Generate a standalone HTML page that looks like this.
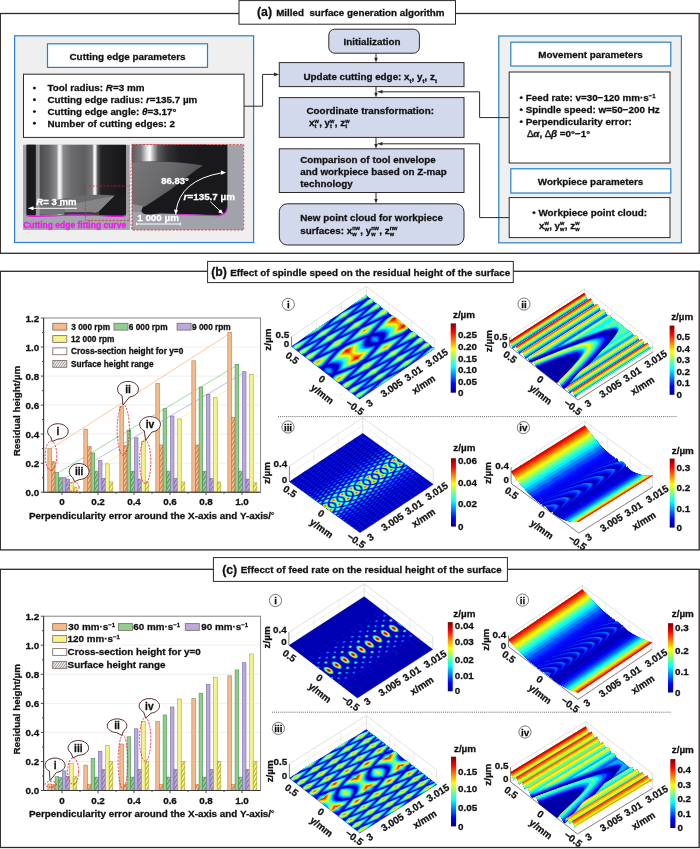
<!DOCTYPE html><html><head><meta charset="utf-8"><title>Milled surface generation</title><style>html,body{margin:0;padding:0;background:#fff}svg{display:block}text{font-family:"Liberation Sans",sans-serif}</style></head><body>
<svg width="700" height="849" viewBox="0 0 700 849">
<rect width="700" height="849" fill="#fff"/>
<rect x="0.3" y="13.5" width="698.9" height="239.8" fill="#fff" stroke="#2e2828" stroke-width="1.3"/>
<rect x="239" y="0.6" width="216.5" height="23.6" fill="#fff" stroke="#2e2828" stroke-width="1"/>
<text x="257" y="16.3" font-size="12.3" text-anchor="start" fill="#111" font-weight="bold"  stroke="#111" stroke-width="0.28">(a)</text>
<text x="276.2" y="16" font-size="9.8" text-anchor="start" fill="#111" font-weight="bold"  stroke="#111" stroke-width="0.28">Milled&#160; surface generation algorithm</text>
<rect x="14.6" y="35.8" width="239" height="206.7" fill="#efeff0" stroke="#2a7fc0" stroke-width="1.2"/>
<rect x="47.5" y="43.8" width="160" height="23.6" fill="#fff" stroke="#2a7fc0" stroke-width="1.2"/>
<text x="127.5" y="60" font-size="9.85" text-anchor="middle" fill="#111" font-weight="bold"  stroke="#111" stroke-width="0.28">Cutting edge parameters</text>
<rect x="23.5" y="74.2" width="220.5" height="63.2" fill="#fff" stroke="#2e2828" stroke-width="1"/>
<circle cx="34.4" cy="88.10000000000001" r="1.45" fill="#111"/>
<text x="47.5" y="91.4" font-size="9.85" text-anchor="start" fill="#111" font-weight="bold"  stroke="#111" stroke-width="0.28">Tool radius: <tspan font-style="italic">R</tspan>=3 mm</text>
<circle cx="34.4" cy="99.8" r="1.45" fill="#111"/>
<text x="47.5" y="103.1" font-size="9.85" text-anchor="start" fill="#111" font-weight="bold"  stroke="#111" stroke-width="0.28">Cutting edge radius: <tspan font-style="italic">r</tspan>=135.7 µm</text>
<circle cx="34.4" cy="111.60000000000001" r="1.45" fill="#111"/>
<text x="47.5" y="114.9" font-size="9.85" text-anchor="start" fill="#111" font-weight="bold"  stroke="#111" stroke-width="0.28">Cutting edge angle: <tspan font-style="italic">θ</tspan>=3.17°</text>
<circle cx="34.4" cy="123.3" r="1.45" fill="#111"/>
<text x="47.5" y="126.6" font-size="9.85" text-anchor="start" fill="#111" font-weight="bold"  stroke="#111" stroke-width="0.28">Number of cutting edges: 2</text>
<rect x="328.8" y="29.2" width="90.6" height="24" rx="6" fill="#d2d9ec" stroke="#2e2828" stroke-width="1"/>
<text x="372" y="44.6" font-size="9.85" text-anchor="middle" fill="#111" font-weight="bold"  stroke="#111" stroke-width="0.28">Initialization</text>
<rect x="279.3" y="62.6" width="184.7" height="24" rx="0" fill="#d2d9ec" stroke="#2e2828" stroke-width="1"/>
<text x="303.5" y="80.2" font-size="9.85" text-anchor="start" fill="#111" font-weight="bold"  stroke="#111" stroke-width="0.28">Update cutting edge: x<tspan dy="2.7" font-size="6">t</tspan><tspan dy="-2.7">, y</tspan><tspan dy="2.7" font-size="6">t</tspan><tspan dy="-2.7">, z</tspan><tspan dy="2.7" font-size="6">t</tspan></text>
<rect x="279.3" y="97.6" width="184.7" height="39.8" rx="0" fill="#d2d9ec" stroke="#2e2828" stroke-width="1"/>
<text x="306.5" y="113.6" font-size="9.85" text-anchor="start" fill="#111" font-weight="bold"  stroke="#111" stroke-width="0.28">Coordinate transformation:</text>
<text x="309" y="126.2" font-size="9.85" text-anchor="start" fill="#111" font-weight="bold"  stroke="#111" stroke-width="0.28">x<tspan dy="-3.4" font-size="5.6">w</tspan><tspan dx="-4.36" dy="5.4" font-size="5.6">t</tspan><tspan dx="2.79" dy="-2">, y</tspan><tspan dy="-3.4" font-size="5.6">w</tspan><tspan dx="-4.36" dy="5.4" font-size="5.6">t</tspan><tspan dx="2.79" dy="-2">, z</tspan><tspan dy="-3.4" font-size="5.6">w</tspan><tspan dx="-4.36" dy="5.4" font-size="5.6">t</tspan></text>
<rect x="279.3" y="148.8" width="184.7" height="43.7" rx="0" fill="#d2d9ec" stroke="#2e2828" stroke-width="1"/>
<text x="300.2" y="163" font-size="9.85" text-anchor="start" fill="#111" font-weight="bold"  stroke="#111" stroke-width="0.28">Comparison of tool envelope</text>
<text x="300.2" y="174.8" font-size="9.85" text-anchor="start" fill="#111" font-weight="bold"  stroke="#111" stroke-width="0.28">and workpiece based on Z-map</text>
<text x="300.2" y="186.6" font-size="9.85" text-anchor="start" fill="#111" font-weight="bold"  stroke="#111" stroke-width="0.28">technology</text>
<rect x="279.3" y="203.8" width="184.7" height="41.2" rx="8" fill="#d2d9ec" stroke="#2e2828" stroke-width="1"/>
<text x="300.2" y="221" font-size="9.85" text-anchor="start" fill="#111" font-weight="bold"  stroke="#111" stroke-width="0.28">New point cloud for workpiece</text>
<text x="300.2" y="233.6" font-size="9.85" text-anchor="start" fill="#111" font-weight="bold"  stroke="#111" stroke-width="0.28">surfaces: x<tspan dy="-3.4" font-size="5.6">nw</tspan><tspan dx="-7.78" dy="5.4" font-size="5.6">w</tspan><tspan dx="3.72" dy="-2">, y</tspan><tspan dy="-3.4" font-size="5.6">nw</tspan><tspan dx="-7.78" dy="5.4" font-size="5.6">w</tspan><tspan dx="3.72" dy="-2">, z</tspan><tspan dy="-3.4" font-size="5.6">nw</tspan><tspan dx="-7.78" dy="5.4" font-size="5.6">w</tspan></text>
<path d="M376 53.2V59.4" stroke="#2e2828" stroke-width="1" fill="none"/>
<path d="M374.2 57.8L376 62.4L377.8 57.8Z" fill="#2e2828"/>
<path d="M376 86.6V94.4" stroke="#2e2828" stroke-width="1" fill="none"/>
<path d="M374.2 92.80000000000001L376 97.4L377.8 92.80000000000001Z" fill="#2e2828"/>
<path d="M376 137.4V145.6" stroke="#2e2828" stroke-width="1" fill="none"/>
<path d="M374.2 144.0L376 148.6L377.8 144.0Z" fill="#2e2828"/>
<path d="M376 192.5V200.6" stroke="#2e2828" stroke-width="1" fill="none"/>
<path d="M374.2 199.0L376 203.6L377.8 199.0Z" fill="#2e2828"/>
<path d="M244 106.2H262.6V74.4H275" stroke="#2e2828" stroke-width="1" fill="none"/>
<path d="M274 72.6L279.2 74.4L274 76.2Z" fill="#2e2828"/>
<rect x="498.8" y="36" width="182.6" height="206.8" fill="#efeff0" stroke="#2a7fc0" stroke-width="1.2"/>
<rect x="510.8" y="42.2" width="160" height="23.8" fill="#fff" stroke="#2a7fc0" stroke-width="1.2"/>
<text x="590.5" y="57.8" font-size="9.85" text-anchor="middle" fill="#111" font-weight="bold"  stroke="#111" stroke-width="0.28">Movement parameters</text>
<rect x="509.2" y="72" width="160.8" height="91" fill="#fff" stroke="#2e2828" stroke-width="1"/>
<text x="519.5" y="101" font-size="9.85" text-anchor="start" fill="#111" font-weight="bold"  stroke="#111" stroke-width="0.28">• Feed rate: v=30−120 mm·s<tspan dy="-3.2" font-size="6">−1</tspan></text>
<text x="519.5" y="113" font-size="9.85" text-anchor="start" fill="#111" font-weight="bold"  stroke="#111" stroke-width="0.28">• Spindle speed: w=50−200 Hz</text>
<text x="519.5" y="125" font-size="9.85" text-anchor="start" fill="#111" font-weight="bold"  stroke="#111" stroke-width="0.28">• Perpendicularity error:</text>
<text x="527.3" y="137" font-size="9.85" text-anchor="start" fill="#111" font-weight="bold"  stroke="#111" stroke-width="0.28"><tspan font-weight="normal">∆</tspan><tspan font-style="italic">α</tspan>, <tspan font-weight="normal">∆</tspan><tspan font-style="italic">β</tspan> =0°−1°</text>
<rect x="510.8" y="168.8" width="160" height="24.2" fill="#fff" stroke="#2a7fc0" stroke-width="1.2"/>
<text x="590.5" y="184.6" font-size="9.85" text-anchor="middle" fill="#111" font-weight="bold"  stroke="#111" stroke-width="0.28">Workpiece parameters</text>
<rect x="509.2" y="197.6" width="160.8" height="40" fill="#fff" stroke="#2e2828" stroke-width="1"/>
<text x="532.3" y="216" font-size="9.85" text-anchor="start" fill="#111" font-weight="bold"  stroke="#111" stroke-width="0.28">• Workpiece point cloud:</text>
<text x="539" y="228.6" font-size="9.85" text-anchor="start" fill="#111" font-weight="bold"  stroke="#111" stroke-width="0.28">x<tspan dy="-3.4" font-size="5.6">w</tspan><tspan dx="-4.36" dy="5.4" font-size="5.6">w</tspan><tspan dx="0.30" dy="-2">, y</tspan><tspan dy="-3.4" font-size="5.6">w</tspan><tspan dx="-4.36" dy="5.4" font-size="5.6">w</tspan><tspan dx="0.30" dy="-2">, z</tspan><tspan dy="-3.4" font-size="5.6">w</tspan><tspan dx="-4.36" dy="5.4" font-size="5.6">w</tspan></text>
<path d="M509 117.6H479.6V91.8H381" stroke="#2e2828" stroke-width="1" fill="none"/>
<path d="M382.5 90L377 91.8L382.5 93.6Z" fill="#2e2828"/>
<path d="M509 217.6H479.6V143.8H381" stroke="#2e2828" stroke-width="1" fill="none"/>
<path d="M382.5 142L377 143.8L382.5 145.6Z" fill="#2e2828"/>
<defs>
<linearGradient id="pg1" gradientUnits="userSpaceOnUse" x1="26.6" y1="0" x2="126" y2="0">
<stop offset="0" stop-color="#1b1b1d"/><stop offset="0.085" stop-color="#1d1d1f"/>
<stop offset="0.095" stop-color="#8f8f92"/><stop offset="0.125" stop-color="#a2a2a4"/><stop offset="0.14" stop-color="#4e4e50"/>
<stop offset="0.22" stop-color="#626264"/><stop offset="0.30" stop-color="#8d8d8f"/><stop offset="0.325" stop-color="#f4f4f4"/><stop offset="0.34" stop-color="#f0f0f0"/>
<stop offset="0.37" stop-color="#8a8a8c"/><stop offset="0.45" stop-color="#6c6c6e"/><stop offset="0.58" stop-color="#5e5e60"/><stop offset="0.66" stop-color="#78787a"/>
<stop offset="0.68" stop-color="#fafafa"/><stop offset="0.695" stop-color="#e8e8e8"/><stop offset="0.715" stop-color="#5a5a5c"/><stop offset="0.75" stop-color="#232325"/><stop offset="1" stop-color="#161618"/>
</linearGradient>
<linearGradient id="pg2" gradientUnits="userSpaceOnUse" x1="132" y1="0" x2="205" y2="0">
<stop offset="0" stop-color="#5c5c5e"/><stop offset="0.12" stop-color="#7c7c7e"/><stop offset="0.2" stop-color="#dcdcdc"/><stop offset="0.245" stop-color="#ffffff"/><stop offset="0.29" stop-color="#b4b4b4"/>
<stop offset="0.36" stop-color="#5a5a5c"/><stop offset="0.48" stop-color="#343436"/><stop offset="0.65" stop-color="#1f1f21"/><stop offset="1" stop-color="#19191b"/>
</linearGradient>
<linearGradient id="pg3" gradientUnits="userSpaceOnUse" x1="135" y1="160" x2="190" y2="200">
<stop offset="0" stop-color="#77777a"/><stop offset="0.5" stop-color="#6a6a6c"/><stop offset="1" stop-color="#4a4a4c"/>
</linearGradient>
<clipPath id="pc1"><rect x="23" y="144.6" width="106.8" height="85.4"/></clipPath>
<clipPath id="pc2"><rect x="132" y="144.4" width="111.6" height="85.6"/></clipPath>
</defs>
<g clip-path="url(#pc1)">
<rect x="23" y="144.6" width="106.8" height="85.4" fill="#9d9da6"/>
<rect x="23" y="214" width="106.8" height="16" fill="#a6a6ae"/>
<path d="M26.6 144.6H126V213.5Q126 215.6 123.5 215.6L100 215.2L60 215.4L29 215.6Q26.6 215.6 26.6 213Z" fill="url(#pg1)"/>
<path d="M56 200Q85 193 115 195.5L99 211.5L64.4 212.3V205L40 206V200Z" fill="#6b6b6e"/>
<path d="M64.4 205.5L114.5 195.7L99 211.6L64.4 212.4Z" fill="#858588"/>
<path d="M40 206H64.4V214.6H40Z" fill="#747477"/>
<path d="M64.4 212.3H99L98 215.3H64.4Z" fill="#3a3a3c"/>
<path d="M99 211.5L115 195.5L126 195V215.4H99Z" fill="#1a1a1c"/>
<rect x="26.6" y="144.6" width="9" height="70" fill="#1a1a1c"/>
<path d="M26 214.5Q27 216.6 32 216.4Q55 216.5 70 214.8Q90 214.5 105 216Q120 217 124 216.2Q125.5 216 125.6 214.6" stroke="#e815e8" stroke-width="1.1" fill="none"/>
</g>
<rect x="85.4" y="186" width="44.3" height="34.5" fill="none" stroke="#c8282c" stroke-width="0.8" stroke-dasharray="2.2 1.4" opacity="0.85"/>
<path d="M129.7 186L132.2 144.6M129.7 220.5L132.2 230" stroke="#d4494c" stroke-width="0.6" stroke-dasharray="2 1.4" fill="none"/>
<text x="36.2" y="205" font-size="9.6" text-anchor="start" fill="#fff" font-weight="bold"  stroke="#fff" stroke-width="0.28"><tspan font-style="italic">R</tspan>= 3 mm</text>
<path d="M77 208.3H32" stroke="#fff" stroke-width="1" fill="none"/><path d="M27.8 208.3L33.5 206.3V210.3Z" fill="#fff"/>
<text x="23.2" y="228.2" font-size="8.5" text-anchor="start" fill="#f01af0" font-weight="bold"  stroke="#f01af0" stroke-width="0.28">Cutting edge fitting curve</text>
<g clip-path="url(#pc2)">
<rect x="132" y="144.4" width="111.6" height="85.6" fill="#a2a2ab"/>
<path d="M132 144.4H227.4V207Q227.2 215.2 218 215.6L180 214L160 213.5L150 214.5Q143 215 141 211Q140 207.5 143.5 207L132 208Z" fill="#19191b"/>
<path d="M132 144.4H207V166Q170 160 132 162.2Z" fill="url(#pg2)"/>
<path d="M132 162.2Q170 160 203 165.6L196 170L170 190L145 206.5L132 208.3Z" fill="url(#pg3)"/>
<path d="M132 204L143 206L141 212L132 212Z" fill="#8e8e94"/>
<path d="M177.5 214.4L205 215.2L218 215.6Q227 215 227.4 207" stroke="#e020e0" stroke-width="1.1" fill="none"/>
</g>
<rect x="132" y="144.4" width="111.7" height="85.6" fill="none" stroke="#d03036" stroke-width="0.8" stroke-dasharray="2.2 1.4"/>
<text x="161.3" y="183.6" font-size="9.5" text-anchor="start" fill="#fff" font-weight="bold"  stroke="#fff" stroke-width="0.28">86.83°</text>
<text x="183.6" y="199.8" font-size="9.85" text-anchor="start" fill="#fff" font-weight="bold"  stroke="#fff" stroke-width="0.28"><tspan font-style="italic">r</tspan>=135.7 µm</text>
<text x="137.2" y="221.3" font-size="9.85" text-anchor="start" fill="#fff" font-weight="bold"  stroke="#fff" stroke-width="0.28">1 000 µm</text>
<path d="M136.6 224H180.3M136.6 222.6V225.4M180.3 222.6V225.4" stroke="#fff" stroke-width="1" fill="none"/>
<path d="M176 211.5Q180 180 222 172.8" stroke="#fff" stroke-width="1" fill="none"/>
<path d="M175.7 215L174 209.6L178 209.9Z" fill="#fff"/><path d="M226.2 172.4L220.8 170.6L221.2 174.8Z" fill="#fff"/>
<path d="M210.3 201.7L220.6 211.4" stroke="#fff" stroke-width="1" fill="none"/><path d="M223.3 214L218 212.2L221 209.2Z" fill="#fff"/>
<rect x="0.3" y="271.3" width="698.9" height="278.6" fill="#fff" stroke="#2e2828" stroke-width="1.3"/>
<rect x="207.6" y="261.4" width="305.7" height="21.2" fill="#fff" stroke="#2e2828" stroke-width="1"/>
<text x="211.2" y="276" font-size="12.3" text-anchor="start" fill="#111" font-weight="bold"  stroke="#111" stroke-width="0.28">(b)</text>
<text x="230.2" y="275.6" font-size="9.85" text-anchor="start" fill="#111" font-weight="bold"  stroke="#111" stroke-width="0.28">Effect of spindle speed on the residual height of the surface</text>
<rect x="0.3" y="569.3" width="698.9" height="278.2" fill="#fff" stroke="#2e2828" stroke-width="1.3"/>
<rect x="213.4" y="557.6" width="294" height="23.8" fill="#fff" stroke="#2e2828" stroke-width="1"/>
<text x="222.2" y="573.6" font-size="12.3" text-anchor="start" fill="#111" font-weight="bold"  stroke="#111" stroke-width="0.28">(c)</text>
<text x="240.8" y="573.2" font-size="9.85" text-anchor="start" fill="#111" font-weight="bold"  stroke="#111" stroke-width="0.28">Effecct of feed rate on the residual height of the surface</text>
<defs>
<pattern id="hb0" width="2.9" height="2.9" patternUnits="userSpaceOnUse" patternTransform="rotate(-58)"><rect width="2.9" height="2.9" fill="#f6bb8c"/><rect width="2.9" height="0.85" fill="#b87a4c"/></pattern>
<pattern id="hb1" width="2.9" height="2.9" patternUnits="userSpaceOnUse" patternTransform="rotate(-58)"><rect width="2.9" height="2.9" fill="#90cf90"/><rect width="2.9" height="0.85" fill="#4f8f52"/></pattern>
<pattern id="hb2" width="2.9" height="2.9" patternUnits="userSpaceOnUse" patternTransform="rotate(-58)"><rect width="2.9" height="2.9" fill="#baaadb"/><rect width="2.9" height="0.85" fill="#7c6ca3"/></pattern>
<pattern id="hb3" width="2.9" height="2.9" patternUnits="userSpaceOnUse" patternTransform="rotate(-58)"><rect width="2.9" height="2.9" fill="#f7f38c"/><rect width="2.9" height="0.85" fill="#aaa444"/></pattern>
<pattern id="hbw" width="2" height="2" patternUnits="userSpaceOnUse" patternTransform="rotate(-55)"><rect width="2" height="2" fill="#fff"/><rect width="2" height="0.6" fill="#555"/></pattern>
</defs>
<rect x="43.6" y="318" width="217.00000000000003" height="174.2" fill="#fff"/>
<path d="M43.6 463.2H260.6" stroke="#ebebeb" stroke-width="0.8"/>
<path d="M43.6 434.1H260.6" stroke="#ebebeb" stroke-width="0.8"/>
<path d="M43.6 405.1H260.6" stroke="#ebebeb" stroke-width="0.8"/>
<path d="M43.6 376.1H260.6" stroke="#ebebeb" stroke-width="0.8"/>
<path d="M43.6 347.0H260.6" stroke="#ebebeb" stroke-width="0.8"/>
<path d="M51.1 448.6L231.1 332.5" stroke="#f6bb8c" stroke-width="0.8" fill="none"/>
<path d="M58.4 472.6L238.3 364.5" stroke="#90cf90" stroke-width="0.8" fill="none"/>
<path d="M65.6 477.7L245.6 371.7" stroke="#baaadb" stroke-width="0.8" fill="none"/>
<path d="M72.8 482.8L252.8 374.6" stroke="#f7f38c" stroke-width="0.8" fill="none"/>
<rect x="47.85" y="448.6" width="3.62" height="43.6" fill="#f6bb8c" stroke="#b87a4c" stroke-width="0.6"/>
<rect x="51.47" y="461.7" width="3.62" height="30.5" fill="url(#hb0)" stroke="#b87a4c" stroke-width="0.6"/>
<rect x="55.10" y="472.6" width="3.62" height="19.6" fill="#90cf90" stroke="#4f8f52" stroke-width="0.6"/>
<rect x="58.72" y="477.7" width="3.62" height="14.5" fill="url(#hb1)" stroke="#4f8f52" stroke-width="0.6"/>
<rect x="62.35" y="477.7" width="3.62" height="14.5" fill="#baaadb" stroke="#7c6ca3" stroke-width="0.6"/>
<rect x="65.97" y="479.1" width="3.62" height="13.1" fill="url(#hb2)" stroke="#7c6ca3" stroke-width="0.6"/>
<rect x="69.60" y="482.8" width="3.62" height="9.4" fill="#f7f38c" stroke="#aaa444" stroke-width="0.6"/>
<rect x="73.22" y="487.1" width="3.62" height="5.1" fill="url(#hb3)" stroke="#aaa444" stroke-width="0.6"/>
<rect x="83.85" y="429.1" width="3.62" height="63.1" fill="#f6bb8c" stroke="#b87a4c" stroke-width="0.6"/>
<rect x="87.47" y="446.5" width="3.62" height="45.7" fill="url(#hb0)" stroke="#b87a4c" stroke-width="0.6"/>
<rect x="91.10" y="453.0" width="3.62" height="39.2" fill="#90cf90" stroke="#4f8f52" stroke-width="0.6"/>
<rect x="94.72" y="471.2" width="3.62" height="21.0" fill="url(#hb1)" stroke="#4f8f52" stroke-width="0.6"/>
<rect x="98.35" y="460.3" width="3.62" height="31.9" fill="#baaadb" stroke="#7c6ca3" stroke-width="0.6"/>
<rect x="101.97" y="478.4" width="3.62" height="13.8" fill="url(#hb2)" stroke="#7c6ca3" stroke-width="0.6"/>
<rect x="105.60" y="463.9" width="3.62" height="28.3" fill="#f7f38c" stroke="#aaa444" stroke-width="0.6"/>
<rect x="109.22" y="482.0" width="3.62" height="10.2" fill="url(#hb3)" stroke="#aaa444" stroke-width="0.6"/>
<rect x="119.85" y="406.6" width="3.62" height="85.6" fill="#f6bb8c" stroke="#b87a4c" stroke-width="0.6"/>
<rect x="123.47" y="445.7" width="3.62" height="46.5" fill="url(#hb0)" stroke="#b87a4c" stroke-width="0.6"/>
<rect x="127.10" y="430.5" width="3.62" height="61.7" fill="#90cf90" stroke="#4f8f52" stroke-width="0.6"/>
<rect x="130.72" y="471.2" width="3.62" height="21.0" fill="url(#hb1)" stroke="#4f8f52" stroke-width="0.6"/>
<rect x="134.35" y="437.8" width="3.62" height="54.4" fill="#baaadb" stroke="#7c6ca3" stroke-width="0.6"/>
<rect x="137.97" y="479.1" width="3.62" height="13.1" fill="url(#hb2)" stroke="#7c6ca3" stroke-width="0.6"/>
<rect x="141.60" y="441.4" width="3.62" height="50.8" fill="#f7f38c" stroke="#aaa444" stroke-width="0.6"/>
<rect x="145.22" y="482.0" width="3.62" height="10.2" fill="url(#hb3)" stroke="#aaa444" stroke-width="0.6"/>
<rect x="155.85" y="383.3" width="3.62" height="108.9" fill="#f6bb8c" stroke="#b87a4c" stroke-width="0.6"/>
<rect x="159.47" y="445.0" width="3.62" height="47.2" fill="url(#hb0)" stroke="#b87a4c" stroke-width="0.6"/>
<rect x="163.10" y="408.7" width="3.62" height="83.5" fill="#90cf90" stroke="#4f8f52" stroke-width="0.6"/>
<rect x="166.72" y="471.2" width="3.62" height="21.0" fill="url(#hb1)" stroke="#4f8f52" stroke-width="0.6"/>
<rect x="170.35" y="416.0" width="3.62" height="76.2" fill="#baaadb" stroke="#7c6ca3" stroke-width="0.6"/>
<rect x="173.97" y="478.4" width="3.62" height="13.8" fill="url(#hb2)" stroke="#7c6ca3" stroke-width="0.6"/>
<rect x="177.60" y="418.9" width="3.62" height="73.3" fill="#f7f38c" stroke="#aaa444" stroke-width="0.6"/>
<rect x="181.22" y="482.0" width="3.62" height="10.2" fill="url(#hb3)" stroke="#aaa444" stroke-width="0.6"/>
<rect x="191.85" y="360.8" width="3.62" height="131.4" fill="#f6bb8c" stroke="#b87a4c" stroke-width="0.6"/>
<rect x="195.47" y="445.0" width="3.62" height="47.2" fill="url(#hb0)" stroke="#b87a4c" stroke-width="0.6"/>
<rect x="199.10" y="387.0" width="3.62" height="105.2" fill="#90cf90" stroke="#4f8f52" stroke-width="0.6"/>
<rect x="202.72" y="471.2" width="3.62" height="21.0" fill="url(#hb1)" stroke="#4f8f52" stroke-width="0.6"/>
<rect x="206.35" y="394.2" width="3.62" height="98.0" fill="#baaadb" stroke="#7c6ca3" stroke-width="0.6"/>
<rect x="209.97" y="478.4" width="3.62" height="13.8" fill="url(#hb2)" stroke="#7c6ca3" stroke-width="0.6"/>
<rect x="213.60" y="397.8" width="3.62" height="94.4" fill="#f7f38c" stroke="#aaa444" stroke-width="0.6"/>
<rect x="217.22" y="482.0" width="3.62" height="10.2" fill="url(#hb3)" stroke="#aaa444" stroke-width="0.6"/>
<rect x="227.85" y="332.5" width="3.62" height="159.7" fill="#f6bb8c" stroke="#b87a4c" stroke-width="0.6"/>
<rect x="231.47" y="417.4" width="3.62" height="74.8" fill="url(#hb0)" stroke="#b87a4c" stroke-width="0.6"/>
<rect x="235.10" y="364.5" width="3.62" height="127.7" fill="#90cf90" stroke="#4f8f52" stroke-width="0.6"/>
<rect x="238.72" y="471.2" width="3.62" height="21.0" fill="url(#hb1)" stroke="#4f8f52" stroke-width="0.6"/>
<rect x="242.35" y="371.7" width="3.62" height="120.5" fill="#baaadb" stroke="#7c6ca3" stroke-width="0.6"/>
<rect x="245.97" y="479.1" width="3.62" height="13.1" fill="url(#hb2)" stroke="#7c6ca3" stroke-width="0.6"/>
<rect x="249.60" y="374.6" width="3.62" height="117.6" fill="#f7f38c" stroke="#aaa444" stroke-width="0.6"/>
<rect x="253.22" y="482.8" width="3.62" height="9.4" fill="url(#hb3)" stroke="#aaa444" stroke-width="0.6"/>
<rect x="43.6" y="318" width="217.00000000000003" height="174.2" fill="none" stroke="#7a7a7a" stroke-width="0.9"/>
<path d="M43.6 318V492.2H260.6" fill="none" stroke="#3c3c3c" stroke-width="1.1"/>
<path d="M43.6 492.2h-2.8" stroke="#3c3c3c" stroke-width="0.9"/>
<path d="M43.6 477.7h-1.6" stroke="#3c3c3c" stroke-width="0.9"/>
<path d="M43.6 463.2h-2.8" stroke="#3c3c3c" stroke-width="0.9"/>
<path d="M43.6 448.6h-1.6" stroke="#3c3c3c" stroke-width="0.9"/>
<path d="M43.6 434.1h-2.8" stroke="#3c3c3c" stroke-width="0.9"/>
<path d="M43.6 419.6h-1.6" stroke="#3c3c3c" stroke-width="0.9"/>
<path d="M43.6 405.1h-2.8" stroke="#3c3c3c" stroke-width="0.9"/>
<path d="M43.6 390.6h-1.6" stroke="#3c3c3c" stroke-width="0.9"/>
<path d="M43.6 376.1h-2.8" stroke="#3c3c3c" stroke-width="0.9"/>
<path d="M43.6 361.5h-1.6" stroke="#3c3c3c" stroke-width="0.9"/>
<path d="M43.6 347.0h-2.8" stroke="#3c3c3c" stroke-width="0.9"/>
<path d="M43.6 332.5h-1.6" stroke="#3c3c3c" stroke-width="0.9"/>
<path d="M43.6 318.0h-2.8" stroke="#3c3c3c" stroke-width="0.9"/>
<path d="M62 492.2v2.8" stroke="#3c3c3c" stroke-width="0.9"/>
<path d="M80 492.2v1.6" stroke="#3c3c3c" stroke-width="0.9"/>
<path d="M98 492.2v2.8" stroke="#3c3c3c" stroke-width="0.9"/>
<path d="M116 492.2v1.6" stroke="#3c3c3c" stroke-width="0.9"/>
<path d="M134 492.2v2.8" stroke="#3c3c3c" stroke-width="0.9"/>
<path d="M152 492.2v1.6" stroke="#3c3c3c" stroke-width="0.9"/>
<path d="M170 492.2v2.8" stroke="#3c3c3c" stroke-width="0.9"/>
<path d="M188 492.2v1.6" stroke="#3c3c3c" stroke-width="0.9"/>
<path d="M206 492.2v2.8" stroke="#3c3c3c" stroke-width="0.9"/>
<path d="M224 492.2v1.6" stroke="#3c3c3c" stroke-width="0.9"/>
<path d="M242 492.2v2.8" stroke="#3c3c3c" stroke-width="0.9"/>
<text x="39.3" y="495.7" font-size="9.85" text-anchor="end" fill="#111" font-weight="bold"  stroke="#111" stroke-width="0.28">0.0</text>
<text x="39.3" y="466.66666666666663" font-size="9.85" text-anchor="end" fill="#111" font-weight="bold"  stroke="#111" stroke-width="0.28">0.2</text>
<text x="39.3" y="437.6333333333333" font-size="9.85" text-anchor="end" fill="#111" font-weight="bold"  stroke="#111" stroke-width="0.28">0.4</text>
<text x="39.3" y="408.59999999999997" font-size="9.85" text-anchor="end" fill="#111" font-weight="bold"  stroke="#111" stroke-width="0.28">0.6</text>
<text x="39.3" y="379.56666666666666" font-size="9.85" text-anchor="end" fill="#111" font-weight="bold"  stroke="#111" stroke-width="0.28">0.8</text>
<text x="39.3" y="350.5333333333333" font-size="9.85" text-anchor="end" fill="#111" font-weight="bold"  stroke="#111" stroke-width="0.28">1.0</text>
<text x="39.3" y="321.5" font-size="9.85" text-anchor="end" fill="#111" font-weight="bold"  stroke="#111" stroke-width="0.28">1.2</text>
<text x="62" y="505.2" font-size="9.85" text-anchor="middle" fill="#111" font-weight="bold"  stroke="#111" stroke-width="0.28">0</text>
<text x="98" y="505.2" font-size="9.85" text-anchor="middle" fill="#111" font-weight="bold"  stroke="#111" stroke-width="0.28">0.2</text>
<text x="134" y="505.2" font-size="9.85" text-anchor="middle" fill="#111" font-weight="bold"  stroke="#111" stroke-width="0.28">0.4</text>
<text x="170" y="505.2" font-size="9.85" text-anchor="middle" fill="#111" font-weight="bold"  stroke="#111" stroke-width="0.28">0.6</text>
<text x="206" y="505.2" font-size="9.85" text-anchor="middle" fill="#111" font-weight="bold"  stroke="#111" stroke-width="0.28">0.8</text>
<text x="242" y="505.2" font-size="9.85" text-anchor="middle" fill="#111" font-weight="bold"  stroke="#111" stroke-width="0.28">1.0</text>
<text x="151.5" y="518.8" font-size="9.85" text-anchor="middle" fill="#111" font-weight="bold"  stroke="#111" stroke-width="0.28">Perpendicularity error around the X-axis and Y-axis/<tspan font-size="7.5" dy="-1">°</tspan></text>
<text transform="translate(20.2,411.1) rotate(-90)" font-size="9.85" text-anchor="middle" font-weight="bold" fill="#111" stroke="#111" stroke-width="0.28">Residual height/µm</text>
<rect x="52.8" y="323.3" width="14" height="6.8" fill="#f6bb8c" stroke="#85756a" stroke-width="0.9"/>
<text x="71.3" y="329.7" font-size="8.3" text-anchor="start" fill="#111" font-weight="bold"  stroke="#111" stroke-width="0.28">3 000 rpm</text>
<rect x="114" y="323.3" width="14" height="6.8" fill="#90cf90" stroke="#85756a" stroke-width="0.9"/>
<text x="128.8" y="329.7" font-size="8.3" text-anchor="start" fill="#111" font-weight="bold"  stroke="#111" stroke-width="0.28">6 000 rpm</text>
<rect x="177.1" y="323.3" width="14" height="6.8" fill="#baaadb" stroke="#85756a" stroke-width="0.9"/>
<text x="192" y="329.7" font-size="8.3" text-anchor="start" fill="#111" font-weight="bold"  stroke="#111" stroke-width="0.28">9 000 rpm</text>
<rect x="52.8" y="335.6" width="14" height="6.8" fill="#f7f38c" stroke="#85756a" stroke-width="0.9"/>
<text x="71" y="342" font-size="8.3" text-anchor="start" fill="#111" font-weight="bold"  stroke="#111" stroke-width="0.28">12 000 rpm</text>
<rect x="52.8" y="347.90000000000003" width="14" height="6.8" fill="#fff" stroke="#85756a" stroke-width="0.9"/>
<text x="71" y="354.3" font-size="8.3" text-anchor="start" fill="#111" font-weight="bold"  stroke="#111" stroke-width="0.28">Cross-section height for y=0</text>
<rect x="52.8" y="360.5" width="14" height="6.8" fill="url(#hbw)" stroke="#85756a" stroke-width="0.9"/>
<text x="71" y="366.9" font-size="8.3" text-anchor="start" fill="#111" font-weight="bold"  stroke="#111" stroke-width="0.28">Surface height range</text>
<ellipse cx="51" cy="455.7" rx="5.8" ry="14.7" fill="none" stroke="#e8262a" stroke-width="0.9" stroke-dasharray="2 1.3"/>
<path d="M57.8 439.1A10.3 7.7 0 1 0 50.7 436.9L52.3 441.4Z" fill="#fff" stroke="#5a2f2f" stroke-width="1" stroke-linejoin="round"/>
<text x="58" y="435.0" font-size="10.2" text-anchor="middle" fill="#111" font-weight="bold"  stroke="#111" stroke-width="0.28">i</text>
<ellipse cx="74" cy="487" rx="5.1" ry="5.1" fill="none" stroke="#e8262a" stroke-width="0.9" stroke-dasharray="2 1.3"/>
<path d="M79.5 479.5A9.9 8 0 1 0 72.6 477.5L74.6 481.7Z" fill="#fff" stroke="#5a2f2f" stroke-width="1" stroke-linejoin="round"/>
<text x="79.2" y="475.1" font-size="10.2" text-anchor="middle" fill="#111" font-weight="bold"  stroke="#111" stroke-width="0.28">iii</text>
<ellipse cx="123.3" cy="430" rx="6.1" ry="25.4" fill="none" stroke="#e8262a" stroke-width="0.9" stroke-dasharray="2 1.3"/>
<path d="M129.6 396.9A10.5 7.8 0 1 0 122.0 395.6L123 405Z" fill="#fff" stroke="#5a2f2f" stroke-width="1" stroke-linejoin="round"/>
<text x="128.1" y="392.8" font-size="10.2" text-anchor="middle" fill="#111" font-weight="bold"  stroke="#111" stroke-width="0.28">ii</text>
<ellipse cx="145.2" cy="461.6" rx="5.6" ry="21.7" fill="none" stroke="#e8262a" stroke-width="0.9" stroke-dasharray="2 1.3"/>
<path d="M151.8 432.1A10.4 7.8 0 1 0 144.3 430.9L145.6 440.4Z" fill="#fff" stroke="#5a2f2f" stroke-width="1" stroke-linejoin="round"/>
<text x="150" y="428.0" font-size="10.2" text-anchor="middle" fill="#111" font-weight="bold"  stroke="#111" stroke-width="0.28">iv</text>
<defs>
<pattern id="hc0" width="2.9" height="2.9" patternUnits="userSpaceOnUse" patternTransform="rotate(-58)"><rect width="2.9" height="2.9" fill="#f6bb8c"/><rect width="2.9" height="0.85" fill="#b87a4c"/></pattern>
<pattern id="hc1" width="2.9" height="2.9" patternUnits="userSpaceOnUse" patternTransform="rotate(-58)"><rect width="2.9" height="2.9" fill="#90cf90"/><rect width="2.9" height="0.85" fill="#4f8f52"/></pattern>
<pattern id="hc2" width="2.9" height="2.9" patternUnits="userSpaceOnUse" patternTransform="rotate(-58)"><rect width="2.9" height="2.9" fill="#baaadb"/><rect width="2.9" height="0.85" fill="#7c6ca3"/></pattern>
<pattern id="hc3" width="2.9" height="2.9" patternUnits="userSpaceOnUse" patternTransform="rotate(-58)"><rect width="2.9" height="2.9" fill="#f7f38c"/><rect width="2.9" height="0.85" fill="#aaa444"/></pattern>
<pattern id="hcw" width="2" height="2" patternUnits="userSpaceOnUse" patternTransform="rotate(-55)"><rect width="2" height="2" fill="#fff"/><rect width="2" height="0.6" fill="#555"/></pattern>
</defs>
<rect x="43.6" y="616.2" width="217.00000000000003" height="174.29999999999995" fill="#fff"/>
<path d="M43.6 761.5H260.6" stroke="#ebebeb" stroke-width="0.8"/>
<path d="M43.6 732.4H260.6" stroke="#ebebeb" stroke-width="0.8"/>
<path d="M43.6 703.4H260.6" stroke="#ebebeb" stroke-width="0.8"/>
<path d="M43.6 674.3H260.6" stroke="#ebebeb" stroke-width="0.8"/>
<path d="M43.6 645.2H260.6" stroke="#ebebeb" stroke-width="0.8"/>
<rect x="47.85" y="784.0" width="3.62" height="6.5" fill="#f6bb8c" stroke="#b87a4c" stroke-width="0.6"/>
<rect x="51.47" y="784.7" width="3.62" height="5.8" fill="url(#hc0)" stroke="#b87a4c" stroke-width="0.6"/>
<rect x="55.10" y="776.7" width="3.62" height="13.8" fill="#90cf90" stroke="#4f8f52" stroke-width="0.6"/>
<rect x="58.72" y="777.7" width="3.62" height="12.8" fill="url(#hc1)" stroke="#4f8f52" stroke-width="0.6"/>
<rect x="62.35" y="770.9" width="3.62" height="19.6" fill="#baaadb" stroke="#7c6ca3" stroke-width="0.6"/>
<rect x="65.97" y="776.3" width="3.62" height="14.2" fill="url(#hc2)" stroke="#7c6ca3" stroke-width="0.6"/>
<rect x="69.60" y="763.5" width="3.62" height="27.0" fill="#f7f38c" stroke="#aaa444" stroke-width="0.6"/>
<rect x="73.22" y="776.8" width="3.62" height="13.7" fill="url(#hc3)" stroke="#aaa444" stroke-width="0.6"/>
<rect x="83.85" y="765.1" width="3.62" height="25.4" fill="#f6bb8c" stroke="#b87a4c" stroke-width="0.6"/>
<rect x="87.47" y="784.7" width="3.62" height="5.8" fill="url(#hc0)" stroke="#b87a4c" stroke-width="0.6"/>
<rect x="91.10" y="758.5" width="3.62" height="32.0" fill="#90cf90" stroke="#4f8f52" stroke-width="0.6"/>
<rect x="94.72" y="777.1" width="3.62" height="13.4" fill="url(#hc1)" stroke="#4f8f52" stroke-width="0.6"/>
<rect x="98.35" y="751.3" width="3.62" height="39.2" fill="#baaadb" stroke="#7c6ca3" stroke-width="0.6"/>
<rect x="101.97" y="769.4" width="3.62" height="21.1" fill="url(#hc2)" stroke="#7c6ca3" stroke-width="0.6"/>
<rect x="105.60" y="745.5" width="3.62" height="45.0" fill="#f7f38c" stroke="#aaa444" stroke-width="0.6"/>
<rect x="109.22" y="761.5" width="3.62" height="29.0" fill="url(#hc3)" stroke="#aaa444" stroke-width="0.6"/>
<rect x="119.85" y="744.0" width="3.62" height="46.5" fill="#f6bb8c" stroke="#b87a4c" stroke-width="0.6"/>
<rect x="123.47" y="784.7" width="3.62" height="5.8" fill="url(#hc0)" stroke="#b87a4c" stroke-width="0.6"/>
<rect x="127.10" y="736.8" width="3.62" height="53.7" fill="#90cf90" stroke="#4f8f52" stroke-width="0.6"/>
<rect x="130.72" y="777.1" width="3.62" height="13.4" fill="url(#hc1)" stroke="#4f8f52" stroke-width="0.6"/>
<rect x="134.35" y="728.8" width="3.62" height="61.7" fill="#baaadb" stroke="#7c6ca3" stroke-width="0.6"/>
<rect x="137.97" y="769.4" width="3.62" height="21.1" fill="url(#hc2)" stroke="#7c6ca3" stroke-width="0.6"/>
<rect x="141.60" y="721.5" width="3.62" height="69.0" fill="#f7f38c" stroke="#aaa444" stroke-width="0.6"/>
<rect x="145.22" y="761.5" width="3.62" height="29.0" fill="url(#hc3)" stroke="#aaa444" stroke-width="0.6"/>
<rect x="155.85" y="721.5" width="3.62" height="69.0" fill="#f6bb8c" stroke="#b87a4c" stroke-width="0.6"/>
<rect x="159.47" y="784.7" width="3.62" height="5.8" fill="url(#hc0)" stroke="#b87a4c" stroke-width="0.6"/>
<rect x="163.10" y="715.0" width="3.62" height="75.5" fill="#90cf90" stroke="#4f8f52" stroke-width="0.6"/>
<rect x="166.72" y="777.1" width="3.62" height="13.4" fill="url(#hc1)" stroke="#4f8f52" stroke-width="0.6"/>
<rect x="170.35" y="707.0" width="3.62" height="83.5" fill="#baaadb" stroke="#7c6ca3" stroke-width="0.6"/>
<rect x="173.97" y="769.4" width="3.62" height="21.1" fill="url(#hc2)" stroke="#7c6ca3" stroke-width="0.6"/>
<rect x="177.60" y="699.0" width="3.62" height="91.5" fill="#f7f38c" stroke="#aaa444" stroke-width="0.6"/>
<rect x="181.22" y="761.5" width="3.62" height="29.0" fill="url(#hc3)" stroke="#aaa444" stroke-width="0.6"/>
<rect x="191.85" y="698.3" width="3.62" height="92.2" fill="#f6bb8c" stroke="#b87a4c" stroke-width="0.6"/>
<rect x="195.47" y="784.7" width="3.62" height="5.8" fill="url(#hc0)" stroke="#b87a4c" stroke-width="0.6"/>
<rect x="199.10" y="693.2" width="3.62" height="97.3" fill="#90cf90" stroke="#4f8f52" stroke-width="0.6"/>
<rect x="202.72" y="777.1" width="3.62" height="13.4" fill="url(#hc1)" stroke="#4f8f52" stroke-width="0.6"/>
<rect x="206.35" y="684.5" width="3.62" height="106.0" fill="#baaadb" stroke="#7c6ca3" stroke-width="0.6"/>
<rect x="209.97" y="769.4" width="3.62" height="21.1" fill="url(#hc2)" stroke="#7c6ca3" stroke-width="0.6"/>
<rect x="213.60" y="677.2" width="3.62" height="113.3" fill="#f7f38c" stroke="#aaa444" stroke-width="0.6"/>
<rect x="217.22" y="761.5" width="3.62" height="29.0" fill="url(#hc3)" stroke="#aaa444" stroke-width="0.6"/>
<rect x="227.85" y="675.8" width="3.62" height="114.7" fill="#f6bb8c" stroke="#b87a4c" stroke-width="0.6"/>
<rect x="231.47" y="784.7" width="3.62" height="5.8" fill="url(#hc0)" stroke="#b87a4c" stroke-width="0.6"/>
<rect x="235.10" y="669.9" width="3.62" height="120.6" fill="#90cf90" stroke="#4f8f52" stroke-width="0.6"/>
<rect x="238.72" y="777.1" width="3.62" height="13.4" fill="url(#hc1)" stroke="#4f8f52" stroke-width="0.6"/>
<rect x="242.35" y="662.7" width="3.62" height="127.8" fill="#baaadb" stroke="#7c6ca3" stroke-width="0.6"/>
<rect x="245.97" y="769.4" width="3.62" height="21.1" fill="url(#hc2)" stroke="#7c6ca3" stroke-width="0.6"/>
<rect x="249.60" y="654.0" width="3.62" height="136.5" fill="#f7f38c" stroke="#aaa444" stroke-width="0.6"/>
<rect x="253.22" y="761.5" width="3.62" height="29.0" fill="url(#hc3)" stroke="#aaa444" stroke-width="0.6"/>
<rect x="43.6" y="616.2" width="217.00000000000003" height="174.29999999999995" fill="none" stroke="#7a7a7a" stroke-width="0.9"/>
<path d="M43.6 616.2V790.5H260.6" fill="none" stroke="#3c3c3c" stroke-width="1.1"/>
<path d="M43.6 790.5h-2.8" stroke="#3c3c3c" stroke-width="0.9"/>
<path d="M43.6 776.0h-1.6" stroke="#3c3c3c" stroke-width="0.9"/>
<path d="M43.6 761.5h-2.8" stroke="#3c3c3c" stroke-width="0.9"/>
<path d="M43.6 746.9h-1.6" stroke="#3c3c3c" stroke-width="0.9"/>
<path d="M43.6 732.4h-2.8" stroke="#3c3c3c" stroke-width="0.9"/>
<path d="M43.6 717.9h-1.6" stroke="#3c3c3c" stroke-width="0.9"/>
<path d="M43.6 703.4h-2.8" stroke="#3c3c3c" stroke-width="0.9"/>
<path d="M43.6 688.8h-1.6" stroke="#3c3c3c" stroke-width="0.9"/>
<path d="M43.6 674.3h-2.8" stroke="#3c3c3c" stroke-width="0.9"/>
<path d="M43.6 659.8h-1.6" stroke="#3c3c3c" stroke-width="0.9"/>
<path d="M43.6 645.2h-2.8" stroke="#3c3c3c" stroke-width="0.9"/>
<path d="M43.6 630.7h-1.6" stroke="#3c3c3c" stroke-width="0.9"/>
<path d="M43.6 616.2h-2.8" stroke="#3c3c3c" stroke-width="0.9"/>
<path d="M62 790.5v2.8" stroke="#3c3c3c" stroke-width="0.9"/>
<path d="M80 790.5v1.6" stroke="#3c3c3c" stroke-width="0.9"/>
<path d="M98 790.5v2.8" stroke="#3c3c3c" stroke-width="0.9"/>
<path d="M116 790.5v1.6" stroke="#3c3c3c" stroke-width="0.9"/>
<path d="M134 790.5v2.8" stroke="#3c3c3c" stroke-width="0.9"/>
<path d="M152 790.5v1.6" stroke="#3c3c3c" stroke-width="0.9"/>
<path d="M170 790.5v2.8" stroke="#3c3c3c" stroke-width="0.9"/>
<path d="M188 790.5v1.6" stroke="#3c3c3c" stroke-width="0.9"/>
<path d="M206 790.5v2.8" stroke="#3c3c3c" stroke-width="0.9"/>
<path d="M224 790.5v1.6" stroke="#3c3c3c" stroke-width="0.9"/>
<path d="M242 790.5v2.8" stroke="#3c3c3c" stroke-width="0.9"/>
<text x="39.3" y="794.0" font-size="9.85" text-anchor="end" fill="#111" font-weight="bold"  stroke="#111" stroke-width="0.28">0.0</text>
<text x="39.3" y="764.95" font-size="9.85" text-anchor="end" fill="#111" font-weight="bold"  stroke="#111" stroke-width="0.28">0.2</text>
<text x="39.3" y="735.9" font-size="9.85" text-anchor="end" fill="#111" font-weight="bold"  stroke="#111" stroke-width="0.28">0.4</text>
<text x="39.3" y="706.85" font-size="9.85" text-anchor="end" fill="#111" font-weight="bold"  stroke="#111" stroke-width="0.28">0.6</text>
<text x="39.3" y="677.8000000000001" font-size="9.85" text-anchor="end" fill="#111" font-weight="bold"  stroke="#111" stroke-width="0.28">0.8</text>
<text x="39.3" y="648.75" font-size="9.85" text-anchor="end" fill="#111" font-weight="bold"  stroke="#111" stroke-width="0.28">1.0</text>
<text x="39.3" y="619.7" font-size="9.85" text-anchor="end" fill="#111" font-weight="bold"  stroke="#111" stroke-width="0.28">1.2</text>
<text x="62" y="803.5" font-size="9.85" text-anchor="middle" fill="#111" font-weight="bold"  stroke="#111" stroke-width="0.28">0</text>
<text x="98" y="803.5" font-size="9.85" text-anchor="middle" fill="#111" font-weight="bold"  stroke="#111" stroke-width="0.28">0.2</text>
<text x="134" y="803.5" font-size="9.85" text-anchor="middle" fill="#111" font-weight="bold"  stroke="#111" stroke-width="0.28">0.4</text>
<text x="170" y="803.5" font-size="9.85" text-anchor="middle" fill="#111" font-weight="bold"  stroke="#111" stroke-width="0.28">0.6</text>
<text x="206" y="803.5" font-size="9.85" text-anchor="middle" fill="#111" font-weight="bold"  stroke="#111" stroke-width="0.28">0.8</text>
<text x="242" y="803.5" font-size="9.85" text-anchor="middle" fill="#111" font-weight="bold"  stroke="#111" stroke-width="0.28">1.0</text>
<text x="151.5" y="817.1" font-size="9.85" text-anchor="middle" fill="#111" font-weight="bold"  stroke="#111" stroke-width="0.28">Perpendicularity error around the X-axis and Y-axis/<tspan font-size="7.5" dy="-1">°</tspan></text>
<text transform="translate(20.2,709.35) rotate(-90)" font-size="9.85" text-anchor="middle" font-weight="bold" fill="#111" stroke="#111" stroke-width="0.28">Residual height/µm</text>
<rect x="52.7" y="623.6" width="14" height="6.8" fill="#f6bb8c" stroke="#85756a" stroke-width="0.9"/>
<text x="68.3" y="630" font-size="9.85" text-anchor="start" fill="#111" font-weight="bold"  stroke="#111" stroke-width="0.28">30 mm·s<tspan dy="-3" font-size="6">−1</tspan></text>
<rect x="118.4" y="623.6" width="14" height="6.8" fill="#90cf90" stroke="#85756a" stroke-width="0.9"/>
<text x="133.3" y="630" font-size="9.85" text-anchor="start" fill="#111" font-weight="bold"  stroke="#111" stroke-width="0.28">60 mm·s<tspan dy="-3" font-size="6">−1</tspan></text>
<rect x="185.3" y="623.6" width="14" height="6.8" fill="#baaadb" stroke="#85756a" stroke-width="0.9"/>
<text x="201.3" y="630" font-size="9.85" text-anchor="start" fill="#111" font-weight="bold"  stroke="#111" stroke-width="0.28">90 mm·s<tspan dy="-3" font-size="6">−1</tspan></text>
<rect x="52.7" y="635.6" width="14" height="6.8" fill="#f7f38c" stroke="#85756a" stroke-width="0.9"/>
<text x="67.6" y="642" font-size="9.85" text-anchor="start" fill="#111" font-weight="bold"  stroke="#111" stroke-width="0.28">120 mm·s<tspan dy="-3" font-size="6">−1</tspan></text>
<rect x="52.7" y="648.6" width="14" height="6.8" fill="#fff" stroke="#85756a" stroke-width="0.9"/>
<text x="67.6" y="655" font-size="9.85" text-anchor="start" fill="#111" font-weight="bold"  stroke="#111" stroke-width="0.28">Cross-section height for y=0</text>
<rect x="52.7" y="661.6" width="14" height="6.8" fill="url(#hcw)" stroke="#85756a" stroke-width="0.9"/>
<text x="67.6" y="668" font-size="9.85" text-anchor="start" fill="#111" font-weight="bold"  stroke="#111" stroke-width="0.28">Surface height range</text>
<ellipse cx="50.7" cy="784.3" rx="5.7" ry="3" fill="none" stroke="#e8262a" stroke-width="0.9" stroke-dasharray="2 1.3"/>
<path d="M56.6 772.3A10 7.2 0 1 0 49.4 771.1L50 780.7Z" fill="#fff" stroke="#5a2f2f" stroke-width="1" stroke-linejoin="round"/>
<text x="55.2" y="768.8000000000001" font-size="10.2" text-anchor="middle" fill="#111" font-weight="bold"  stroke="#111" stroke-width="0.28">i</text>
<ellipse cx="73.1" cy="771.1" rx="5.5" ry="13.2" fill="none" stroke="#e8262a" stroke-width="0.9" stroke-dasharray="2 1.3"/>
<path d="M78.4 755.3A10.3 7.4 0 1 0 71.3 753.3L72.9 757.9Z" fill="#fff" stroke="#5a2f2f" stroke-width="1" stroke-linejoin="round"/>
<text x="78.3" y="751.5" font-size="10.2" text-anchor="middle" fill="#111" font-weight="bold"  stroke="#111" stroke-width="0.28">iii</text>
<ellipse cx="122.9" cy="762.1" rx="4.8" ry="26.9" fill="none" stroke="#e8262a" stroke-width="0.9" stroke-dasharray="2 1.3"/>
<path d="M123.5 730.9A9.8 6.9 0 1 0 116.7 732.6L121.9 735.4Z" fill="#fff" stroke="#5a2f2f" stroke-width="1" stroke-linejoin="round"/>
<text x="117.1" y="729.3000000000001" font-size="10.2" text-anchor="middle" fill="#111" font-weight="bold"  stroke="#111" stroke-width="0.28">ii</text>
<ellipse cx="145.2" cy="739.3" rx="5.6" ry="21.7" fill="none" stroke="#e8262a" stroke-width="0.9" stroke-dasharray="2 1.3"/>
<path d="M151.0 713.2A10.2 7.4 0 1 0 143.6 712.0L145.6 718.1Z" fill="#fff" stroke="#5a2f2f" stroke-width="1" stroke-linejoin="round"/>
<text x="149.3" y="709.5" font-size="10.2" text-anchor="middle" fill="#111" font-weight="bold"  stroke="#111" stroke-width="0.28">iv</text>
<path d="M291.5 346.4L366.3 295.9" stroke="#cdcdcd" stroke-width="0.6" fill="none"/>
<path d="M366.3 295.9L434.4 348.6" stroke="#cdcdcd" stroke-width="0.6" fill="none"/>
<path d="M291.5 336.7L366.3 286.2" stroke="#cdcdcd" stroke-width="0.6" fill="none"/>
<path d="M366.3 286.2L434.4 338.9" stroke="#cdcdcd" stroke-width="0.6" fill="none"/>
<path d="M366.3 295.9L366.3 286.2" stroke="#cdcdcd" stroke-width="0.6" fill="none"/>
<path d="M434.4 348.6L434.4 338.9" stroke="#cdcdcd" stroke-width="0.6" fill="none"/>
<path d="M316.4 329.6L316.4 319.9" stroke="#dcdcdc" stroke-width="0.5" fill="none"/>
<path d="M389.0 313.5L389.0 303.8" stroke="#dcdcdc" stroke-width="0.5" fill="none"/>
<path d="M341.4 312.7L341.4 303.0" stroke="#dcdcdc" stroke-width="0.5" fill="none"/>
<path d="M411.7 331.0L411.7 321.3" stroke="#dcdcdc" stroke-width="0.5" fill="none"/>
<path d="M291.5 346.4L291.5 336.7" stroke="#4a4a4a" stroke-width="0.7" fill="none"/>
<path d="M291.5 346.4L359.6 399.1" stroke="#4a4a4a" stroke-width="0.7" fill="none"/>
<path d="M359.6 399.1L434.4 348.6" stroke="#4a4a4a" stroke-width="0.7" fill="none"/>
<g id="s_bi"><path fill="#0000aa" d="M359.6 399.1l26.6-18.6 20.3-13.1 27.9-19.4-2.3-1.2-3.5-3.3-3.4-2.1-3.5-3.2-3.5-2.1-3.4-3.3-3.5-2.1-5.8-5.2-10.3-8.1-5.8-3.7-3.5-3.2-3.4-2.1-3.5-3.2-3.5-2.2-3.4-3.2-3.5-2.2-2.3-2.3-27.9 19.4-20.3 13.1-26.6 18.6 2.3 1.3 3.5 3.1 3.4 2.2 3.5 3.2 3.5 2.2 3.4 3.1 3.5 2.1 6.9 6 10.4 8 4.6 3 3.5 3.3 3.4 2.2 3.5 3.2 3.5 2.1 3.4 3.1 3.5 2.3 2.3 2.3z"/>
<path fill="#0000ff" fill-rule="evenodd" d="M367.2 393.9l18.7-13.2 18.5-11.9-20.9 10.6zM413.5 362.6l20.9-14.6-2.1-1.1-2.5 1.2zM360.1 398.3l2.6-1.4 16.9-15.1 .3-.6-23 11.7-2.4 2.1 2.3 1.3 2.4 2.4zM406.4 367l2.6-1.4 17-15.1 .3-.6-23.1 11.7-17.2 15.5 .8-.2zM381.9 379.4l.9-.5 17.2-15.4-.3-.2-22.5 11.3-17.3 15.5 .3 .3zM428.3 348.1l.9-.5 1.9-1.7-2.4-2.3-2.7-1.6-2.8 1.5-16.9 15.3 .3 .3zM355.4 392.8l1.2-.7 2.5-2.2 14.4-13 .1-.5-23.1 11.5-2.4 2.2 2.4 1.4 2.6 2.4zM401.8 361.5l1.1-.6 2.5-2.3 14.5-13.1 .1-.4-22.9 11.3-17.4 15.8 .7 0zM375.7 374.5l1.3-.9 17.4-15.9-23.8 11.7-18 16.6zM422.1 343.2l.8-.4 1.9-1.7-2.1-2.1-.6-.5-2.7-1.6-2.5 1.2-17.9 16.6zM348.1 388.2l2-1 17.8-16.5-24.4 11.8-2.4 2.2 2.8 1.7 2.7 2.5zM394.5 356.9l2-1 17.7-16.5-24.4 11.8-17.4 16.5zM367.9 369.9l2-1 16.5-15.7 .7-.8-24.6 11.2-16.8 16.7zM414.3 338.6l1.9-1 1.9-1.7-3.1-2.9-3.3-2-2.6 1.1-17 16.9zM340.9 382.7l2.1-1 17-16.8-.7 0-14.8 6.1-10.7 4-2 2.5 4.4 2.8 3.2 3.1zM387.3 351.4l2.1-1 17-16.8-.7 0-16 6.6-9.3 3.2-5.4 6.8-10 10.9-.2 .6zM361.1 362.9l.6-.3 3.6-3.8 1.2-.7 1.2-1.3 6.1-7 4-5.2 0-.4-4.5 1.1-3.1 .3-2.2-.1-1.5-.7-.5-.9-.1-1.6 .7-2.2 1.8-3.2-.6 0-6 2-8.5 3.2-4.6 1.9-1.4 1-5.4 2.3-3.7 3.8-1.4 1-3.8 4.2-5.5 6.6-1.8 2.4 0 .5 3.8-1 3.1-.4 2.4 0 1.6 .6 .9 1.1 .1 1.6-.8 2.3-1.7 3.1 .6 0 6-2 8.4-3.2 4.7-1.9 1.3-1zM407.4 331.6l.7-.3 1.7-1.8-4.7-4.5-4.9-3.5-4.6-3.7-4.7-3-2.7 1.2-3.6 3.8-1.4 1-8 9-3.1 4.2-.1 .5 3.9-1 3.1-.4 2.4 0 1.6 .6 .9 1.1 0 1.5-.8 2.5-1.7 2.9 .7 0 6-2 8.4-3.2 4.6-1.9 1.4-.9zM330.8 376.7l.6-.7 0-.5-1.6 .4zM379.1 342.5l1.1-2 .7-2.1-.1-1.6-.8-1.1-1.6-.5-2.5-.1-4 .7-1.3 .5-1.2 2.4-.5 2 .1 1.2 .8 1.1 1.2 .4 2.2 .2 3-.4zM331.6 374.2l1.2-.5 1.5-3 .3-2.3-.7-1.2-1.4-.7-2.3-.1-3.8 .5-2.1 .7-1.5 3 5.5 4.2zM321.1 369.2l.2 .2 .7-1.2-1.7 .4zM322.4 366.8l.9-.4 5.1-6.5 10.1-11 .2-.6-24.4 11.1-2.6 2.5 3.2 1.9 4.4 4zM368.7 335.5l.9-.4 5.1-6.5 10.2-11.1 .1-.5-24.4 11.2-17.2 16.9 .8-.1 15.8-6.5zM339 347.3l1.9-.9 16.9-16.8-24 11.4-4.7 4.3-12.1 11.4-.7 .9zM385.3 316l1.9-.8 1.8-1.9-3.3-3.1-3.1-1.7-2.8 1.4-16.4 15.5-.7 .9zM312.3 359.5l1.3-.6 17.5-16.6-23.9 11.7-1.6 1.4-1.1 1 2.7 1.5 2.8 2.7zM358.7 328.2l1.2-.6 17.6-16.6-2.1 1-21.9 10.7-17.9 16.6zM331.2 341.4l1.9-1 17.7-16.4-24 12-17.8 16.2zM377.6 310.1l1.8-.9 1.9-1.8-2.7-2.6-2.7-1.5-2.8 1.4-17.7 16.2zM304.4 354.6l2.1-1.2 17.2-15.6-.7 0-22.5 11.4-2.5 2.2 2.6 1.5 2.4 2.3zM350.7 323.3l2.2-1.1 17.2-15.7-.7 0-22.6 11.4-16.8 15.2-.1 .5zM325.2 336l1.3-.7 17-15.4-.2-.3-22.8 11.6-17 15.3 .3 .2zM371.6 304.7l1.2-.7 1.9-1.7-2.7-2.6-2.4-1.3-2.7 1.5-17 15.3 .3 .2zM299 349.1l1.1-.6 17.4-15.6-.9 .2-22.3 11.3-2.4 2.2 2.4 1.4 2.3 2.3zM345.4 317.8l1.1-.6 17.4-15.6-.9 .1-22.3 11.5-16.9 15-.2 .6zM318.7 331.3l1.5-.9 16.1-14.3-18.5 11.9-18.7 13.2zM365.1 299.9l1.4-.7 1.9-1.7-2.1-2.2-20.9 14.6z"/>
<path fill="#0055ff" fill-rule="evenodd" d="M369.8 392.1l16.1-11.4 15.9-10.2-18 9.1zM416.2 360.7l18.2-12.7-1.8-1-2.5 1.3zM360.2 397.7l2.2-1.2 14.6-13 .3-.6-20 10.1-2.5 2.2 2 1.1 2.1 2.1zM406.6 366.4l2.1-1.1 14.7-13.1 .2-.6-20 10.2-15 13.4 .8-.1zM382.1 378.8l15.3-13.6-.3-.2-19.5 9.7-15.1 13.6 .3 .2zM428.5 347.5l2.2-1.9-2-2-2.3-1.4-2.8 1.5-14.7 13.3 .3 .2zM355.6 392.1l15.3-13.6 .1-.5-19.8 9.9-2.7 2.4 2 1.2 2.2 2.1zM402 360.8l15.2-13.6 .2-.5-19.9 9.9-15.2 13.8 .7-.1zM422.5 342.5l1.9-1.8-2.3-2.2-2.3-1.4-2.5 1.2-15.7 14.5zM373.7 375l2.5-1.3 15.6-14.3-21.1 10.5-15.5 14.2zM348.4 387.5l1.4-.7 15.5-14.4-21.4 10.3-2.4 2.2 2.4 1.5 2.3 2.2zM394.8 356.2l1.3-.7 15.6-14.5-21.5 10.4-15.3 14.5zM368.3 369.1l1.2-.6 14.5-13.7 .7-.9-21.7 10-14.9 14.7zM414.7 337.8l1.1-.6 1.9-1.7-2.7-2.5-2.8-1.8-2.6 1.2-15.1 14.9zM341.3 382l1.3-.7 15.2-15-.7 0-11.7 4.9-11 4.1-2 2.6 3.8 2.4 2.8 2.7zM387.7 350.7l1.3-.7 15.2-15-.7 0-10.6 4.4-12.2 4.7-5.9 7.2-7.7 8.3-.1 .5zM359.8 362.5l1.2-.6 2.2-2.4 1.3-.8 .5 0 .6-.6 6.3-7.1 4-5.2 0-.4-4.5 1-3.1 .3-2.1-.1-1.4-.7-.6-.9-.1-1.6 .7-2.1 1.7-3.2-.6 0-7.4 2.5-10.3 4.1-2.1 1.6-3.4 1.5-2.5 2.6-2.1 1.1-1.2 1.3-6.8 7.9-2.5 3.3-.1 .4 3.8-.9 3.1-.4 2.3 .1 1.7 .5 .8 1.1 .1 1.6-.7 2.2-1.7 3.1 .6 0 7.5-2.5 10.2-4.1 .7-.3 .1-.4 1-.5 .2-.4zM406.2 331.1l1.1-.5 1.7-1.8-.5-.6-3.4-3.2-4.9-3.5-4.6-3.7-3.9-2.4-2.7 1.1-2.5 2.6-2.3 1.3-7 8-3.3 4.3 0 .4 3.8-.9 3.1-.4 2.3 .1 1.6 .5 .9 1.1 .1 1.6-.7 2.3-1.7 3 .6 0 7.4-2.5 10.3-4.1 .6-.2 .2-.5 1-.5 .1-.3zM331.6 373.2l.4-.2 .3-.6 .5-2-.1-1.2-.5-.9-1.2-.6-1.9-.2-2.8 .3-1.2 .3-.8 2.2 0 1.3 2.5 2 1.8 0zM378 341.9l.3-.1 .3-.7 .6-2.1-.1-1.2-.8-1-1.2-.5-1.6-.1-2.8 .2-1 .2-.3 .3-.6 1.6-.2 1.4 .3 1.1 .7 .7 1.1 .5 1.6 .1zM321.9 366.2l.8-.4 5.9-7.2 7.7-8.4 .2-.5-21.8 10-2.6 2.4 2.8 1.7 3.8 3.5zM368.3 334.9l.7-.3 5.5-6.7 8.2-9 .1-.5-21.8 10-15.4 15.2 .7-.1 12-5zM339.4 346.5l1-.5 15-14.8-1.3 .4-19.9 9.6-14.7 13.8-.8 .9zM385.8 315.2l1-.5 1.7-1.8-2.8-2.7-2.7-1.5-2.8 1.4-14.4 13.6-.7 .9zM312.7 358.7l15.9-14.8-21 10.3-2.7 2.4 2.3 1.3 2.4 2.3zM359.1 327.4l15.8-14.8-2 1-19 9.3-15.8 14.6zM331.6 340.6l1.1-.6 15.5-14.3-21 10.5-15.6 14.2zM378 309.3l1.1-.5 1.8-1.8-2.3-2.2-2.3-1.3-2.8 1.4-15.5 14.2zM304.7 353.9l1.5-.8 14.9-13.6-.7 0-19.6 9.9-2.4 2.2 2.2 1.3 2 2zM351 322.6l1.5-.8 15-13.7-.7 .1-19.6 9.9-14.6 13.2-.1 .5zM325.4 335.3l.7-.4 14.8-13.4-.2-.2-19.5 9.8-15.1 13.5 .3 .2zM371.8 304l2.5-2.1-2.3-2.2-2-1.1-2.8 1.5-14.7 13.2 .3 .2zM299.2 348.5l15.7-13.9-.9 .1-19.3 9.9-2.5 2.2 2.1 1.2 2 1.9zM345.6 317.2l15.6-13.9-.8 .1-19.1 9.7-14.8 13.2-.3 .6zM318.9 330.6l1-.5 13.8-12.3-15.9 10.2-16.1 11.4zM365.2 299.3l1-.5 1.9-1.7-1.8-1.8-18.2 12.7z"/>
<path fill="#00aaff" fill-rule="evenodd" d="M372.5 390.1l13.4-9.4 13.1-8.5-14.8 7.6zM418.9 358.8l15.5-10.8-1.4-.8-2.5 1.3zM360.5 397l1.5-.8 12.2-10.9 .3-.6-16.9 8.5-2.4 2.2 1.6 .9 1.7 1.7zM406.9 365.7l1.4-.8 12.3-11 .3-.6-16.9 8.7-12.6 11.3 .8-.2zM380 379.3l2.1-1.1 12.5-11.2-.3-.2-16.6 8.4-12.4 11.1 .3 .3zM426.4 348l2-1.1 1.9-1.7-1.6-1.6-1.9-1.2-2.8 1.5-12.3 11.1 .2 .3zM353.6 392.6l2.2-1.2 12.3-11.1 .1-.5-16.9 8.5-2.5 2.2 1.7 1 1.8 1.7zM400 361.3l2.2-1.2 12.3-11.1 .1-.5-17 8.5-12.5 11.4 .7 0zM374.1 374.2l1.7-.9 13.3-12.1-18 8.9-13.1 12.1zM420.5 342.9l1.6-.9 1.9-1.7-1.9-1.8-1.9-1.1-2.5 1.2-13.4 12.3zM348.9 386.7l13.7-12.6-18.3 8.8-2.4 2.3 2 1.2 1.9 1.8zM395.3 355.4l13.7-12.6-18.1 8.6-13.3 12.6zM368.9 368.2l12.5-11.7 .8-1-18.5 8.4-13 12.9zM415.2 336.9l2.1-1.8-2.3-2.1-2.4-1.5-2.6 1.2-13 12.8zM341.8 381.1l13.7-13.3-.7 0-19.8 7.9-2 2.5 3.2 2.1 2.4 2.3zM388.2 349.8l13.7-13.4-.7 .1-10.5 4.3-9.1 3.4-5.8 6.9-6.4 6.8-.1 .5zM355.9 364.2l1-.5 .1-.5 1-.5 .1-.4 2.1-1.1 1.3-1.2 .5 0 .9-.8 .6 .1 .9-.9 5.4-6.1 4.1-5.2 .1-.5-4.6 1-3 .3-2-.2-1.4-.7-.7-1.2 .1-1.7 .7-2.1 1.5-2.7-.6 0-6.2 2.1-11 4.5-1.4 1.2-.1 .3-1.8 .9-1.6 1.5-.6 0-2.3 1.4-6.9 8-2.6 3.4 0 .4 4.3-.9 3.1-.4 2.2 .2 1.4 .7 .7 1.2-.1 1.7-.8 2.2-1.4 2.6 .6 0 4.9-1.6zM402.2 332.9l1-.5 .1-.5 1-.5 .1-.4 2.1-1.1 1.6-1.6 .6 .2-3.6-3.5-4.9-3.5-4.6-3.7-3.4-2.2-1.2 .9-1.2 .5-1.6 1.5-.6 .1-2.2 1.3-6.9 8-2.6 3.4-.1 .4 4.6-1 2.9-.3 2.1 .2 1.5 .7 .6 1.2 0 1.7-.8 2.2-1.5 2.6 .7 0 4.8-1.6zM330.5 372.3l.4-.2 .1-1-.2-.9-.5-.7-.6-.4-1.3-.4-1.9 0-.3 .2-.1 1.4 .7 1.2 1.4 .7zM376.9 341l.3-.2 .2-1-.1-.8-.6-.8-1.4-.7-2.5-.1-.2 .3-.1 1.2 .6 1.3 1.5 .6zM321.4 365.6l.7-.3 5.3-6.4 6.6-7.2 .1-.5-19 8.7-2.6 2.5 2.4 1.4 3.2 3zM367.8 334.3l.6-.3 5.3-6.3 6.7-7.3 .1-.5-19.1 8.7-13.5 13.3 .7-.1 10.4-4.2zM338.3 346.4l1.7-.8 12.8-12.8-18.5 8.8-13 12.5zM384.7 315.1l1.6-.8 1.8-1.8-2.4-2.3-2.3-1.3-2.8 1.5-12.9 12.4zM311.3 358.8l1.4-.7 13.2-12.5-18.2 9-2.4 2.2 1.9 1.1 2 1.9zM357.6 327.5l1.5-.7 13.2-12.5-18.3 9-13.2 12.3zM378.6 308.4l1.9-1.8-1.9-1.8-1.9-1.1-2.8 1.5-13.2 12zM329.9 340.9l2.4-1.3 13.2-12.2-17.9 9-13.2 12.1zM305.1 353.1l.7-.4 12.6-11.5-.7 .1-16.5 8.3-2.4 2.2 1.8 1.1 1.7 1.6zM351.5 321.7l.6-.3 12.6-11.5-.6 .1-16.3 8.1-12.5 11.2-.1 .5zM323.5 335.7l2.2-1.2 12.5-11.2-.3-.2-16.6 8.4-12.4 11.2 .3 .2zM369.8 304.4l2.3-1.1 1.8-1.7-1.9-1.9-1.6-.9-2.8 1.5-12.4 11.1 .3 .2zM297.1 349l2.3-1.3 12.7-11.3-.8 .1-16.3 8.3-2.4 2.2 1.7 1 1.6 1.6zM343.5 317.6l2.3-1.1 12.7-11.4-.9 .1-16.2 8.3-12.2 10.9-.2 .6zM319.2 329.9l11.7-10.4-13.1 8.5-13.4 9.4zM365.6 298.6l2.1-1.8-1.4-1.5-15.5 10.8z"/>
<path fill="#00ffff" fill-rule="evenodd" d="M375.4 388.1l10.5-7.4 10.2-6.6-11.6 5.9zM421.8 356.8l12.6-8.8-1.1-.6-2.4 1.3zM360.9 396.2l.7-.4 9.8-8.7 .2-.6-13.3 6.7-2.7 2.4 1.2 .7 1.3 1.3zM407.3 364.9l.7-.4 9.7-8.7 .3-.6-13.4 6.8-10.4 9.3 .9-.2zM380.5 378.5l1.2-.7 10-9-.3-.2-13.4 6.8-9.8 8.9 .2 .2zM426.9 347.2l1.2-.7 1.9-1.7-1.3-1.2-1.6-.9-2.7 1.4-9.9 8.9 .3 .2zM354.1 391.7l1.3-.7 9.8-8.8 .2-.5-13.7 6.8-2.5 2.3 1.3 .7 1.4 1.3zM400.5 360.4l1.3-.6 9.8-9 .1-.4-13.7 6.9-10 9.1 .6 0zM374.6 373.3l.8-.4 10.9-9.9-14.8 7.3-10.7 9.9zM421 342l.7-.4 1.9-1.7-1.5-1.4-1.5-.9-2.5 1.2-10.9 10.1zM347.2 386.9l1.8-.9 10.8-10.1-15.1 7.3-2.3 2.2 1.5 1 1.5 1.4zM393.6 355.6l1.7-.9 10.9-10.1-15.1 7.3-10.7 10.1zM367.3 368.4l1.4-.7 10.8-10.4-15.6 7.2-10.6 10.4zM413.6 337.1l1.4-.7 1.8-1.7-1.8-1.7-1.9-1.2-2.6 1.1-10.8 10.7zM340.5 381.1l1.3-.6 11.3-11.2-.7 0-16.8 6.8-2.1 2.5 2.7 1.7 2 1.9zM386.9 349.8l1.2-.6 11.4-11.2-.7 0-16.9 6.9-10.1 11.3-.1 .5zM356.5 363.3l1.3-.7 .1-.6 1-.4 .1-.4 1.2-1.1 .6 .2 .6-.6 .5 .2 1.2-1 5.4-6.2 3.4-4.3 .1-.5-4.5 1-3.5 .2-1.5-.2-1.4-.7-.7-1.1 0-1.7 .8-2.2 1.4-2.6-.7 0-6.2 2.2-8.8 3.4-1.1 .6-1.4 1.7-1 .6-1.8 .6-1.3 1-6.1 7-2.6 3.4-.1 .5 4.5-1 2.9-.3 2.1 .2 1.4 .7 .7 1.2-.1 1.7-.7 2.2-1.4 2.6 .7-.1 4.9-1.6zM402.9 332l1.3-.7 .1-.5 .9-.5 .1-.6 .7-.2 .6-.7 .5 .2 .9-.8 .5 0-3.4-3.2-4.9-3.5-4.6-3.7-3.4-2.2-1.5 1.6-2.8 1.3-1.2 .9-6.1 7-2.6 3.4-.1 .5 4.5-1 2.8-.3 2.2 .2 1.4 .7 .7 1.2-.1 1.7-.7 2.2-1.4 2.6 .6-.1 4.9-1.6zM321 365l.5-.3 10.1-11.5 .1-.4-16.1 7.4-2.7 2.4 2 1.2 2.7 2.4zM367.4 333.6l.4-.2 10.2-11.5 .1-.4-16.2 7.4-11.5 11.3 .6-.1zM339 345.4l11.1-10.9-1.3 .5-13.8 6.6-11 10.6zM385.4 314.1l2.2-2.1-1.9-1.8-1.8-1.1-2.9 1.5-10.7 10.3zM311.9 357.9l11.2-10.5-14.7 7.2-2.7 2.4 1.5 .9 1.5 1.5zM358.3 326.5l10.8-10.2-14.4 7-11.1 10.3zM330.5 339.9l1.4-.7 10.8-9.9-14.7 7.3-10.8 9.9zM376.9 308.6l1.3-.6 1.9-1.8-1.5-1.4-1.5-.9-2.8 1.5-10.7 9.8zM303.4 353.3l2-1 10.1-9.2-.7 0-13.2 6.7-2.4 2.2 1.4 .9 1.3 1.2zM349.7 322l2-1 10.2-9.2-.7 0-13.3 6.7-9.7 8.8-.1 .5zM324 334.9l1.3-.7 10-9-.3-.3-13.4 6.9-9.9 8.9 .3 .2zM370.3 303.6l1.4-.7 1.9-1.7-1.6-1.5-1.3-.7-2.7 1.5-9.9 8.9 .3 .2zM297.6 348.1l1.4-.7 10.2-9.2-.8 .2-13 6.6-2.4 2.2 1.3 .8 1.2 1.2zM344 316.8l1.4-.7 10.2-9.2-.8 .2-13.1 6.6-9.6 8.7-.3 .6zM317.2 330.4l1.9-1 8.9-8-10.2 6.6-10.5 7.4zM363.5 299.1l2-1 1.9-1.7-1.1-1.1-12.6 8.8z"/>
<path fill="#55ffaa" fill-rule="evenodd" d="M378.4 386l7.5-5.3 7.3-4.7-8.3 4.2zM424.8 354.7l9.6-6.7-.7-.3-2.5 1.2zM359 396.6l2.3-1.2 7.1-6.4 .3-.6-10.3 5.3-2.4 2.2 1.7 1.3zM405.4 365.3l2.2-1.1 7.2-6.5 .3-.6-10.4 5.3-7.5 6.8 .8-.2zM381 377.6l7.8-6.9-.3-.2-9.8 4.9-7.6 6.8 .3 .3zM427.4 346.3l2.2-1.9-2.1-1.5-2.4 1.2-7.6 6.8 .3 .3zM354.7 390.9l7.6-6.8 .1-.5-10 5-2.7 2.4 1.8 1.4zM401.1 359.5l7.6-6.7 .1-.5-10.1 5-7.8 7 .7 0zM372.9 373.6l2.1-1.1 8.3-7.6-11.4 5.7-8.2 7.5zM419.3 342.3l2-1.1 1.9-1.7-1.1-1-1.1-.7-2.5 1.3-8.4 7.7zM347.9 386l.6-.4 8.5-7.9-11.8 5.8-2.4 2.2 1.1 .7 1.1 1zM394.2 354.6l.7-.3 8.4-7.9-11.8 5.8-8.3 7.8zM368 367.4l8.8-8.4-12.1 5.5-8.6 8.5zM414.3 336.1l2.1-1.8-1.4-1.3-1.4-.9-2.6 1.1-8.6 8.5zM339.2 381.1l2.1-1.1 9.3-9.1-.6 0-13.8 5.6-2.1 2.5 2.1 1.3 1.5 1.5zM385.6 349.8l2.1-1 9.3-9.2-.7 0-13.6 5.5-8.4 9.4-.1 .5zM357.3 362.3l1.5-.8 .1-.6 .6-.3 .6-.6 .6 0 .9-.6 6.2-7.1 2-2.6 .1-.5-4.4 1-2.9 .2-2.1-.2-1.4-.7-.7-1.2 0-1.7 .7-2.1 1.4-2.6-.7 .1-6.3 2.2-7.7 3-.9 .6-.8 .9-1.4 .6-.9 .7-6.1 7-2 2.6-.1 .5 4.4-.9 2.8-.3 2.2 .2 1.4 .7 .7 1.2 0 1.7-.8 2.1-1.3 2.6 .7-.1 3.6-1.2zM403.6 331l1.5-.8 .1-.6 .7-.2 .6-.7 .5 .2 1.2-1-3.1-2.9-4.9-3.5-4.6-3.7-3.1-2-1.3 .8-.7 .9-1 .3-1.4 .9-6.1 7-1.9 2.6-.1 .5 4.4-1 2.8-.2 2.1 .2 1.5 .7 .6 1.2 0 1.7-.7 2.1-1.3 2.6 .6-.1 3.7-1.2zM367.1 332.9l8.4-9.4 .1-.5-13.3 6.1-9.5 9.3 .7 0zM319.2 364.9l1.6-.7 8.4-9.4 0-.4-13.2 6-2.6 2.5 1.5 .9 2.1 1.9zM338 345.1l1-.5 8.4-8.3-12.3 5.8-8.4 8.2zM384.4 313.8l.9-.4 1.8-1.8-1.4-1.4-1.4-.8-2.8 1.5-8.4 8.1zM310.6 357.8l1.3-.6 8.3-7.9-11.7 5.8-2.4 2.2 1.1 .6 1.1 1.1zM357 326.5l1.2-.6 8.4-7.9-11.8 5.8-8.3 7.8zM331.4 338.9l8.3-7.7-11 5.5-8.6 7.7zM377.7 307.6l2-1.8-1.1-1-1.1-.7-2.5 1.3-8.5 7.7zM304 352.4l1-.5 7.5-6.9-.6 0-9.9 5-2.4 2.2 1.8 1.5zM350.4 321.1l.9-.5 7.6-6.9-.7 0-9.9 5.1-7.1 6.5-.1 .4zM324.5 334l7.8-6.9-.2-.3-9.8 5-7.6 6.8 .3 .2zM370.9 302.7l2.3-1.9-2.1-1.6-2.5 1.3-7.5 6.8 .3 .2zM298.1 347.3l8.2-7.2-.9 .2-9.6 4.9-2.4 2.2 1.7 1.4zM344.5 316l8.2-7.2-.9 .2-9.4 4.7-7.3 6.6-.3 .6zM317.7 329.6l1-.6 6.4-5.7-7.3 4.7-7.5 5.3zM364 298.3l1.1-.6 1.9-1.7-.7-.7-9.6 6.7z"/>
<path fill="#aaff55" fill-rule="evenodd" d="M381.4 383.9l8.8-5.9-4.9 2.4zM427.8 352.6l6.6-4.6-.3-.1-2.5 1.2zM359.6 395.7l1.3-.7 4.5-4 .3-.6-6.9 3.5-2.4 2.2 .9 .8zM405.9 364.4l1.3-.6 4.6-4.1 .2-.6-6.9 3.5-4.9 4.5 .8-.2zM379.2 377.9l1.7-.9 4.9-4.3-.3-.2-6.6 3.4-4.8 4.2 .3 .2zM425.6 346.6l1.7-.8 1.9-1.8-1.2-.9-2.5 1.3-5 4.4 .3 .2zM353 391.1l1.6-.9 4.7-4.2 .1-.5-6.9 3.5-2.4 2.2 1 .8zM399.3 359.8l1.7-.8 4.7-4.3 .1-.5-7 3.6-4.9 4.4 .7 0zM373.6 372.6l1-.5 5.7-5.2-8 3.9-5.6 5.2zM420 341.3l.9-.5 1.9-1.7-1.3-1-2.5 1.2-5.9 5.4zM346.4 386.1l1.7-.9 5.9-5.6-8.3 4.1-2.4 2.3 1.3 1zM392.7 354.8l1.7-.9 6-5.6-8.4 4.2-5.8 5.4zM366.5 367.5l1.3-.7 6.2-6-9.1 4.3-6.1 5.9zM412.9 336.2l1.2-.6 1.9-1.8-1.9-1.4-2.6 1.1-6.3 6.2zM339.9 380.1l1-.5 7.2-7.1-.7 0-10.6 4.4-2.1 2.4 2.6 2zM386.3 348.8l.9-.5 7.2-7.1-.6 0-10.6 4.4-6.4 7.1 0 .5zM358.1 361.2l2.4-1.6 5.1-5.9 2-2.6 .1-.5-4 .8-3.1 .3-2.1-.2-1.4-.7-.7-1.2 0-1.7 .6-2.1 1.3-2.5-2.5 .7-7.4 2.7-3.2 1.3-1.9 1.2-5.5 6.3-2 2.6-.1 .5 4.4-.9 2.8-.3 2.1 .3 1.4 .7 .7 1.2 0 1.6-.7 2.1-1.3 2.5 .7 0 3.7-1.3zM404.4 329.9l2.3-1.4 1-1.1-2.6-2.4-4.9-3.5-4.6-3.7-2.6-1.7-1.5 .6-1.9 1.3-5.4 6.2-2 2.6-.1 .5 4.4-.9 2.8-.3 2.1 .3 1.4 .7 .7 1.2 0 1.6-.7 2.1-1.3 2.5 .7 0 3.7-1.3zM318.7 364.3l1.5-.7 6.4-7.2 .1-.4-10.2 4.7-2.7 2.5 2.6 2zM365.1 332.9l1.5-.6 6.4-7.2 .1-.4-10.3 4.7-7.4 7.2 .6 0zM337 344.9l1.5-.7 6.1-6.1-9 4.3-6.1 5.9zM383.4 313.6l1.4-.7 1.8-1.8-1.9-1.4-2.5 1.2-6.3 6.1zM309.4 357.8l2-1 5.9-5.6-8.3 4.1-2.5 2.2 1.3 1zM355.8 326.5l1.9-1 6-5.6-8.4 4.2-5.9 5.4zM329.8 339.1l1.2-.7 5.7-5.3-7.9 4-5.7 5.2zM376.1 307.8l1.3-.7 1.8-1.7-1.3-1-2.5 1.2-5.9 5.4zM302.4 352.6l2.2-1.1 4.9-4.6-.7 .1-6.4 3.3-2.4 2.2 1 .8zM348.7 321.3l2.2-1.1 5-4.6-.7 .1-6.5 3.3-4.5 4.1-.1 .5zM322.8 334.3l1.7-.9 4.8-4.4-.2-.2-6.7 3.4-4.7 4.3 .3 .2zM369.2 303l1.7-.9 1.8-1.7-1.2-.9-2.4 1.2-5 4.5 .3 .2zM296.3 347.6l1.9-1 5.1-4.5-.9 .1-6.2 3.3-2.4 2.1 .9 .8zM342.7 316.3l1.9-1 5-4.5-.8 .1-6.3 3.3-4.4 4-.3 .6zM315.8 329.9l2.5-1.3 3.8-3.3-8.8 5.9zM362.1 298.6l2.6-1.3 1.9-1.7-.3-.3-2.2 1.5-4.4 3.1z"/>
<path fill="#ffff00" fill-rule="evenodd" d="M384.5 381.7l2.6-1.7-1.4 .6zM430.9 350.4l2.6-1.7-1.5 .7zM406.7 363.4l2-1.7 .3-.6-3.2 1.5-2.5 2.3 .8-.2zM357.7 396.1l2.7-1.5 1.9-1.6 .3-.6-3.4 1.7-2.3 2.1zM379.9 377l2.8-2.3-.3-.2-3.1 1.6-2.1 1.9 .3 .2zM426.3 345.7l2.4-2.1-.3-.2-2.5 1.2-2.3 2 .3 .3zM353.7 390.1l2.5-2.1 .1-.5-3.1 1.6-2.6 2.3 .7-.1zM400 358.8l2.6-2.1 .1-.5-3.2 1.6-2.5 2.3 .7-.1zM372.1 372.8l2.1-1.1 3.1-2.9-4.5 2.3-3 2.8zM418.4 341.4l2.1-1 1.9-1.7-.5-.3-2.5 1.2-3.2 3zM347.1 385l3.9-3.4-4.9 2.4-2.3 2.3 .3 .2zM393.5 353.7l3.9-3.4-4.9 2.4-3.3 3.1zM365.2 367.5l2.1-1.1 3.8-3.7-5.7 2.7-3.7 3.6zM411.5 336.2l2.2-1 1.8-1.8-.9-.7-2.6 1.2-3.9 3.8zM338.7 380l1.7-.8 5.1-5-.6 0-7.5 3.1-2.1 2.4 1.5 1.2zM385.1 348.7l1.7-.8 5.1-5-.7 0-7.2 2.9-4.6 5.1-.1 .4zM359.1 360.1l5-5.9 1.3-1.7 .2-.5-4.1 .8-3 .2-2.1-.2-1.4-.7-.7-1.2 0-1.6 .6-2.1 1.3-2.5-3.2 .9-8.4 3.2-4.5 5.1-2.1 2.6-.1 .5 4.3-.8 2.8-.2 2 .2 1.4 .7 .8 1.2 0 1.6-.6 2.1-1.3 2.5 4.5-1.4zM405.3 328.8l1.8-1.9-2-1.9-4.9-3.5-4.6-3.7-2-1.4-3 1.4-4.9 5.7-1.3 1.7-.1 .5 4.3-.8 2.7-.2 2.1 .2 1.4 .7 .7 1.2 .1 1.6-.7 2.1-1.2 2.5 3.1-.9zM318.3 363.6l1.3-.6 4.5-4.9 0-.4-7.2 3.3-2.6 2.5 1.5 1.1zM364.7 332.3l1.3-.5 4.4-5 .1-.5-7.3 3.4-5.2 5.1 .6 0zM336.1 344.6l1.9-.9 3.8-3.7-5.8 2.6-3.7 3.7zM382.5 313.3l1.8-.9 1.8-1.8-.9-.7-2.6 1.2-3.9 3.9zM310.3 356.7l.6-.4 3.4-3.2-4.9 2.5-2.4 2.2 .3 .3zM356.6 325.4l.7-.4 3.4-3.2-5 2.5-3.3 3.1zM328.3 339.1l2.3-1.1 3.1-2.9-4.5 2.3-3 2.8zM374.7 307.8l2.2-1.1 1.9-1.7-.5-.4-2.5 1.3-3.2 2.9zM303.1 351.6l1-.5 2.4-2.2-.7 .1-3 1.5-1.9 1.8-.1 .5zM349.5 320.3l1-.5 2.3-2.2-.6 .1-3 1.5-2 1.8-.1 .5zM323.5 333.3l2.7-2.3-.2-.2-3.1 1.6-2.1 1.9 .3 .2zM369.9 302l2.4-2-.3-.3-2.8 1.5-2 1.8 .3 .2zM296.9 346.7l.9-.5 2.4-2.1-.9 .1-2.7 1.5-1.8 1.6-.3 .6zM343.3 315.4l.9-.5 2.4-2.1-.9 .1-2.8 1.5-1.7 1.6-.3 .6zM316.4 329l1.5-.8 1.1-.9zM362.8 297.7l1.5-.8 1.1-.9z"/>
<path fill="#ffaa00" fill-rule="evenodd" d="M345.8 385l1.4-.7 .8-.7-1.1 .5zM392.2 353.7l1.3-.7 .9-.8-1.2 .6zM366 366.5l.9-.5 1.3-1.5-2.3 1.2-1.3 1.3zM412.3 335.2l.9-.5 1.4-1.5-2.1 1-1.5 1.5zM339.4 379l3.5-3.1-.6 0-4.3 1.8-2.1 2.4 .4 .3zM385.8 347.7l3.4-3.1-.6 0-4.2 1.8-2.4 2.6 0 .5zM358.3 359.7l3.5-4.1 1.4-1.7 .1-.5-4.1 .8-2.8 .2-2.1-.3-1.4-.7-.7-1.2 0-1.6 .5-2 1.2-2.5-1.9 .5-6.9 2.5-3.5 4.1-1.3 1.7-.2 .5 4.3-.8 2.7-.1 2 .2 1.4 .7 .7 1.2 .1 1.6-.6 2.1-1.2 2.4 2-.5zM404.7 328.4l1.8-2-4.3-3.4-1.5-.2-1.4-.7-.6-.9-.2-1.1-4.3-3.3-2.9 1.2-4 4.8-.8 1.3 4.2-.8 2.7-.2 2.1 .3 1.4 .7 .7 1.2 .1 1.6-.6 2-1.2 2.5 1.9-.5zM317.9 363l1.1-.5 2.5-2.7 0-.5-4.1 1.9-2.6 2.5 .4 .4zM364.2 331.7l1.1-.5 2.5-2.7 .1-.5-4.2 2-3.1 2.9 .6 0zM337.1 343.4l1.8-1.6-2.4 1.1-1.3 1.4zM383.5 312.1l1.7-1.6-2.4 1.1-1.2 1.4zM309.1 356.6l1.3-.7 .8-.8-1 .5zM355.5 325.3l1.3-.7 .8-.8-1.1 .6z"/>
<path fill="#ff5500" fill-rule="evenodd" d="M338.3 378.9l1.2-.6 .7-.7-1.2 .2-.7 .7zM384.6 347.6l1.2-.6 .8-.7-1.3 .3-.7 .6zM357.9 359l3-3.7 .2-.5-4.2 .8-3.2 .1-.8 3-1.1 2.4 .7-.1zM404.2 327.8l1.7-2-.8-.8-1.3-.8-3.8 .2-.5 2.4-1.4 3 .8-.1zM396.2 321.6l.7-2.8-2.1-1.6-2.8 1-3.1 3.8-.2 .5 4.2-.7zM349.2 352.9l.8-.1 .4-2.3 1.3-3-.7 .1-5.3 1.9-3.2 3.8-.1 .5 4.1-.7zM317.5 362.4l.9-.5 .4-.4 0-.4-.9 .4-1 .9zM363.8 331.1l.9-.4 .5-.5 0-.4-1 .4-.9 .8z"/>
<path fill="#ff0000" fill-rule="evenodd" d="M356 359l1.4-.6 1.3-1.6 .1-.5-3.4 .6-1.4 2.6zM402.4 327.7l1.3-.5 1.5-2.1-3.6 .5-1.2 2.6zM348.1 351.6l.2-.2 1.1-2.4-.7 .1-2.4 .8-1.5 1.8-.2 .5zM394.4 320.3l.3-.1 1-2.4-.6 0-2.5 .8-1.4 1.8-.2 .5z"/></g>
<text x="289.3" y="347.1" font-size="9.85" text-anchor="end" fill="#111" font-weight="bold"  stroke="#111" stroke-width="0.28">0</text>
<text x="289.3" y="337.9" font-size="9.85" text-anchor="end" fill="#111" font-weight="bold"  stroke="#111" stroke-width="0.28">0.5</text>
<text transform="translate(267.9,339.6) rotate(-90)" y="3.5" font-size="9.85" text-anchor="middle" font-weight="bold" fill="#111" stroke="#111" stroke-width="0.28">z/µm</text>
<text transform="translate(292.3,357.9) rotate(35.7)" y="3.5" font-size="9.85" text-anchor="middle" font-weight="bold" fill="#111" stroke="#111" stroke-width="0.28">0.5</text>
<text transform="translate(321.9,378.9) rotate(35.7)" y="3.5" font-size="9.85" text-anchor="middle" font-weight="bold" fill="#111" stroke="#111" stroke-width="0.28">0</text>
<text transform="translate(322.4,393.9) rotate(37.7)" y="3.5" font-size="9.85" text-anchor="middle" font-weight="bold" fill="#111" stroke="#111" stroke-width="0.28">y/mm</text>
<text transform="translate(355.0,407.1) rotate(35.7)" y="3.5" font-size="9.85" text-anchor="middle" font-weight="bold" fill="#111" stroke="#111" stroke-width="0.28">−0.5</text>
<text transform="translate(369.3,403.1) rotate(-34.0)" y="3.5" font-size="9.85" text-anchor="middle" font-weight="bold" fill="#111" stroke="#111" stroke-width="0.28">3</text>
<text transform="translate(391.7,388.0) rotate(-34.0)" y="3.5" font-size="9.85" text-anchor="middle" font-weight="bold" fill="#111" stroke="#111" stroke-width="0.28">3.005</text>
<text transform="translate(413.4,373.4) rotate(-34.0)" y="3.5" font-size="9.85" text-anchor="middle" font-weight="bold" fill="#111" stroke="#111" stroke-width="0.28">3.01</text>
<text transform="translate(436.7,357.7) rotate(-34.0)" y="3.5" font-size="9.85" text-anchor="middle" font-weight="bold" fill="#111" stroke="#111" stroke-width="0.28">3.015</text>
<text transform="translate(423.4,384.3) rotate(-34.0)" y="3.5" font-size="9.85" text-anchor="middle" font-weight="bold" fill="#111" stroke="#111" stroke-width="0.28">x/mm</text>
<defs><linearGradient id="cbbi" x1="0" y1="0" x2="0" y2="1"><stop offset="0.0000" stop-color="#800000"/><stop offset="0.0625" stop-color="#bf0000"/><stop offset="0.1250" stop-color="#ff0000"/><stop offset="0.1875" stop-color="#ff4000"/><stop offset="0.2500" stop-color="#ff8000"/><stop offset="0.3125" stop-color="#ffbf00"/><stop offset="0.3750" stop-color="#ffff00"/><stop offset="0.4375" stop-color="#bfff40"/><stop offset="0.5000" stop-color="#80ff80"/><stop offset="0.5625" stop-color="#40ffbf"/><stop offset="0.6250" stop-color="#00ffff"/><stop offset="0.6875" stop-color="#00bfff"/><stop offset="0.7500" stop-color="#0080ff"/><stop offset="0.8125" stop-color="#0040ff"/><stop offset="0.8750" stop-color="#0000ff"/><stop offset="0.9375" stop-color="#0000bf"/><stop offset="1.0000" stop-color="#000080"/></linearGradient></defs>
<rect x="450.7" y="323.4" width="5.2" height="69.3" fill="url(#cbbi)"/>
<text x="457.9" y="395.7" font-size="9.85" text-anchor="start" fill="#111" font-weight="bold"  stroke="#111" stroke-width="0.28">0</text>
<text x="457.9" y="384.7" font-size="9.85" text-anchor="start" fill="#111" font-weight="bold"  stroke="#111" stroke-width="0.28">0.05</text>
<text x="457.9" y="373.0" font-size="9.85" text-anchor="start" fill="#111" font-weight="bold"  stroke="#111" stroke-width="0.28">0.10</text>
<text x="457.9" y="361.5" font-size="9.85" text-anchor="start" fill="#111" font-weight="bold"  stroke="#111" stroke-width="0.28">0.15</text>
<text x="457.9" y="349.8" font-size="9.85" text-anchor="start" fill="#111" font-weight="bold"  stroke="#111" stroke-width="0.28">0.20</text>
<text x="457.9" y="338.3" font-size="9.85" text-anchor="start" fill="#111" font-weight="bold"  stroke="#111" stroke-width="0.28">0.25</text>
<text x="464" y="318.09999999999997" font-size="9.85" text-anchor="middle" fill="#111" font-weight="bold"  stroke="#111" stroke-width="0.28">z/µm</text>
<circle cx="288.3" cy="304.3" r="6.1" fill="#fff" stroke="#555" stroke-width="0.8"/>
<text x="288.3" y="307.8" font-size="9.85" text-anchor="middle" fill="#111" font-weight="bold"  stroke="#111" stroke-width="0.28">i</text>
<path d="M509.6 346.5L584.4 298.5" stroke="#cdcdcd" stroke-width="0.6" fill="none"/>
<path d="M584.4 298.5L652.8 352.0" stroke="#cdcdcd" stroke-width="0.6" fill="none"/>
<path d="M509.6 337.0L584.4 289.0" stroke="#cdcdcd" stroke-width="0.6" fill="none"/>
<path d="M584.4 289.0L652.8 342.5" stroke="#cdcdcd" stroke-width="0.6" fill="none"/>
<path d="M584.4 298.5L584.4 289.0" stroke="#cdcdcd" stroke-width="0.6" fill="none"/>
<path d="M652.8 352.0L652.8 342.5" stroke="#cdcdcd" stroke-width="0.6" fill="none"/>
<path d="M534.5 330.5L534.5 321.0" stroke="#dcdcdc" stroke-width="0.5" fill="none"/>
<path d="M607.2 316.3L607.2 306.8" stroke="#dcdcdc" stroke-width="0.5" fill="none"/>
<path d="M559.5 314.5L559.5 305.0" stroke="#dcdcdc" stroke-width="0.5" fill="none"/>
<path d="M630.0 334.2L630.0 324.7" stroke="#dcdcdc" stroke-width="0.5" fill="none"/>
<path d="M509.6 346.5L509.6 337.0" stroke="#4a4a4a" stroke-width="0.7" fill="none"/>
<path d="M509.6 346.5L578.0 400.0" stroke="#4a4a4a" stroke-width="0.7" fill="none"/>
<path d="M578.0 400.0L652.8 352.0" stroke="#4a4a4a" stroke-width="0.7" fill="none"/>
<g id="s_bii"><path fill="#0000aa" d="M578 394.5l74.8-48-2.3 2.3-1.2-1.5-1.1-2.8-1.2-1.6-1.2 .9-1.1 1.4-2.3-5.3-1.2-.6-1.2 .7-1.1 .2-2.3-4.7-1.2 .1-1.1 .4-1.2-1.1-2.3-3.1-1.2-.1-8.1-6.9-9.3-6.6-2.3-3-2.3 .1-1.2-.8-2.3-4.2-1.2-.7-1.1 .3-1.2 .7-3.4-6.6-2.4 1-1.1-.3-2.3-5.1-1.2-.9-1.2 .6-1.1 1-3.5-7.3-74.8 48 3.5 7.3 1.1-1 1.2-.6 1.2 .9 2.3 5.1 1.1 .3 2.4-1 3.4 6.6 1.2-.7 1.1-.3 1.2 4.3 1.2 .4 1.1 .1 2.3-.6 2.4 5 1.1 1.5 18.6 14.5 1.1-.1 1.2-.9 1.2 .3 2.3 4.1 1.1 1.7 1.2 1 2.3-1.6 1.2 .6 2.3 5.3 1.1-1.4 1.2-.9 1.2 1.6 1.1 2.8 1.2 1.5 2.3-2.3z"/>
<path fill="#0000ff" fill-rule="evenodd" d="M578 394.5l74.8-48-1.7 1.6-.9 1.2-.3-.2-2-5.1-.5-1.2-.3 .1-1.5 1.1-.8 1-74.8 48 .8-1 1.5-1.1 .3-.1 .5 1.2 2 5.1 .3 .2 .9-1.2zM569.4 392.1l.3 .9 74.8-48-2.6-6-1.1 .5-1.5 1.2-.5-.6-2.3-4.8-.3-.1-1.7 .9-.3-.1-1.4-1.4-1.8-2.6-1.1 0-8.9-7.6-9.4-6.6-1.4-2.5-1.2-.1-1.1 .1-1.5-.8-2.8-5-1.7 .4-1.2 .7-.3-.1-3.1-6.4-2.3 .8-.8 .8-74.8 48 1.1-1 2-.6 3.1 6.4 .3 .1 .9-.6 1.4-.4 .9 3.7 .4 0 1.5-.9 .3 .1 13.6-6.2 9.6-3.9 14.7-5.7 7.9-3.4 16.5-6.2 8.9-3 6.5-1.8 4.8-.6 1.5 .3 .7 .3 .5 .5 .2 1.1-.4 1.5-.7 1.5-3 4.4-4.7 5.6-15 15.7-9.6 9.7-13.1 12.4-5.9 6.1 1.7-1.3 1.1-.5zM562.5 387.4l.2 .2 20.5-20.1 9.6-9.8 7.4-8.1 4.3-5.1 2.8-4.1 1.1-2.7-.1-1.2-.3-.6-1-.6-.9-.2-3.7 .2-5.7 1.3-7.7 2.4-23.5 8.9-35.1 14.4 1.5 0 2.3-.5 2.2 5.2 18-6.9 11.9-4 4.3-1.1 3.4-.6 2.5 0 1.2 .5 .6 .9-.2 1.7-1.1 2.3-2 2.9-6.7 8-11.6 12.2 1-.5 1.1-1.2zM519 353.2l.3 .7 74.8-48-3.1-7.1-.3-.3-1.7 .8-.9 .7-.5 .8-74.8 48 1.1-1.3 2-1 .3 .3zM512.5 347.6l.2 .9 74.8-48-3.1-7.5-74.8 48z"/>
<path fill="#0055ff" fill-rule="evenodd" d="M578 394.5l74.8-48-1.4 1.3-1.1 1.3-19.7 12.7-55.1 35.3 1.1-1.3zM574.9 396.2l.1 .5 74.8-48-2.4-5.9-1.5 .9-1 1.2-74.8 48 1.6-1.6 .9-.5zM569.4 392.1l.1 .3 74.8-48-2.4-5.4-1.1 .5-1.4 1.2-74.7 48.1 .7-.9 1.7-.9zM568.5 385.2l.3 0 70.1-45-2.4-4.9-.3-.1-1.7 .9-.3-.1-1.4-1.4-1.8-2.6-1.1 0-8.9-7.6-9.4-6.6-1.4-2.5-1.2-.1-1.1 .1-1.5-.8-2.5-4.7-.3-.3-.9 .2-1.4 .5-75.1 48.1 2-.7 .8 3.1 18.8-8.4 22.4-8.8 7.4-3.1 15.8-5.9 9.8-3.4 6.6-1.7 4.7-.6 1.5 .2 .7 .4 .5 .5 .2 1.1-.9 2.6-2.6 4-4.2 5.2-8.8 9.6-11.3 11.5-5.1 5.1-9.1 8.4-4.5 4.5-2.8 3.2zM562 386.5l20.9-20.6 8.1-8.4 5.9-6.5 4-4.9 2.3-3.5 1.1-2.8-.1-1.1-.4-.6-.9-.6-.9-.3-3.4 .2-5.2 1.1-7.4 2.3-21.2 7.8-33.7 13.8 3.1-.6 1.8 4.4 19.2-7.5 12.2-4.2 4.5-1.2 3.7-.7 2.7-.2 1.8 .5 .4 .6 .1 .7-.4 1.9-1.4 2.5-2.1 3-7.1 8.2-12.5 12.9 .9-.5 .8-1zM525.1 357.3l.2 .6 74.8-48-2.8-5.8-2.3 .8-75.1 48.2 1.1-.7 1.5-.3zM518.8 352.4l.1 .5 74.8-48-2.7-6.1-.3-.3-1.7 .8-1.1 1-74.8 48 .8-.8 2-1 .3 .3zM512.5 347.6l0 .3 74.8-48-2.9-6.9-74.8 48z"/>
<path fill="#00aaff" fill-rule="evenodd" d="M578 394.5l74.8-48-2.3 2.3-19.7 12.7-55.1 35.3zM574.6 395.4l.2 .7 74.8-48-2.2-5.3-2.3 1.8-74.8 48 1.7-1.5 .6-.3zM569.1 391.4l.2 .4 74.8-48-2.2-4.8-1.1 .5-75.1 48.2 1.4-.7zM569.6 383.6l68.9-44.1-2-4.2-.3-.1-1.7 .9-.3-.1-1.4-1.4-1.8-2.6-1.1 0-8.9-7.6-9.4-6.6-1.4-2.5-2.6 0-48.8 31.3-.6 .5 .1 .2 4.1-1.4 24.2-9.6 10.5-3.9 8.1-2.6 5.3-1.3 4-.6 2.6 .4 .6 .4 .3 .6 .1 .8-.4 1.5-1.5 2.9-3 4-4.7 5.6-6.7 7.2-2.8 2.7-3.9 4.3-9.1 9.2-6.2 5.5-5.8 5.5-3.5 3.8zM561.4 385.6l19.4-19.1 7.8-8.2 5.4-6 3.6-4.6 2.3-3.5 1-2.7-.1-1.1-.4-.6-.9-.6-.9-.3-3.3 .1-5 1.1-6.9 2.1-20.2 7.4-31.6 12.8 2.6-.6 1.4 3.7 19.8-7.8 13.8-4.8 4.5-1.3 3.7-.7 2.8-.2 1.8 .5 .4 .6 .1 .7-.4 1.9-1.4 2.6-2.2 3-8 9.2-13 13.4 1.3-1.4zM545.5 352.6l3-1.5 57.6-37-2.2-4.3-.3-.3-.6 .1-1.8 .6-74.8 48 1.8-.6 .7 2.6zM524.8 356.6l.2 .6 74.8-48-2.5-5.1-2.3 .8-74.8 48 2.3-.8zM518.5 351.7l.2 .5 74.8-48-2.5-5.4-.3-.3-1.7 .8-75.1 48.2 2-1zM512.2 346.9l.1 .3 74.8-48-2.7-6.2-74.8 48z"/>
<path fill="#00ffff" fill-rule="evenodd" d="M578 394.5l74.8-48-2.1 2-19.7 12.7-55.1 35.3zM574.6 395.4l74.8-47.9-2-4.7-2.1 1.5-74.8 48 1.5-1.2 .6-.3zM568.8 390.7l.2 .5 74.8-48-1.9-4.2-1.1 .5-75.1 48.2 1.4-.7zM571.1 381.8l67.1-43-1.7-3.5-.3-.1-1.5 .8-48.2 30.9-9.9 8.7-3.9 4.1zM560.8 384.6l.1 .2 1.1-1 16-16 7.7-8.1 5.7-6.4 3.9-4.9 2-3.4 .7-2.5-.1-.7-.5-.5-.9-.7-.8-.2-3.3 .1-4.7 .9-6.4 1.9-19.1 6.9-30.1 12.1 2.1-.5 1.1 3 20.2-8 14.1-5 5.8-1.7 3.7-.7 2.8-.2 1.8 .5 .4 .6 .1 .7-.5 1.9-1.4 2.6-2.8 3.8-8.4 9.5-13.3 13.5 1-1.1zM595.8 357.8l36.7-23.5-1.5-2.3-1.1 0-8.9-7.6-9.4-6.6-1.4-2.5-.3-.1-1.7 .1-46 29.5-.1 .4 4.2-1.5 5.5-2.1 9.8-4.4 .9-.1 .7-.5 .5 0 1.1-.6 .5 0 1-.5 16-5.5 5.9-1.7 3.9-.9 3.1-.4 2.2 .2 1.2 .9 .1 1.6-.8 2.1-2 3.3-6.4 7.8-7 7.6-2.6 2.4zM544.1 352.7l2.5-1.4 59.1-37.9-1.8-3.6-.3-.3-2.1 .5-74.8 48 1.5-.4 .5 2zM524.5 356l.2 .5 74.8-48-2.2-4.4-2.3 .8-74.9 48 2.4-.8zM518.2 351.1l.2 .4 74.8-48-2.2-4.7-.3-.3-1.7 .8-75.1 48.2 2-1zM511.9 346.1l.2 .5 74.8-48-2.5-5.6-74.8 48z"/>
<path fill="#55ffaa" fill-rule="evenodd" d="M578 394.5l74.8-48-1.9 1.7-19.7 12.7-55.1 35.3zM574.3 394.6l.1 .3 74.8-48-1.8-4.1-76.6 49.2 1.2-.9 .6-.3zM568.6 390l.2 .5 74.8-48-1.7-3.5-1.1 .5-75.1 48.2 1.4-.7zM573.1 379.3l.3 .1 .7-.4 63.8-40.9-1.4-2.8-.3-.1-1.2 .6-49.7 31.9-8.1 7zM560.3 383.6l.2 .4 13-13 9-9.4 6.3-7.1 3.8-4.9 2.1-3.3 .6-2.5-.1-.7-.5-.5-.9-.7-.8-.2-2.9 0-4.6 .8-6.2 1.8-18.4 6.6-28.3 11.3 1.6-.4 .8 2.3 21.9-8.7 14.2-5 5.8-1.7 3.7-.7 2.8-.2 1.8 .5 .4 .5 .1 .8-.5 1.9-1.4 2.5-2.9 3.9-8.4 9.5-14.5 14.7 .8-.9zM597.8 355.2l34.2-21.8-.7-1-.5-.6-.6 .2-25.7 16.5-3.9 3.5zM610.3 341.9l.2 .1 17.8-11.4-7-6-7-5-17.8 11.5 1.3-.3 2.3-1 .5 0 .7-.4 .5 0 .8-.4 .5 0 3.2-1 5.6-1.4 4.7-.5 1.5 .2 .7 .4 .5 .5 .2 1.1-.4 1.4-.8 1.8-3 4.4-3.4 4.5-.7 .5 0 .3zM578 338.2l2.2-1.1 31-19.9-1-1.9-1.5-.1-44.2 28.3 7.5-2.6zM542.6 352.8l62.8-40.2-1.5-2.8-.3-.3-1.7 .4-74.8 48 1.1-.3 .4 1.5 10.6-4.7 2.8-1.5zM524.2 355.4l.2 .3 74.8-48-1.9-3.6-2 .6-74.8 48 2-.6zM517.9 350.4l.2 .5 74.8-48-1.9-4.1-.3-.3-1.7 .8-75.1 48.2 2-1zM511.6 345.4l.2 .5 74.8-48-2.2-4.9-74.8 48z"/>
<path fill="#aaff55" fill-rule="evenodd" d="M578 394.5l74.8-48-1.6 1.5-19.8 12.6-55 35.4zM574 393.9l.1 .3 74.8-48-1.5-3.4-75.4 48.3 .6-.3zM568.3 389.4l.2 .4 74.8-48-1.4-2.8-1.1 .5-75 48.2 1.3-.7zM574.6 377.4l.7-.1 62.3-40-1.1-2-.3-.1-.9 .4-52.1 33.5-5.4 4.8zM560 383.1l5.6-5.4 10.6-10.8 10.9-12.2 3.1-4 2-3.3 .6-2.5-.1-.7-.5-.5-.9-.6-.8-.3-2.5 0-4.4 .7-6.1 1.7-17.2 6.1-27.3 10.8 1.2-.3 .6 1.6 25-9.9 8.7-3.1 7.6-2.4 6.7-1.5 2.6 0 1.2 .4 .5 .9-.3 1.8-.8 1.8-1.8 2.8-4.1 5-5.3 5.9-9.2 9.5-6.8 6.6zM600.1 352.5l31.3-20-.4-.5-.4-.1-27.8 17.8-1 .8zM576.9 338.1l33.8-21.8-.5-1-1-.1-41 26.3-.2 .3 1-.7 .4 .2 .9-.6 2.1-.6 2.4-1 1-.7zM538.7 354l1-.7 1.4-.5 63.8-41-1-2-.3-.3-1.3 .3-74.8 48 .7-.2 .3 .9zM523.9 354.8l.1 .2 74.8-48-1.5-2.9-1.7 .4-74.8 48 1.7-.4zM517.6 349.8l.2 .3 74.8-48-1.6-3.3-.3-.3-1.7 .8-74.8 48 1.7-.8zM511.3 344.8l.2 .5 74.8-48-1.9-4.3-74.8 48z"/>
<path fill="#ffff00" fill-rule="evenodd" d="M578 394.5l74.8-48-1.4 1.2-19.7 12.7-55.1 35.3zM573.7 393.3l.1 .2 74.8-48-1.2-2.7-75.1 48.1 .3-.1zM568 388.8l.1 .3 74.8-48-1-2.1-1 .5-74.8 48 1-.5zM576.1 375.6l61.1-39-.7-1.3-.8 .1-54 34.7-3.2 2.9zM559.4 382l.2 .4 11.5-11.5 7.9-8.5 5.9-6.7 3-4 2-3.3 .6-2.4-.2-.7-.5-.5-.8-.7-.9-.3-2.4 0-4.4 .7-5.5 1.5-17 5.9-25.3 10.1 .7-.2 .3 1 25-10 8.9-3.2 7.8-2.6 4.3-1.1 3.6-.7 2.6 0 1.3 .4 .3 .5 .1 .8-.5 2-1.4 2.5-2.3 3.1-4.5 5.3-5.5 6-15.4 15.4zM573.1 339.2l37.2-23.7-.1-.2-.3-.1-36.6 23.5-.3 .2zM537.1 354.2l67.4-43.2-.6-1.2-.3-.3-.8 .1-74.8 48 1.1 .1 6.3-2.7 1-.8zM523.3 353.7l.3 .6 74.8-48-1.1-2.2-1.3 .3-74.8 48 1.3-.3zM517.3 349.2l.1 .2 74.8-48-1.2-2.6-.3-.3-1.4 .6-74.8 48 1.4-.6zM511 344.1l.2 .5 74.8-48-1.6-3.6-74.8 48z"/>
<path fill="#ffaa00" fill-rule="evenodd" d="M578 394.5l74.8-48-1.1 1-19.7 12.6-55.1 35.4zM573.4 392.6l.1 .2 74.8-48-.9-2-75.1 48.1 .3-.1zM567.7 388.2l.1 .1 74.8-48-.7-1.3-.7 .3-74.8 48 .7-.3zM578.5 372.8l.7-.1 57.5-36.9-.2-.5-.4 0-54.5 34.9-2.2 1.5zM559.1 381.4l.1 .2 13.3-13.5-.3-.1-.4 .2-13 13zM572.2 367.9l.6-.2 .6-.6-.3-.1zM573.2 366.8l.5-.1 .7-.7-.6 .2zM574.3 365.7l.4-.1 .6-.6-.5 .2zM554.3 354.1l1.2-.8-21.6 8.5 .3 0 .1 .4 7.8-3.4 2.7-.9 .7-.5 .8-.1 1.1-.7 .2 .2 .6-.3 .7-.5 .8-.1 1-.7 .3 .2 .6-.2 .6-.6 .4 .2 .5-.2 1-.7zM533.2 355.4l1.3-.8 1-.4 68.6-44-.2-.4-.3-.3-.4 .1-73.2 47 .7-.4 .6 0 1.4-1zM523.1 353.1l.1 .4 74.8-48-.7-1.4-.9 .1-74.8 48 .9-.1zM517 348.6l74.9-47.9-.9-1.9-.3-.3-1 .4-74.8 48 1-.4zM510.7 343.5l.2 .4 74.8-48-1.3-2.9-74.8 48z"/>
<path fill="#ff5500" fill-rule="evenodd" d="M573.1 392l.1 .1 74.8-48-.6-1.3-75.1 48.1 .3-.1zM567.4 387.6l74.8-48-.3-.6-.4 .1-74.8 48 .4-.1zM522.8 352.6l74.8-47.9-.3-.6-.5 0-74.8 48 .5 0zM516.5 347.4l.2 .6 74.8-48-.5-1.2-.3-.3-.7 .3-74.8 48 .7-.3zM510.5 342.8l.1 .4 74.8-48-1-2.2-74.8 48z"/>
<path fill="#ff0000" fill-rule="evenodd" d="M572.8 391.4l74.9-48-.3-.6-75.1 48.1 .3-.1zM516.2 346.8l.2 .4 36.9-23.7 37.9-24.3-.2-.4-.3-.3-.3 .1-21.2 13.7-53.6 34.3 .3-.1zM510.2 342.2l.1 .2 74.8-48-.7-1.4-74.8 48z"/>
<path fill="#aa0000" fill-rule="evenodd" d="M509.9 341.6l74.8-47.9-.3-.7-74.8 48z"/></g>
<text x="507.40000000000003" y="348.4" font-size="9.85" text-anchor="end" fill="#111" font-weight="bold"  stroke="#111" stroke-width="0.28">0</text>
<text x="507.40000000000003" y="339.5" font-size="9.85" text-anchor="end" fill="#111" font-weight="bold"  stroke="#111" stroke-width="0.28">0.5</text>
<text transform="translate(488.0,341.1) rotate(-90)" y="3.5" font-size="9.85" text-anchor="middle" font-weight="bold" fill="#111" stroke="#111" stroke-width="0.28">z/µm</text>
<text transform="translate(510.2,356.9) rotate(36.0)" y="3.5" font-size="9.85" text-anchor="middle" font-weight="bold" fill="#111" stroke="#111" stroke-width="0.28">0.5</text>
<text transform="translate(540.2,379.4) rotate(36.0)" y="3.5" font-size="9.85" text-anchor="middle" font-weight="bold" fill="#111" stroke="#111" stroke-width="0.28">0</text>
<text transform="translate(540.7,394.4) rotate(38.0)" y="3.5" font-size="9.85" text-anchor="middle" font-weight="bold" fill="#111" stroke="#111" stroke-width="0.28">y/mm</text>
<text transform="translate(573.0,407.1) rotate(36.0)" y="3.5" font-size="9.85" text-anchor="middle" font-weight="bold" fill="#111" stroke="#111" stroke-width="0.28">−0.5</text>
<text transform="translate(587.9,403.4) rotate(-32.7)" y="3.5" font-size="9.85" text-anchor="middle" font-weight="bold" fill="#111" stroke="#111" stroke-width="0.28">3</text>
<text transform="translate(610.4,388.6) rotate(-32.7)" y="3.5" font-size="9.85" text-anchor="middle" font-weight="bold" fill="#111" stroke="#111" stroke-width="0.28">3.005</text>
<text transform="translate(632.2,374.3) rotate(-32.7)" y="3.5" font-size="9.85" text-anchor="middle" font-weight="bold" fill="#111" stroke="#111" stroke-width="0.28">3.01</text>
<text transform="translate(655.6,359.0) rotate(-32.7)" y="3.5" font-size="9.85" text-anchor="middle" font-weight="bold" fill="#111" stroke="#111" stroke-width="0.28">3.015</text>
<text transform="translate(642.3,385.6) rotate(-32.7)" y="3.5" font-size="9.85" text-anchor="middle" font-weight="bold" fill="#111" stroke="#111" stroke-width="0.28">x/mm</text>
<defs><linearGradient id="cbbii" x1="0" y1="0" x2="0" y2="1"><stop offset="0.0000" stop-color="#800000"/><stop offset="0.0625" stop-color="#bf0000"/><stop offset="0.1250" stop-color="#ff0000"/><stop offset="0.1875" stop-color="#ff4000"/><stop offset="0.2500" stop-color="#ff8000"/><stop offset="0.3125" stop-color="#ffbf00"/><stop offset="0.3750" stop-color="#ffff00"/><stop offset="0.4375" stop-color="#bfff40"/><stop offset="0.5000" stop-color="#80ff80"/><stop offset="0.5625" stop-color="#40ffbf"/><stop offset="0.6250" stop-color="#00ffff"/><stop offset="0.6875" stop-color="#00bfff"/><stop offset="0.7500" stop-color="#0080ff"/><stop offset="0.8125" stop-color="#0040ff"/><stop offset="0.8750" stop-color="#0000ff"/><stop offset="0.9375" stop-color="#0000bf"/><stop offset="1.0000" stop-color="#000080"/></linearGradient></defs>
<rect x="669.6" y="325.6" width="4.8" height="69.2" fill="url(#cbbii)"/>
<text x="676.4" y="397.8" font-size="9.85" text-anchor="start" fill="#111" font-weight="bold"  stroke="#111" stroke-width="0.28">0</text>
<text x="676.4" y="386.3" font-size="9.85" text-anchor="start" fill="#111" font-weight="bold"  stroke="#111" stroke-width="0.28">0.1</text>
<text x="676.4" y="374.7" font-size="9.85" text-anchor="start" fill="#111" font-weight="bold"  stroke="#111" stroke-width="0.28">0.2</text>
<text x="676.4" y="363.1" font-size="9.85" text-anchor="start" fill="#111" font-weight="bold"  stroke="#111" stroke-width="0.28">0.3</text>
<text x="676.4" y="351.7" font-size="9.85" text-anchor="start" fill="#111" font-weight="bold"  stroke="#111" stroke-width="0.28">0.4</text>
<text x="676.4" y="340.1" font-size="9.85" text-anchor="start" fill="#111" font-weight="bold"  stroke="#111" stroke-width="0.28">0.5</text>
<text x="682.2" y="319.59999999999997" font-size="9.85" text-anchor="middle" fill="#111" font-weight="bold"  stroke="#111" stroke-width="0.28">z/µm</text>
<circle cx="524" cy="304.1" r="6.1" fill="#fff" stroke="#555" stroke-width="0.8"/>
<text x="524" y="307.6" font-size="9.85" text-anchor="middle" fill="#111" font-weight="bold"  stroke="#111" stroke-width="0.28">ii</text>
<path d="M289.4 481.6L362.7 433.3" stroke="#cdcdcd" stroke-width="0.6" fill="none"/>
<path d="M362.7 433.3L433.3 484.3" stroke="#cdcdcd" stroke-width="0.6" fill="none"/>
<path d="M289.4 466.1L362.7 417.8" stroke="#cdcdcd" stroke-width="0.6" fill="none"/>
<path d="M362.7 417.8L433.3 468.8" stroke="#cdcdcd" stroke-width="0.6" fill="none"/>
<path d="M362.7 433.3L362.7 417.8" stroke="#cdcdcd" stroke-width="0.6" fill="none"/>
<path d="M433.3 484.3L433.3 468.8" stroke="#cdcdcd" stroke-width="0.6" fill="none"/>
<path d="M313.8 465.5L313.8 450.0" stroke="#dcdcdc" stroke-width="0.5" fill="none"/>
<path d="M386.2 450.3L386.2 434.8" stroke="#dcdcdc" stroke-width="0.5" fill="none"/>
<path d="M338.3 449.4L338.3 433.9" stroke="#dcdcdc" stroke-width="0.5" fill="none"/>
<path d="M409.8 467.3L409.8 451.8" stroke="#dcdcdc" stroke-width="0.5" fill="none"/>
<path d="M289.4 473.9L362.7 425.6" stroke="#e0e0e0" stroke-width="0.5" fill="none"/>
<path d="M362.7 425.6L433.3 476.6" stroke="#e0e0e0" stroke-width="0.5" fill="none"/>
<path d="M289.4 481.6L289.4 466.1" stroke="#4a4a4a" stroke-width="0.7" fill="none"/>
<path d="M289.4 481.6L360.0 532.6" stroke="#4a4a4a" stroke-width="0.7" fill="none"/>
<path d="M360.0 532.6L433.3 484.3" stroke="#4a4a4a" stroke-width="0.7" fill="none"/>
<g id="s_biii"><path fill="#0000b3" d="M360 532.6l73.3-48.3-70.6-51-73.3 48.3 70.6 51z"/>
<path fill="#001aff" fill-rule="evenodd" d="M364.4 529.7l1.8-1.2 .9-1-2.8 1-1.4 1.7zM373.1 524l1.8-1.2 .9-1-2.9 1-1.3 1.7zM381.7 518.3l1.8-1.2 .9-1-2.6 .9-1.6 1.8zM390.4 512.6l1.8-1.2 .9-1-2.8 .9-1.4 1.8zM399 506.9l1.8-1.2 .9-1-2.8 .9-1.4 1.8zM407.7 501.2l1.8-1.2 .9-1-2.9 1-1.3 1.7zM416.3 495.5l1.8-1.2 .9-1-2.9 1-1.3 1.7zM425 489.8l1.8-1.2 .9-1-2.7 .9-1.5 1.8zM432.1 484.6l1.1-.4-.5-.4zM360 531.4l1.7-2-2.8 1.1-.7 .8 .7 .5zM377.5 519.8l1.5-1.8-2.6 1-1.8 1.9zM386 514.2l1.7-1.9-2.7 1-1.7 1.9zM394.6 508.6l1.7-2-2.7 1.1-1.7 1.8zM403.2 502.9l1.7-2-2.7 1.1-1.6 1.8zM420.7 491.3l1.5-1.8-2.6 1-1.7 1.9zM429.2 485.7l1.7-1.9-2.7 1-1.7 1.9zM367.2 526.2l1.7-.7 1.5-1.8-2.9 1.2-1.5 1.7zM410.4 497.7l1.8-.7 1.4-1.8-2.8 1.2-1.6 1.7zM362.8 527.9l.7-.4 1.1-1.2-.1-.3-2.4 .9-1.3 1.5 .5 .1zM371.4 522.2l.7-.3 1.2-1.3-.2-.3-2.1 .8-1.5 1.6 .4 .1zM380.1 516.5l.6-.3 1.2-1.3-.1-.3-2.2 .8-1.5 1.6 .5 .1zM388.7 510.8l.6-.2 1.3-1.4-.2-.3-2.2 .8-1.4 1.6 .4 .1zM397.4 505.1l.5-.2 1.3-1.4-.1-.3-2.3 .9-1.4 1.5 .5 .1zM406 499.4l.8-.4 1.1-1.2-.2-.3-2.3 .9-1.3 1.5 .4 .1zM414.7 493.7l.7-.3 1.1-1.3-.1-.3-2.1 .8-1.6 1.6 .5 .1zM423.3 488l.7-.3 1.2-1.3-.2-.3-2.2 .8-1.4 1.6 .4 .1zM430.5 482.9l.5-.2-.5-.5-.5 .6zM356.9 530.1l1-.3 1.6-1.8-2.8 .9-.7 .8zM365.6 524.4l1.1-.5 1.4-1.6-2.8 1-1.2 1.7zM374.2 518.7l1.1-.5 1.5-1.6-.9 .2-2 .8-1.2 1.7zM382.8 513l1.1-.4 1.5-1.7-2.6 .9-1.2 1.2-.2 .6zM391.5 507.3l1-.4 1.5-1.7-2.6 .9-1.1 1.2-.3 .6zM400.1 501.6l1-.3 1.6-1.8-2.7 .9-1.1 1.2-.2 .6zM408.8 495.9l1.2-.5 1.3-1.6-2.7 1-1.3 1.7zM417.4 490.2l1.2-.5 1.4-1.6-.8 .2-2 .8-1.2 1.7zM426.1 484.5l1.1-.4 1.4-1.7-2.6 .9-1.2 1.2-.2 .6zM359.7 526.7l1.4-.6 1.8-2-3 1.2-1.6 1.9zM368.4 521l1.5-.7 1.7-1.9-3.1 1.3-1.6 1.8zM377 515.3l1.5-.7 1.7-1.9-2.8 1.1-1.8 2zM385.7 509.6l1.4-.6 1.8-2-2.9 1.1-1.8 2zM394.3 503.9l1.4-.6 1.8-2-2.9 1.2-1.7 1.9zM403 498.2l1.3-.6 1.9-2-3 1.2-1.7 1.9zM411.6 492.5l1.6-.7 1.6-1.9-3 1.3-1.7 1.8zM420.2 486.8l1.6-.7 1.7-1.9-2.9 1.1-1.8 2zM427.4 481.6l1.5-.5-.6-.4zM355.3 528.3l.7-.4 1.1-1.6-2.6 1-.7 .8 .7 .5zM364 522.6l.7-.4 1.1-1.6-2.7 1.1-1.4 1.6zM372.6 516.9l.7-.4 1.1-1.6-2.7 1.1-1.4 1.6zM381.3 511.2l.7-.4 1.1-1.6-2.8 1.2-1.3 1.5zM389.9 505.5l.7-.4 1.1-1.6-2.5 1-1.6 1.7zM398.6 499.8l.7-.4 1.1-1.6-2.6 1-1.5 1.7zM407.2 494.1l.7-.4 1.1-1.6-2.6 1.1-1.5 1.6zM415.9 488.4l.7-.4 1.1-1.6-2.7 1.2-1.4 1.5zM424.5 482.7l.7-.4 1.1-1.6-2.7 1.2-1.4 1.5zM358.2 524.8l.9-.5 1.2-1.3-.3-.2-2.3 .9-1.2 1.4 .2 .3zM366.8 519.1l.9-.4 1.3-1.4-.4-.2-2.3 1-1.2 1.3 .3 .3zM375.5 513.4l.8-.4 1.3-1.4-.3-.2-2.4 1-1.1 1.3 .2 .3zM384.1 507.7l.8-.3 1.4-1.5-.4-.2-2.2 .8-1.3 1.5 .3 .3zM392.8 502l.7-.3 1.4-1.5-.3-.2-2.3 .9-1.2 1.4 .2 .3zM401.4 496.3l1-.5 1.2-1.3-.4-.2-2.3 .9-1.2 1.4 .3 .3zM410.1 490.6l.9-.4 1.2-1.4-.3-.2-2.4 1-1.1 1.3 .2 .3zM418.7 484.9l.9-.4 1.3-1.4-.4-.2-2.1 .8-1.4 1.5 .3 .3zM425.9 479.8l.8-.3-.6-.4-.4 .4zM352.4 527l1.1-.4 1.6-1.8-2.8 .9-.7 .8zM361 521.3l1.3-.6 1.5-1.6-2.9 1-1.3 1.7zM369.7 515.6l1.2-.5 1.5-1.7-2.9 1-1.3 1.7zM378.3 509.9l1.2-.5 1.6-1.7-2.8 .8-1.4 1.9zM387 504.2l1.1-.4 1.6-1.8-2.8 .9-1.4 1.8zM395.6 498.5l1.1-.4 1.7-1.8-2.9 .9-1.3 1.8zM404.3 492.8l1.3-.6 1.4-1.6-2.9 1-1.3 1.7zM412.9 487.1l1.3-.5 1.5-1.7-3 1-1.2 1.8zM421.6 481.4l1.2-.5 1.5-1.7-2.7 .9-1.5 1.9zM382.7 505.8l1.8-2-3 1.1-1.8 2zM391.3 500.1l1.8-2-2.7 1-.3 .1-1.7 2zM355.2 523.5l1.4-.6 1.9-2-3.1 1.2-1.6 1.9zM363.9 517.8l1.6-.7 1.7-1.9-3.2 1.2-1.6 1.9zM372.5 512.1l1.6-.7 1.7-1.9-2.9 1.1-1.8 2zM398.5 495l1.4-.5 1.9-2.1-3.1 1.2-1.7 1.9zM407.1 489.3l1.7-.7 1.6-1.9-3.1 1.2-1.6 1.9zM415.8 483.6l1.6-.7 1.7-1.9-2.9 1.1-1.9 2zM424.4 477.9l-.6-.5-.8 1zM350.9 525.1l.6-.4 1.4-1.7-2.9 1.1-.7 .8 .8 .5zM359.6 519.4l.5-.3 1.5-1.8-3 1.1-1.6 1.9zM368.2 513.7l.5-.2 1.5-1.9-3 1.2-1.5 1.8zM376.9 508l.4-.2 1.6-1.9-3.1 1.2-1.5 1.8zM385.5 502.3l.4-.1 1.6-2-2.9 1-1.6 2zM394.2 496.6l.5-.3 1.5-1.8-3 1.1-1.6 1.9zM402.8 490.9l.5-.3 1.5-1.8-3 1.1-1.5 1.9zM411.5 485.2l.5-.2 1.5-1.9-3 1.2-1.6 1.8zM420.1 479.5l.5-.2 1.5-1.9-3 1.2-1.5 1.8zM353.8 521.5l.9-.4 1.1-1.2 .1-.6-2.8 1.1-1.5 1.8zM362.5 515.9l.8-.4 1.1-1.3 .2-.6-2.9 1.2-1.4 1.7zM371.1 510.2l.8-.4 1.2-1.3 .1-.6-2.8 1.2-1.5 1.7zM379.8 504.5l.7-.3 1.2-1.4 .2-.6-2.7 1-1.6 1.9zM388.4 498.8l.9-.5 1.1-1.2 .1-.6-2.7 1.1-1.6 1.8zM397.1 493.1l.8-.5 1.1-1.2 .2-.6-2.8 1.1-1.5 1.8zM405.7 487.4l.8-.4 1.2-1.3 .1-.6-2.8 1.2-1.5 1.7zM414.4 481.7l.7-.4 1.2-1.3 .2-.6-2.9 1.2-1.4 1.7zM421.6 476.5l.6-.2-.7-.5-.7 .8zM348.1 523.7l1.2-.6 1.2-1.4-.1-.3-2.7 1-.7 .8 .8 .6zM356.8 518l1.1-.5 1.2-1.5-.1-.3-2.7 1.1-1.4 1.6 .4 .1zM365.4 512.3l1.1-.5 1.3-1.5-.1-.3-2.8 1.1-1.4 1.6 .5 .1zM374.1 506.6l1-.4 1.3-1.6-.1-.3-2.8 1.2-1.3 1.5 .4 .1zM382.7 500.9l1-.4 1.4-1.6-.1-.3-2.7 1-1.5 1.7 .5 .1zM391.4 495.2l1.1-.6 1.2-1.4-.1-.3-2.7 1-1.4 1.7 .4 .1zM400 489.5l1.1-.5 1.3-1.5-.1-.3-2.8 1.1-1.4 1.6 .5 .1zM408.7 483.8l1-.5 1.3-1.5-.1-.3-2.8 1.1-1.3 1.6 .4 .1zM417.3 478.1l1-.4 1.4-1.6-.1-.3-2.9 1.2-1.3 1.5 .5 .1zM351.1 520.1l1.3-.6 1.4-1.6-.3-.2-2.7 1-1.4 1.7 .3 .2zM359.7 514.4l1.3-.6 1.4-1.6-.3-.2-2.7 1.1-1.4 1.6 .3 .2zM368.4 508.7l1.2-.5 1.5-1.7-.3-.2-2.5 .9-1.6 1.8 .3 .2zM377 503l1.2-.5 1.5-1.7-.3-.2-2.6 .9-1.5 1.8 .3 .2zM385.7 497.3l1.1-.4 1.6-1.8-.3-.2-2.7 1-1.4 1.7 .3 .2zM394.3 491.6l1.4-.6 1.3-1.6-.3-.2-2.7 1-1.4 1.7 .3 .2zM403 485.9l1.3-.6 1.4-1.6-.3-.2-2.8 1.1-1.3 1.6 .3 .2zM411.6 480.2l1.3-.5 1.4-1.7-.3-.2-2.5 .9-1.6 1.8 .3 .2zM418.9 475l1-.4-.7-.5-.6 .7zM345.5 522.1l1.2-.4 1.7-1.9-.3-.2-2.8 1.1-.7 .8zM354.1 516.5l1.5-.7 1.5-1.7-.4-.2-2.8 1.1-1.5 1.7 .3 .3zM362.7 510.8l1.5-.6 1.5-1.8-.4-.2-2.8 1.2-1.4 1.6 .2 .3zM371.4 505.1l1.4-.6 1.6-1.8-.4-.2-2.7 1-1.6 1.8 .3 .3zM380 499.4l1.4-.5 1.6-1.9-.4-.2-2.7 1-1.5 1.8 .2 .3zM388.7 493.7l1.3-.5 1.7-1.9-.4-.2-2.8 1.1-1.5 1.7 .3 .3zM397.3 488l1.5-.7 1.5-1.7-.4-.2-2.8 1.1-1.4 1.7 .2 .3zM406 482.3l1.4-.6 1.6-1.8-.4-.2-2.9 1.2-1.4 1.7 .3 .2zM414.6 476.6l1.4-.6 1.6-1.8-.4-.2-2.6 1-1.6 1.9 .2 .2zM375.9 500.9l1.7-1.9-.3-.2-2.9 1-1.6 1.9 .2 .3zM384.5 495.2l1.7-1.9-.3-.2-2.9 1-1.6 1.9 .3 .3zM348.5 518.5l1.3-.5 1.8-1.9-.3-.2-2.9 1.1-1.6 1.8 .3 .3zM357.1 512.8l1.6-.6 1.6-1.8-.3-.2-3 1.1-1.5 1.8 .2 .3zM365.8 507.1l1.5-.6 1.6-1.8-.3-.2-2.8 .9-1.7 2 .3 .3zM391.7 490l1.4-.5 1.8-1.9-.3-.2-3 1.1-1.5 1.8 .2 .3zM400.4 484.3l1.6-.6 1.5-1.8-.3-.2-3 1.1-1.5 1.8 .3 .3zM409 478.6l1.6-.6 1.6-1.8-.3-.2-2.8 .9-1.7 2 .2 .3zM416.3 473.5l1.3-.5-.8-.7-.8 .9zM344.3 520.1l1.8-2.1-.1-.3-3.2 1.2-.7 .8 1.1 .8zM361.8 508.5l1.6-1.9-.1-.3-3 1.1-1.9 2.2 .5 .1zM370.3 502.9l1.8-2-.1-.3-3.1 1.1-1.9 2.2 .5 .1zM378.9 497.3l1.8-2.1-.1-.3-3.2 1.1-1.7 2.2 .5 .1zM387.6 491.6l1.8-2.1-.1-.3-3.3 1.2-1.7 2.1 .5 .1zM405 480.1l1.7-2-.1-.3-3.1 1.1-1.9 2.2 .5 .1zM413.6 474.4l1.7-2-.1-.3-3.1 1.1-1.8 2.2 .5 .1zM351.6 514.9l1.7-.7 1.5-1.9-.1-.3-3.3 1.2-1.7 2.1 .5 .1zM394.8 486.4l1.7-.7 1.5-1.9-.1-.3-3.3 1.2-1.6 2.1 .5 .1zM347.5 516.3l1.7-1.9 .3-.6-3.7 1.3-1.9 2.4zM364.9 504.9l1.9-2.5-3.5 1.2-2.1 2.5zM373.5 499.2l1.7-1.9 .2-.6-3.6 1.2-1.9 2.5zM382.1 493.5l1.7-1.9 .3-.6-3.7 1.3-1.9 2.4zM390.7 487.9l1.8-2 .2-.6-3.7 1.3-1.8 2.4zM408.2 476.4l1.8-2.5-3.5 1.2-2 2.5zM354.8 511.1l1.6-.6 1.7-2.4-3.7 1.4-1.8 2.3zM398 482.6l1.6-.6 1.8-2.4-3.7 1.4-1.9 2.3zM414 471.7l1.3-.4-1.1-.8-1.1 1.4zM340.8 518.7l1.2-.4 2.3-2.7-4.1 1.4-.7 .8zM349.4 513l1.5-.6 2-2.5-4.1 1.4-2.1 2.7zM358 507.3l1.5-.5 2.1-2.6-4.2 1.5-2 2.6zM366.7 501.6l1.4-.5 2.1-2.6-4 1.3-2.2 2.8zM375.3 495.9l1.4-.4 2.2-2.7-4.1 1.3-2.1 2.8zM384 490.2l1.2-.4 2.3-2.7-4.1 1.4-2.1 2.7zM392.6 484.6l1.5-.7 2.1-2.5-4.2 1.4-2 2.7zM401.3 478.9l1.4-.6 2.1-2.6-4.2 1.5-2 2.6zM409.9 473.2l1.4-.6 2.2-2.6-4 1.3-2.2 2.8zM344.1 514.9l1.2-.6 1.8-2.2-.3-.2-3.7 1.3-1.8 2.3 .2 .3zM352.8 509.2l1.1-.5 1.9-2.3-.3-.2-3.8 1.3-1.8 2.3 .3 .3zM361.4 503.5l1.1-.4 1.9-2.4-.3-.2-3.8 1.4-1.7 2.2 .2 .3zM370.1 497.8l1-.4 2-2.4-.3-.2-3.7 1.2-1.9 2.4 .3 .3zM378.7 492.1l1-.4 2-2.4-.3-.2-3.7 1.2-1.8 2.4 .2 .3zM387.4 486.4l1.2-.6 1.8-2.2-.3-.2-3.8 1.3-1.8 2.3 .3 .3zM396 480.7l1.2-.5 1.8-2.3-.3-.2-3.8 1.3-1.7 2.3 .2 .3zM404.7 475l1.1-.4 1.9-2.4-.3-.2-3.6 1.1-2 2.5 .3 .3zM412 469.7l.8-.2-1.3-.9-1 1.3 .2 .3zM339 516.6l.7-.4 2.1-2.7-4.5 1.4-.6 .8 1.6 1.2zM347.6 510.9l.7-.3 2.2-2.8-4.6 1.5-2 2.9zM356.3 505.2l.6-.3 2.2-2.8-4.6 1.5-1.9 2.9zM364.9 499.5l.6-.2 2.3-2.8-4.4 1.2-2.2 3.1zM373.6 493.8l.5-.2 2.3-2.8-4.5 1.3-2 3zM382.2 488.1l.8-.4 2.1-2.6-4.6 1.3-2 3zM390.9 482.4l.7-.3 2.1-2.7-4.5 1.4-2 2.9zM399.5 476.7l.7-.3 2.2-2.7-4.6 1.4-2 2.9zM408.2 471l.6-.2 2.1-2.7-4.3 1.1-2.1 3.1zM341.5 513l1.2-.6 2.2-2.9-4.9 1.4-2.1 3.2zM350.1 507.3l1.2-.5 2.2-3-4.9 1.5-2 3.1zM358.8 501.6l1.1-.5 2.3-3-4.7 1.3-.3 .2-2 3.1zM367.4 495.9l1.1-.4 2.3-3.1-4.8 1.3-2.1 3.3zM376.1 490.2l1-.4 2.4-3.1-4.9 1.4-2.1 3.2zM384.7 484.5l1.2-.6 2.2-2.9-4.9 1.4-2 3.2zM393.4 478.8l1.1-.5 2.3-3-4.9 1.5-2.1 3.1zM402 473.1l1.1-.4 2.3-3.1-4.7 1.3-.2 .3-2 3zM409.5 467.8l.6-.3-1.6-1.1-1.4 2.1zM371.3 491.6l2.2-3-.4-.2-4.6 1.2-1.8 3.1 .2 .3zM335.6 514.8l1.3-.6 2-2.8-.4-.2-4.7 1.2-.4 .9zM344.2 509.1l1.3-.5 2.1-2.9-.4-.2-4.7 1.3-1.8 3 .2 .3zM352.9 503.4l1.2-.5 2.1-2.9-.4-.2-4.4 1.1-.3 .2-1.7 3 .2 .3zM361.5 497.7l1.3-.4 2.1-3-.4-.2-4.6 1.1-1.9 3.2 .2 .3zM378.8 486.3l1.4-.6 2-2.8-.4-.2-4.7 1.2-1.8 3.1 .2 .3zM387.5 480.6l1.3-.5 2-2.9-.4-.2-4.7 1.3-1.7 3 .2 .3zM396.1 474.9l1.3-.5 2.1-2.9-.4-.2-4.5 1.1-.3 .2-1.7 3 .2 .3zM404.8 469.2l1.2-.4 2-2.8-.4-.3-4.4 1-1.9 3.2 .1 .3zM338.8 510.7l.9-.4 1.9-3.1-.2-.3-5.7 1-1.4 3.7 .4 .1zM347.4 505l.9-.4 1.9-3.1-.1-.3-5.4 .8-.3 .2-1.5 3.7 .5 .1zM356.1 499.3l.8-.3 2-3.2-.2-.3-5.5 .8-.2 .3-1.4 3.6 .4 .1zM364.7 493.6l.8-.3 2-3.2-.1-.3-5.6 .8-1.6 3.9 .6 .1zM373.4 487.9l.9-.5 1.8-2.9-.1-.4-5.6 .9-1.5 3.8 .4 .1zM382 482.2l.9-.4 1.9-3.1-.1-.3-5.7 1-1.5 3.7 .5 .1zM390.7 476.5l.8-.4 1.9-3.1-.1-.3-5.4 .8-.3 .2-1.4 3.7 .4 .1zM399.3 470.8l.8-.3 2-3.2-.1-.3-5.5 .8-.2 .3-1.5 3.6 .5 .1zM406.9 465.3l-2.3-1.8-1.1 2.5 .5 .1zM333.1 512l1.5-2.4 .5-1.8-3.5-.1-2-.8-.8-.7-.4-.9-.1-2.4-2.5 .3-3.5 .9-.5 .9 10 7.2zM341.7 506.3l1.5-2.4 .5-1.8-3.5-.1-2-.8-1.1-1.3-.2-2.7-2.5 .3-3.5 .9-1.2 2.4-.6 1.5 3.9 .3 1.9 .8 .9 1.4 .1 2.5 2.2-.2zM350.5 500.5l1.3-2.2 .6-1.9-3.5-.1-2-.8-1.1-1.3-.3-2.7-2.6 .4-3.1 .7-.3 .2-1.1 2.1-.6 1.7 3.9 .3 1.8 .8 1 1.4 0 2.5 2.7-.3zM359.1 494.8l1.5-2.5 .4-1.6-3-.1-2.5-.8-1.1-1.3-.2-2.7-2.7 .4-3.2 .7-.2 .3-1.1 2.1-.6 1.6 3.4 .2 1.4 .4 1 .5 .9 1.4 .1 2.5 2.5-.3zM367.7 489.2l.2-.1 1.3-2.4 .5-1.7-3.5-.1-2-.8-.8-.7-.4-.9-.2-2.4-5.9 1.1-1.3 2.4-.5 1.6 3.4 .2 1.3 .4 1 .5 1 1.4 0 2.5 2.5-.3zM376.3 483.5l1.5-2.4 .5-1.8-3.5-.1-2-.8-.7-.7-.5-.9-.1-2.4-2.5 .3-3.5 .9-1.3 2.4-.5 1.5 3.9 .3 1.9 .8 .7 .8 .3 1 0 2.1 2.3-.3zM385 477.8l1.4-2.4 .6-1.8-3.5-.1-2-.8-1.1-1.3-.3-2.7-2.5 .3-3.5 .9-1.2 2.4-.5 1.5 3.9 .3 1.8 .8 1 1.4 0 2.5 2.3-.2zM393.7 472l1.4-2.2 .5-1.9-3.5-.1-2-.8-1.1-1.3-.2-2.7-2.6 .4-3.2 .7-.2 .2-1.2 2.1-.6 1.7 3.4 .2 1.4 .4 1 .5 .9 1.4 .1 2.5 2.6-.3zM402.3 466.3l1.8-3.1-1.3-1-2.5-.2-1.5-.7-1.1-1.3-.2-1.6-.8-.6-.5-.3-1.1 .1-3.5 .8-.2 .3-1.2 2.1-.5 1.6 3.4 .2 1.3 .4 1 .5 1 1.4 0 2.5 2.6-.3zM335.1 507.4l.3-.6-.1-1.4-.3-.8-.7-.8-1-.6-1.3-.3-3 .1 0 2.1 .4 .7 .7 .8 2 .7zM352.5 495.9l.1-2.1-1-1.4-2.1-.8-3.1-.2-.2 .9 .1 1.2 .4 .9 .7 .8 2.3 .7zM361.1 490.3l.2-.8-.1-1.4-.9-1.4-1-.6-1.3-.3-3-.1-.1 2.1 .4 .9 .8 .8 2 .7zM369.7 484.6l.3-.6-.1-1.5-.3-.7-.7-.8-1-.6-1.3-.3-3 0 0 2.1 .4 .8 .7 .8 2 .7zM378.3 478.9l.3-.6 0-1.4-.3-.8-.7-.8-1-.6-1.4-.3-3 .1 .1 2.1 .3 .7 .8 .8 2 .7zM395.7 467.4l.2-.9-.1-1.2-.9-1.4-2.1-.8-3.1-.2-.3 .9 .1 1.2 .4 .9 .8 .8 2 .7zM343.1 501.7l.8-.2 .1-1.2-.3-1.4-.7-.8-1-.6-1.4-.3-2.3-.1-.7 .2 0 1.9 .9 1.5 1.8 .8zM386.3 473.2l.9-.2 .1-1.2-.4-1.4-.7-.8-1-.6-1.3-.3-2.4-.1-.6 .3 0 1.8 .8 1.5 1.9 .8zM401.8 461.8l.4 0-.2-.1-3.9-2.9 .3 1.2 .6 .8 1 .5zM328.2 502.5l.4-.3 1.5-3.8-5.4 1.5-2.2 3.5zM337.1 496.6l1.7-3.9-5.2 1.3-2.4 3.7zM345.6 491l1.8-4-5.3 1.3-2.3 3.7zM354.2 485.4l.2 0 1.6-4.1-5.3 1.4-2.2 3.6zM362.8 479.7l.4-.3 1.5-3.8-5.4 1.4-2.2 3.6zM371.5 474l.3-.3 1.5-3.8-5.4 1.5-2.1 3.5zM380.3 468.2l1.7-4-5.2 1.3-2.4 3.7zM388.9 462.5l1.7-4-5.2 1.3-2.3 3.7zM395.2 457.2l.5-.1-2.5-1.8-1.5 2.5zM321.6 503.6l2.1-3.4-4.5 1.2-.4 .1-.6 .9 2.1 1.5zM347.7 486.4l1.9-3.3-.7 .1-4 1.2-2.1 2.7-.1 .6zM356.2 480.8l2.1-3.4-.7 .1-4.2 1.2-1.9 2.8-.1 .5zM390.9 457.9l1.8-3-.5-.2-4.1 1.2-2 2.7-.1 .6zM329.3 498.1l1.2-.4 1.8-3.2-4.9 1.4-1.9 2.7-.1 .5zM338 492.4l1.1-.3 1.9-3.3-5 1.5-1.8 2.6-.1 .5zM363.9 475.3l1-.2 .2-.3 1.8-3.1-4.9 1.4-1.9 2.7-.1 .5zM372.6 469.6l1.1-.4 1.9-3.2-4.9 1.4-1.9 2.7-.1 .5zM381.2 463.9l1.1-.3 1.9-3.3-1.8 .4-3.1 1.1-1.9 2.6-.1 .5zM323.3 499.6l1-.4 1.8-2.6-.1-.3-4.3 1.4-2.1 2.7 .5 .1zM332 493.9l.9-.4 1.8-2.6-.1-.3-4.3 1.4-2.1 2.7 .5 .1zM340.6 488.2l1-.3 1.8-2.7-.1-.3-4.4 1.5-2 2.6 .5 .1zM349.3 482.5l.9-.2 1.8-2.8-.1-.3-4.2 1.3-.2 .3-2 2.6 .5 0zM357.9 476.8l1.1-.5 1.7-2.5-.1-.3-4.3 1.3-2.1 2.9 .5 0zM366.6 471.1l1-.4 1.7-2.6-.1-.3-4.3 1.4-2.1 2.8 .5 0zM375.2 465.4l1-.3 1.8-2.7-.1-.3-4.4 1.4-2 2.8 .5 0zM383.9 459.7l.9-.3 1.8-2.7-.1-.3-4.4 1.5-2 2.7 .5 0zM391.4 454.3l.3-.1-1.6-1.1-1.3 1.8 .5 0zM317.8 501.2l.6-.3 1.8-2.5-.3-.2-3.8 1.3-.7 .8 1.5 1.2zM326.5 495.5l.5-.3 1.8-2.5-.2-.2-4 1.4-1.9 2.5 .3 .2zM335.1 489.8l.5-.2 1.9-2.6-.3-.2-3.7 1.2-2.2 2.7 .4 .2zM343.8 484.1l.4-.2 1.9-2.6-.2-.2-3.8 1.3-2.1 2.6 .3 .2zM352.4 478.4l.5-.1 1.9-2.7-.3-.2-3.8 1.3-2.1 2.6 .4 .2zM361.1 472.7l.6-.3 1.7-2.5-.2-.2-3.9 1.3-2 2.6 .3 .2zM369.7 467l.6-.3 1.8-2.5-.3-.2-3.9 1.4-2 2.5 .4 .2zM378.4 461.3l.5-.2 1.8-2.6-.2-.2-3.8 1.2-2.1 2.7 .3 .2zM387 455.6l.5-.2 1.9-2.6-.3-.2-3.8 1.3-2.1 2.6 .4 .2zM320.7 497.3l.6-.3 1.9-2.6-4.2 1.4-2 2.7zM329.3 491.6l.6-.3 2-2.6-4.3 1.4-1.9 2.7zM338 485.9l.5-.2 2-2.7-4.3 1.5-1.9 2.6zM346.6 480.2l.5-.2 2.1-2.7-4.1 1.3-.3 .2-1.8 2.6zM355.2 474.5l.7-.4 1.9-2.5-4.1 1.3-2.1 2.8zM363.9 468.8l.6-.3 2-2.6-4.2 1.4-2 2.7zM372.5 463.1l.6-.3 2-2.6-4.2 1.4-2 2.7zM381.2 457.4l.5-.2 2.1-2.7-4.3 1.5-1.9 2.6zM388.6 452.1l-1.2-.9-1.2 1.7zM314.6 499.3l1-.5 1.6-2.1-.1-.3-3.6 1.3-.7 .8 1.3 .9zM323.2 493.6l1-.5 1.6-2.1-.1-.3-3.6 1.4-1.9 2.2 .5 .1zM331.9 487.9l.9-.4 1.7-2.2-.1-.3-3.7 1.4-1.8 2.2 .5 .1zM340.5 482.2l.9-.3 1.7-2.3-.1-.3-3.7 1.5-1.8 2.1 .5 .1zM349.2 476.5l.8-.3 1.8-2.2-.1-.4-3.6 1.3-1.9 2.3 .5 .1zM357.8 470.8l1-.5 1.6-2-.1-.4-3.6 1.3-1.9 2.3 .5 .1zM366.5 465.1l.9-.5 1.7-2-.1-.4-3.7 1.4-1.8 2.2 .5 .1zM375.1 459.4l.9-.4 1.7-2.1-.1-.4-3.7 1.4-1.8 2.2 .5 .1zM383.8 453.7l.8-.3 1.8-2.2-.1-.4-3.8 1.5-1.7 2.1 .5 .1zM318.2 495.3l2.2-2.7-3.8 1.4-2.1 2.4zM326.9 489.5l2.1-2.6-3.5 1.3-2.3 2.5zM335.6 483.8l2.1-2.6-3.7 1.3-2.2 2.5zM344.2 478.1l2.1-2.6-3.7 1.3-2.1 2.5zM352.8 472.5l2.2-2.7-3.8 1.4-2.1 2.4zM361.4 466.8l2.2-2.7-3.8 1.4-2 2.4zM370.2 461l2.1-2.6-3.6 1.3-2.3 2.5zM378.8 455.3l2.1-2.6-3.6 1.3-2.2 2.5zM384.8 450.5l1.2-.4-1-.7-1.3 1.4zM311.8 497.5l.9-.4 2.1-2.5-3.7 1.4-.7 .8 1.1 .7zM320.4 491.8l1.1-.6 1.9-2.3-3.7 1.4-1.9 2.4zM329.1 486.1l1.1-.5 1.9-2.4-3.8 1.5-1.9 2.3zM337.7 480.4l1.1-.4 1.9-2.5-3.6 1.3-2 2.5zM346.4 474.7l1-.4 2-2.4-3.7 1.2-2 2.5zM355 469l1.2-.6 1.8-2.2-3.7 1.3-1.9 2.4zM363.6 463.3l1.2-.5 1.9-2.3-3.8 1.3-1.9 2.4zM372.3 457.6l1.1-.5 1.9-2.3-3.8 1.4-1.8 2.3zM380.9 451.9l1.1-.4 2-2.4-3.6 1.2-2.1 2.5zM315.1 493.6l.9-.4 1.7-2.1-3.5 1.2-1.7 2.2zM323.8 487.9l.8-.4 1.8-2.1-3.6 1.3-1.7 2.1zM332.4 482.2l.8-.3 1.8-2.2-3.6 1.3-1.6 2.1zM341.1 476.5l.7-.3 1.9-2.2-3.4 1.1-1.9 2.3zM349.7 470.8l.7-.2 1.9-2.3-3.4 1.2-1.8 2.2zM358.4 465.1l.8-.4 1.8-2.1-3.5 1.2-1.8 2.2zM367 459.4l.8-.4 1.8-2.1-3.5 1.3-1.7 2.1zM375.7 453.7l.7-.3 1.9-2.2-3.6 1.3-1.7 2.1zM383 448.5l.5-.2-.9-.6-.9 1.2zM309.8 495.5l.7-.4 1.6-1.9-3.3 1.1-.7 .8 .9 .7zM318.5 489.8l.6-.4 1.6-1.9-3.3 1.1-1.6 2.1zM327.1 484.1l.6-.3 1.7-2-3.4 1.2-1.6 2zM335.8 478.4l.5-.2 1.7-2.1-3.4 1.3-1.5 1.9zM344.4 472.7l.5-.2 1.8-2.1-3.3 1-1.7 2.2zM353.1 467l.6-.4 1.6-1.9-3.3 1.1-1.6 2.1zM361.7 461.3l.6-.3 1.7-2-3.4 1.2-1.6 2zM370.4 455.6l.5-.3 1.7-2-3.4 1.2-1.5 2zM379 449.9l.5-.2 1.8-2.1-3.5 1.3-1.5 1.9zM313 491.7l.6-.3 1.6-1.9-3.3 1.1-1.6 2.1zM321.7 486l.5-.2 1.6-2-3.3 1.2-1.6 2zM330.3 480.3l.5-.2 1.7-2-3.4 1.3-1.5 1.9zM339 474.6l.4-.1 1.7-2.1-3.1 1.1-1.8 2.1zM347.6 468.9l.6-.3 1.6-1.9-3.2 1.1-1.7 2.1zM356.3 463.2l.5-.3 1.6-1.9-3.2 1.2-1.7 2zM364.9 457.5l.5-.2 1.7-2-3.3 1.2-1.6 2zM373.6 451.8l.4-.2 1.7-2-3.3 1.3-1.6 1.9zM380.9 446.6l.2-.1-.8-.5-.8 1.1zM307.5 493.7l2.2-2.2-3.2 1.2-.7 .7 .8 .6zM316.2 488l2.1-2.2-3.2 1.2-1.7 2zM324.8 482.3l.5-.2 1.7-2-3.3 1.3-1.6 1.9zM333.5 476.6l.4-.2 1.7-2-3.3 1.3-1.6 1.9zM342.1 470.9l.4-.1 1.8-2.1-3.2 1.1-1.7 2.1zM350.8 465.2l2.1-2.2-3.2 1.2-1.7 2zM359.4 459.5l2.2-2.2-3.3 1.2-1.6 2zM368.1 453.8l.4-.2 1.7-2-3.3 1.3-1.6 1.9zM376.7 448.1l.4-.2 1.8-2-3.4 1.3-1.5 1.9zM310.6 490l.6-.3 1.6-1.9-3.1 1.2-1.8 2zM319.3 484.3l.5-.2 1.7-2-3.2 1.3-1.7 1.9zM327.9 478.6l.5-.2 1.7-2-3.2 1.3-1.7 1.9zM336.6 472.9l.4-.1 1.8-2.1-3.1 1.1-1.8 2.1zM345.2 467.2l.6-.3 1.6-1.9-3.1 1.2-1.8 2zM353.9 461.5l.5-.3 1.7-1.9-3.2 1.2-1.7 2zM362.5 455.8l.5-.2 1.7-2-3.2 1.3-1.7 1.9zM371.2 450.1l.4-.2 1.8-2-3.3 1.3-1.6 1.9zM378.4 444.9l.3-.1-.7-.4-.9 1zM305 492.1l.7-.4 1.4-1.8-2.9 1.1-.6 .8 .7 .6zM313.7 486.4l.6-.4 1.4-1.8-2.9 1.2-1.5 1.7zM322.3 480.7l.6-.3 1.5-1.9-3 1.2-1.5 1.7zM331 475l.6-.3 1.4-1.9-2.9 1.3-1.5 1.6zM339.6 469.3l.5-.2 1.6-2-2.8 1.1-1.7 1.8zM348.3 463.6l.7-.4 1.3-1.8-2.8 1.1-1.6 1.8zM356.9 457.9l.7-.4 1.4-1.8-2.9 1.2-1.6 1.7zM365.6 452.2l.6-.3 1.4-1.9-2.9 1.2-1.5 1.7zM374.2 446.5l.6-.2 1.5-2-3 1.3-1.5 1.7zM308 488.5l.9-.5 1.1-1.2 0-.4-2.6 1-1.4 1.6 .6 0zM316.7 482.8l.8-.4 1.2-1.3-.1-.4-2.6 1.1-1.3 1.5 .5 0zM325.3 477.1l.8-.4 1.2-1.3 0-.4-2.7 1.1-1.3 1.5 .6 0zM334 471.4l.7-.3 1.3-1.4-.1-.4-2.7 1.2-1.2 1.4 .5 0zM342.6 465.7l.9-.5 1.1-1.2 0-.4-2.5 1-1.5 1.6 .6 0zM351.3 460l.8-.5 1.2-1.2-.1-.4-2.5 1-1.4 1.6 .5 0zM359.9 454.3l.8-.4 1.2-1.3 0-.4-2.6 1.1-1.4 1.5 .6 0zM368.6 448.6l.8-.3 1.2-1.4-.1-.4-2.6 1.1-1.3 1.5 .5 0zM375.8 443.4l.6-.2-.6-.5-.6 .7zM302.3 490.6l.9-.3 1.5-1.7-.5 0-2.2 .8-.7 .8 .7 .5zM311 484.9l1.1-.5 1.3-1.5-.5 0-2.3 .9-1.2 1.3 .1 .3zM319.6 479.2l1.1-.4 1.3-1.6-.5 0-2.3 .9-1.1 1.3 .1 .3zM328.3 473.5l1-.4 1.4-1.6-.5 0-2.1 .7-1.4 1.5 .1 .4zM336.9 467.8l1-.3 1.4-1.7-.5 0-2.1 .8-1.3 1.4 .1 .4zM345.6 462.1l.8-.3 1.6-1.7-.5 0-2.2 .8-1.3 1.4 .1 .4zM354.2 456.4l1.1-.5 1.3-1.5-.5 0-2.2 .9-1.2 1.3 .1 .4zM362.9 450.7l1-.4 1.4-1.6-.6 0-2.2 .9-1.2 1.3 .1 .4zM371.5 445l1-.4 1.4-1.6-.5 0-2.1 .7-1.3 1.5 .1 .4zM305.2 487.1l1.4-.7 1.5-1.6-2.9 1-1.4 1.8zM313.9 481.4l1.4-.6 1.4-1.7-2.9 1.1-1.4 1.7zM322.5 475.7l1.4-.6 1.5-1.7-2.7 .9-1.6 1.9zM331.2 470l1.3-.5 1.5-1.8-2.7 .9-1.6 1.9zM339.8 464.3l1.2-.5 1.7-1.8-2.8 1-1.5 1.8zM348.5 458.6l1.4-.7 1.4-1.6-2.8 1-1.5 1.8zM357.1 452.9l1.4-.6 1.5-1.7-2.9 1.1-1.4 1.7zM365.8 447.2l1.3-.6 1.5-1.7-2.7 .9-1.6 1.9zM373 442l1.2-.4-.6-.5zM300.9 488.7l1.8-2-2.9 1.1-.7 .8 .7 .5zM318.4 477.2l1.6-1.9-2.7 1-1.8 2zM326.9 471.5l1.7-1.9-2.7 1-1.8 2zM335.5 465.9l1.8-2-2.9 1.1-1.6 1.9zM344.1 460.2l1.8-2-2.9 1.1-1.6 1.9zM361.6 448.7l1.6-1.9-1.4 .5-1.5 .7-1.6 1.8zM370.2 443.1l1.7-2-2.8 1-1.7 2zM308.1 483.5l1.7-.7 1.5-1.8-2.9 1.2-1.6 1.8zM351.3 455l1.8-.7 1.5-1.8-2.9 1.2-1.6 1.8zM303.8 485.2l.8-.6 .8-.9 .1-.5-2.5 1-1.4 1.6zM312.4 479.5l.8-.6 .9-.9 .1-.5-2.6 1.1-1.3 1.5zM321.1 473.8l.8-.6 .8-.9 .1-.5-2.3 .9-.7 .7-.9 1zM329.7 468.1l.8-.6 .9-.9 .1-.5-2.4 .9-.7 .7-.8 1zM338.4 462.4l.8-.6 .8-.9 .1-.5-2.4 1-1.5 1.6zM347 456.7l.8-.6 .9-.9 .1-.5-2.5 1-1.4 1.6zM355.7 451l.8-.6 .8-.9 .1-.5-2.2 .9-.8 .7-.9 1zM364.3 445.3l.8-.6 .9-.9 .1-.5-2.4 .9-.7 .7-.8 1zM371.5 440.1l.4-.1-.5-.5-.6 .7zM297.9 487.4l.9-.3 1.5-1.7-.6 0-2.1 .8-.7 .8 .7 .5zM306.6 481.7l1-.5 1.3-1.5-.6 0-2.1 .9-1.1 1.2 0 .4zM315.2 476l1-.5 1.4-1.5-.6 0-2.2 .9-1 1.2 0 .4zM323.9 470.3l.9-.4 1.4-1.6-.6 0-1.9 .8-1.3 1.3 0 .4zM332.5 464.6l.9-.4 1.5-1.6-.6 0-2 .8-1.2 1.3 0 .4zM341.2 458.9l.8-.3 1.5-1.7-.6 0-2 .8-1.2 1.3 0 .4zM349.8 453.2l1.1-.5 1.3-1.5-.6 0-2.1 .9-1.1 1.2 0 .4zM358.5 447.5l1-.5 1.3-1.5-.6 0-2.1 1-1.1 1.1 0 .4zM367.1 441.8l1-.4 1.4-1.6-.6 0-2 .8-1.2 1.3 0 .4zM300.7 483.9l1.5-.7 1.5-1.7-2.9 1.1-1.5 1.9zM309.4 478.2l1.4-.6 1.6-1.8-3 1.2-1.5 1.8zM318 472.5l1.4-.6 1.6-1.8-2.7 1-1.7 2zM326.7 466.8l1.3-.5 1.7-1.9-2.8 1-1.7 2zM335.3 461.1l1.3-.5 1.7-1.9-2.8 1.1-1.6 1.9zM344 455.4l1.5-.7 1.5-1.7-2.9 1.1-1.6 1.9zM352.6 449.7l1.5-.6 1.5-1.8-2.9 1.2-1.5 1.8zM361.3 444l1.4-.6 1.6-1.8-2.8 1-1.7 2zM368.5 438.9l1.3-.5-.6-.4zM296.3 485.6l1.4-1.3 .4-.7-2.7 1.1-.6 .7 .6 .5zM305 479.9l1.4-1.3 .3-.7-2.7 1.1-1.4 1.6zM313.6 474.2l1.4-1.3 .4-.7-2.5 1-1.7 1.7zM322.3 468.5l1.4-1.3 .3-.7-2.5 1-1.6 1.7zM330.9 462.8l1.4-1.3 .4-.7-2.6 1-1.6 1.7zM339.6 457.1l1.4-1.3 .3-.7-2.6 1.1-1.5 1.6zM348.2 451.4l1.4-1.3 .4-.7-2.7 1.1-1.5 1.6zM356.9 445.7l1.4-1.3 .3-.7-2.4 1-1.7 1.7zM365.5 440l1.4-1.3 .4-.7-2.6 1-1.6 1.7zM299.1 482.1l.9-.5 1.2-1.3-.4-.1-2.2 .9-1.1 1.3 .2 .3zM307.8 476.4l.8-.4 1.3-1.4-.4-.1-2.2 .9-1.2 1.3 .2 .3zM316.4 470.7l.8-.4 1.3-1.4-.4-.1-2.2 1-1.1 1.2 .2 .3zM325.1 465l.8-.3 1.3-1.5-.4-.1-2.1 .8-1.3 1.4 .2 .3zM333.7 459.3l.7-.3 1.4-1.5-.4-.1-2.1 .8-1.2 1.4 .2 .3zM342.4 453.6l.9-.5 1.2-1.3-.4-.1-2.2 .9-1.2 1.3 .2 .3zM351 447.9l.9-.4 1.2-1.4-.4-.1-2.2 .9-1.1 1.3 .2 .3zM359.7 442.2l.8-.3 1.3-1.5-.4-.1-2.3 1-1.1 1.2 .2 .3zM366.8 437.1l.8-.3-.6-.4-.3 .4zM293.2 484.4l1.2-.5 1.7-1.8-2.8 1-.7 .8zM301.9 478.7l1.4-.7 1.5-1.6-2.9 1.1-1.5 1.7zM310.5 473l1.4-.6 1.5-1.7-2.9 1.1-1.4 1.7zM319.2 467.3l1.3-.6 1.6-1.7-2.8 .9-1.6 1.9zM327.8 461.6l1.3-.5 1.6-1.8-2.8 1-1.5 1.8zM336.5 455.9l1.1-.5 1.8-1.8-2.9 1-1.5 1.8zM345.1 450.2l1.4-.7 1.5-1.6-2.9 1.1-1.4 1.7zM353.8 444.5l1.3-.6 1.6-1.7-3 1.1-1.4 1.7zM362.4 438.8l1.3-.6 1.6-1.7-2.7 .9-1.6 1.9zM297.5 480.3l1.7-1.9-2.7 1.1-1.5 1.7zM306.1 474.6l1.7-1.9-2.4 .9-1.8 1.9zM314.8 468.9l1.7-1.9-2.5 1-1.7 1.8zM323.4 463.2l1.7-1.9-2.6 1-1.6 1.8zM332.1 457.6l1.7-2-2.7 1-1.5 1.8zM340.7 451.9l1.7-2-2.7 1.1-1.5 1.7zM349.4 446.2l1.7-2-2.5 .9-1.7 1.9zM358 440.4l1.7-1.9-2.5 1-1.7 1.8zM365.2 435.3l.2-.1-.6-.4-.6 .8zM291.6 482.6l.6-.3 1.5-1.5-.5-.1-2.1 .8-.7 .8 .7 .5zM300.2 476.9l.9-.4 1.2-1.4-.4-.1-2.2 .9-1.1 1.3 .1 .3zM308.9 471.2l.8-.4 1.3-1.4-.5-.1-2.2 .9-1.1 1.3 .2 .3zM317.5 465.5l.8-.3 1.3-1.5-.4-.1-2 .8-1.3 1.4 .1 .3zM326.1 459.8l.8-.3 1.4-1.5-.5-.1-2.1 .8-1.2 1.4 .2 .3zM334.8 454.1l.7-.2 1.4-1.6-.4-.1-2.1 .8-1.2 1.4 .1 .3zM343.4 448.4l.9-.4 1.3-1.4-.5-.1-2.1 .9-1.2 1.3 .2 .3zM352.1 442.7l.8-.4 1.3-1.4-.4-.1-2.2 1-1.1 1.2 .1 .3zM360.7 437l.8-.3 1.4-1.5-.5-.1-2 .8-1.3 1.4 .2 .3zM294.3 479.2l1.4-.7 1.5-1.7-1.2 .5-2.5 1.6-.7 .8zM302.9 473.5l1.4-.6 1.6-1.8-1.3 .5-2.5 1.6-.7 .8zM311.6 467.8l1.3-.6 1.6-1.8-1.2 .5-2.5 1.6-.7 .9zM320.2 462.1l1.3-.5 1.7-1.9-1.3 .5-2.5 1.6-.7 .9zM328.9 456.4l1.2-.5 1.7-1.9-1.2 .5-2.5 1.6-.7 .9zM337.5 450.7l1.5-.7 1.5-1.7-1.3 .5-2.5 1.6-.7 .9zM346.2 445l1.4-.6 1.5-1.8-1.2 .5-2.5 1.6-.7 .9zM354.8 439.3l1.4-.6 1.6-1.8-1.3 .5-2.5 1.6-.7 .9zM362 434.2l1.2-.5-.5-.4z"/>
<path fill="#0080ff" fill-rule="evenodd" d="M345.9 521.4l.6-.4-.3-.1-.4 .1-.1 .2zM354.6 515.7l.6-.4-.4-.1-.4 .2zM363.2 510l.6-.4-.5-.1-.3 .3zM371.9 504.3l.6-.4-.6 0-.3 .2zM380.5 498.6l.6-.4-.3-.1-.4 .1-.1 .2zM389.2 492.9l.6-.4-.4-.1-.4 .1-.1 .2zM397.8 487.2l.6-.4-.3-.1-.4 .2zM406.5 481.5l.6-.4-.6-.1-.3 .3zM415.1 475.8l.6-.4-.6 0-.2 .2zM348.9 517.9l1-.7-.3-.2-.7 .3-.3 .4zM357.5 512.2l1-.7-.3-.2-.4 .2-.6 .5zM366.2 506.5l.9-.7-.2-.2-.6 .2-.4 .5zM374.8 500.8l1-.7-.3-.2-.6 .2-.4 .5zM383.5 495.1l.9-.7-.2-.2-.7 .3-.3 .4zM392.1 489.4l1-.7-.3-.2-.7 .3-.3 .4zM400.8 483.7l.9-.7-.2-.2-.5 .2-.5 .5zM409.4 478l1-.7-.3-.2-.5 .2-.5 .5zM343.2 519.9l1-.4 .3-.4-.1-.3-1.1 .4-.6 .7zM351.9 514.2l.9-.4 .3-.4 0-.3-1.2 .5-.5 .6zM360.5 508.5l.9-.3 .4-.5-.1-.3-1.2 .5-.5 .6zM369.2 502.8l.8-.3 .4-.5 0-.3-1.1 .3-.6 .8zM377.8 497.1l.8-.2 .5-.6-.1-.3-1.1 .3-.6 .8zM386.5 491.4l.9-.4 .3-.4 0-.3-1.2 .4-.5 .7zM395.1 485.7l.9-.4 .4-.4-.1-.3-1.2 .5-.5 .6zM403.8 480.1l.9-.4 .3-.5-.1-.3-1.2 .5-.4 .6zM412.4 474.4l.9-.4 .4-.5-.1-.3-1 .3-.7 .8zM346.3 516.3l1-.5 .7-1-1.8 .6-.8 1.1zM354.9 510.6l1-.5 .7-1-1.8 .7-.7 1zM363.6 504.9l.9-.4 .8-1.1-1.8 .7-.8 1zM372.2 499.2l1-.4 .7-1.1-1.6 .5-.9 1.2zM380.9 493.5l.8-.3 .9-1.2-1.7 .6-.9 1.1zM389.5 487.8l1.1-.5 .6-1-1.7 .6-.8 1.1zM398.2 482.1l1-.5 .7-1-1.8 .7-.8 1zM406.8 476.4l1-.4 .7-1.1-1.8 .7-.7 1zM340.8 518.3l.8-.3 1.3-1.5-2.3 .8-.6 .8 .4 .3zM349.5 512.6l1-.5 1.1-1.3-2.4 .8-1.1 1.5zM358.1 506.9l1-.4 1.1-1.4-2.4 .9-1 1.4zM366.8 501.2l.9-.4 1.2-1.4-2.3 .7-1.2 1.6zM375.4 495.5l.9-.3 1.2-1.5-2.3 .7-1.1 1.6zM384.1 489.8l.7-.3 1.4-1.5-2.4 .8-1.1 1.5zM392.7 484.1l1-.5 1.1-1.3-2.4 .8-1 1.5zM401.4 478.4l.9-.4 1.2-1.4-2.5 .9-1 1.4zM410 472.7l.9-.4 1.2-1.4-2.2 .7-1.2 1.6zM344.1 514.5l.8-.4 1-1.2-.3-.2-2.1 .7-1 1.3 .3 .2zM352.8 508.8l.7-.4 1-1.2-.2-.2-2.2 .8-1 1.2 .3 .2zM361.4 503.1l.7-.3 1.1-1.3-.3-.2-2 .6-1.1 1.4 .3 .2zM370.1 497.4l.7-.3 1-1.3-.2-.2-2.1 .6-1.1 1.4 .3 .2zM378.7 491.7l.6-.2 1.2-1.4-.3-.2-2.1 .7-1 1.3 .3 .2zM387.4 486l.8-.4 .9-1.2-.2-.2-2.2 .7-1 1.3 .3 .2zM396 480.3l.8-.4 1-1.2-.3-.2-2.2 .8-.9 1.2 .3 .2zM404.7 474.6l.7-.3 1-1.3-.2-.2-2 .6-1.2 1.4 .3 .2zM338.9 516.3l1.8-2.1-3 .9-.6 .9 .8 .6zM347.5 510.6l1.9-2.1-3.1 1-1.3 1.9zM356.2 504.9l1.8-2.1-3.1 1.1-1.3 1.8zM364.9 499.2l.3-.2 1.5-1.9-3 .9-.2 .2-1.2 1.8zM373.5 493.5l1.8-2-3 .8-1.4 2zM382.1 487.8l1.9-2-3.1 .9-1.3 1.9zM390.8 482.1l1.8-2-3.1 .9-1.3 1.9zM399.4 476.4l1.9-2-3.2 1-1.2 1.8zM408.1 470.7l.3-.2 1.5-1.8-2.9 .8-1.5 2zM341.3 512.7l1-.5 1.6-2.1-3.6 1-1.5 2.3zM349.9 507l1-.5 1.7-2.1-3.7 1.1-1.4 2.2zM358.6 501.3l1-.4 1.6-2.2-3.4 .9-.3 .3-1.4 2.1zM367.2 495.6l1-.4 1.7-2.2-3.5 .9-1.6 2.4zM375.9 489.9l.8-.3 1.8-2.3-3.5 1-1.6 2.3zM384.5 484.2l1.1-.5 1.6-2.1-3.6 1.1-1.5 2.3zM393.2 478.5l1-.5 1.6-2.1-3.6 1.1-1.5 2.3zM401.8 472.8l1-.4 1.7-2.2-3.5 .9-1.6 2.5zM409.2 467.5l.6-.2-1-.7-.8 1.3zM335.3 514.5l1.1-.3 1.7-2.3-.3-.2-3.7 .9-.4 .9zM344 508.8l1.2-.5 1.6-2.1-.4-.2-3.6 1-1.3 2.3 .2 .2zM352.6 503.1l1.2-.4 1.6-2.2-.3-.2-3.7 1-1.3 2.3 .2 .2zM361.3 497.5l1.2-.4 1.6-2.3-.4-.2-3.5 .8-1.4 2.5 .2 .2zM369.9 491.8l1.2-.4 1.6-2.3-.3-.2-3.6 .9-1.4 2.4 .2 .2zM378.6 486.1l1-.4 1.8-2.3-.4-.2-3.6 .9-1.3 2.4 .2 .2zM387.2 480.4l1.3-.6 1.5-2.1-.3-.2-3.7 1-1.3 2.3 .2 .2zM395.9 474.7l1.2-.5 1.6-2.2-.4-.2-3.4 .8-.3 .2-1.2 2.3 .2 .2zM404.5 469l1.2-.4 1.6-2.3-.3-.2-3.6 .8-1.4 2.5 .2 .2zM338.4 510.5l1-.5 1.5-2.4-.1-.4-4.8 .9-1.2 3.1 .5 .1zM347.1 504.8l.9-.4 1.6-2.5-.1-.4-4.5 .7-.3 .2-1.2 3.1 .5 .1zM355.7 499.1l.9-.3 1.6-2.6-.1-.4-4.6 .7-.2 .3-1.2 3 .5 .1zM364.4 493.4l.8-.3 1.7-2.6-.1-.4-4.7 .7-1.3 3.3 .5 .1zM373 487.7l1-.5 1.5-2.4-.1-.4-4.7 .8-1.3 3.2 .5 .1zM381.7 482l.9-.5 1.6-2.4-.1-.4-4.8 .9-1.2 3.1 .5 .1zM390.3 476.3l.9-.4 1.6-2.5-.1-.4-4.5 .7-.3 .2-1.2 3.1 .5 .1zM399 470.6l.9-.3 1.6-2.6-.1-.4-4.6 .7-1.4 3.3 .5 .1zM406.6 465.2l.2-.1-2-1.4-.8 1.9 .5 .1zM332 511.8l.8-.1 .3-.3 1.1-1.8 .5-1.6-3.5-.2-1.9-.7-.8-.7-.4-.9-.3-2.4-2.2 .4-2.9 .8-.5 .9 9.3 6.7zM340.7 506.1l1-.3 .7-1.6 .5-.3 .4-1.6-3.4-.2-2-.7-1.1-1.3-.3-2.7-2.4 .4-2.8 .9-.8 1.5-.4 .2-.6 1.6 3.8 .4 1.9 .8 1 1.4 .1 2.4 2.2-.3zM349.3 500.4l1-.3 .8-1.5 .4-.4 .5-1.6-3.5-.2-1.9-.7-1.1-1.3-.4-2.7-2.3 .4-.4 .3-2.2 .4-1 1.7-.4 .3-.6 1.5 3.8 .4 1.2 .4 .9 .6 .8 1.5 0 2.1 2.2-.3zM358 494.7l.9-.2 .8-1.6 .5-.4 .4-1.6-3.3-.1-2.1-.8-1.1-1.3-.3-2.6-2.1 .2-3 .8-.9 1.7-.4 .3-.6 1.5 3.8 .4 1.2 .4 .9 .6 .9 1.5 0 2.1 2.2-.3zM366.6 489l.9-.2 .8-1.5 .5-.5 .5-1.6-3.5-.1-1.9-.8-1.1-1.3-.4-2.6-2.1 .3-3 .8-.8 1.6-.5 .4-.5 1.4 3.8 .4 1.8 .8 1 1.4 .1 2.4 2.2-.3zM375.3 483.3l1-.4 1.2-1.8 .4-1.6-3.4-.1-2-.8-.7-.7-.5-.9-.2-2.3-2.3 .3-2.9 .8-.8 1.6-.4 .2-.6 1.7 3.8 .3 1.9 .8 1 1.4 .1 2.4 2.2-.3zM383.9 477.6l1-.3 .8-1.6 .4-.3 .5-1.6-3.5-.1-1.9-.8-1.1-1.3-.4-2.6-2.3 .3-2.9 .9-.7 1.5-.4 .2-.6 1.7 3.8 .3 1.8 .8 1 1.4 .1 2.4 2.2-.3zM392.6 471.9l.9-.3 .8-1.5 .5-.4 .4-1.6-3.4-.1-2-.8-1.1-1.3-.3-2.6-2.4 .3-.4 .3-2.2 .4-1 1.7-.4 .3-.6 1.6 3.8 .3 1.2 .4 .9 .7 .9 1.5 0 2 2.2-.3zM401.2 466.2l.9-.2 .8-1.6 .5-.4 .4-1-.7-.5-2.7-.2-1.9-.8-1.1-1.3-.3-2.1-.7-.5-4.4 1-.9 1.7-.5 .3-.5 1.6 3.8 .3 1.2 .4 .9 .7 .8 1.5 0 2 2.2-.3zM334.8 507.1l.2-.5 0-1.2-1-1.4-1.9-.8-1.9-.2-.9 .2 .1 1.8 1 1.4 1.9 .6zM352.2 495.7l.1-1.7-1-1.4-1.9-.8-2.7-.2-.2 .9 .2 1.1 1 1.4 2.1 .6zM360.8 490l.2-.5-.1-1.2-.9-1.4-1.9-.8-2.8-.2 0 2 1.1 1.4 2 .7zM369.4 484.4l.2-.4 0-1.4-1-1.4-1.9-.8-2.8-.1 .1 1.9 1 1.4 2 .6zM378 478.7l.3-.6-.1-1.2-.9-1.4-1.9-.8-1.9-.2-1 .2 .1 1.8 1.1 1.4 1.8 .6zM395.5 467.2l0-1.7-.9-1.4-1.9-.8-2.7-.2-.2 .9 .1 1.1 1.1 1.4 2 .7zM342.8 501.5l.8-.2 .1-.8-.3-1.4-.7-.8-1-.6-1.4-.3-2.1-.1-.3 .2 .1 1.8 .8 1.1 1.4 .7zM386 473l.9-.2 0-.8-.3-1.4-.7-.8-1-.6-1.4-.3-2.1-.1-.2 .2 .1 1.8 .7 1.1 1.4 .8zM401.7 461.5l-3.2-2.4 .4 .9 .7 .8zM327.9 502.3l.4-.3 1.2-3.2-4.6 1.2-1.8 3zM336.9 496.4l1.3-3.3-4.3 1.1-2.1 3.1zM345.3 490.8l1.5-3.4-4.4 1.1-2 3.1zM353.9 485.2l.2-.1 1.4-3.4-4.5 1.1-1.9 3.1zM362.5 479.5l.4-.4 1.2-3.1-4.5 1.2-1.9 3zM371.2 473.8l.3-.3 1.3-3.2-4.6 1.2-1.8 3zM380.1 467.9l1.3-3.3-4.3 1.1-2.1 3.1zM388.6 462.3l1.5-3.4-4.4 1.1-2 3.1zM394.8 457l.6-.1-1.9-1.4-1.2 1.9zM347.4 486.2l1.5-2.6-.8 .1-2.9 .9-1.6 2-.1 .5zM355.9 480.6l1.6-2.7-.7 .1-3.1 .9-1.6 2.5zM390.6 457.7l1.5-2.6-.7 .1-3 .9-1.5 2-.2 .5zM320.4 503.6l.9-.2 1.6-2.7-3.8 1-.6 .9 1.5 1.1zM329.1 497.9l1.1-.4 1.4-2.5-3.9 1.1-1.5 2.4zM337.7 492.2l1.1-.4 1.4-2.5-3.9 1.2-1.5 2.3zM363.7 475.1l.9-.2 .2-.3 1.4-2.4-3.9 1-1.5 2.5zM372.3 469.4l1.1-.4 1.4-2.5-3.8 1.1-1.6 2.4zM381 463.7l1-.4 1.5-2.5-3.9 1.2-1.5 2.3zM323.1 499.3l.9-.4 1.2-1.7-.2-.3-2.7 .8-.7 .7-1.1 1.4 .5 .1zM331.8 493.6l.8-.3 1.2-1.8-.1-.3-2.8 .9-.7 .7-1 1.3 .4 .1zM340.4 487.9l.8-.3 1.3-1.8-.2-.3-2.8 .9-.7 .8-1 1.2 .5 .1zM349.1 482.2l.7-.2 1.3-1.9-.1-.3-3 .9-.4 .5-1.1 1.5 .4 .1zM357.7 476.5l.9-.4 1.2-1.7-.2-.3-3 1-.4 .5-1.1 1.4 .5 .1zM366.4 470.8l.8-.4 1.2-1.7-.1-.3-2.7 .8-.8 .8-1 1.3 .4 .1zM375 465.1l.9-.3 1.1-1.8-.1-.3-2.8 .9-.7 .7-1 1.3 .5 .1zM383.7 459.4l.8-.2 1.2-1.9-.1-.3-2.9 .9-.7 .8-.9 1.2 .4 .1zM391.3 454l-.9-.7-.7 .9 .5 .1zM317.7 500.9l1.4-1.8-.3-.2-2.4 .9-.7 .8 .9 .6zM326.3 495.2l1.5-1.8-.3-.2-2.5 .9-1.2 1.5 .3 .2zM335.1 489.4l1.3-1.7-.3-.2-2.2 .8-1.5 1.6 .3 .2zM343.7 483.7l1.3-1.7-.2-.2-2.4 .8-1.3 1.6 .3 .2zM352.3 478.1l1.4-1.8-.3-.2-2.4 .8-1.3 1.6 .3 .2zM360.9 472.4l1.4-1.8-.2-.2-2.5 .9-1.2 1.5 .3 .2zM369.6 466.7l1.4-1.8-.3-.2-2.5 .9-1.2 1.5 .3 .2zM378.3 460.9l1.3-1.7-.2-.2-2.3 .8-1.4 1.6 .3 .2zM386.9 455.2l1.4-1.7-.3-.2-2.3 .8-1.4 1.6 .3 .2zM338.1 485.4l1.2-1.6-1 .2-1.4 .5-1.4 1.7zM346.6 479.8l1.3-1.7-.9 .2-1.5 .5-1.3 1.7zM355.2 474.1l1.4-1.7-1 .2-1.6 .6-1.2 1.6zM381.3 456.9l1.2-1.6-.9 .2-1.5 .5-1.3 1.7zM319.4 497.3l1.2-.4 1.4-1.7-2.6 .8-1.2 1.6zM328.1 491.6l1.4-.6 1.1-1.5-2.6 .9-1.1 1.5zM362.7 468.8l1.1-.4 1.4-1.7-2.6 .8-1.1 1.6zM371.3 463.1l1.4-.6 1.2-1.5-2.6 .9-1.2 1.5zM314.6 498.8l1.2-1.2-.1-.3-1.8 .7-.7 .8 .5 .3zM323.3 493.1l1.2-1.2-.2-.3-1.8 .7-.9 1.1 .5 .1zM331.9 487.4l.5-.2 .7-1-.1-.3-1.6 .6-1.2 1.2 .5 .1zM340.6 481.7l.4-.2 .8-1-.2-.3-1.7 .6-1 1.2 .5 .1zM349.2 476l.4-.1 .8-1.1-.1-.3-1.8 .6-1 1.2 .5 .1zM357.9 470.3l1.2-1.2-.2-.3-1.8 .7-.9 1.1 .5 .1zM366.5 464.6l1.2-1.2-.1-.3-1.9 .7-.9 1.1 .5 .1zM375.2 458.9l.4-.2 .8-1-.2-.3-1.6 .6-1.1 1.2 .5 .1zM383.8 453.2l.4-.2 .8-1-.1-.3-1.7 .6-1.1 1.2 .5 .1zM317.1 495.1l1-.4 .8-1.1-1.9 .7-1 1.1zM325.8 489.4l.9-.4 .8-1.1-1.9 .8-.9 1zM334.4 483.7l.9-.3 .9-1.2-2 .8-.9 1zM343.1 478l.8-.3 .9-1.2-1.8 .6-1 1.2zM351.7 472.3l.8-.2 1-1.3-1.9 .6-1 1.2zM360.4 466.6l.9-.4 .8-1.1-1.9 .7-.9 1.1zM369 460.9l.9-.4 .9-1.1-1.9 .8-1 1zM377.7 455.2l.9-.3 .8-1.2-1.9 .8-.9 1zM312.1 496.8l1-1.1-1.6 .6-.6 .8zM320.7 491.1l1.1-1.1-1.7 .6-.7 1zM329.4 485.4l1-1.1-1.7 .7-.6 .9zM338 479.7l1.1-1.1-1.7 .7-.7 .9zM346.7 474l1-1.1-1.5 .5-.8 1.1zM355.3 468.3l1.1-1.1-1.6 .6-.8 1zM364 462.6l1-1.1-1.6 .6-.7 1zM372.6 456.9l1.1-1.1-1.7 .7-.7 .9zM381.3 451.2l1-1.1-1.7 .7-.6 .9zM314.3 493.3l.9-.3 .7-.8-1.2 .4zM322.9 487.6l1.2-.5 .5-.6-1 .3zM331.5 481.9l1.2-.4 .5-.7-1 .3zM340.2 476.2l1.1-.4 .6-.7-1.2 .3zM348.8 470.5l1.1-.3 .6-.8-1.2 .4zM357.5 464.8l1-.3 .7-.8-1.3 .4zM366.1 459.1l1.2-.5 .5-.6-.9 .3zM374.8 453.4l1.1-.4 .6-.7-1.1 .3zM309 495.2l.7-.3 .5-.5-.9 .3zM317.6 489.5l.6-.2 .6-.6-.9 .3zM326.3 483.8l.8-.4 .4-.4-.7 .2zM334.9 478.1l.8-.3 .4-.5-.7 .2zM343.6 472.4l.7-.3 .5-.5-.9 .2zM352.2 466.7l.7-.3 .5-.5-.9 .3zM360.9 461l.6-.2 .6-.6-.9 .3zM369.5 455.3l.9-.4 .3-.4-.7 .2zM378.2 449.6l.8-.3 .4-.5-.8 .2z"/>
<path fill="#00e6ff" fill-rule="evenodd" d="M370.1 496.9l.4-.3-.2-.2-.6 .4zM378.7 491.2l.5-.3-.3-.2-.5 .4zM373.4 493.1l.8-.9-1.5 .4-.6 1zM337.5 516.3l1.3-.4 .8-.9-1.6 .4zM346.2 510.7l1.1-.5 .9-.9-1.5 .5zM354.8 505l1.4-.6 .7-.8-1.4 .3zM363.5 499.3l1.3-.6 .7-.8-1.4 .3zM380.8 487.9l1.2-.5 .8-.9-1.5 .4zM389.4 482.2l1.2-.4 .9-1-1.6 .5zM398.1 476.5l1.4-.6 .6-.8-1.3 .3zM406.7 470.8l1.4-.5 .7-.9-1.4 .3zM341.1 512.4l.9-.5 .9-1.2-2.2 .7-.9 1.4zM349.7 506.7l.9-.4 1-1.3-2.3 .7-.8 1.4zM358.4 501l.8-.4 1-1.3-2 .6-1.1 1.5zM367 495.3l.8-.3 1.1-1.4-2.2 .6-.9 1.5zM375.7 489.6l.7-.3 1.1-1.4-2.2 .6-.9 1.5zM384.3 483.9l1-.5 .9-1.2-2.3 .7-.8 1.4zM393 478.2l.9-.4 .9-1.3-2.3 .8-.8 1.3zM401.6 472.5l.9-.4 1-1.3-2.1 .6-1 1.5zM335 514.3l1.1-.3 1.2-1.6-.3-.2-2.5 .6-.5 1zM343.7 508.6l1.2-.5 1-1.4-.3-.2-2.5 .7-.8 1.5 .2 .3zM352.3 502.9l1.2-.4 1.1-1.5-.3-.2-2.3 .5-1.1 1.7 .3 .3zM361 497.2l1.1-.4 1.1-1.5-.3-.2-2.4 .6-.9 1.6 .2 .3zM369.6 491.5l1.1-.3 1.2-1.6-.4-.2-2.4 .6-.9 1.6 .3 .3zM378.3 485.8l1-.3 1.2-1.6-.3-.2-2.5 .6-.8 1.6 .2 .3zM386.9 480.1l1.3-.5 1-1.4-.4-.2-2.5 .7-.8 1.5 .3 .3zM395.6 474.4l1.2-.4 1-1.5-.3-.2-2.3 .5-1 1.7 .2 .3zM404.2 468.7l1.2-.4 1.1-1.5-.4-.2-2.3 .6-1 1.6 .3 .3zM338.1 510.3l1-.5 1.2-1.8-.1-.4-3.8 .7-.9 2.5 .5 0zM346.7 504.6l1-.4 1.3-1.9-.1-.4-3.6 .5-.3 .2-.9 2.5 .5 0zM355.4 498.9l.9-.4 1.3-1.9-.1-.4-3.7 .5-1 2.7 .5 0zM364 493.2l.9-.3 1.4-2-.1-.4-3.8 .5-1 2.7 .5 0zM372.7 487.5l1-.5 1.2-1.8-.1-.4-3.8 .6-.9 2.6 .5 0zM381.3 481.8l1.1-.5 1.1-1.8 0-.4-3.9 .7-.9 2.5 .5 0zM390 476.1l1-.4 1.2-1.9-.1-.4-3.6 .5-.3 .2-.8 2.5 .5 0zM398.6 470.4l1-.4 1.2-1.9 0-.4-3.7 .5-1.1 2.7 .5 0zM406.2 465l.3-.1-1.3-1-.5 1.3zM331.9 511.5l.6-.1 .7-1.2 .6-.4 .5-1.5-3.4-.2-1.9-.8-1.2-1.3-.4-2.6-1.6 .2-2.8 1-.5 .9 8.6 6.2zM340.5 505.8l.8-.3 .5-1 .7-.7 .4-1.2-3.4-.2-1.9-.8-1.1-1.3-.4-2.6-1.7 .3-.6 .4-1.8 .3-.4 .2-.6 1.3-.6 .4-.5 1.1 3.8 .5 1.2 .4 .9 .6 .8 1.5 .1 2 1.9-.2zM349.2 500.1l.7-.3 .5-.9 .8-.7 .4-1.3-3.4-.2-1.9-.8-1.2-1.3-.4-2.6-1.7 .3-.6 .4-1.9 .4-1.5 1.8-.4 1.1 3.7 .5 1.2 .4 .9 .6 .9 1.5 0 2 2.3-.3 .6-.4zM357.8 494.4l.7-.2 .6-1 .7-.6 .4-1.4-3.4-.2-1.9-.8-1.1-1.3-.4-2.6-1.6 .2-.9 .5-1.8 .4-.7 1.2-.8 .7-.4 1 3.8 .5 1.2 .4 .9 .6 .8 1.5 .1 2 2.2-.3 .6-.4zM366.5 488.7l.6-.1 .7-1.3 .6-.4 .5-1.4-3.4-.2-1.9-.8-1.2-1.3-.4-2.6-1.6 .2-.9 .5-1.8 .4-.7 1.2-.7 .7-.4 1 3.7 .5 1.2 .4 .9 .6 .9 1.5 0 2 2.1-.3 .6-.4zM375.1 483l.6-.1 .7-1.2 .6-.4 .5-1.5-3.4-.2-1.9-.8-1.1-1.3-.4-2.6-1.6 .2-2.8 1-.7 1.2-.6 .4-.5 1.2 3.8 .5 1.2 .4 .9 .6 .8 1.5 .1 2 2-.2zM383.8 477.3l.7-.3 .5-.9 .8-.8 .4-1.2-3.4-.2-1.9-.8-1.2-1.3-.4-2.6-1.7 .3-.6 .4-1.8 .3-.3 .2-.6 1.3-.7 .4-.4 1.1 3.7 .5 1.2 .4 .9 .6 .9 1.5 0 2 1.9-.2zM392.4 471.6l.8-.3 .5-.9 .7-.7 .4-1.3-3.4-.2-1.9-.8-1.1-1.3-.4-2.6-1.8 .3-.6 .4-1.8 .4-.8 1.1-.7 .7-.5 1.1 3.8 .5 1.2 .4 .9 .6 .8 1.5 .1 2 2.2-.3 .6-.4zM401.1 465.9l.7-.2 .5-1 .7-.6 .5-1.4-3.4-.2-2-.8-1.1-1.3-.4-2.6-1.6 .2-.8 .5-1.9 .4-.7 1.2-.7 .7-.4 1.1 3.7 .4 1.2 .4 .9 .6 .9 1.5 0 2 2.2-.3 .6-.4zM360.5 489.8l0-1.6-.8-1.1-1.5-.7-2.6-.3 .2 1.9 .9 1 1.6 .6zM369.1 484.1l.2-.5-.2-1.1-.8-1.1-1.9-.8-2.2-.1 .2 1.8 .9 1 1.6 .6zM333.9 506.9l.6 0 .2-.9-.3-1.1-.7-.7-1.9-.8-2.2 0 .1 1.4 .8 1.1 1.4 .7zM342.6 501.2l.7-.2 0-.7-.3-1.1-.6-.7-2-.8-1.9-.2-.3 .3 .2 1.3 .7 1.1 1.4 .7zM351.2 495.5l.8-.1 0-.8-.3-1-.7-.8-1.4-.7-2.5-.3-.2 .4 .1 1.2 .8 1.1 1.4 .7zM377.2 478.4l.5 0 .2-.9-.3-1-.6-.8-2-.8-2.2 0 .2 1.4 .7 1.1 1.4 .7zM385.8 472.7l.8-.2 0-.7-.3-1-.7-.8-1.9-.8-1.9-.2-.3 .3 .1 1.3 .8 1.1 1.4 .7zM394.5 467l.7-.1 0-.8-.3-1-.6-.8-1.5-.7-2.5-.3-.2 .4 .2 1.2 .7 1.1 1.4 .7zM401.1 461l-2.1-1.5 .9 1zM327.7 502l1.2-2.8-3.7 1-1.4 2.4zM345.1 490.5l1.1-2.7-3.5 .9-1.6 2.5zM353.7 484.9l1.1-2.8-3.5 .9-1.6 2.5zM362.3 479.2l1.2-2.8-3.6 1-1.5 2.4zM388.4 462l1-2.7-3.5 .9-1.6 2.5zM335.6 496.4l1-.3 .9-2.6-3.4 .9-.6 .7-1.1 1.8zM370.2 473.6l.7-.1 .3-.2 .9-2.6-3.3 .8-.7 .8-1.1 1.8zM378.8 467.9l1-.3 1-2.6-3.4 .9-.7 .8-1 1.7zM394.6 456.7l.5-.1-1.4-.9-.8 1.3zM320.2 503.3l.8-.2 1.1-1.9-2.7 .7-.6 .9 .8 .6zM328.9 497.6l.9-.4 1-1.7-2.8 .8-1 1.7zM337.5 491.9l1-.3 .9-1.8-2.8 .9-1 1.6zM346.2 486.2l.9-.3 1-1.8-2.6 .7-.3 .2-.9 1.6zM354.8 480.5l.9-.2 1-1.9-2.7 .7-1.1 1.8zM363.5 474.8l.7-.2 1.2-1.9-2.7 .8-1.1 1.7zM372.1 469.1l1-.4 .9-1.7-2.7 .8-1.1 1.7zM380.8 463.4l.9-.3 1-1.8-2.8 .9-1 1.6zM389.4 457.7l.9-.3 1-1.8-2.6 .7-.2 .2-1 1.6zM323 499l.6-.4 .6-.8-.2-.3-1.7 .6-.7 1 .4 .1zM331.7 493.3l.5-.3 .6-.9-.2-.3-1.4 .5-1 1.1 .4 .2zM340.3 487.6l.6-.2 .6-1-.2-.3-1.5 .5-.9 1.1 .4 .2zM349 481.9l.5-.2 .6-1-.2-.3-1.5 .5-.9 1.1 .4 .2zM357.6 476.2l.7-.4 .5-.8-.2-.3-1.6 .6-.8 1 .4 .2zM366.3 470.5l.6-.3 .5-.9-.2-.3-1.6 .6-.8 1 .4 .2zM374.9 464.8l.6-.3 .6-.9-.2-.3-1.4 .5-1 1.1 .4 .2zM383.6 459.1l.5-.2 .6-1-.2-.3-1.5 .5-.9 1.1 .4 .2zM316.6 500.8l.8-.3 .6-.7-.3-.2-1 .4-.4 .5zM325.2 495.1l.8-.3 .6-.7-.3-.2-1 .5-.4 .4zM333.9 489.4l1-.4 .4-.5-.3-.3-.8 .3-.6 .7zM342.5 483.7l1-.4 .4-.5-.3-.3-.8 .3-.6 .7zM351.2 478l.9-.3 .5-.6-.3-.3-.9 .4-.5 .6zM359.8 472.3l.9-.3 .5-.6-.3-.3-.9 .4-.5 .6zM368.5 466.6l.7-.3 .7-.6-.3-.3-1 .5-.4 .5zM377.1 460.9l1-.4 .4-.5-.3-.3-.7 .3-.7 .7zM385.8 455.2l.9-.4 .5-.5-.3-.3-.9 .3-.5 .7zM319.5 496.8l.7-.2 .5-.6-.9 .3zM328.2 491.1l.9-.4 .2-.4-.6 .2zM336.8 485.4l.9-.3 .3-.5-.7 .2zM345.5 479.7l.8-.3 .3-.5-.7 .2zM354.1 474l.8-.3 .4-.5-.9 .3zM362.8 468.3l.6-.2 .5-.6-.8 .3zM371.4 462.6l.9-.4 .3-.4-.6 .2zM380.1 456.9l.8-.3 .3-.5-.7 .2z"/>
<path fill="#4dffb3" fill-rule="evenodd" d="M366.8 495l.7-.3 .3-.4-.7 .2zM375.5 489.3l.6-.2 .4-.5-.8 .2zM334.7 514.1l1.1-.4 .6-.7-.3-.2-1.2 .3-.4 .7zM343.4 508.4l.9-.3 .8-.8-.3-.2-1.3 .3-.4 .7zM352 502.7l1.2-.5 .5-.6-.3-.2-1 .2-.6 .8zM360.7 497l1.1-.4 .6-.7-.3-.2-1.2 .2-.5 .8zM369.3 491.3l1.1-.4 .6-.7-.3-.2-1.2 .2-.4 .9zM378 485.6l1-.4 .7-.7-.3-.2-1.3 .3-.4 .8zM386.6 479.9l1-.3 .7-.8-.3-.2-1.3 .4-.3 .7zM395.3 474.2l1.2-.5 .5-.6-.3-.2-1.1 .2-.6 .9zM403.9 468.5l1.2-.4 .5-.7-.3-.2-1.1 .2-.5 .9zM337.7 510.1l1.1-.5 .8-1.2 0-.4-2.9 .5-.6 1.8zM346.4 504.4l1-.4 .9-1.3-.1-.4-2.6 .4-.3 .2-.6 1.7zM355 498.7l1.1-.4 .8-1.3 0-.4-2.7 .4-.8 1.9zM363.7 493l1-.3 .9-1.4-.1-.4-2.8 .4-.7 1.9zM372.3 487.3l.9-.3 1-1.4 0-.4-2.9 .4-.6 1.9zM381 481.6l1.1-.5 .8-1.2-.1-.4-2.8 .5-.7 1.8zM389.6 475.9l1.1-.4 .8-1.3 0-.4-2.6 .4-.3 .2-.6 1.7zM398.3 470.2l1-.4 .9-1.3-.1-.4-2.7 .4-.8 1.9zM405.8 464.8l.4-.1-.7-.6-.2 .6zM331.7 511.2l.4-.1 .6-1 .8-.5 .3-1-3.3-.3-1.9-.8-1.1-1.3-.5-2.5-1.6 .2-.7 .6-1.3 .3-.6 .9 2.8 2 1.6 .7 .9 1 2.6 2zM340.4 505.5l.5-.3 .6-.9 .4-.1 .6-1.3-3.3-.3-1.9-.8-1.2-1.3-.5-2.5-1.4 .2-1 .6-.9 .2-1.5 1.4-.4 1 3.6 .5 2.1 1.1 .9 1.4 .1 2 1.5-.2 .9-.5zM349 499.8l.6-.2 .4-.9 .8-.5 .3-1-3.3-.3-1.9-.8-1.1-1.3-.5-2.5-1.6 .2-.9 .6-.9 .2-.6 .8-.8 .5-.5 1.1 3.7 .5 2.1 1.1 .8 1.4 .2 2 1.5-.2 .8-.5zM357.7 494.1l.5-.2 .4-.9 .5-.1 .4-.4 .3-1-3.3-.3-1.9-.8-1.2-1.3-.5-2.5-1.6 .2-.9 .6-1 .2-.5 .9-.8 .4-.4 1.1 3.6 .5 2.1 1.1 .9 1.4 .1 2 1.5-.2 .9-.5zM366.3 488.4l.5-.1 .5-1 .8-.5 .3-1-3.3-.3-1.9-.8-1.1-1.3-.5-2.5-1.6 .2-.6 .6-1.4 .2-.5 1-.7 .3-.5 1.1 3.7 .5 2.1 1.1 .8 1.4 .2 2 1.5-.2 .5-.4zM375 482.7l.3-.1 .6-1 .9-.5 .3-1-3.3-.3-1.9-.8-1.2-1.3-.5-2.5-1.6 .2-.7 .6-1.3 .3-.3 .7-.9 .5-.4 1.1 3.6 .5 2.1 1.1 .9 1.4 .1 2 1.5-.2 .6-.2 .3-.3zM383.6 477l.6-.3 .5-.9 .4-.1 .6-1.3-3.3-.3-1.9-.8-1.1-1.3-.5-2.5-1.5 .2-.9 .6-.9 .2-1.6 1.4-.4 1 3.7 .5 2.1 1.1 .8 1.4 .2 2 1.5-.2 .8-.5zM392.3 471.3l.5-.2 .4-.9 .9-.5 .3-1-3.3-.3-1.9-.8-1.2-1.3-.5-2.5-1.5 .2-1 .6-.9 .2-.6 .8-.8 .5-.4 1.1 3.6 .5 2.1 1.1 .9 1.4 .1 2 1.6-.2 .8-.5zM400.9 465.6l.5-.2 .5-.9 .4-.1 .4-.4 .3-1-3.3-.3-1.9-.8-1.1-1.3-.5-2.5-1.6 .2-.9 .6-1 .2-.5 .9-.8 .4-.5 1.1 3.7 .5 2.1 1.1 .8 1.4 .2 2 1.5-.2 .8-.5zM333.7 506.6l.4 0 .2-.7-.3-.7-.6-.8-1.5-.7-1.9-.1 .2 1.2 .6 .9 1 .5zM342.4 500.9l.6-.2-.1-.6-.4-.9-.5-.5-1.9-.8-1.2-.1-.3 .2 .2 1.1 .6 .9 1 .5zM351 495.2l.6-.1 0-.7-.4-.9-.5-.5-1.5-.7-1.8-.2 0 1 .7 1.2 1 .5zM359.7 489.5l.6 0-.1-.8-.3-.7-.6-.7-1.4-.7-2-.2 .2 1.3 .6 .9 1.4 .7zM368.3 483.8l.5 0 .1-.8-.3-.6-.6-.8-1.5-.7-1.9-.2 .2 1.3 .6 .9 1.2 .6zM377 478.1l.3 0 .2-.7-.2-.7-.7-.8-1.4-.7-2-.1 .2 1.2 .6 .9 1.1 .5zM385.6 472.4l.6-.2-.1-.6-.3-.9-.5-.5-2-.8-1.2-.1-.2 .2 .2 1.1 .6 .9 1 .5zM394.2 466.7l.7-.1-.1-.7-.3-.8-.6-.6-1.4-.7-1.8-.2-.1 1 .7 1.2 1 .5zM326.7 501.8l.6-.1 .3-.2 .6-1.9-2.4 .6-.7 .8-.7 1.1zM335.4 496.1l.8-.3 .7-1.9-2.5 .6-.7 .8-.6 1.1zM344 490.4l.8-.2 .7-2-2.5 .7-.5 .5-.8 1.3zM352.7 484.7l.8-.1 .7-2.1-2.7 .7-.4 .6-.7 1.2zM361.3 479l.7-.1 .8-2.1-2.7 .7-.4 .6-.7 1.2zM370 473.3l.8-.3 .7-1.9-2.4 .6-.7 .8-.8 1.1zM378.6 467.6l.9-.2 .6-2-2.4 .7-.7 .7-.7 1.1zM387.3 461.9l.8-.2 .7-2-2.6 .7-.4 .5-.9 1.3zM394.4 456.4l.3 0-.7-.6-.4 .7zM320.1 502.9l.5-.1 .7-1.1-1.6 .4-.5 .9zM328.8 497.2l.7-.3 .4-.9-1.6 .5-.5 .9zM337.4 491.5l.7-.2 .5-1-1.7 .6-.4 .8zM346 485.8l.7-.2 .5-1-1.4 .4-.7 1zM354.7 480.1l.6-.1 .6-1.1-1.6 .4-.5 1zM363.3 474.4l.6-.1 .6-1.1-1.5 .4-.6 1zM372 468.7l.7-.3 .5-.9-1.6 .5-.5 .9zM380.6 463l.7-.2 .5-1-1.6 .6-.5 .8zM389.3 457.3l.6-.2 .6-1-1.5 .4-.6 1z"/>
<path fill="#b3ff4c" fill-rule="evenodd" d="M337.3 509.9l1.3-.5 .3-.6 0-.4-1.8 .4-.3 1.1zM346 504.2l1.2-.5 .4-.6 0-.4-1.9 .4-.3 1.1zM354.6 498.5l1.2-.4 .4-.7 0-.4-1.6 .2-.5 1.3zM363.3 492.8l1.1-.3 .5-.8 0-.4-1.8 .2-.4 1.3zM371.9 487.1l1.1-.3 .5-.8 0-.4-1.8 .3-.3 1.2zM380.6 481.4l1.2-.5 .4-.6 0-.4-1.9 .4-.3 1.1zM389.2 475.7l1.2-.4 .4-.7 0-.4-1.8 .4-.4 1.1zM397.9 470l1.1-.4 .5-.7 0-.4-1.7 .2-.5 1.3zM331.6 510.9l.5-.7 1-.5 .3-.9-3.2-.3-1.9-.8-1.2-1.3-.6-2.4-1.1 .1-.5 .5-1.2 .4-.3 .6-.5 .1 2 1.5 1.6 .4 1 .6 .8 .7 .4 1 1.9 1.4 .2-.3zM340.2 505.2l.7-.9 .8-.2 .3-1-3.2-.3-1.9-.8-1.1-1.3-.6-2.4-1.1 .2-.6 .5-.8 .2-1.6 1.4-.3 .5 3.6 .5 1.8 .9 1 1.3 .4 2.3 1.4-.2 .4-.6zM348.8 499.5l.4-.2 .3-.6 .9-.3 .3-1-3.2-.3-1.9-.8-1.2-1.3-.6-2.4-1.2 .2-.5 .5-.9 .2-.6 .8-.8 .3-.3 .8 3.5 .5 2.1 1.1 .9 1.5 .2 1.9 1.4-.2zM357.5 493.7l.3-.1 .3-.6 .9-.2 .3-1.1-3.2-.3-1.9-.8-1.1-1.3-.6-2.4-.9 .1-1 .7-.8 .2-.6 .8-.8 .3-.3 .7 3.6 .5 2.1 1.1 .9 1.5 .2 1.9 1.2-.2 .9-.6zM366.1 488.1l.3-.1 .3-.6 1-.6 .3-.8-3.2-.3-1.9-.8-1.2-1.3-.6-2.4-1 .1-.8 .7-.9 .2-.3 .6-1 .6-.3 .6 3.5 .5 2.1 1.1 .9 1.5 .2 1.9 1.2-.2 .8-.6zM374.8 482.4l.6-.7 1-.5 .2-.9-3.2-.3-1.9-.8-1.1-1.3-.6-2.4-1.1 .1-.5 .5-1.2 .4-.3 .6-1 .6-.3 .6 3.6 .5 2.1 1.1 .9 1.5 .2 1.9 1.5-.2 .4-.6zM383.4 476.7l.7-.9 .9-.2 .3-1-3.2-.3-1.9-.8-1.2-1.3-.6-2.4-1.1 .2-.5 .5-.9 .2-1.6 1.4-.2 .5 3.5 .5 1.8 .9 1.1 1.3 .3 2.3 1.4-.2 .4-.6zM392.1 471l.3-.2 .4-.6 .8-.3 .3-1-3.2-.3-1.9-.8-1.1-1.3-.6-2.4-1.2 .2-.5 .5-.9 .2-.7 .8-.7 .3-.4 .8 3.6 .5 2.1 1.1 .9 1.5 .2 1.9 1.3-.2zM400.8 465.2l.3-.1 .3-.6 .8-.2 .4-1.1-3.2-.3-1.9-.8-1.2-1.3-.6-2.4-.9 .1-.9 .7-.9 .2-.6 .8-.7 .3-.3 .7 3.5 .5 2.1 1.1 .9 1.5 .2 1.9 1.2-.2 .9-.6zM333.5 506.3l.4-.3-.1-.3-.8-1.1-1.4-.7-1.2 0 .3 1 .7 .7zM342.2 500.6l.3-.2 0-.4-.8-1.1-1.5-.7-.9-.1-.3 .2 .3 .9 .8 .7zM350.9 494.8l.3 0-.1-.5-.8-1.1-1-.6-1.5-.2 0 .8 .6 .8 1 .6zM359.5 489.2l.4 0-.1-.6-.8-1.1-1.1-.6-1.6-.3 .2 .9 .6 .8 1 .6zM368.1 483.5l.3 0 0-.6-.8-1.1-1-.6-1.6-.2 .1 .8 .6 .8 1 .6zM376.8 477.8l.3-.3-.1-.3-.7-1.1-1.5-.7-1.2 0 .3 1 .8 .7zM385.4 472.1l.4-.2-.1-.4-.8-1.1-1.4-.7-.9-.1-.3 .2 .3 .9 .7 .7zM394.1 466.4l.3-.1-.1-.5-.7-1.1-1.1-.6-1.4-.2 0 .8 .6 .8 1 .6zM326.6 501.5l.6-.3 .4-1.2-1.5 .4-.6 .6-.4 .7zM335.2 495.8l.6-.3 .4-1.2-1.5 .4-.6 .6-.4 .7zM343.9 490.1l.6-.2 .4-1.3-1.7 .4-.4 .6-.4 .7zM352.5 484.4l.6-.1 .4-1.4-1.7 .5-.4 .5-.4 .7zM361.2 478.7l.5-.1 .5-1.4-1.8 .5-.3 .5-.4 .7zM369.8 473l.6-.3 .4-1.2-1.4 .4-.7 .6-.4 .7zM378.5 467.3l.6-.2 .4-1.3-1.6 .4-.5 .6-.4 .7zM387.1 461.6l.6-.2 .4-1.3-1.6 .4-.5 .6-.4 .7z"/>
<path fill="#ffe500" fill-rule="evenodd" d="M338 509.4l.3-.5-.8 .1-.1 .4zM355.5 497.9l.1-.4-.6 0-.3 .5zM364 492.3l.2-.5-.7 0-.1 .5zM372.6 486.6l.3-.5-.8 .1-.1 .4zM381.3 480.9l.2-.5-.7 .2-.1 .3zM398.7 469.4l.1-.4-.6 0-.2 .5zM346.1 503.7l.8-.2 0-.3-.4 0zM389.3 475.2l.8-.2 .1-.3-.5 0zM330.5 511.1l.4-.5 1.5-.6 .5-.9-2.2-.2-2.4-.6 .7 1 .3 1zM338.8 505.7l2-1.5 .4-.1 .4-.7-4.4-.5 .6 1.3 .2 1.5zM347.4 500l.7-.3 .1-.3 1.2-.9 .4 0 .4-.8-2.3-.2-1.9-.6 .6 2 .1 1.1zM356.1 494.3l.5-.2 1-1.1 .8-.2 .5-.8-2.7-.3-1.9-.6 .7 1.4 .3 1.8zM364.7 488.6l.5-.2 .4-.6 .5-.1 .1-.3 .8-.2 .5-.9-3.1-.4-1.9-.8-1.2-1.2-.6-2.4-.8 .1-1.3 1.1-1.1 .5-.2 .5 3.4 .6 1.8 .8 1.1 1.4 .4 2.1zM373.4 482.9l.4-.2 .3-.6 1.5-.6 .6-.9-2.2-.2-2.4-.6 .7 1.3 .3 1.8zM382 477.2l2-1.5 .5-.1 .3-.7-2.2-.2-1.7-.4-.5 .1 .7 1.3 .2 1.5zM390.6 471.5l.7-.3 .1-.3 1.2-.9 .5 0 .4-.8-2.3-.2-2-.6 .6 1.7 .1 1.4zM399.3 465.8l.6-.2 .9-1.1 .9-.2 .4-.8-2.6-.3-2-.6 .8 1.4 .3 1.8zM359.4 488.8l-.8-1.1-1.8-.7 .2 .5 .7 .8zM332.9 505.8l.3 .1 .1-.3-.6-.8-1.1-.6-.7 0 .6 1zM341.6 500.1l.4-.1-.7-.9-1.5-.7-.2 .3 .8 1zM350.2 494.4l.5 0-.7-1-1.7-.7 0 .4 .5 .7zM367.5 483.1l.4 0 0-.3-.6-.8-1.1-.5-.8-.2 .7 1.1zM376.2 477.4l.2 0 .2-.3-.7-.8-1-.5-.8 0 .6 .9zM384.8 471.7l.4-.2-.6-.9-1.5-.7-.3 .3 .9 1zM393.5 465.9l.4 0-.7-1-1.6-.7-.1 .4 .5 .7zM353.3 490.4l-.8-1.2-.5-2-1.1 .2-.3 .6-1.8 .8-.2 .6 2.5 .4zM396.6 461.9l-.8-1.2-.5-2-1.1 .2-.3 .6-1.8 .8-.2 .6 2.5 .4zM326.9 507.4l.3 .1-.7-1.5-.4-1.8-.9 .2-1.3 1.2-.9 .2 1.3 .9zM344.4 495.8l-.6-1.2-.4-1.7-1 .2-.3 .6-.5 .1-.4 .5-1 .2-.2 .6zM370.2 478.9l.2 .1-.7-1.5-.4-1.7-.8 .1-1.3 1.2-.9 .2-.4 .7 2.5 .4zM387.7 467.3l-.7-1.2-.4-1.7-1 .2-.3 .6-.5 .1-.4 .5-.9 .2-.3 .6zM335.2 501.5l.3 .1 .1-.3-.5-1-.4-1.8-.9 .2-.3 .7-.8 .2-.1 .3-1 .2-.3 .7zM378.4 473l.3 .1 .2-.3-.5-1-.4-1.7-1 .1-.3 .7-.7 .2-.2 .4-.9 .1-.3 .7zM326.5 501.1l.4-.7-.9 .3-.3 .5zM343.9 489.6l.3-.6-.7 .2-.5 .6zM352.5 484l.2 0 .1-.7-.7 .2-.4 .6zM361.1 478.3l.4-.7-.8 .3-.4 .5zM369.7 472.6l.4-.7-.8 .3-.3 .5zM387.1 461.1l.3-.6-.6 .2-.5 .6zM334.4 495.5l1-.3 .1-.5-.6 .2zM377.6 467l1-.3 .2-.5-.6 .2z"/>
<path fill="#ff8000" fill-rule="evenodd" d="M332.3 509.9l.2-.5-3.1-.3 .4 1.6 .6 .4 .3-.7zM347.9 499.6l.3-.6 .8-.3 .7-.4 .1-.3-2.8-.4-.2 .3 .4 1.8zM375.5 481.4l.2-.5-3.1-.3 .5 2 .5 0 .3-.7 .7-.3zM391.1 471.1l.3-.6 .9-.3 .6-.4 .1-.3-2.8-.4-.2 .3 .4 1.8zM338.5 505.4l1-.4 .1-.4 .8-.2 .7-.7-2.6-.3-.4 .1zM355.8 494l.7-.1 .3-.6 .6-.5 .9-.1 .1-.4-3-.4zM364.5 488.3l.6-.1 .2-.6 .7-.4 .9-.2 .1-.4-3.1-.5zM381.8 476.9l1-.4 .1-.4 .8-.2 .6-.7-2.6-.3-.4 .1zM399.1 465.5l.7-.1 .2-.6 .6-.5 .9-.1 .1-.4-2.9-.4zM326.1 506.7l-.5-2.2-.8 .4-.1 .7-1.5 .3 .6 .4zM352.1 489.5l-.6-2.1-.6 .4-.2 .6-1.1 .2-.5 .5zM360.6 483.9l.3 0-.7-2.2-.8 .4-.1 .7-1.1 .1-.5 .5zM369.3 478.2l-.5-2.2-.8 .4-.1 .7-1.1 .1-.4 .5zM395.3 461l-.5-2.1-.7 .4-.1 .7-1.1 .1-.6 .5zM334.2 500.9l.4 0 .2-.2-.6-1.9-2.4 1.7zM342.9 495.2l.6-.1-.6-2-.6 .3-.2 .7-1.3 .3-.4 .4zM377.5 472.4l.3 0 .2-.2-.5-1.9-2.5 1.7zM386.1 466.7l.6-.1-.6-2-.6 .3-.1 .7-1.4 .3-.3 .4z"/>
<path fill="#ff1900" fill-rule="evenodd" d="M331.6 509.9l.4-.2-1.9-.1 .2 .8zM339 505.1l.4-.2 .4-.6 .4 0 .4-.3-1.5-.2-.3 .2zM347.6 499.4l.4-.2 .1-.4 .8-.1 .4-.4-1.7-.2-.1 .3zM356.3 493.7l1.1-1.2-1.3-.1zM374.9 481.4l.3-.2-1.9-.1 .2 .8zM382.2 476.6l.5-.2 .3-.6 .4 0 .5-.3-1.5-.2-.4 .2zM390.9 470.9l.4-.2 0-.4 .9-.1 .3-.4-1.6-.2-.2 .3zM399.5 465.2l1.1-1.2-1.2-.1zM364.9 487.6l.7-.2 .4-.6-1.3-.1zM360.1 483.4l-.4-1.4-.3 .9-1.2 .1zM325 506.1l.4 .1 0-.4-.3-1-.3 .2 0 .7-.6 0-.2 .3zM333.7 500.4l.4-.2-.1-.8-1.4 .9zM342.3 494.7l.5-.1-.2-.9-.3 .1 0 .4-.7 0-.3 .4zM351 489l.5 0-.2-1-.4 .1-.1 .4-1.2 .2zM368.3 477.6l.3 .1 .1-.4-.4-1-.2 .3-.1 .6-.5 0-.3 .3zM376.9 471.9l.5-.2-.2-.8-1.3 .9zM385.6 466.2l.4-.1-.1-.9-.3 .1-.1 .4-.6 0-.4 .4zM394.3 460.5l.4 0-.2-1-.4 .1 0 .4-1.3 .2z"/></g>
<text x="287.2" y="482.8" font-size="9.85" text-anchor="end" fill="#111" font-weight="bold"  stroke="#111" stroke-width="0.28">0</text>
<text x="287.2" y="467.4" font-size="9.85" text-anchor="end" fill="#111" font-weight="bold"  stroke="#111" stroke-width="0.28">0.4</text>
<text transform="translate(266.7,473.0) rotate(-90)" y="3.5" font-size="9.85" text-anchor="middle" font-weight="bold" fill="#111" stroke="#111" stroke-width="0.28">z/µm</text>
<text transform="translate(290.0,491.3) rotate(33.8)" y="3.5" font-size="9.85" text-anchor="middle" font-weight="bold" fill="#111" stroke="#111" stroke-width="0.28">0.5</text>
<text transform="translate(321.1,513.3) rotate(33.8)" y="3.5" font-size="9.85" text-anchor="middle" font-weight="bold" fill="#111" stroke="#111" stroke-width="0.28">0</text>
<text transform="translate(321.6,528.2) rotate(35.8)" y="3.5" font-size="9.85" text-anchor="middle" font-weight="bold" fill="#111" stroke="#111" stroke-width="0.28">y/mm</text>
<text transform="translate(356.3,540.6) rotate(33.8)" y="3.5" font-size="9.85" text-anchor="middle" font-weight="bold" fill="#111" stroke="#111" stroke-width="0.28">−0.5</text>
<text transform="translate(370.3,537.1) rotate(-33.4)" y="3.5" font-size="9.85" text-anchor="middle" font-weight="bold" fill="#111" stroke="#111" stroke-width="0.28">3</text>
<text transform="translate(392.4,521.8) rotate(-33.4)" y="3.5" font-size="9.85" text-anchor="middle" font-weight="bold" fill="#111" stroke="#111" stroke-width="0.28">3.005</text>
<text transform="translate(413.8,507.0) rotate(-33.4)" y="3.5" font-size="9.85" text-anchor="middle" font-weight="bold" fill="#111" stroke="#111" stroke-width="0.28">3.01</text>
<text transform="translate(436.7,491.1) rotate(-33.4)" y="3.5" font-size="9.85" text-anchor="middle" font-weight="bold" fill="#111" stroke="#111" stroke-width="0.28">3.015</text>
<text transform="translate(423.4,517.7) rotate(-33.4)" y="3.5" font-size="9.85" text-anchor="middle" font-weight="bold" fill="#111" stroke="#111" stroke-width="0.28">x/mm</text>
<defs><linearGradient id="cbbiii" x1="0" y1="0" x2="0" y2="1"><stop offset="0.0000" stop-color="#800000"/><stop offset="0.0625" stop-color="#bf0000"/><stop offset="0.1250" stop-color="#ff0000"/><stop offset="0.1875" stop-color="#ff4000"/><stop offset="0.2500" stop-color="#ff8000"/><stop offset="0.3125" stop-color="#ffbf00"/><stop offset="0.3750" stop-color="#ffff00"/><stop offset="0.4375" stop-color="#bfff40"/><stop offset="0.5000" stop-color="#80ff80"/><stop offset="0.5625" stop-color="#40ffbf"/><stop offset="0.6250" stop-color="#00ffff"/><stop offset="0.6875" stop-color="#00bfff"/><stop offset="0.7500" stop-color="#0080ff"/><stop offset="0.8125" stop-color="#0040ff"/><stop offset="0.8750" stop-color="#0000ff"/><stop offset="0.9375" stop-color="#0000bf"/><stop offset="1.0000" stop-color="#000080"/></linearGradient></defs>
<rect x="451" y="458.2" width="4.9" height="68.4" fill="url(#cbbiii)"/>
<text x="457.9" y="529.7" font-size="9.85" text-anchor="start" fill="#111" font-weight="bold"  stroke="#111" stroke-width="0.28">0</text>
<text x="457.9" y="507.2" font-size="9.85" text-anchor="start" fill="#111" font-weight="bold"  stroke="#111" stroke-width="0.28">0.02</text>
<text x="457.9" y="486.1" font-size="9.85" text-anchor="start" fill="#111" font-weight="bold"  stroke="#111" stroke-width="0.28">0.04</text>
<text x="457.9" y="464.4" font-size="9.85" text-anchor="start" fill="#111" font-weight="bold"  stroke="#111" stroke-width="0.28">0.06</text>
<text x="464.4" y="451.4" font-size="9.85" text-anchor="middle" fill="#111" font-weight="bold"  stroke="#111" stroke-width="0.28">z/µm</text>
<circle cx="288" cy="427" r="6.1" fill="#fff" stroke="#555" stroke-width="0.8"/>
<text x="288" y="430.5" font-size="9.85" text-anchor="middle" fill="#111" font-weight="bold"  stroke="#111" stroke-width="0.28">iii</text>
<path d="M511.1 483.3L584.8 437.3" stroke="#cdcdcd" stroke-width="0.6" fill="none"/>
<path d="M584.8 437.3L652.6 487.1" stroke="#cdcdcd" stroke-width="0.6" fill="none"/>
<path d="M511.1 467.3L584.8 421.3" stroke="#cdcdcd" stroke-width="0.6" fill="none"/>
<path d="M584.8 421.3L652.6 471.1" stroke="#cdcdcd" stroke-width="0.6" fill="none"/>
<path d="M584.8 437.3L584.8 421.3" stroke="#cdcdcd" stroke-width="0.6" fill="none"/>
<path d="M652.6 487.1L652.6 471.1" stroke="#cdcdcd" stroke-width="0.6" fill="none"/>
<path d="M535.7 468.0L535.7 452.0" stroke="#dcdcdc" stroke-width="0.5" fill="none"/>
<path d="M607.4 453.9L607.4 437.9" stroke="#dcdcdc" stroke-width="0.5" fill="none"/>
<path d="M560.2 452.6L560.2 436.6" stroke="#dcdcdc" stroke-width="0.5" fill="none"/>
<path d="M630.0 470.5L630.0 454.5" stroke="#dcdcdc" stroke-width="0.5" fill="none"/>
<path d="M511.1 475.3L584.8 429.3" stroke="#e0e0e0" stroke-width="0.5" fill="none"/>
<path d="M584.8 429.3L652.6 479.1" stroke="#e0e0e0" stroke-width="0.5" fill="none"/>
<path d="M511.1 483.3L511.1 467.3" stroke="#4a4a4a" stroke-width="0.7" fill="none"/>
<path d="M511.1 483.3L578.9 533.1" stroke="#4a4a4a" stroke-width="0.7" fill="none"/>
<path d="M578.9 533.1L652.6 487.1" stroke="#4a4a4a" stroke-width="0.7" fill="none"/>
<g id="s_biv"><path fill="#00009c" d="M578.9 521.5l73.7-46-3.4 .3-4.6-.3-3.5-.6-4.6-1.6-3.4-1.6-2.3-1.4-2.3-2-1.2-1.8-1.1 .4-1.2-3-2.3-1.9-1.1-.3-2.3 .4-1.2-1.3-1.1-2.3-1.2 .5-1.1-.9-1.2-1.4-1.1-.2-2.3-2.3-1.2-.3-2.3-2.8-2.3-1.8-2.3-2.2-9.2-10.6-8-10.8-73.7 46 5.7 7.8 5.8 7.1 10.3 11.1 2.3 1.3 1.2 1.7 2.3 1.4 1.1 1.1 1.2 .7 1.1 .4 1.2 2.5 1.1-.7 1.2-.2 2.3 3.6 2.3 2.5 1.1 .3 1.2-.9 1.1 3 1.2 .3 1.1 1.1 1.2 .4 1.1 .9 2.3 1.2 4.6 1.9 3.5 .9 3.4 .6 3.5 .1 3.4-.3z"/>
<path fill="#0000d4" fill-rule="evenodd" d="M578.9 521.5l73.7-46-2.8 .3-2.9 0-5.6-.9-3.5-1.1-3.4-1.4-2.8-1.5-1.1-1-2.6 1.9-.4-.2 2.5-1.7-.4-.8-13.2 9.8-.4-.1 3.2-2.1 .3-.5 9.3-6.8 .2-.3-.2-.9-.3 0-4.1 3.4-11.9 8.9-7.5 5.5-.4-.1 3.2-2.1 .3-.4 6.2-4.5 13.4-10.3 .2-.3-.5-1.9-.7 1-3.1 2.8-10.6 8.5-19.4 14.4-.4-.1 3.2-2.1 .2-.4 2.9-1.9 .5-.6 2.9-2 10.9-8.3 6.5-5.3 5.9-5.4-1.4-3.5-.9-.4-1.4-1.3-1.7-.1-6.2 1.4-6.1 1.8-16.7 5.9 .6-.6 1.2-.2 .6-.5 9.8-3.7 7.7-2.7 6.6-1.9-1.4-2.9-1.4 .9-12.3 4.5 .6-.6 1.2-.3 .6-.4 9.4-3.6-1-2.1-.3-.1-.8 .6-.3-.2-.9-1.9-1.1 .2-.8-1.7-.9 .3-.8-1.6-.6 .1-.3-.2-.6-1-.8-.4-.6-.9-.5-.2-.9-1.1-1.7-1.5-8.8-10-8.5-11.4-73.7 46 6.5 8.9 7.1 8.5 4.3 4.6 2 1.7 .5 .9 .9 .4 .5 1 .9 .2 .8 1.3 .6-.2 .9 1.5 1.1 .1 .8 1.8 1.2-.6 .9 2.1 13-4.7 9.9-2.7 3.5-.7 3.6-.3 2.7 .2 1.8 .9 0 .7-.3 .7-2.5 3-7.1 6.3-9.3 7.3 .4 .8 9.9-7.3 10.5-8.6 6.2-5.9 1.3-1.9-.1-.8-1.8-.8-2.6-.2-3.1 .3-4.1 .7-9.9 2.7-15.9 5.7 .2-.3 4-1.7 9.5-3.6 6.6-2.2 6-1.7 4.6-1 3.8-.4 2.9 .1 1.9 .7 .4 .5 0 .5-.8 1.3-2 2.3-3 2.8-10.5 8.7-13.7 10.4 .4 0 .2 .4 2.4-1.4-2.2 1.6 5 2.6 5.7 2 5.6 .9 2.9 0zM563.2 512.5l3.2-2-2.5 1.8zM574.6 505.4l3.3-2-2.6 1.8zM586.1 498.3l3.2-2.1-2.6 1.8zM597.5 491.2l3.2-2.1-2.6 1.8zM608.9 484l3.2-2-2.5 1.8zM620.6 476.8l-.3 .1 1.4-1 1.9-1.1zM559 514.6l-.1-.2 3.3-2.1 .2-.4 2.9-1.9 .4-.6 8.6-6.3 11.8-9.4 6.9-6.3 1.8-2.3 .3-1-.1-.3-1-.5-2.3-.5-3.3 .1-4.1 .7-9.2 2.4-8.5 2.8-9 3.4 .6-.6 15.4-5.8 11.3-3.4 4.5-.9 3.6-.3 2.7 .3 1.7 .8 .1 .5-.2 .8-1.8 2.2-3.3 3.2-4.7 4.1-14.4 11.3-13.7 10.1zM567 509.9l-.2 0 1.6-1.1 2.1-1.2zM570.4 507.4l15.3-11.4 11.8-9.4 6.9-6.3 1.9-2.4 .3-.9-.2-.3-.9-.6-2.4-.4-3.3 .1-4.1 .7-9.2 2.4-8.5 2.8-9 3.4 .6-.6 15.4-5.9 11.3-3.3 4.5-.9 3.6-.3 2.7 .2 1.7 .9 .1 .5-.2 .7-1.8 2.3-3.2 3.2-4.8 4.1-14.3 11.2-13.8 10.2zM578.4 502.8l1.4-1.2 2.1-1.2zM581.8 500.2l3.2-2.1 .2-.5 2.9-1.9 .4-.5 8.6-6.3 11.8-9.4 6.9-6.4 1.9-2.3 .3-.9-.1-.4-1-.5-2.4-.4-3.3 .1-4.1 .6-9.2 2.5-8.5 2.8-9 3.3 .6-.5 1.1-.3 .7-.5 3.3-1.3 10.3-3.8 11.3-3.3 4.5-.9 3.6-.3 2.7 .2 1.8 .8 .1 .6-.3 .7-1.7 2.2-3.3 3.3-4.8 4.1-14.3 11.2-13.8 10.2zM589.8 495.7l1.4-1.2 2.2-1.2zM601.2 488.5l1.4-1.1 2.2-1.2zM612.6 481.4l1.7-1.3 1.9-1zM624 474.3l1.7-1.3 1.9-1.1-2.9 2.1zM554.5 513.8l.3 .9 1.9-1.4 9.7-8.1 4.5-4.4 1.3-2 0-.7-1.4-.7-2.4-.3-2.9 .1-3.6 .5-9.2 2.4-12.2 4.1 1.2-.7 1.2 2.5 7.4-2.1 5.6-1.1 4-.2 1.9 .4 1.1 .5 .4 .5-.1 .4-1.1 1.8-4.1 4.2-4.2 3.6 .4-.7zM553.4 513.6l0 .1 3.1-2.8 3-3 1.3-2 .1-.4-.4-.5-2.6-.8-3.6 .1-4.6 .8-6 1.4 1.7-.8 2.7 4.1 1.9 .2 1.4 .6 .4 .5-.3 1.2 1-1 .3 .3z"/>
<path fill="#000eff" fill-rule="evenodd" d="M578.9 521.5l73.7-46-4.3 .3-4.5-.4-4.5-1.1-4.7-1.8-4.7 2.8-69.1 43.1 4.8 1.9 4.5 1.1 4.5 .4zM560.9 510.2l2.2-1.4-.4-.1zM572.3 503.1l2.2-1.4-.4-.2zM583.7 495.9l2.2-1.3-.4-.2zM595.2 488.8l1.3-.7 .8-.7-.4-.1zM606.6 481.7l1.3-.7 .8-.8-.4 0zM618 474.5l1.3-.6 .9-.7-.1-.2-.4 .1zM562.9 508.5l.4-.3 1.2-.5 2.8-2.1 10.2-8.4 4.2-4.2 .7-1.3 0-.7-1.9-.8-3-.2-4 .5-4.8 1-12.6 4-17.5 6.6 .6-.3 .5 1.1 12.9-4.7 10.9-3.1 5.9-1 2.6-.1 2 .3 1.5 .6 .4 .5-.2 .9-.9 1.4-4.3 4.4zM574.3 501.4l1.9-1 7.2-5.6 5.5-4.7 3.5-3.5 1.2-1.4 .2-.6 0-.7-1.4-.7-2.4-.3-3.6 .2-4.1 .8-11.1 3.2-14.5 5.2-20.2 8.3 .4-.2 .3 .2 .4 .8 17.6-7.2 14.1-4.8 8.4-2 3.1-.4 2.6-.1 2.5 .4 1.3 .7 .1 .7-.5 1-1.5 1.9-2.7 2.6zM585.8 494.3l1.8-1 9.1-7.2 5.2-4.6 2.6-2.8 .8-1.2 0-.6-.4-.4-2.2-.7-3.5 0-4.2 .7-5.2 1.2-13 4.3-17.1 6.6-24.7 10.4 .8-.6 14.6-6.9 21.7-9.2 16-5.9 6.4-1.9 5.1-1.2 4.1-.6 3.7 0 2.4 .8 .4 .5-.1 .4-1 1.9-2.6 2.7-9.3 8.1 1.8-.9 9.1-7.2 5.2-4.6 2.6-2.8 .8-1.2 0-.6-.3-.4-2.3-.7-3.4 0-4.1 .6-4.9 1.2-12.4 3.9-17.2 6.6-25.7 10.9 .8-.7 21-9.7 18.2-7.5 14.6-5.2 6.2-1.8 4.7-1 3.9-.5 3 .1 2.4 .8 .4 .5 0 .4-1.1 1.8-2.4 2.6-9.5 8.3 1.8-.9 6.9-5.5 5.4-4.4 3.2-3.1-1.1-2.6-.6-.2-2-1.6-1.1 0-2.2 .3-6.3 1.5-9.4 2.9-12.1 4.5-14 5.7-19.3 8.1 1.1-.8 1.1-.3 1-.6 9.8-4.6 20.4-8.9 14.6-5.6 12-3.8-.9-1.8-.9 .5-9.2 3.3-11.2 4.4-26.4 11.1 .8-.6 1.4-.5 1.4-.8 18.2-8.4 13.1-5.5 10.4-4.1-.5-1-.3-.1-33 13.9 1-.8 1.2-.3 .9-.7 9.8-4.6 18.6-8.1-.5-.9-.2 0-19.4 8.3 1.1-.8 1.1-.4 .9-.6 15.1-7-.5-1-6.3 2.6 1.1-.7 1.1-.4 3-1.6-.4-.7-.2-.5-.6 .1-.3-.2-.6-1-.8-.4-.6-.9-.5-.2-.9-1.1-.6-.3-.5-.8-.6-.4-4.3-4.6-6.8-8.3-6.2-8.5-73.7 46 6.5 8.9 7.1 8.5 4.3 4.6 2 1.7 .5 .9 .9 .4 .5 1 .9 .2 .8 1.3 .6-.2 .6 1.1 19-8.3 15.2-6 12.3-4 5-1.2 4.2-.7 2.7-.2 2.7 .3 1.7 .9 .1 .8-1.1 1.7-2.5 2.8zM620 472.9l1.9-1 5.8-4.5-.3-1-1.7 1.7zM554.2 513.3l.3 .4 1.1-.8 10.8-8.8 3.9-4 .7-1.2-.1-.8-1.3-.6-2-.3-3.1 .1-3.3 .5-8.7 2.2-11.5 3.9 .7-.4 .7 1.4 8.7-2.5 6.9-1.2 3.7 0 2.4 .8 .4 .5 0 .5-1.6 2.3-3.6 3.6zM553.1 512.6l0 .2 2.6-2.3 3.1-3.3 .8-1.2 0-.4-.4-.5-2.1-.7-3.5 0-4.2 .6-5.2 1.2 1.2-.5 1.6 2.6 3.2 .1 2.5 .8 .4 .5-.1 .4-1.1 1.8 .6-.6 .3 .3z"/>
<path fill="#0047ff" fill-rule="evenodd" d="M578.9 521.5l73.7-46-3.7 .3-4-.2-3.9-.8-4.1-1.3-71.2 44.4-2.5 1.6 4.1 1.3 3.1 .7 2.8 .3 2.9 0zM560.1 508.1l1.4-.9-.2-.3zM571.5 500.9l1.4-.8-.2-.3zM582.9 493.8l1.4-.8-.2-.3zM594.4 486.7l1.3-.9-.2-.3zM605.8 479.6l1.4-.9-.3-.3zM617.2 472.4l1.4-.8-.3-.3zM561.3 506.9l1.2-.5 2.8-2.5 2.9-2.8 1.2-1.6 .3-.5 0-.8-1.8-.8-4.1-.1-5.5 1-7.5 2-9.3 3.2 .2 0 .2 .4 7.7-2.3 6.6-1.5 3.8-.4 3.4 .1 1.9 .8 .4 .5 0 .4-1.3 2.1zM572.7 499.8l1.2-.5 3.7-3.3 2.1-2.1 1.5-2.1 0-.7-.7-.4-2.8-.6-5.3 .5-7.3 1.8-12.2 4-5.9 2.2-.1 .4 1.3-.7 7.5-2.3 7.3-2.1 5.4-1.1 4.9-.3 2.8 .6 .9 .6 .1 .7-1.3 2.1zM584.1 492.7l.6-.4 .6-.2 3.7-3.2 2.1-2.1 1.5-2.1 0-.8-.6-.3-2.8-.6-5.4 .5-7.3 1.7-12.2 4.1-5.9 2.2-.1 .3 1.3-.6 .2 .1 7.3-2.4 7.3-2.1 5.5-1.1 4.8-.3 2.8 .6 .9 .5 .1 .7-1.3 2.2zM595.6 485.5l.5-.4 .6-.1 3.7-3.3 2.1-2 1.5-2.1 0-.8-.6-.4-2.8-.5-5.4 .5-7.3 1.7-12.2 4.1-5.9 2.1-.1 .4 1.3-.6 .2 .1 7.7-2.6 6.9-1.9 5.5-1.1 4.8-.3 2.8 .5 1 .6 .1 .7-1.3 2.2zM607 478.4l.5-.4 .6-.1 3.8-3.3 2-2.1 1.5-2.1 0-.7-.6-.4-2.8-.6-5.4 .5-7.3 1.8-12.2 4-5.9 2.2 0 .4 1.2-.7 .2 .2 7.7-2.6 6.9-2 5.5-1 4.8-.4 2.8 .6 1 .6 .1 .7-1.3 2.2zM618.4 471.3l1.7-1 5.5-5.1-.8-1.7-.9-.4-1.4-1.3-.8-.1-5.1 .7-7.4 1.9-15.1 5.2-1.5 .6 0 .3 1.2-.6 .2 .1 7.7-2.5 7-2 5.4-1.1 4.8-.3 2.9 .6 .9 .5 .1 .7-1.3 2.2zM552.8 511.6l.1 .3 .5-.4 4.1-4.1 .8-1.3 .1-.5-.4-.5-2-.6-3-.1-3.9 .5-4.4 1 .7-.2 .8 1.3 4.8-.2 1.8 .4 1.1 .5 .4 .5 0 .4-.5 1.1-1.5 1.8 .2-.2zM616.9 459.1l.3-.1-.3-.7-12.9 4.7 0 .3 1.2-.6 .2 .1zM542.8 491.9l1.6-1-1.4 .7zM554.2 484.8l1.6-1-1.4 .6zM565.6 477.7l1.6-1.1-1.4 .7zM577 470.5l1.6-1-1.4 .7zM588.4 463.4l1.7-1-1.5 .7zM599.9 456.3l1.6-1-1.5 .6zM540 493.2l2.2-1.3-10.4 4.5 .7 .5zM551.4 486.1l2.2-1.4-12.3 5.4 1.2-.9 21.7-10.9 .8-.7-12.2 5.4 1.1-.9 21.7-10.9 .9-.7-12.3 5.3 1.1-.8 21.7-10.9 .9-.7-12.3 5.3 1.1-.9 21.7-10.9 .9-.7-12.3 5.4 1.1-.9 18.6-9.4-.4-.3-7.8 3.4 1.4-1 5.7-2.9-.4-.6-.5-.2-3.7-3.8-6-6.8-4.8-6-5.4-7.4-73.7 46 5.1 7 4.8 6.1 5.7 6.5 3.7 3.8 .6 .3 .4 .7z"/>
<path fill="#0080ff" fill-rule="evenodd" d="M578.9 521.5l73.7-46-3.4 .3-3.4-.1-3.4-.5-3.6-1-66.6 41.5-7.1 4.5 3.6 1 3.4 .5 3.4 .1zM554.6 508.9l.9-.6 1.6-2.1 0-.8-.7-.4-1.7-.5-2.3 0-6.2 .9-.1 .3 5.6-.4 2.7 .6 1.1 .9-.1 .8zM566.1 501.7l.8-.5 1.6-2.2 0-.7-.8-.5-1.7-.4-2.2-.1-6.2 1 0 .2 5.5-.3 2.8 .6 1 .8-.1 .9zM577.5 494.6l.8-.5 1.6-2.2 0-.8-.8-.4-1.7-.4-2.2-.1-6.2 1 0 .2 .7-.2 4.8-.2 2.8 .6 1.1 .9-.2 .9zM588.9 487.5l.8-.6 1.7-2.1 0-.8-.9-.5-1.7-.4-2.1 0-6.3 .9 0 .3 .7-.2 4.8-.2 2.8 .6 1.1 .9-.2 .8zM600.3 480.3l.9-.5 1.6-2.2 0-.7-1-.6-1.6-.3-2.3 0-6 .9-.1 .3 5.6-.4 2.7 .6 1.1 .8-.1 .9zM611.8 473.2l.8-.5 0-.3 .7-.6 .9-1.3 0-.8-1-.5-1.6-.3-2.3-.1-6 1 0 .2 5.5-.3 2.8 .5 1 .9-.1 .9zM623.2 466.1l.6-.4 1.4-1.5-.4-.7-.9-.4-1.4-1.3-2.8 0-5 .8 0 .3 5.5-.4 2.8 .6 1.1 .9-.2 .8zM539.3 488l1.7-1.1-3 1.1 1.6-1.2 11.9-6.4 .9-.6-2.9 1.1 1.6-1.2 11.8-6.4 1-.7-3 1.1 1.6-1.1 11.8-6.4 1-.7-3 1.1 1.6-1.1 11.8-6.4 1-.7-3 1.1 1.6-1.1 11.8-6.5 1-.6-2.9 1 .3-.2 7.4-4.3-3.1-3.1-5.6-6.6-4.6-5.8-4.8-6.6-73.7 46 9.1 12.1 4.5 5.3 4.2 4.5z"/>
<path fill="#00b8ff" fill-rule="evenodd" d="M578.9 521.5l73.7-46-2.8 .3-3.2 0-3.1-.4-3.1-.7-68.4 42.7-5.3 3.3 3.1 .7 3.1 .4 3.2 0zM533.9 487.2l2.3-1.5 .1-.4 1.1-.8 9.1-5.1 2.4-2 9-5.1 2.4-2 9-5.1 1.2-.9 .1-.4 1.1-.7 9-5.2 1.2-.8 .1-.4 1.1-.8 9-5.1 1.3-.8 .1-.5 1-.7 6.1-3.5-7.3-8.3-8.5-11.4-73.7 46 8.2 11 7.4 8.6z"/>
<path fill="#00f1ff" fill-rule="evenodd" d="M578.9 521.5l73.7-46-5.4 .3-5.3-.8-65.4 40.9-8.3 5.1 5.3 .8zM533.9 483.8l2.6-1.9 9.2-5.5 2.2-1.6 9.2-5.5 2.3-1.6 9.1-5.5 2.3-1.7 9.1-5.4 2.3-1.7 9.1-5.4 2.3-1.7 5-3-6.7-8-7.1-9.6-73.7 46 6.5 8.9 7.2 8.6z"/>
<path fill="#2affd5" fill-rule="evenodd" d="M578.9 521.5l73.7-46-4.5 .3-4.9-.5-9 5.6-64.7 40.4 4.9 .5zM523 487.1l.2 .2 .3-.2 73.3-45.8-5.8-7.1-6.2-8.5-73.7 46 6 8.1z"/>
<path fill="#63ff9c" fill-rule="evenodd" d="M578.9 521.5l73.7-46-4 .3-4.2-.3-71.2 44.5-2.5 1.5 4.2 .3zM523.1 484.5l72.2-45.1-5.1-6.3-5.4-7.4-73.7 46 5.1 7 5.4 6.7z"/>
<path fill="#9cff63" fill-rule="evenodd" d="M578.9 521.5l73.7-46-3.4 .3-3.7-.1-.3 .2-73.4 45.8 3.7 .1zM519.9 483.4l.2 .3 5.9-3.7 67.8-42.3-9-12-73.7 46z"/>
<path fill="#d4ff2b" fill-rule="evenodd" d="M578.9 521.5l73.7-46-2.8 .3-3.2 0-64.4 40.2-9.3 5.8 3.2 0zM518.5 481.6l.2 .4 73.7-46-7.6-10.3-73.7 46z"/>
<path fill="#fff100" fill-rule="evenodd" d="M578.9 521.5l73.7-46-5 .3-2.1 1.4-71.6 44.6zM517.3 480.2l.1 .1 73.7-46-6.3-8.6-73.7 46z"/>
<path fill="#ffb800" fill-rule="evenodd" d="M578.9 521.5l73.7-46-4 .3-65.4 40.8-8.3 5.2zM516.2 478.7l73.7-46-5.1-7-73.7 46z"/>
<path fill="#ff8000" fill-rule="evenodd" d="M578.9 521.5l73.7-46-3.1 .3-70.3 43.9-3.4 2.1zM514.8 476.8l.3 .4 73.7-46-4-5.5-73.7 46z"/>
<path fill="#ff4700" fill-rule="evenodd" d="M578.9 521.5l73.7-46-2.2 .2-51.5 32.2-22.2 13.8zM513.9 475.7l73.7-46-2.8-4-3.7 2.3-70 43.7z"/>
<path fill="#ff0e00" fill-rule="evenodd" d="M578.9 521.5l73.7-46-1.4 .2-58.3 36.3-15.4 9.7zM512.8 474.1l73.8-45.9-1.8-2.5-73.7 46z"/>
<path fill="#d50000" fill-rule="evenodd" d="M578.9 521.5l73.7-46-.6 .1-58.3 36.3-15.4 9.7zM511.7 472.5l.1 .2 73.7-46-.7-1-73.7 46z"/></g>
<text x="508.90000000000003" y="482.8" font-size="9.85" text-anchor="end" fill="#111" font-weight="bold"  stroke="#111" stroke-width="0.28">0</text>
<text x="508.90000000000003" y="469.1" font-size="9.85" text-anchor="end" fill="#111" font-weight="bold"  stroke="#111" stroke-width="0.28">0.4</text>
<text transform="translate(487.9,473.0) rotate(-90)" y="3.5" font-size="9.85" text-anchor="middle" font-weight="bold" fill="#111" stroke="#111" stroke-width="0.28">z/µm</text>
<text transform="translate(511.7,493.0) rotate(34.3)" y="3.5" font-size="9.85" text-anchor="middle" font-weight="bold" fill="#111" stroke="#111" stroke-width="0.28">0.5</text>
<text transform="translate(541.4,514.4) rotate(34.3)" y="3.5" font-size="9.85" text-anchor="middle" font-weight="bold" fill="#111" stroke="#111" stroke-width="0.28">0</text>
<text transform="translate(541.9,529.3) rotate(36.3)" y="3.5" font-size="9.85" text-anchor="middle" font-weight="bold" fill="#111" stroke="#111" stroke-width="0.28">y/mm</text>
<text transform="translate(577.5,542.5) rotate(34.3)" y="3.5" font-size="9.85" text-anchor="middle" font-weight="bold" fill="#111" stroke="#111" stroke-width="0.28">−0.5</text>
<text transform="translate(588.4,537.1) rotate(-32.0)" y="3.5" font-size="9.85" text-anchor="middle" font-weight="bold" fill="#111" stroke="#111" stroke-width="0.28">3</text>
<text transform="translate(611.3,522.7) rotate(-32.0)" y="3.5" font-size="9.85" text-anchor="middle" font-weight="bold" fill="#111" stroke="#111" stroke-width="0.28">3.005</text>
<text transform="translate(633.4,508.9) rotate(-32.0)" y="3.5" font-size="9.85" text-anchor="middle" font-weight="bold" fill="#111" stroke="#111" stroke-width="0.28">3.01</text>
<text transform="translate(657.1,494.0) rotate(-32.0)" y="3.5" font-size="9.85" text-anchor="middle" font-weight="bold" fill="#111" stroke="#111" stroke-width="0.28">3.015</text>
<text transform="translate(643.8,520.6) rotate(-32.0)" y="3.5" font-size="9.85" text-anchor="middle" font-weight="bold" fill="#111" stroke="#111" stroke-width="0.28">x/mm</text>
<defs><linearGradient id="cbbiv" x1="0" y1="0" x2="0" y2="1"><stop offset="0.0000" stop-color="#800000"/><stop offset="0.0625" stop-color="#bf0000"/><stop offset="0.1250" stop-color="#ff0000"/><stop offset="0.1875" stop-color="#ff4000"/><stop offset="0.2500" stop-color="#ff8000"/><stop offset="0.3125" stop-color="#ffbf00"/><stop offset="0.3750" stop-color="#ffff00"/><stop offset="0.4375" stop-color="#bfff40"/><stop offset="0.5000" stop-color="#80ff80"/><stop offset="0.5625" stop-color="#40ffbf"/><stop offset="0.6250" stop-color="#00ffff"/><stop offset="0.6875" stop-color="#00bfff"/><stop offset="0.7500" stop-color="#0080ff"/><stop offset="0.8125" stop-color="#0040ff"/><stop offset="0.8750" stop-color="#0000ff"/><stop offset="0.9375" stop-color="#0000bf"/><stop offset="1.0000" stop-color="#000080"/></linearGradient></defs>
<rect x="669.7" y="458.6" width="4.9" height="69.0" fill="url(#cbbiv)"/>
<text x="676.6" y="530.7" font-size="9.85" text-anchor="start" fill="#111" font-weight="bold"  stroke="#111" stroke-width="0.28">0</text>
<text x="676.6" y="511.9" font-size="9.85" text-anchor="start" fill="#111" font-weight="bold"  stroke="#111" stroke-width="0.28">0.1</text>
<text x="676.6" y="491.2" font-size="9.85" text-anchor="start" fill="#111" font-weight="bold"  stroke="#111" stroke-width="0.28">0.2</text>
<text x="676.6" y="471.2" font-size="9.85" text-anchor="start" fill="#111" font-weight="bold"  stroke="#111" stroke-width="0.28">0.3</text>
<text x="682.8" y="453.59999999999997" font-size="9.85" text-anchor="middle" fill="#111" font-weight="bold"  stroke="#111" stroke-width="0.28">z/µm</text>
<circle cx="523.4" cy="427.6" r="6.1" fill="#fff" stroke="#555" stroke-width="0.8"/>
<text x="523.4" y="431.1" font-size="9.85" text-anchor="middle" fill="#111" font-weight="bold"  stroke="#111" stroke-width="0.28">iv</text>
<path d="M288.9 645.2L364.2 596.6" stroke="#cdcdcd" stroke-width="0.6" fill="none"/>
<path d="M364.2 596.6L432.7 649.3" stroke="#cdcdcd" stroke-width="0.6" fill="none"/>
<path d="M288.9 632.3L364.2 583.7" stroke="#cdcdcd" stroke-width="0.6" fill="none"/>
<path d="M364.2 583.7L432.7 636.4" stroke="#cdcdcd" stroke-width="0.6" fill="none"/>
<path d="M364.2 596.6L364.2 583.7" stroke="#cdcdcd" stroke-width="0.6" fill="none"/>
<path d="M432.7 649.3L432.7 636.4" stroke="#cdcdcd" stroke-width="0.6" fill="none"/>
<path d="M314.0 629.0L314.0 616.1" stroke="#dcdcdc" stroke-width="0.5" fill="none"/>
<path d="M387.0 614.2L387.0 601.3" stroke="#dcdcdc" stroke-width="0.5" fill="none"/>
<path d="M339.1 612.8L339.1 599.9" stroke="#dcdcdc" stroke-width="0.5" fill="none"/>
<path d="M409.9 631.7L409.9 618.8" stroke="#dcdcdc" stroke-width="0.5" fill="none"/>
<path d="M288.9 638.8L364.2 590.1" stroke="#e0e0e0" stroke-width="0.5" fill="none"/>
<path d="M364.2 590.1L432.7 642.8" stroke="#e0e0e0" stroke-width="0.5" fill="none"/>
<path d="M288.9 645.2L288.9 632.3" stroke="#4a4a4a" stroke-width="0.7" fill="none"/>
<path d="M288.9 645.2L357.4 697.9" stroke="#4a4a4a" stroke-width="0.7" fill="none"/>
<path d="M357.4 697.9L432.7 649.3" stroke="#4a4a4a" stroke-width="0.7" fill="none"/>
<g id="s_ci"><path fill="#0000b3" d="M357.4 697.9l75.3-48.6-68.5-52.7-75.3 48.6 68.5 52.7z"/>
<path fill="#001aff" fill-rule="evenodd" d="M349.7 687.5l1.1-.8-.4-.1-.7 .4zM357.8 682.2l1.1-.7-.4-.2-.6 .4-.3 .3zM366 677l1.1-.8-.4-.1-1 .6zM374.1 671.7l1.2-.8-.4-.1-1 .6zM382.3 666.4l1.1-.7-.6 0-.7 .4zM390.4 661.2l1.1-.7-.6-.1-.6 .5zM398.5 656l1.1-.8-.4-.1-.7 .4-.2 .3zM406.6 650.7l1.1-.7-.4-.2-.6 .4-.3 .3zM414.8 645.4l1.1-.7-.4-.2-.9 .6zM346.7 685.3l1.1-.6 .3-.3-.2-.3-.5-.1-1.3 .8 .2 .4zM354.9 680.1l1.1-.7 .2-.2-.1-.3-.9-.1-.9 .7 .1 .4zM363 674.8l1.2-.6 0-.6-.8-.1-.9 .7 0 .5zM371.1 669.6l1.3-.7 0-.5-.8-.1-.9 .6-.2 .2 .2 .3zM379.2 664.3l1.4-.7-.1-.5-.7-.1-.9 .6-.3 .3zM387.4 659.1l1.3-.8-.1-.4-.5-.2-1 .6-.3 .3zM395.5 653.8l1.2-.6 .2-.3-.2-.3-.8 0-.9 .6 .1 .5zM403.7 648.6l1.2-.7 0-.5-.8-.1-1 .6 .1 .6zM411.8 643.3l1.3-.7-.1-.5-.7-.1-1 .6 0 .6zM343.4 683l.4 0 1-.6 .3-.5-.2-.3-.6-.1-1 .6-.4 .4zM351.5 677.8l.6-.1 .9-.6 .2-.5-.7-.3-1 .5-.4 .4zM359.7 672.5l.6 0 .9-.6 .2-.5-.7-.4-1.4 .7-.1 .4zM367.8 667.2l.7 0 .9-.6 .1-.5-.5-.3-.5 0-1.2 .9zM375.9 662l.8-.1 .9-.6 0-.4-.7-.4-.6 .3-.8 .6 .1 .4zM384.1 656.8l.8-.2 .8-.7 .1-.2-.7-.4-.6 .2-.9 .6 .1 .5zM392.2 651.5l.5 0 1-.6 .2-.5-.8-.4-1 .6-.4 .4zM400.3 646.3l.6-.1 1-.6 .1-.4-.6-.4-1.1 .5-.4 .4zM408.5 641l.6-.1 1-.6 .1-.4-.6-.3-.5 0-1.1 .9zM338.8 683.5l.1 .2 .3-.3 .2-.7-.2-.6-1-.3-1.4 .3zM345.8 679l1-.4 .5-.5 .3-.6-.3-.7-1.4-.3-1.2 .5-.6 .4-.3 .8 .4 .6 .9 .3zM353.9 673.8l.8-.3 .8-.7 .2-.6-.3-.6-.8-.3-1 .1-1 .5-.5 .5-.1 .6 .3 .6zM362 668.5l.9-.3 .8-.7 .1-.5-.3-.7-.7-.3-.9 .1-.8 .3-.8 .7-.2 .7 .4 .5zM370.2 663.3l.9-.4 .7-.7 .1-.8-.5-.5-1.7 .1-.7 .3-.7 .8-.1 .4 .4 .6 .9 .2zM378.3 658l1-.4 .7-.6 .1-.5-.3-.7-.8-.3-.7 .1-.8 .2-.9 .7-.2 .8 .3 .5 .8 .3zM386.4 652.8l1.6-.9 .2-.7-.3-.6-1.4-.3-.8 .3-.9 .6-.3 .8 .4 .6 .8 .3zM394.6 647.5l1-.4 .6-.5 .2-.6-.3-.6-.8-.4-1 .1-1.1 .6-.4 .5-.2 .6 .4 .5zM402.7 642.3l.8-.3 .8-.7 .2-.6-.3-.6-.8-.3-.9 .1-1.1 .5-.5 .5-.1 .6 .3 .6zM410.8 637l.9-.3 .8-.7 .1-.9-.6-.4-1.7 0-.7 .4-.6 .7-.1 .5 .4 .5 .8 .3zM338.6 679.2l1-.4 .5-.5 .2-.6-.4-.6-.9-.2-.7 .1-1.2 .8-.2 .5 .2 .6 .8 .3zM346.8 673.9l1-.4 .4-.5 .2-.5-.4-.6-1.5-.2-1.3 .8-.2 .5 .3 .7 .7 .3zM354.9 668.7l1-.5 .5-.5 .1-.5-.3-.6-1.4-.2-1.4 .8-.3 .6 .3 .6 .8 .3zM363 663.4l.8-.2 .7-.7 .2-.5-.4-.6-.9-.3-.8 .2-1.2 .9-.1 .3 .2 .7 .8 .3zM371.2 658.2l1.4-.8 .2-.7-.4-.5-.8-.3-.8 .1-1.3 .9-.1 .4 .3 .6 .8 .3zM379.3 652.9l.9-.3 .5-.5 .2-.6-.3-.6-.9-.2-.7 0-1.3 .9-.2 .4 .3 .7 .8 .3zM387.4 647.7l1-.4 .5-.5 .1-.6-.3-.5-1.5-.2-1.3 .8-.2 .5 .2 .6 .8 .3zM395.5 642.4l1.1-.4 .5-.5 .1-.5-.4-.6-1.4-.2-1.4 .8-.2 .6 .3 .6 .8 .3zM403.7 637.2l.8-.3 .7-.7 .1-.5-.3-.5-1.4-.3-.8 .3-.6 .5-.3 .6 .3 .6 .8 .3zM332.8 678.9l.2 .2 .5-.9-.1-.5-.4-.5-1.2-.3-1.3 .3zM339.6 674.5l1.3-.5 .6-.7 .1-.9-.5-.5-.8-.3-1.2 .1-.8 .4-.7 .7-.1 .6 .3 .7 .7 .3zM347.8 669.2l.9-.3 .8-.7 .3-.7-.6-.8-.8-.3-1.1 .1-.8 .3-.8 .7-.1 .7 .3 .6 .7 .4zM355.9 664l1-.4 .8-.7 .2-.8-.5-.7-.9-.3-1 .1-1.1 .5-.5 .5-.2 .8 .3 .6 .7 .3zM364 658.7l1.1-.3 .8-.8 .1-.8-.5-.6-.8-.3-1 0-1.1 .5-.5 .5-.2 .8 .3 .6 .7 .4zM372.2 653.5l1.1-.4 .7-.8 .1-.9-.5-.5-.8-.3-1.3 .2-.7 .3-.7 .8-.1 .6 .3 .6 .7 .3zM380.3 648.2l1.2-.4 .7-.8 0-.8-.4-.5-.9-.3-1.2 .1-.7 .3-.8 .8-.1 .6 .3 .6 .7 .4zM388.4 643l1-.3 .8-.7 .2-.7-.5-.9-.8-.3-1.2 .1-.7 .3-.8 .8-.1 .7 .3 .6 .7 .3zM396.6 637.7l1-.3 .8-.7 .1-.8-.5-.7-.8-.3-1.1 .1-.8 .3-.7 .7-.2 .7 .3 .6 .7 .4zM404.7 632.5l1.1-.4 .7-.7 .2-.8-.6-.7-.8-.2-1 0-1.1 .5-.5 .5-.2 .8 .3 .6 .7 .3zM333 674.3l.9-.7 .2-.8-.1-.8-1-1.7-1.8-1.7-2.3-1.4-2.5-.8-1.8 0-.7 .3-.5 .5-.2 1.2 .5 1.4 1.1 1.3 1.3 1.2 1.6 1 2.3 .9 1.6 .3zM341.2 669l.9-.7 0-1.5-1-1.8-1.8-1.7-2.3-1.3-2.3-.8-1.8 0-.8 .3-.6 .4-.2 1.2 .4 1.2 1 1.3 1.5 1.4 2 1.2 1.9 .8 1.8 .2zM349.3 663.8l.9-.9 0-1.3-1-1.8-1.8-1.7-2.3-1.4-2.2-.7-1.8-.1-.8 .3-.6 .4-.3 1.2 .4 1.2 1 1.3 1.6 1.5 1.9 1.2 2 .7 1.8 .3zM357.5 658.5l.9-.9 0-1.3-1-1.8-1.8-1.7-2.3-1.3-2.1-.7-1.9-.1-.8 .2-.6 .4-.3 1.1 .3 1.3 1 1.4 1.6 1.4 1.9 1.2 1.8 .7 1.7 .3zM365.6 653.3l.6-.4 .3-.6 0-1.4-1-1.6-1.8-1.7-1.9-1.2-2.4-.9-1.9-.1-.8 .2-.6 .4-.4 1.1 .4 1.4 1 1.4 1.5 1.4 2 1.2 1.9 .7 1.5 .3zM373.7 648l.6-.4 .4-.6-.1-1.4-1.2-1.8-1.6-1.5-2.3-1.3-2.5-.8-1.7 0-.8 .3-.5 .5-.1 1.2 .5 1.3 1 1.4 1.4 1.1 1.9 1.2 2 .8 1.5 .2zM381.9 642.8l.8-.8 .1-1.4-1-1.8-1.8-1.7-2.3-1.4-2.4-.7-1.8-.1-.8 .3-.5 .5-.2 1.2 .4 1.2 .9 1.3 1.6 1.4 1.9 1.2 2 .7 1.7 .3zM390 637.5l.9-.8 0-1.4-1-1.8-1.8-1.7-2.3-1.3-2.3-.8-1.8 0-.8 .2-.5 .5-.3 1.1 .4 1.2 1 1.4 1.5 1.4 2 1.2 1.9 .8 1.8 .2zM398.1 632.3l.9-.9 0-1.3-1-1.8-1.8-1.7-2.3-1.4-2.1-.7-1.9-.1-.8 .3-.6 .4-.3 1.1 .4 1.3 1 1.4 1.6 1.4 1.9 1.2 1.7 .6 1.7 .4zM403.7 627.1l-7.3-5.7 .9 1.7 1.7 1.7 2.2 1.4zM327.1 663.5l.6-.5 .2-.8-.3-.6-.7-.4-1.1-.1-.8 .2-1.2 1.1 0 .8 .9 .7 1.3 0zM351.4 647.8l.8-.7 .1-.7-.3-.6-.7-.4-1.7 .1-1 .6-.4 .6 0 .7 .9 .7 1.1 .1zM359.6 642.5l.7-.7 .2-.6-.4-.6-.6-.4-1.7 0-1 .6-.4 .6 0 .8 .8 .7 1.2 .1zM367.8 637.3l.5-.5 .3-.9-.3-.6-.7-.4-1.2 0-.8 .2-1.1 1 0 .8 .8 .7 1.3 .1zM376 632l.5-.5 .2-.8-.3-.6-.7-.4-1-.1-.9 .2-1.2 1.1 0 .8 .9 .7 1.4 0zM319 668.3l.3 .2 .4-.6 .1-.5-.3-.6-1.2-.5-1.5 .3zM333.9 658.7l1.1-.3 .8-.7 .3-.8-.6-.8-.9-.3-1 .1-1.1 .5-.5 .6-.1 .6 .3 .6 .6 .4zM342 653.5l1.2-.4 .8-.7 .2-.8-.6-.8-.9-.2-.9 .1-.8 .3-.8 .7-.2 .6 .3 .7 .6 .4zM382.7 627.2l1.2-.3 .8-.8 .1-.7-.6-.8-.8-.3-1 .1-1.1 .5-.4 .5-.2 .7 .3 .6 .6 .4zM390.8 622l1.3-.4 .7-.8 .2-.8-.6-.6-.9-.3-.9 .1-.8 .2-.8 .7-.2 .7 .3 .7 .6 .4zM319.1 663.8l1.1-.8 .2-.4-.3-.7-.8-.3-.6 .1-1 .3-.5 .5-.2 .6 .4 .6 .9 .2zM327.2 658.6l1.2-.9 .1-.4-.2-.6-.8-.3-.7 0-1.4 .8-.3 .7 .4 .6 .9 .2zM335.3 653.3l1.2-.9 .2-.3-.3-.7-1.5-.3-1.4 .8-.2 .7 .3 .6 .9 .3zM343.5 648.1l.8-.4 .4-.6 .1-.4-.3-.5-.8-.3-.6 0-1.1 .5-.5 .5-.1 .5 .4 .6 .8 .2zM351.6 642.8l1.1-.7 .2-.5-.2-.7-.8-.3-.7 .1-1 .4-.5 .5-.2 .5 .4 .6 .9 .3zM359.7 637.6l1.2-.8 .1-.5-.2-.6-.8-.3-.7 0-.9 .4-.6 .5-.1 .6 .3 .6 .9 .2zM367.9 632.3l1.1-.8 .2-.4-.3-.7-.8-.3-.6 .1-.9 .3-.6 .5-.2 .6 .4 .6 .8 .3zM376 627.1l1.2-.9 .1-.4-.2-.6-1.5-.3-1.4 .8-.3 .7 .4 .6 .9 .2zM384.1 621.8l.8-.4 .5-.5 0-.7-.5-.5-1.6 .1-1.1 .9-.1 .4 .3 .6 .9 .3zM312.7 663.5l.2 .1 .4-.5 .1-.5-.3-.6-.9-.2-1.4 .2zM319.6 659l.8-.2 .9-.7 .3-.7-.4-.6-.8-.3-1 .1-.7 .3-.8 .8-.1 .5 .3 .6zM327.7 653.8l.9-.3 .9-.7 .2-.7-.4-.6-.8-.2-.9 0-1 .6-.5 .5-.2 .5 .4 .6zM335.9 648.5l.9-.3 .8-.7 .2-.6-.3-.6-.9-.3-.8 .1-.7 .3-.9 .7-.1 .6 .3 .6zM344 643.3l1-.4 .8-.7 .1-.6-.3-.6-1.6-.2-.7 .3-.9 .7-.2 .6 .3 .6zM352.1 638l1.1-.4 .6-.4 .3-.8-.4-.6-1.5-.2-1.1 .4-.5 .5-.3 .7 .4 .6zM360.2 632.8l.9-.3 .9-.6 .2-.8-.3-.6-.9-.2-.7 0-1.5 .9-.3 .7 .3 .6zM368.4 627.5l.9-.3 .8-.7 .2-.6-.3-.6-.8-.3-.9 .1-1.1 .5-.5 .6-.1 .5 .3 .6zM376.5 622.3l1-.3 .8-.8 .2-.6-.4-.6-.8-.2-.8 0-1.1 .5-.5 .6-.2 .5 .3 .6zM384.6 617l1.1-.3 .8-.8 .1-.5-.3-.6-.9-.3-.7 .1-.8 .3-.8 .7-.2 .6 .3 .6zM312.9 659.3l1.4-.8-.1-.5-.7-.2-1.3 .8 .2 .6zM321 654.1l1.2-.7 .2-.3-.1-.3-.6-.2-1.4 .7 0 .4zM329.1 648.8l1.3-.7 .1-.5-1-.2-1 .6-.1 .5zM337.3 643.6l1.3-.7 0-.6-1-.2-.9 .6-.1 .5zM345.4 638.3l1.4-.7-.1-.6-.8-.1-1 .5-.2 .6zM353.5 633.1l1.4-.9 0-.4-.8-.2-1 .6-.3 .5zM361.7 627.8l1.2-.6 .2-.3-.1-.3-.7-.3-1.3 .8 0 .5zM369.8 622.6l1.2-.7 .2-.3-.1-.3-.3-.2-.7 .1-.9 .6-.1 .4zM377.9 617.3l1.3-.7 .1-.5-1-.2-1 .6-.1 .5zM309.7 656.9l1.2-.6 .2-.3-.1-.3-.5-.2-1.3 .8 .1 .4zM317.9 651.6l1.2-.6 .2-.3-.2-.3-.8 0-1 .6 .1 .5zM326 646.4l1.3-.7-.1-.5-.7-.1-1 .6 .1 .5zM334.1 641.1l1.3-.7 0-.5-.7-.1-1 .6-.1 .4zM342.3 635.9l1.3-.8-.1-.4-.6-.1-1 .5-.2 .3zM350.4 630.6l1.4-.8-.2-.4-.5-.1-1.3 .8 .2 .4zM358.5 625.4l1.2-.6 .2-.3-.1-.3-.9 0-.9 .6 .1 .5zM366.7 620.1l1.2-.6 .2-.3-.2-.3-.8 0-.9 .6 0 .5zM374.8 614.9l1.3-.7-.1-.5-.7-.1-.9 .6 0 .6zM306.9 654.2l.7-.4 0-.4-1.2 .8zM315 649l.8-.5-.1-.3-1.2 .6zM323 643.8l1-.6-.2-.3-1.1 .6zM331.2 638.5l1-.6-.2-.3-1.1 .6zM339.4 633.3l.8-.5-.1-.4-1.1 .6 0 .1zM347.6 628l.7-.5 0-.3-1.1 .5-.1 .2zM355.7 622.7l.8-.4-.2-.4-1.1 .7zM363.7 617.6l.9-.6-.1-.3-1.2 .6zM371.9 612.3l.9-.6-.2-.3-1.1 .6z"/>
<path fill="#0080ff" fill-rule="evenodd" d="M338.5 683.3l.2-.5-.1-.3-1.3-.1zM345.9 678.5l.8-.5 .2-.5-.2-.3-1-.2-1.1 .7 .2 .7zM354.1 673.2l.7-.4 .2-.5-.2-.3-1-.2-1 .7-.1 .4 .2 .3zM362.2 668l.7-.5 .2-.5-.1-.3-1.1-.1-1 .6-.1 .5 .3 .2zM370.3 662.8l.7-.4 .3-.6-.6-.5-1 .1-.7 .6 0 .4 .2 .3zM378.5 657.5l.8-.7 0-.5-.4-.3-1 .1-.7 .6 .1 .7zM386.6 652.3l.8-.5 .1-.5-.1-.3-1-.2-1.1 .7 .1 .7zM394.7 647l.8-.5 .2-.5-.2-.3-1-.2-1.1 .7 0 .5 .2 .2zM402.9 641.8l.7-.5 .2-.5-.2-.3-1.1-.2-.9 .6-.1 .5 .2 .3zM411 636.5l.6-.3 .3-.7-.5-.5-1.1 .2-.6 .5-.1 .5 .3 .2zM338.5 678.9l1-.6 .2-.7-.2-.2-1.1-.1-.9 .6-.1 .5 .1 .3zM346.6 673.6l1.1-.6 .2-.6-.3-.3-1-.1-1 .6-.1 .5 .2 .3zM354.7 668.4l1.2-.7 .1-.5-.2-.3-1.2-.1-.9 .6 .1 .8zM362.9 663.1l.6-.2 .6-.5 0-.5-.2-.3-1-.1-1 .6-.1 .5 .1 .3zM371 657.9l.7-.3 .5-.5 .1-.4-.3-.3-.9-.2-1 .6-.2 .6 .2 .3zM379.1 652.6l1.1-.5 .2-.7-.2-.3-1.1-.1-1 .6-.1 .5 .2 .3zM387.3 647.4l1.1-.6 .1-.6-.2-.3-1.1-.1-.9 .6-.1 .5 .1 .3zM395.4 642.1l1.1-.6 .1-.6-.2-.3-1.1-.1-.9 .6 .1 .8zM403.5 636.9l1.2-.7 .1-.5-.2-.3-1.1-.1-1 .6-.1 .5 .2 .3zM340.3 674l.6-.4 .4-.6 0-.4-.5-.5-1.5-.2-1.3 .8-.1 .9 .5 .5 .9 .2zM348.5 668.8l.6-.5 .3-.5-.2-.7-.3-.3-.8-.2-1 .2-.7 .3-.4 .6 0 .6 .5 .5 1 .2zM356.6 663.5l.7-.5 .2-.5 0-.4-.4-.5-.8-.2-.9 .1-.8 .3-.4 .6-.1 .7 .5 .5 1 .2zM364.7 658.3l.8-.6 .2-.4-.1-.4-.4-.6-.9-.2-.8 .1-1.2 .9 0 .7 .5 .5 .9 .2zM372.9 653l.9-.9 0-.5-.5-.5-.9-.2-.7 0-1.2 .9-.1 .8 .5 .5 .9 .2zM381 647.8l.6-.4 .3-.6 0-.5-.4-.5-1.6-.1-1.3 .8-.1 .8 .5 .5 1 .2zM389.1 642.5l.7-.4 .3-.6-.2-.6-.4-.4-.8-.1-1 .1-.6 .4-.4 .6 0 .6 .5 .5 .9 .2zM397.3 637.3l.6-.5 .3-.5 0-.4-.5-.6-.8-.2-.8 .1-.9 .4-.4 .6 0 .6 .5 .5 1 .2zM405.4 632l.7-.5 .2-.5 0-.4-.4-.5-.9-.2-.8 .1-.8 .3-.4 .6-.1 .7 .5 .5 1 .2zM332.5 678.7l.2 .2 .4-.6 0-.4-.4-.6-.9-.2-1.1 .2zM332.1 674.1l1.2-.6 .3-1-.5-1.5-1.6-1.8-1.8-1.3-2.3-.9-1.8-.3-1 .2-.6 .4-.4 .9 .3 1 .7 1.2 1.2 1.3 1.5 1 1.7 .9 1.4 .4zM340.2 668.8l1.3-.6 .3-1.1-.8-1.7-1.4-1.5-2.1-1.4-2.3-.9-1.9-.1-1.1 .5-.4 .9 .2 1.1 .7 1.2 1.2 1.2 1.5 1.1 1.8 .8 1.5 .5zM348.3 663.6l1.3-.7 .3-1.1-.7-1.6-1.7-1.8-2.2-1.3-2.1-.8-1.7-.1-.8 .3-.6 .4-.2 1.2 .4 1 .7 1.1 1.3 1.2 3 1.7 1.7 .5zM356.5 658.3l.8-.2 .5-.5 .2-1.2-.7-1.5-1.7-1.7-2.2-1.4-2.1-.7-2-.1-1 .6-.3 1.2 .4 1 .8 1.1 1.2 1.2 3.1 1.8 1.7 .4zM364.6 653.1l1.2-.5 .3-.6 0-.7-.7-1.6-1.4-1.5-2.1-1.5-2.4-.9-2 0-1 .5-.3 .9 .2 1 .7 1.2 1.2 1.3 1.5 1 1.8 .9 1.8 .5zM372.7 647.8l1.2-.5 .4-1.1-.5-1.5-1.6-1.8-2.2-1.4-2.4-.9-1.9-.1-1.1 .5-.3 .9 .2 1.1 .7 1.2 1.2 1.2 1.5 1.1 1.8 .9 1.3 .4zM380.9 642.6l1.2-.6 .3-1.1-.7-1.7-1.4-1.5-2.2-1.5-2.3-.8-1.9-.2-1.1 .5-.4 1 .2 1.1 .8 1.1 1.2 1.3 1.5 1 1.7 .9 1.5 .4zM389 637.3l1.3-.6 .2-1.1-.7-1.6-1.6-1.8-2.3-1.4-2-.7-1.8-.1-.8 .2-.5 .5-.2 1.1 .3 1 .8 1.1 1.3 1.2 3 1.8 1.6 .4zM397.1 632.1l.8-.2 .6-.5 .2-1.2-.7-1.5-1.7-1.7-2.3-1.4-2-.7-1.7-.2-.8 .3-.6 .4-.2 1.2 .4 1 .7 1.1 1.3 1.2 3 1.7 1.8 .5zM403.1 626.6l-6.2-4.8 .8 1.4 1.5 1.4 1.9 1.3zM319 668.3l.4-.7-.2-.6-1.2-.4-1 .2zM326.3 663.6l.9-.5 .4-.7-.1-.4-.5-.5-1.4-.1-1.3 .8-.2 .8 .5 .5 .9 .2zM334.4 658.4l1.2-.9 .1-.4-.2-.6-.7-.4-1 0-1.3 .7-.2 .9 .4 .5 .9 .3zM342.6 653.1l.7-.4 .5-.5-.2-1-.7-.3-.9-.1-1.4 .7-.2 1 .5 .5 .9 .2zM350.7 647.9l1.1-.7 .2-.6-.3-.6-.7-.4-.7 0-1.5 .6-.3 .7 .2 .6 .7 .4zM358.8 642.6l1.1-.7 .2-.5-.2-.7-.7-.3-.7-.1-1.5 .7-.4 .6 .2 .7 .7 .4zM367 637.4l.9-.6 .3-.6 0-.4-.5-.5-1.5-.2-1.2 .8-.2 .8 .5 .5 .9 .3zM375.1 632.1l1.2-.8 .1-.4-.3-.7-.7-.3-.9 0-1.4 .7-.2 .9 .5 .5 .9 .2zM383.2 626.9l.8-.4 .4-.6-.1-.9-.7-.4-.9 0-1.4 .7-.2 .9 .4 .6 .9 .2zM391.4 621.6l1-.7 .2-.5-.2-.7-.7-.3-.8-.1-1.4 .7-.3 .7 .2 .6 .6 .4zM318.9 663.5l1-.8-.1-.5-.4-.2-1 0-.9 .8 .3 .6zM327 658.3l.6-.3 .4-.6-.1-.5-.4-.2-.9 .1-.9 .7 .2 .7zM335.1 653l.7-.3 .4-.6-.6-.6-1.2 .1-.6 .7 .2 .6zM343.3 647.8l.9-.6 .1-.5-.5-.5-1.2 .2-.7 .6 .3 .7zM351.4 642.5l1-.7 0-.4-.5-.4-1.1 .1-.7 .7 .2 .6zM359.6 637.3l.9-.8-.1-.5-.4-.3-1 .1-.8 .7 .2 .7zM367.7 632l.5-.2 .5-.6-.2-.5-.3-.2-1 0-.9 .8 .3 .6zM375.8 626.8l.6-.3 .4-.6-.2-.5-.3-.2-1.3 .2-.5 .6 .2 .7zM383.9 621.5l1-.6 .1-.4-.6-.5-1.2 .1-.6 .7 .2 .6zM312.4 663.2l.2-.2-.1-.6-1.3-.1zM319.7 658.5l1-.6-.1-.8-1.1-.1-.8 .6-.2 .5 .2 .3zM327.8 653.3l1-.6 .1-.5-.2-.3-1-.1-.9 .5-.1 .5 .1 .3zM336 648l1-.6 .1-.5-.2-.3-1.1-.1-.9 .6-.1 .5 .2 .3zM344.1 642.8l1.1-.7 0-.4-.2-.3-1.1-.1-.8 .5-.2 .5 .2 .3zM352.3 637.5l1-.6-.2-.8-1.1 0-.8 .5-.1 .5 .1 .3zM360.4 632.3l1-.7-.1-.7-1.1-.1-.9 .5-.1 .5 .2 .3zM368.5 627l1-.6 .1-.5-.2-.2-1.1-.2-.8 .6-.2 .5 .2 .3zM376.6 621.8l1-.6 .1-.5-.2-.3-1.1-.1-.8 .5-.1 .5 .1 .3zM384.8 616.5l1-.6 .1-.5-.2-.2-1.1-.1-.9 .5-.1 .5 .2 .3z"/>
<path fill="#00e6ff" fill-rule="evenodd" d="M338.5 678.4l.7-.4-.2-.3-.9 .2-.1 .4zM346.6 673.2l.5-.2 .2-.2-.2-.4-.6 0-.3 .3 0 .4zM354.7 667.9l.6-.2 0-.5-1 .2 0 .4zM362.9 662.7l.6-.3-.1-.5-.6 0-.3 .3-.1 .4zM371 657.5l.6-.4-.1-.4-.9 .2 0 .4zM379.1 652.2l.7-.4-.1-.4-.9 .2-.1 .5zM387.3 647l.7-.5-.2-.3-.6 0-.4 .3 0 .3zM395.4 641.7l.5-.2 0-.6-.6 0-.3 .3 0 .4zM403.5 636.4l.6-.2 0-.5-1 .2 0 .4zM332.5 678.7l.3-.6-.4-.6-1.5 0zM339.8 673.9l.9-.6 .1-.8-.6-.4-.6 0-1.1 .5-.3 .7 .2 .4 .7 .3zM348 668.7l.9-.6 0-.9-1.1-.4-1.1 .5-.4 .6 .2 .5 .7 .3zM356.1 663.4l.9-.6 .2-.5-.4-.5-1.3-.1-.9 .6-.1 .6 .1 .3 .8 .3zM364.2 658.2l1-.7 .1-.4-.4-.6-1.1-.1-1 .6-.2 .6 .2 .3 .7 .3zM372.4 652.9l.9-.6 0-.8-.7-.4-.6 0-1.1 .6-.2 .7 .2 .3 .7 .3zM380.5 647.7l.9-.6 0-.9-.6-.3-.6 0-1.1 .5-.3 .6 .2 .4 .8 .3zM388.6 642.4l.9-.5 .1-.9-1.2-.4-1.1 .5-.3 .6 .2 .5 .7 .3zM396.8 637.2l.9-.6 0-.9-1-.3-1.2 .4-.4 .6 .2 .5 .7 .3zM404.9 631.9l1-.6 .1-.5-.4-.5-1.2-.1-1 .5-.1 .7 .1 .3 .8 .3zM332.1 673.6l.8-.4 .2-1.1-.7-1.5-1.4-1.5-1.9-1.2-2-.7-1.6-.1-1.1 .5-.3 .6 .2 1.1 .7 1.2 1.3 1.2 3 1.7 1.4 .3zM340.2 668.4l.8-.5 .2-1.2-.6-1.4-1.5-1.5-1.9-1.2-2-.7-1.5-.1-1.1 .5-.4 .7 .2 1.1 .8 1.1 1.2 1.3 3.1 1.6 1.4 .4zM348.4 663.1l.8-.5 .2-1.2-.9-1.6-1.5-1.4-2-1.2-1.8-.6-1.7 0-1 .7-.1 .7 .3 1.2 .8 1.1 1.3 1.1 2.8 1.5 1.6 .3zM356.5 657.9l.9-.6 .1-1.3-.9-1.4-1.5-1.5-1.6-1-2-.7-1.8 0-1 .5-.2 .8 .3 1.1 .6 1 1.3 1.2 3 1.6 1.7 .4zM364.6 652.7l.9-.7 .1-1.2-.6-1.2-1.5-1.5-1.9-1.2-1.8-.7-1.9-.1-1 .5-.3 .7 .3 1.1 .7 1.1 1.2 1.2 3.1 1.7 1.4 .3zM372.8 647.4l.9-.7 0-1.2-.6-1.2-1.4-1.5-1.9-1.2-1.7-.6-2-.2-1 .5-.3 .7 .2 1.1 .7 1.2 1.2 1.2 3.1 1.6 1.4 .4zM380.9 642.1l.8-.4 .2-1.2-.7-1.4-1.4-1.5-1.9-1.2-2-.7-1.5-.1-1.2 .4-.3 .8 .2 1 .7 1.2 1.3 1.2 3 1.7 1.4 .3zM389 636.9l.9-.5 .1-1.4-.8-1.4-1.6-1.5-1.9-1.1-1.9-.6-1.7 0-.9 .6-.2 .8 .4 1.2 .8 1 1.3 1.2 2.8 1.5 1.5 .3zM397.1 631.7l.9-.6 .1-1.3-.8-1.5-1.5-1.4-1.6-1-2.1-.7-1.8-.1-.9 .6-.2 .8 .3 1.2 .8 1.1 1.3 1.1 2.9 1.5 1.5 .4zM402.5 626.2l-5-4 .7 1.1 1.3 1.2zM318.7 668.1l.3-.2-.1-.8-.7-.3-1 .1zM325.9 663.4l.8-.3 .4-.4 .1-.5-.5-.5-1.3 0-.8 .6-.1 .4 .4 .6zM334.1 658.2l.8-.4 .4-.4 0-.4-.4-.6-1.3 0-.9 .6 0 .8 .7 .4zM342.2 652.9l.6-.2 .6-.5 .1-.5-.5-.5-1.2-.1-.9 .7 0 .8 .7 .3zM350.3 647.7l.7-.3 .5-.5 .1-.4-.5-.6-1-.1-1.1 .7 0 .8 .7 .4zM358.5 642.4l.7-.2 .5-.5 0-.5-.4-.5-1.4 0-.8 .7 0 .5 .3 .4zM366.6 637.2l.8-.3 .4-.6 0-.4-.4-.5-1.3 0-.9 .7-.1 .4 .5 .5zM374.7 631.9l.9-.3 .3-.4 .1-.5-.5-.5-1.2 0-.9 .6 0 .8 .7 .3zM382.9 626.7l.8-.4 .4-.4 0-.4-.4-.6-1.2 0-1 .6 0 .8 .7 .4zM391 621.4l.6-.2 .6-.5 .1-.5-.5-.5-1.1-.1-1 .7 0 .8 .7 .3zM319 663.1l.2-.6-.4-.2-.7 .4 .2 .4zM327.1 657.8l.3-.4-.4-.3-.8 .4 .2 .3zM335.3 652.5l.2-.5-.2-.1-.5 0-.4 .4 .1 .3zM343.3 647.4l.3-.3 0-.4-.6-.1-.5 .5 .2 .3zM351.4 642.1l.4-.3-.1-.3-.4-.2-.7 .5 .2 .3zM359.6 636.8l.3-.6-.5-.1-.6 .4 .1 .4zM367.8 631.6l.2-.6-.4-.2-.7 .5 .2 .3zM375.9 626.3l.3-.5-.3-.2-.5 .1-.4 .4 .2 .3zM383.9 621.1l.4-.2 0-.4-.4-.1-.6 .2 0 .5z"/>
<path fill="#4dffb3" fill-rule="evenodd" d="M332.2 678.4l.1-.3-.3-.4-.8 0zM339.6 673.7l.8-.5 0-.5-.2-.2-.8-.1-.7 .4 0 .6zM347.7 668.4l.9-.5 0-.5-.3-.2-1.1 .1-.5 .5 .4 .6zM355.8 663.2l.9-.6-.3-.6-1 0-.5 .5 .1 .4zM364 657.9l.8-.5 0-.4-.2-.3-1 0-.5 .5 0 .5zM372.1 652.7l.9-.6 0-.4-.3-.2-.9-.1-.6 .5 0 .5zM380.2 647.4l.9-.4 0-.5-.3-.3-.8 0-.6 .4 0 .6zM388.4 642.2l.8-.6 0-.4-.2-.2-1.1 0-.5 .6 .4 .5zM396.5 636.9l.9-.5-.3-.7-1 .1-.6 .5 .1 .4zM404.6 631.7l.9-.6-.3-.6-.9 0-.6 .4 .1 .5zM331.2 673.4l1-.3 .5-1-.4-1.1-1.3-1.6-1.5-1-1.9-.8-1.7-.2-1.1 .5-.2 .7 .2 .8 1.4 1.9 2.6 1.6zM339.4 668.1l1-.3 .4-1-.4-1.2-1.2-1.4-1.9-1.2-1.8-.7-1.3-.2-1.2 .5-.3 .7 .2 .9 1.5 1.9 2.6 1.5zM347.5 662.9l1-.4 .4-1-.5-1.3-1.1-1.2-1.9-1.3-1.6-.6-1.4-.2-1.2 .4-.3 .6 .1 1 1.5 1.9 2.6 1.6zM355.6 657.6l1.1-.4 .3-1.1-.6-1.4-1.3-1.2-1.9-1.2-1.6-.6-1.5 0-1 .6-.1 .7 .3 1 1.6 1.8 2.3 1.4zM363.8 652.4l1.1-.5 .3-1.1-.7-1.3-1.2-1.3-1.7-1-1.9-.7-1.4-.1-1 .6-.2 .7 .2 .7 1.5 1.9 2.6 1.6zM371.9 647.1l.9-.3 .5-.9-.3-1.1-1.3-1.6-1.6-1.1-1.8-.8-1.7-.1-1.1 .5-.3 .7 .2 .8 1.5 1.9 2.6 1.6zM380 641.9l1-.3 .5-1-.5-1.2-1.2-1.4-1.8-1.3-1.9-.7-1.3-.1-1.1 .5-.3 .6 .2 .9 1.4 1.9 2.6 1.6zM388.2 636.6l1-.3 .4-1.1-.5-1.2-1.1-1.3-1.9-1.2-1.7-.7-1.4-.2-1.2 .5-.3 .6 .2 1 1.5 1.9 2.6 1.6zM396.3 631.4l1.1-.4 .3-1.1-.5-1.2-1.1-1.2-1.5-1.1-1.9-.8-1.4-.2-1.3 .4-.3 .6 .1 1 1.5 1.9 2.6 1.6zM402 625.7l-3.8-3 1.5 1.6zM318.4 667.8l.2-.1 0-.3-1.1-.3zM325.7 663.1l1-.5 0-.5-.8-.3-.9 .4 0 .6zM333.8 657.9l.8-.3 .3-.4-.1-.3-.8-.3-.8 .3-.1 .7zM342 652.6l.8-.3 .2-.7-.9-.3-.7 .4-.2 .6zM350.1 647.4l.9-.4 .1-.6-.7-.3-.8 .3-.2 .7zM358.3 642.1l.9-.4 0-.6-.8-.3-.9 .5 0 .5zM366.4 636.9l1-.5 0-.5-.9-.3-.8 .4-.1 .6zM374.5 631.6l.8-.2 .3-.4-.1-.4-.9-.3-.7 .4-.1 .6zM382.6 626.4l.9-.3 .1-.7-.8-.3-.8 .3-.1 .7zM390.8 621.1l.9-.3 .1-.7-.8-.3-.8 .3-.2 .7z"/>
<path fill="#b3ff4c" fill-rule="evenodd" d="M331.3 672.9l.7-.4 .1-.9-.6-1.3-1-.9-1.2-.9-1.6-.6-1.3-.2-1.1 .5-.2 .6 .1 .7 1.6 1.9 2.3 1.3 1.2 .3zM339.4 667.7l.8-.5 .1-.8-.5-1-1.2-1.3-1.2-.8-1.5-.6-1.3-.2-1.1 .4-.3 .7 .2 .7 1.5 1.8 2.4 1.3 1.3 .3zM347.6 662.4l.7-.5 .1-.9-.6-1.2-1-.9-1.3-.9-1.5-.6-1.6-.1-.8 .3-.2 .7 .1 .7 1.5 1.9 2.4 1.3 1.4 .3zM355.7 657.2l.8-.6 0-.9-.6-1.1-1.3-1.2-1.7-1-1.2-.3-1.3 0-.8 .5-.1 .8 .3 .7 1.6 1.7 2.1 1.1zM363.8 651.9l.8-.7 0-.9-.6-.9-1.2-1.3-1.6-.9-1.4-.4-1.4 .1-.6 .4-.2 .8 .2 .6 1.5 1.7 2.4 1.3zM371.9 646.7l.7-.4 .2-1-.6-1.2-1-1-1.3-.8-1.5-.6-1.4-.2-1.1 .5-.1 .6 .1 .7 1.5 1.8 2.4 1.3 1.1 .3zM380.1 641.4l.7-.4 .1-.8-.4-1.1-1.2-1.2-1.3-.9-1.5-.6-1.2-.2-1.2 .5-.2 .7 .1 .6 1.6 1.9 2.3 1.3 1.3 .3zM388.2 636.2l.8-.6 .1-.8-.7-1.2-1-1-1.2-.8-1.5-.6-1.7-.2-.7 .4-.3 .7 .2 .7 1.5 1.8 2.3 1.3 1.4 .3zM396.4 630.9l.7-.6 .1-.8-.6-1.1-1-1-1.6-1-1.5-.6-1.3 0-.7 .3-.4 .6 .2 .8 1.5 1.9 2.4 1.3 1.4 .3z"/>
<path fill="#ffe500" fill-rule="evenodd" d="M330.5 672.6l.8-.2 .3-.9-.4-1-.9-1-1.3-.8-1.4-.5-1.2 0-.7 .4-.1 .6 .3 .7 1.1 1.3 1.8 1zM338.6 667.3l.9-.2 .3-.7-.5-1.1-.9-1-1.3-.9-1.2-.4-1.3-.1-.7 .4 0 1 1 1.4 1.9 1.2zM346.8 662.1l.9-.3 .2-.7-.2-.8-.9-1.1-1.2-.8-1.4-.6-1.4-.2-.7 .4-.2 .3 .1 .8 1 1.4 1.9 1.2zM354.9 656.8l.9-.3 .2-.7-.2-.7-.9-1.1-2.4-1.4-1.4-.2-.8 .3-.3 .6 .1 .5 1 1.4 1.9 1.2zM363.1 651.6l.9-.4 .2-.7-.3-.7-.8-1.1-2.3-1.3-1.5-.3-.8 .3-.4 .6 .1 .5 1.1 1.5 1.9 1.2zM371.2 646.3l1-.4 .1-.7-.4-.9-1-1-1.2-.8-1.5-.6-1.2 0-.6 .4-.1 .7 .2 .7 1.2 1.3 1.7 1zM379.3 641.1l.8-.3 .3-.6-.4-1.2-1-1-1.2-.8-1.3-.5-1.3 0-.6 .3-.2 .8 .3 .6 1.1 1.3 1.9 1.1zM387.4 635.8l.9-.2 .3-.7-.3-.8-.9-1.1-1.1-.9-1.5-.6-1.3-.1-.8 .3-.1 .4 .1 .8 1 1.3 1.9 1.2zM395.6 630.6l.9-.3 .2-.8-.3-.7-.8-1-1.2-.9-1.3-.6-1.4-.2-.8 .3-.2 .4 .1 .8 1 1.4 1.9 1.2z"/>
<path fill="#ff8000" fill-rule="evenodd" d="M330.8 672l.3-.6-.2-.7-1.2-1.3-2.3-.9-.5 0-.7 .4 .2 1.1 1.2 1.2 1.8 .9zM339 666.7l.2-.6-.2-.6-1.2-1.3-2.1-.9-.6 0-.7 .3-.1 .5 .2 .6 1.2 1.3 1.8 .8zM363.2 651l.4-.6-.1-.5-1.5-1.6-2.2-.8-.5 0-.6 .5 .3 1.1 1.1 1.1 1.8 .9zM371.4 645.8l.4-.7-.2-.6-1.2-1.3-1-.6-1.3-.3-.6 0-.6 .4 .1 1 1.2 1.3 1.9 .8zM379.6 640.5l.3-.6-.2-.7-1.2-1.2-2.2-1-.6 0-.7 .4 .2 1.1 1.2 1.2 1.8 .9zM346.2 661.7l.7-.1 .4-.5-.1-.9-.7-.8-1.2-.8-1.1-.5-.9-.1-.7 .3-.1 .8 .8 1.2 1.3 .9zM354.3 656.4l.8-.1 .4-.5-.2-.8-.7-.8-1.1-.9-1.2-.5-.7-.1-.8 .3-.2 .8 .8 1.2 1.6 1.1zM386.8 635.4l.7 0 .5-.5-.2-.9-.6-.8-1.2-.9-1.2-.5-.8 0-.8 .3-.1 .8 .8 1.1 1.2 .9zM395 630.2l.7-.1 .5-.6-.3-.8-.6-.8-1.2-.8-1.2-.5-.7-.1-.8 .3-.2 .8 .9 1.2 1.5 1z"/>
<path fill="#ff1900" fill-rule="evenodd" d="M329.9 671.7l.6-.4 0-.5-1.1-1.2-1.5-.6-.9 0-.2 .3 .1 .7 .9 1 1.1 .6zM338.1 666.5l.4-.2 .1-.6-.8-1.1-1.7-.9-.9 0-.3 .3 .1 .8 .7 .8 1.3 .7zM346.2 661.2l.5-.2 .1-.4-.2-.5-.6-.8-1.8-.8-.8 0-.3 .2 .1 .8 .6 .8 1.1 .7zM354.4 655.9l.4-.2 .1-.4-.8-1.2-1.8-.9-1 .2 0 .9 .7 .8 1.3 .7zM362.5 650.7l.5-.3 0-.4-.8-1.2-1.7-.8-1.1 .1 0 .8 .7 .9 1.3 .8zM370.6 645.5l.6-.4 0-.4-.8-1.1-1.7-.9-1.1 .1-.2 .7 .8 1.1 1.4 .7zM378.7 640.2l.4-.1 .2-.6-.8-1.2-1.8-.8-.9 0-.2 .3 .1 .7 .7 .8 1.3 .8zM386.9 635l.4-.2 .2-.4-.2-.5-.7-.8-1.7-.9-.9 0-.3 .3 .1 .8 .7 .8 1.3 .7zM395 629.7l.5-.2 .1-.4-.8-1.3-1.8-.8-1.1 .2 0 .8 .7 .8 1.2 .7z"/>
<path fill="#b30000" fill-rule="evenodd" d="M329.4 671.2l.4 0 .1-.4-.5-.8-1-.6-.9 0-.2 .3 .6 .9zM337.5 666l.4-.1 .1-.4-.5-.7-1.2-.7-.6 0-.2 .3 .5 1zM345.7 660.7l.4-.3-.4-.9-1.1-.6-.7 0-.3 .2 .1 .5 .4 .5zM353.8 655.5l.5-.3-.5-.9-1-.6-1 .1 0 .4 .5 .7zM361.9 650.2l.5-.3-.5-.9-1-.5-.9 0-.1 .4 .5 .7zM370.1 645l.3-.1 .2-.3-.5-.8-1-.6-.9 0-.2 .3 .5 .9zM378.2 639.8l.4-.2 .1-.3-.5-.8-1-.5-.8-.1-.3 .3 .3 .7 .9 .6zM386.3 634.5l.5-.3-.5-.9-1.1-.6-.6-.1-.3 .3 .5 1zM394.5 629.2l.4-.3-.4-.9-1-.5-.7-.1-.3 .2 0 .4 .4 .6z"/></g>
<text x="286.7" y="644.9" font-size="9.85" text-anchor="end" fill="#111" font-weight="bold"  stroke="#111" stroke-width="0.28">0</text>
<text x="286.7" y="632.9" font-size="9.85" text-anchor="end" fill="#111" font-weight="bold"  stroke="#111" stroke-width="0.28">0.4</text>
<text transform="translate(266.1,637.4) rotate(-90)" y="3.5" font-size="9.85" text-anchor="middle" font-weight="bold" fill="#111" stroke="#111" stroke-width="0.28">z/µm</text>
<text transform="translate(289.4,655.7) rotate(35.6)" y="3.5" font-size="9.85" text-anchor="middle" font-weight="bold" fill="#111" stroke="#111" stroke-width="0.28">0.5</text>
<text transform="translate(319.5,677.8) rotate(35.6)" y="3.5" font-size="9.85" text-anchor="middle" font-weight="bold" fill="#111" stroke="#111" stroke-width="0.28">0</text>
<text transform="translate(320.0,692.6) rotate(37.6)" y="3.5" font-size="9.85" text-anchor="middle" font-weight="bold" fill="#111" stroke="#111" stroke-width="0.28">y/mm</text>
<text transform="translate(350.6,703.0) rotate(35.6)" y="3.5" font-size="9.85" text-anchor="middle" font-weight="bold" fill="#111" stroke="#111" stroke-width="0.28">−0.5</text>
<text transform="translate(367.1,701.3) rotate(-32.8)" y="3.5" font-size="9.85" text-anchor="middle" font-weight="bold" fill="#111" stroke="#111" stroke-width="0.28">3</text>
<text transform="translate(389.7,687.2) rotate(-32.8)" y="3.5" font-size="9.85" text-anchor="middle" font-weight="bold" fill="#111" stroke="#111" stroke-width="0.28">3.005</text>
<text transform="translate(411.6,673.6) rotate(-32.8)" y="3.5" font-size="9.85" text-anchor="middle" font-weight="bold" fill="#111" stroke="#111" stroke-width="0.28">3.01</text>
<text transform="translate(435.0,659.0) rotate(-32.8)" y="3.5" font-size="9.85" text-anchor="middle" font-weight="bold" fill="#111" stroke="#111" stroke-width="0.28">3.015</text>
<text transform="translate(421.7,685.6) rotate(-32.8)" y="3.5" font-size="9.85" text-anchor="middle" font-weight="bold" fill="#111" stroke="#111" stroke-width="0.28">x/mm</text>
<defs><linearGradient id="cbci" x1="0" y1="0" x2="0" y2="1"><stop offset="0.0000" stop-color="#800000"/><stop offset="0.0625" stop-color="#bf0000"/><stop offset="0.1250" stop-color="#ff0000"/><stop offset="0.1875" stop-color="#ff4000"/><stop offset="0.2500" stop-color="#ff8000"/><stop offset="0.3125" stop-color="#ffbf00"/><stop offset="0.3750" stop-color="#ffff00"/><stop offset="0.4375" stop-color="#bfff40"/><stop offset="0.5000" stop-color="#80ff80"/><stop offset="0.5625" stop-color="#40ffbf"/><stop offset="0.6250" stop-color="#00ffff"/><stop offset="0.6875" stop-color="#00bfff"/><stop offset="0.7500" stop-color="#0080ff"/><stop offset="0.8125" stop-color="#0040ff"/><stop offset="0.8750" stop-color="#0000ff"/><stop offset="0.9375" stop-color="#0000bf"/><stop offset="1.0000" stop-color="#000080"/></linearGradient></defs>
<rect x="447.8" y="622.1" width="4.9" height="69.2" fill="url(#cbci)"/>
<text x="454.7" y="694.3" font-size="9.85" text-anchor="start" fill="#111" font-weight="bold"  stroke="#111" stroke-width="0.28">0</text>
<text x="454.7" y="678.5" font-size="9.85" text-anchor="start" fill="#111" font-weight="bold"  stroke="#111" stroke-width="0.28">0.01</text>
<text x="454.7" y="662.5" font-size="9.85" text-anchor="start" fill="#111" font-weight="bold"  stroke="#111" stroke-width="0.28">0.02</text>
<text x="454.7" y="645.4" font-size="9.85" text-anchor="start" fill="#111" font-weight="bold"  stroke="#111" stroke-width="0.28">0.03</text>
<text x="454.7" y="629.4" font-size="9.85" text-anchor="start" fill="#111" font-weight="bold"  stroke="#111" stroke-width="0.28">0.04</text>
<text x="464.4" y="616.6999999999999" font-size="9.85" text-anchor="middle" fill="#111" font-weight="bold"  stroke="#111" stroke-width="0.28">z/µm</text>
<circle cx="275.5" cy="600.5" r="6.1" fill="#fff" stroke="#555" stroke-width="0.8"/>
<text x="275.5" y="604.0" font-size="9.85" text-anchor="middle" fill="#111" font-weight="bold"  stroke="#111" stroke-width="0.28">i</text>
<path d="M508.5 646.6L582.4 596.5" stroke="#cdcdcd" stroke-width="0.6" fill="none"/>
<path d="M582.4 596.5L652.0 649.3" stroke="#cdcdcd" stroke-width="0.6" fill="none"/>
<path d="M508.5 635.7L582.4 585.6" stroke="#cdcdcd" stroke-width="0.6" fill="none"/>
<path d="M582.4 585.6L652.0 638.4" stroke="#cdcdcd" stroke-width="0.6" fill="none"/>
<path d="M582.4 596.5L582.4 585.6" stroke="#cdcdcd" stroke-width="0.6" fill="none"/>
<path d="M652.0 649.3L652.0 638.4" stroke="#cdcdcd" stroke-width="0.6" fill="none"/>
<path d="M533.1 629.9L533.1 619.0" stroke="#dcdcdc" stroke-width="0.5" fill="none"/>
<path d="M605.6 614.1L605.6 603.2" stroke="#dcdcdc" stroke-width="0.5" fill="none"/>
<path d="M557.8 613.2L557.8 602.3" stroke="#dcdcdc" stroke-width="0.5" fill="none"/>
<path d="M628.8 631.7L628.8 620.8" stroke="#dcdcdc" stroke-width="0.5" fill="none"/>
<path d="M508.5 646.6L508.5 635.7" stroke="#4a4a4a" stroke-width="0.7" fill="none"/>
<path d="M508.5 646.6L578.1 699.4" stroke="#4a4a4a" stroke-width="0.7" fill="none"/>
<path d="M578.1 699.4L652.0 649.3" stroke="#4a4a4a" stroke-width="0.7" fill="none"/>
<g id="s_cii"><path fill="#00009c" d="M578.1 692.5l73.9-50.1-3.5-1-4.8-1.8-8.2-4.1-3.6-2.1-4.7-3.2-2.3-2.5-1.2-.3-1.2-2-1.2-.5-3.5-3.1-2.4-.4-1.1-1.8-2.4-1.3-1.2-1.4-2.3-1.5-1.2-1.3-2.4-1.5-8.2-7.7-7.1-7.3-7.1-8-73.9 50.1 7.1 8 7.1 7.3 8.2 7.7 2.4 1.5 1.2 1.3 2.3 1.5 1.2 1.4 2.4 1.3 1.1 1.8 2.4 .4 3.5 3.1 1.2 .5 1.2 2 1.2 .3 2.3 2.5 4.7 3.2 3.6 2.1 8.2 4.1 4.8 1.8 3.5 1z"/>
<path fill="#0000d4" fill-rule="evenodd" d="M578.1 692.5l73.9-50.1-5.5-1.7-5.9-2.5-6.1-3.2-5.5-3.6-6.1 4.8-.8 .4 .3-.4 2.4-1.7 .1-.3-.4 0-1.2 .9-7.8 6.1-.8 .3 2.7-2 .1-.3-.4 0-9.1 7-.7 .4 .3-.4 2.4-1.6 .1-.4-.4 .1-9.1 7-.7 .3 .2-.3 2.4-1.7 .4-.7 2.4-1.7 .3-.3-.5 .1-11.3 8.9-.9 .6-.4 .1 .2-.3 2.4-1.7 .4-.7 2.4-1.6 .3-.4-.5 .1-11 8.7-1.3 .8-.3 .1 .2-.3 2.4-1.6 .3-.8 2.5-1.6 .3-.4-.6 .1-10.9 8.7-1.3 .8-.3 .1 .2-.2 2.4-1.7 .3-.7 2.4-1.7 .4-.4-.6 .2-10.9 8.6-1 .7-.6 .2 .2-.2 2.6-1.9 .1-.2-.3-.1-8.4 6.6-1 .6-.6 .2 .2-.1 2.6-2 .1-.2-.3-.1-8.4 6.6-1 .6-.5 .1 2.7-1.9 .1-.3-.3 0-3 2.2 5.5 3.6 6.1 3.2 5.9 2.5zM558.1 679.1l1.8-1 1.3-1.2-.3 .1zM565.5 674.1l1.5-.8 1.6-1.4-.6 .2zM572.9 669.1l1.5-.9 1.6-1.3-.6 .2zM609.8 644l1.7-.9 1.5-1.2-.5 0zM617.2 639l1.8-1 1.4-1.1-.5 0zM624.6 634l1.8-1 1.4-1.1-.4 0zM554.5 681l.2 .2 1.4-1.1 .8-.9 2-1.4 .8-.8 4.8-3.8 14.7-12.9 6.5-6.6 2.3-2.9 1-1.9 .1-.7-.3-.4-1.7-.9-2.5-.5-3 0-7 1-11.3 3.1 .2-.3 9.9-3.2 4.5-1 4-.6 3.3-.2 2.6 .3 2.4 1 .5 .8-.4 1.4-1.1 1.8-5.2 5.9-8.9 8.3-13.8 11.8-.3 .2 .5-.2 2.1-1.4 .7-.9 1.2-.7 6.4-5.4 14.7-12.8 6.6-6.6 2.2-2.9 1-1.9 0-.7-.2-.4-1.7-.9-2.5-.5-3 0-6.5 .9-5.4 1.3-6.4 1.8 .2-.3 10-3.1 4.4-1 3.9-.6 3.4-.2 2.6 .3 2.4 1 .5 .8-.4 1.4-1 1.7-4.8 5.4-6.7 6.4-14 12.1 .2 .1 2.4-1.7 .7-.8 7.3-5.9 12.2-10.7 6.6-6.7 2.2-2.8 1-1.9-.2-1.1-1.4-.8-2.2-.5-3.1-.1-7 .9-5.4 1.3-6.4 1.8 .2-.3 10.4-3.2 4.8-1.1 3.9-.5 3.1-.1 2.6 .4 2.1 1.1 .3 .9-.5 1.4-1.6 2.3-5.6 6-10.1 9.2-11.8 10.1 1.6-.9 1.2-.9 .1-.4 1.5-1 3.7-3 17.4-15.2 6.6-6.6 2.2-2.8 1-1.9-.2-1.1-1.4-.8-2.2-.5-3.1-.1-6.7 .8-5.6 1.3-6.5 1.9 .2-.3 10.5-3.2 4.7-1.1 3.8-.5 3.2-.1 2.6 .4 2.1 1.1 .3 .9-.5 1.3-1.6 2.3-5.6 6.1-10 9.2-11.8 10.1 2.4-1.6 .4-.7 2.4-1.6 .8-.9 4.8-3.8 14.7-12.8 7-7.2 1.7-2.2 1-1.9-.2-1.2-1.4-.7-2.3-.5-2.9-.1-6.8 .8-5.6 1.3-6.5 1.9 .3-.4 10.5-3.2 4.6-1 3.8-.5 3.2-.1 2.5 .4 2.2 1 .3 .9-.5 1.4-1.6 2.3-5.6 6-10 9.3-12 10.1 2.6-1.6 .5-.7 2.3-1.7 14.7-12.4 7.1-6.5 5.9-6.3-.8-1.8-1.8-.8-2.9-2.9-1.7-.3-6.6 1.1-9.7 2.7 .4-.4 5.7-1.9 8.8-2.2-1.2-2-.3-.1-6 1.6 .4-.4 4.1-1.4-.9-1.4-.3-.3-.8 .1-1.2-1.7-.9 .1-.8-1.4-.9-.1-.9-1.2-.6-.1-.9-1.1-.5-.2-.6-.8-5.3-4.7-7.8-8-7.3-8.2-73.9 50.1 7.3 8.2 7.8 8 5.3 4.7 .6 .8 .5 .2 .9 1.1 .6 .1 .9 1.2 .9 .1 .8 1.4 .9-.1 1.2 1.7 .8-.1 1.2 1.7 8.3-2.3 6.5-1 4.8 .1 1.8 .5 1.3 .7 .2 1.1-.9 2-3.2 3.9-5.3 5.3 .5 0 .2 .5 7.6-7.1 4.2-4.4 2.5-3.5 .2-1-.2-.7-1.4-.7-2-.5-2.5-.2-2.8 .2-6.6 1.1-10.3 2.8 .1-.2 2.8-1.1 6.3-1.9 4.5-1.1 4.1-.7 2.9-.2 2.9 .1 1.8 .4 1.8 .9 .3 .7-.2 .9-2.1 3.2-5.3 5.7-8.2 7.6 .3-.1 .2 .5 9.5-8.3 7.2-7.1 3.5-4.4 .8-1.5 0-.8-1.2-.9-1.7-.5-2.6-.3-2.8 .1-6.8 1.1-10.7 2.9 .1-.2 2.8-1.1 6.3-1.9 8.6-1.8 2.8-.2 3 .1 1.8 .4 1.8 .9 .3 .7-.5 1.5-3.4 4.4-7.1 7.1-11 9.8-.3 .3 .3 .2 12.4-10.5 8.5-7.8 5.2-5.7 1.2-1.9 .4-1.4-.6-.8-1.9-.8-2.3-.4-2.9 0-6.9 1.1-11.2 3 .2-.3 9-2.9 8.6-1.8 2.8-.2 3 .1 1.8 .4 1.8 .9 .2 1.1-.9 1.8-1.7 2.4-2.9 3.1-9.1 8.7zM568.4 671.7l1.7-1 1.4-1.1-.4 0zM598 651.6l2.7-1.7 .4-.6 2.4-1.7 14.6-12.4 7.2-6.6-.4-.8-.3-.3-.4 .3-4.4 4.6-6 5.7-13 11.3zM605.4 646.6l2.7-1.7 .4-.7 2.4-1.6 .4-.6 9.8-8.1 5.2-4.5-.2-.5-.5 0-10.4 9.4zM612.8 641.6l2.7-1.7 .4-.7 2.4-1.6 .5-.7 4.8-3.8 3.6-3-.2-.5zM620.2 636.6l2.7-1.8 .4-.6 2.4-1.7 .5-.6 1.7-1.3-.1-.1-.2-.1zM551.3 678.6l3.8-3.7 2.8-3.2 1.6-2.8-.2-1.1-1-.6-1.7-.5-4.6-.2-5.8 .7-7.6 1.9 1.4-.1 1.2 2 4.4-.6 3.2-.1 2.5 .4 2.2 1 .3 .9-.5 1.4-3 3.9 .4-.3zM549.6 676.9l.2 .6 2.1-3 .3-1-.6-.9-1.6-.7-2.3-.4-5.6 .2 2.2 .3 2.9 2.9 1.8 .8z"/>
<path fill="#000eff" fill-rule="evenodd" d="M578.1 692.5l73.9-50.1-4.7-1.4-4.6-1.8-4.7-2.3-4.9-2.8-73.3 49.7-.6 .4 7.5 4.1 5.9 2.5zM554.2 676.7l1.4-.9-.4-.1zM561.6 671.7l1.4-1-.4 0zM568.9 666.7l1.5-1-.4 0zM576.3 661.7l1.5-1-.3-.1zM583.7 656.7l1.5-1-.3-.1zM591.1 651.7l1.5-1-.3-.2zM598.5 646.7l1.5-1-.3-.2zM605.9 641.7l1.4-1-.1-.2zM613.3 636.7l.9-.5 .5-.5-.1-.2zM620.7 631.6l.9-.4 .4-.7zM555.4 675.5l1.3-.7 2.8-2.7 3.3-3.4 2.1-2.6 .9-1.4 .3-1.1-.3-.6-.9-.6-1.7-.6-2.2-.2-2.9 .1-3.3 .4-7.8 1.8-10.4 3.2 .4-.1 .8 1 9-2.5 7.1-1.2 3.7 .1 3.1 .8 1.2 .8 .1 .8-.4 1.1-2.2 3.2zM562.8 670.5l1.3-.7 4.6-4.5 3-3.4 1.5-2.2 .3-1.1-.3-.6-1.3-.8-1.8-.5-2.3-.1-3.3 .2-7.7 1.4-10 2.9-12.3 4.4 .5-.1 .6 .9 11.7-4 9.2-2.3 5.5-.7 4 .2 1.8 .5 1.3 .7 .3 .7-.1 .7-.7 1.5-1.3 1.9zM570.2 665.5l1.3-.8 4.4-4.2 3.2-3.6 1.5-2.3 .3-1-.1-.4-.5-.5-1.9-.8-2.6-.3-3.2 .1-3.6 .5-8.9 2.1-11.5 3.7-16.1 6 .8 .1 .5 .8 13.9-5.3 11.7-3.6 6.5-1.4 5.4-.3 2.1 .2 2.1 .6 1.2 .9 .1 .8-.5 1.3-1.4 2.1zM577.6 660.4l1.1-.5 4.6-4.5 3.2-3.5 1.5-2.3 .3-1-.1-.4-.5-.5-1.9-.8-2.6-.3-2.7 0-3.6 .5-8.9 2-12 3.9-16.9 6.3 .6-.5 13.1-5.6 12.2-4.5 10.6-3.1 4.1-.8 3.8-.5 2.5-.1 2.7 .4 2 .7 .6 .4 .3 .7-.5 1.5-1.2 1.9-4.9 5.6 1.1-.5 4.6-4.5 3.2-3.5 1.5-2.3 .3-1-.1-.4-.5-.5-1.9-.8-2.6-.3-2.7 0-3.6 .5-8.9 2-11.9 3.9-17 6.3 .6-.5 13.1-5.6 12.2-4.5 10.6-3.1 4.1-.8 3.8-.5 2.5-.1 2.7 .4 1.9 .7 .7 .4 .3 .6-.5 1.6-1.2 1.9-4.9 5.6 1.1-.5 4.6-4.5 3.1-3.5 1.6-2.3 .3-1-.1-.4-.5-.5-1.9-.8-2.6-.3-3.2 0-3.5 .5-8.9 2.1-9.9 3.2-18.6 6.9 .3-.3 13.1-5.7 12.6-4.7 10.6-3 4-.8 3.8-.5 2.5-.1 2.6 .3 2 .8 .7 .4 .3 .6-.5 1.6-1.2 1.8-5 5.7 1.2-.6 4.6-4.5 3.1-3.4 1.5-2.3 .3-1 0-.4-.5-.5-1.9-.8-2.6-.4-3.1 .1-3.5 .5-9 2.1-9.9 3.1-18.6 7 .3-.4 13.1-5.6 12.6-4.7 10.2-2.9 4.4-1 3.8-.4 2.5-.1 2.6 .3 2 .8 .6 .4 .3 .6-.4 1.6-1.1 1.8-5.1 5.7 1.2-.6 4.7-4.5 3-3.4 1.5-2.3 .3-1 0-.4-.5-.5-1.9-.8-2.6-.4-3.1 .1-3.5 .5-8.9 2.1-12.3 4-16.3 6.1 .4-.4 13-5.7 12.6-4.6 10.2-3 4.4-.9 3.7-.4 2.6-.1 2.6 .3 2 .8 .6 .4 .3 .6-.4 1.5-1.1 1.9-5.1 5.7 1.2-.6 1.9-1.8 5.8-6.2-.5-1.2-1.8-.8-2.9-2.9-1.6-.2-2.5 .3-6.5 1.4-8.3 2.4-10.1 3.5-13.1 5 .7-.7 6.7-2.9 13.1-5.2 9.7-3.3 8.3-2.1-.7-1.2-.3-.1-2.7 .7-11.5 3.8-15.9 6 .8-.7 11.6-5 8.5-3.2 7.3-2.5-.8-1-.4 .1-19.7 7.3 .5-.5 5.2-2.3 13-5.3-.6-.9-.5 .1-10.2 3.8 .5-.5 9-3.9-.5-.8-.8-.1-.8 .3 .6-.5-.5-.7-.9-.4-.9-1.1-.5-.2-.6-.8-2.1-1.7-6.1-5.9-6.4-6.7-5.8-6.6-73.9 50.1 11.4 12.4 6.9 6.8 2.1 1.7 .6 .8 .5 .2 .9 1.1 .6 .1 .8 1 13.1-5.6 12.6-4.6 10.2-3 4.1-.8 3.8-.5 2.6 0 2.6 .3 2 .7 .6 .4 .3 .7-.4 1.3-1.1 1.9zM621.9 630.4l1.3-.7 1.8-1.7-.1-.2-.4-.2zM551 677.9l.1 .2 2.5-2.5 3.8-4.3 1.2-2.2 .1-.8-.2-.3-1-.6-1.7-.5-4-.3-5.6 .7-7.1 1.7 .9 0 .7 1.2 4.4-.7 4-.2 3.1 .4 2.1 1.1 .3 .6-.4 1.5-1.3 2.1-2.3 2.7zM549.3 676.3l.2 .6 1.5-2.2 .3-1.1 0-.3-.5-.5-1.5-.7-1.9-.4-4.7 .1 1.6 .2 2.9 2.9 1.8 .8z"/>
<path fill="#0047ff" fill-rule="evenodd" d="M578.1 692.5l73.9-50.1-4.1-1.2-4.1-1.5-8.3-4.1-30.3 20.5-43.6 29.6 8.3 4.1 4.1 1.5zM553.1 675l.5-.3 .5-.4 0-.3 1-.8 2.4-3.4 .3-1.4-1.2-.9-2.7-.6-3.7 0-4.8 .7-5.8 1.3 .4 .1 .2 .4 5.1-.9 4.1-.2 2.2 .1 2.2 .6 1.3 .8 .3 1.1-.6 1.7zM560.5 670l.6-.3 .4-.4 0-.4 .5-.2 1.6-1.9 1.3-2 .4-1-.3-.7-1-.6-2.7-.6-4.4 0-5.9 1-9.1 2.5-4.4 1.4-.1 .4 5.4-1.6 7.2-1.7 4.8-.6 3.7 .1 2.7 .6 1.5 1.1 .1 .7-.3 1.1zM567.9 664.9l.6-.2 .4-.8 .6-.3 1.6-1.9 1.2-1.9 .4-1-.3-.7-1-.6-2.7-.7-4.4 .1-5.9 1-9.1 2.5-4.4 1.4-.1 .4 5.4-1.6 7.2-1.7 4.8-.6 3.7 .1 2.7 .6 1.5 1.1 .1 .7-.3 1.1zM575.3 659.9l.6-.3 .4-.7 .6-.3 1.6-1.9 1.2-1.9 .4-1-.3-.7-1-.6-2.6-.7-4.5 .1-5.9 1-9.1 2.5-4.4 1.4-.1 .4 5.4-1.7 7.2-1.6 4.8-.6 3.6 .1 2.8 .6 1.5 1 .1 .8-.3 1.1zM582.6 654.9l.7-.3 .4-.7 .6-.3 1.6-1.9 1.2-1.9 .3-1.1-.2-.6-.9-.6-2.7-.7-4.5 .1-5.8 1-9.2 2.5-4.3 1.4-.2 .3 6.8-1.9 5.4-1.2 5.2-.7 3.6 0 2.8 .7 1.5 1 .1 .8-.3 1.1zM590 649.9l.7-.3 .4-.8 .6-.3 1.6-1.9 1.2-1.8 .3-1.1-.2-.6-.7-.5-2.8-.8-4.1 0-5.8 .9-7.5 2-6.8 2.3 .1 .1 6.4-1.8 6.5-1.5 4.5-.5 3.6 0 2.8 .7 1.5 1 .1 .8-.4 1.1zM597.4 644.9l.7-.4 2.6-2.9 1.2-1.8 .3-1.1-.2-.6-.7-.5-2.7-.8-4.2 0-5.4 .8-7 1.8-7.7 2.5 .1 .2 6.4-1.9 7.3-1.5 4.4-.5 3.4 .2 2.6 .7 1 .6 .3 .7-.6 1.8zM604.8 639.9l.8-.4 2.5-3 1.2-1.7 .3-1.1-.2-.7-.7-.4-2.7-.8-4.1 0-5.5 .8-6.8 1.7-7.9 2.5 .1 .3 .8-.4 6.5-1.7 6.4-1.3 4.3-.5 3.5 .2 2.6 .7 1 .6 .3 .7-.6 1.8zM612.2 634.9l.8-.4 .1-.5 .6-.3 1.8-2.2 1.2-1.7 .3-1.1-.2-.7-.7-.4-2.6-.8-4.1 0-5.6 .8-6.8 1.7-7.9 2.5 .1 .3 .9-.4 6.4-1.7 6.4-1.3 4.3-.5 3.5 .2 2.6 .7 1 .6 .3 .6-.5 1.9zM619.6 629.9l.8-.5 .1-.5 .6-.3 2.1-2.4-.6-.8-.6-.1-.5 1.8zM549 675.7l.3 .6 1.1-2 0-.9-.5-.5-1.2-.6-1.6-.4-3.7-.1 .9 .2 1.9 2 1.6 .8 .3 .6zM619.9 623.8l-1.7-1.9-.9-.2-2.8 .3-4.5 .9-5.3 1.3-7.8 2.5-.3 .1-.1 .3 1-.5 6.9-1.7 6.6-1.4 4.9-.3 2.2 .2zM613.3 619.5l.8-.2-.2-.4-1.1 .1-8.5 2.7-.3 .1-.1 .3 1-.5zM532.1 662.8l1.2-.8-1 .5zM539.5 657.8l1.2-.8-1 .4zM546.9 652.8l1.2-.8-1 .4zM554.3 647.8l1.2-.8-1 .4zM561.7 642.8l1.2-.8-1.2 .5zM569.1 637.8l1.2-.8-1.2 .5zM576.5 632.8l1.2-.9-1.2 .6zM583.9 627.7l1.2-.8-1.2 .6zM591.2 622.7l1.2-.8-1.1 .5zM598.6 617.7l1.2-.8-1 .5zM537.7 658.6l1.4-1-9.3 3.9 .6 .5zM545.1 653.6l1.4-1-12.4 5.1 .8-.7 18.4-8.8 .6-.6-12.4 5.1 .9-.8 18.3-8.7 .6-.5-12.4 5 .9-.8 18.3-8.7 .6-.5-12.4 5 .6-.6 18.6-9 .6-.5-12.5 5.1 .7-.6 18.7-9 .5-.5-12.5 5.1 .7-.7 18.7-8.9 .5-.5-12.5 5.1 .7-.7 18.7-9 .5-.4-12.5 5.1 .8-.7 18.3-8.8 .6-.5-12.3 4.9 .8-.7 10.3-5-.6-.5-3.1 1.2 .8-.7 1.8-.9-.4-.5-2.1-1.7-6.9-6.8-11.4-12.4-73.9 50.1 10.5 11.6 10.3 9.8z"/>
<path fill="#0080ff" fill-rule="evenodd" d="M578.1 692.5l73.9-50.1-7.3-2.4-7.2-3.4-32.8 22.3-41.1 27.8 7.2 3.4zM548.8 675.4l.5-.4 .2-.6 .2-.5-.3-.6-2.2-1-3.1-.3 .6 .4 2.1 .5 1.5 .7 .6 .9zM556.2 670.4l.3-.1 .3-.7 .2-1.1-1.2-.8-3-.7-2.9 0-.2 .2 3.2 .4 2.1 .6 1.2 .9zM563.6 665.3l.5-.3 .3-1.5-1.2-.8-2.7-.7-3.5 .1 3.3 .4 2.1 .7 1.2 .9zM571 660.3l.3-.1 .5-1.3-.2-.7-.6-.4-2.6-.7-4.1-.1 .1 .2 3.3 .3 2.1 .7 1.2 .9zM578.4 655.3l.3-.1 .5-1.3-.2-.7-.6-.4-2.6-.7-3.6-.1 .2 .2 3.2 .4 1.9 .8 .9 .7zM585.8 650.3l.4-.2 .4-1.2-.2-.7-.7-.4-2.5-.8-3.5 0 .1 .2 2.7 .3 2.4 .9 .8 .7zM593.1 645.3l.5-.2 .4-1.2-.2-.7-.7-.4-2.5-.8-4 0 0 .2 2.8 .2 2.5 .8 1.2 .9zM600.5 640.3l.5-.3 .4-1.1-.2-.7-.7-.4-2.5-.8-4 0 0 .2 2.8 .2 2.5 .8 1.2 .8zM607.9 635.3l.5-.3 .4-1.1-.3-.7-.6-.4-2.6-.8-3.9 0 0 .2 3.3 .3 2 .7 1.2 .8zM615.3 630.3l.5-.3 .4-1.1-.3-.7-.6-.4-2.6-.8-3.8-.1-.1 .3 3.2 .3 2.1 .7 1.2 .8zM618.4 622.3l-.4-.4-1.7 0-.1 .2zM531 656.5l2-1.4-2.6 1 1-.9 8.2-4.4 .8-.7-2.6 1 1-.9 8.2-4.4 .8-.7-2.7 1 1.1-.9 8.3-4.5 .7-.6-2.7 .9 .8-.7 8.3-4.4 1-.8-2.7 .9 .9-.7 8.2-4.4 1-.8-2.7 .9 .9-.7 8.2-4.5 .9-.7-2.6 .9 .9-.8 8.2-4.4 .9-.8-2.6 1 .9-.8 8.3-4.4 .8-.8-2.6 1 .9-.8 8.3-4.4 .8-.8-2.5 .8 3.6-2.1-8.6-8.5-9.6-10.6-73.9 50.1 9.6 10.6 8.6 8.5z"/>
<path fill="#00b8ff" fill-rule="evenodd" d="M578.1 692.5l73.9-50.1-6.4-2-6.4-2.9-4 2.8-69.9 47.3 6.4 2.9zM525.5 656l2.5-1.6 .2-.2-.5-.1 .5-.4 6.3-3.6 1.1-.9-.5-.1 .5-.4 6-3.5 1.4-1-.6-.1 .7-.4 5.9-3.5 1.4-1.1-.6 0 .7-.5 6-3.4 1.3-1.1-.6 0 .7-.5 6-3.4 1.3-1.1-.6 0 .4-.3 6.3-3.7 1.3-1-.6 0 .4-.3 6.3-3.7 1.3-1-.6 0 .4-.4 6.4-3.6 1.2-1-.6 0 .5-.4 6.3-3.7 1.1-.9-.5 0 .5-.5 3.6-2.1-7.7-7.8-8.2-9.1-73.9 50.1 7.3 8.2 7.8 8 .8 .7z"/>
<path fill="#00f1ff" fill-rule="evenodd" d="M578.1 692.5l73.9-50.1-5.5-1.7-5.8-2.4-60 40.6-13.9 9.5 5.8 2.4zM523.3 654.2l73-49.6-6.6-6.8-7.3-8.2-73.9 50.1 6.4 7.2 6.7 7 .8 .8z"/>
<path fill="#2affd5" fill-rule="evenodd" d="M578.1 692.5l73.9-50.1-5-1.5-4.9-2-.9 .7-73 49.4 4.9 2zM523.3 651.2l71.2-48.4-6.3-6.6-5.8-6.6-73.9 50.1 5.8 6.6 6.3 6.6z"/>
<path fill="#63ff9c" fill-rule="evenodd" d="M578.1 692.5l73.9-50.1-4.4-1.3-4.2-1.6-68.3 46.3-5.6 3.8 4.2 1.6zM519 651.3l73.9-50.1-10.5-11.6-73.9 50.1z"/>
<path fill="#9cff63" fill-rule="evenodd" d="M578.1 692.5l73.9-50.1-7.4-2.4-49.2 33.3-24.7 16.8zM517.5 649.7l74-50-9.1-10.1-73.9 50.1z"/>
<path fill="#d4ff2b" fill-rule="evenodd" d="M578.1 692.5l73.9-50.1-6.3-2-2.5 1.7-71.4 48.4zM516.1 648.2l.1 .1 73.9-50.1-7.7-8.6-73.9 50.1z"/>
<path fill="#fff100" fill-rule="evenodd" d="M578.1 692.5l73.9-50.1-5.2-1.6-2.2 1.5-71.7 48.6zM516.4 646l72.4-49.2-6.4-7.2-73.9 50.1 6.4 7.2z"/>
<path fill="#ffb800" fill-rule="evenodd" d="M578.1 692.5l73.9-50.1-4.2-1.2-5.9 3.9-68 46.2zM513.5 645.3l.2 .3 73.9-50.1-5.2-5.9-73.9 50.1z"/>
<path fill="#ff8000" fill-rule="evenodd" d="M578.1 692.5l73.9-50.1-3.3-.9-2.7 1.9-71.2 48.2zM512.3 644.1l.2 .2 73.9-50.1-4-4.6-73.9 50.1z"/>
<path fill="#ff4700" fill-rule="evenodd" d="M578.1 692.5l73.9-50.1-2.3-.6-2.8 1.9-71.1 48.2zM511.1 642.7l.3 .3 73.9-50.1-2.9-3.3-73.9 50.1z"/>
<path fill="#ff0e00" fill-rule="evenodd" d="M578.1 692.5l73.9-50.1-1.5-.4-2.7 1.9-71.2 48.2zM510.2 641.7l74-50-1.8-2.1-73.9 50.1z"/>
<path fill="#d50000" fill-rule="evenodd" d="M578.1 692.5l73.9-50.1-.6-.1-2.8 1.8-71.1 48.3zM509.1 640.4l.1 .2 73.9-50.1-.7-.9-73.9 50.1z"/></g>
<text x="506.3" y="649.2" font-size="9.85" text-anchor="end" fill="#111" font-weight="bold"  stroke="#111" stroke-width="0.28">0</text>
<text x="506.3" y="638.1" font-size="9.85" text-anchor="end" fill="#111" font-weight="bold"  stroke="#111" stroke-width="0.28">0.4</text>
<text transform="translate(485.6,639.7) rotate(-90)" y="3.5" font-size="9.85" text-anchor="middle" font-weight="bold" fill="#111" stroke="#111" stroke-width="0.28">z/µm</text>
<text transform="translate(508.9,656.9) rotate(35.2)" y="3.5" font-size="9.85" text-anchor="middle" font-weight="bold" fill="#111" stroke="#111" stroke-width="0.28">0.5</text>
<text transform="translate(539.7,679.2) rotate(35.2)" y="3.5" font-size="9.85" text-anchor="middle" font-weight="bold" fill="#111" stroke="#111" stroke-width="0.28">0</text>
<text transform="translate(540.2,694.1) rotate(37.2)" y="3.5" font-size="9.85" text-anchor="middle" font-weight="bold" fill="#111" stroke="#111" stroke-width="0.28">y/mm</text>
<text transform="translate(570.3,704.6) rotate(35.2)" y="3.5" font-size="9.85" text-anchor="middle" font-weight="bold" fill="#111" stroke="#111" stroke-width="0.28">−0.5</text>
<text transform="translate(586.9,702.9) rotate(-34.1)" y="3.5" font-size="9.85" text-anchor="middle" font-weight="bold" fill="#111" stroke="#111" stroke-width="0.28">3</text>
<text transform="translate(609.9,687.9) rotate(-34.1)" y="3.5" font-size="9.85" text-anchor="middle" font-weight="bold" fill="#111" stroke="#111" stroke-width="0.28">3.005</text>
<text transform="translate(632.2,673.4) rotate(-34.1)" y="3.5" font-size="9.85" text-anchor="middle" font-weight="bold" fill="#111" stroke="#111" stroke-width="0.28">3.01</text>
<text transform="translate(656.0,657.9) rotate(-34.1)" y="3.5" font-size="9.85" text-anchor="middle" font-weight="bold" fill="#111" stroke="#111" stroke-width="0.28">3.015</text>
<text transform="translate(642.7,684.5) rotate(-34.1)" y="3.5" font-size="9.85" text-anchor="middle" font-weight="bold" fill="#111" stroke="#111" stroke-width="0.28">x/mm</text>
<defs><linearGradient id="cbcii" x1="0" y1="0" x2="0" y2="1"><stop offset="0.0000" stop-color="#800000"/><stop offset="0.0625" stop-color="#bf0000"/><stop offset="0.1250" stop-color="#ff0000"/><stop offset="0.1875" stop-color="#ff4000"/><stop offset="0.2500" stop-color="#ff8000"/><stop offset="0.3125" stop-color="#ffbf00"/><stop offset="0.3750" stop-color="#ffff00"/><stop offset="0.4375" stop-color="#bfff40"/><stop offset="0.5000" stop-color="#80ff80"/><stop offset="0.5625" stop-color="#40ffbf"/><stop offset="0.6250" stop-color="#00ffff"/><stop offset="0.6875" stop-color="#00bfff"/><stop offset="0.7500" stop-color="#0080ff"/><stop offset="0.8125" stop-color="#0040ff"/><stop offset="0.8750" stop-color="#0000ff"/><stop offset="0.9375" stop-color="#0000bf"/><stop offset="1.0000" stop-color="#000080"/></linearGradient></defs>
<rect x="668" y="623.2" width="5.1" height="69.3" fill="url(#cbcii)"/>
<text x="675.1" y="695.5" font-size="9.85" text-anchor="start" fill="#111" font-weight="bold"  stroke="#111" stroke-width="0.28">0</text>
<text x="675.1" y="675.0" font-size="9.85" text-anchor="start" fill="#111" font-weight="bold"  stroke="#111" stroke-width="0.28">0.1</text>
<text x="675.1" y="653.9" font-size="9.85" text-anchor="start" fill="#111" font-weight="bold"  stroke="#111" stroke-width="0.28">0.2</text>
<text x="675.1" y="631.1" font-size="9.85" text-anchor="start" fill="#111" font-weight="bold"  stroke="#111" stroke-width="0.28">0.3</text>
<text x="682.8" y="617.4" font-size="9.85" text-anchor="middle" fill="#111" font-weight="bold"  stroke="#111" stroke-width="0.28">z/µm</text>
<circle cx="522.5" cy="600.1" r="6.1" fill="#fff" stroke="#555" stroke-width="0.8"/>
<text x="522.5" y="603.6" font-size="9.85" text-anchor="middle" fill="#111" font-weight="bold"  stroke="#111" stroke-width="0.28">ii</text>
<path d="M289.4 778.1L366.3 729.7" stroke="#cdcdcd" stroke-width="0.6" fill="none"/>
<path d="M366.3 729.7L436.7 784.5" stroke="#cdcdcd" stroke-width="0.6" fill="none"/>
<path d="M289.4 763.9L366.3 715.5" stroke="#cdcdcd" stroke-width="0.6" fill="none"/>
<path d="M366.3 715.5L436.7 770.3" stroke="#cdcdcd" stroke-width="0.6" fill="none"/>
<path d="M366.3 729.7L366.3 715.5" stroke="#cdcdcd" stroke-width="0.6" fill="none"/>
<path d="M436.7 784.5L436.7 770.3" stroke="#cdcdcd" stroke-width="0.6" fill="none"/>
<path d="M315.0 762.0L315.0 747.8" stroke="#dcdcdc" stroke-width="0.5" fill="none"/>
<path d="M389.8 748.0L389.8 733.8" stroke="#dcdcdc" stroke-width="0.5" fill="none"/>
<path d="M340.7 745.8L340.7 731.6" stroke="#dcdcdc" stroke-width="0.5" fill="none"/>
<path d="M413.2 766.2L413.2 752.0" stroke="#dcdcdc" stroke-width="0.5" fill="none"/>
<path d="M289.4 771.0L366.3 722.6" stroke="#e0e0e0" stroke-width="0.5" fill="none"/>
<path d="M366.3 722.6L436.7 777.4" stroke="#e0e0e0" stroke-width="0.5" fill="none"/>
<path d="M289.4 778.1L289.4 763.9" stroke="#4a4a4a" stroke-width="0.7" fill="none"/>
<path d="M289.4 778.1L359.8 832.9" stroke="#4a4a4a" stroke-width="0.7" fill="none"/>
<path d="M359.8 832.9L436.7 784.5" stroke="#4a4a4a" stroke-width="0.7" fill="none"/>
<g id="s_ciii"><path fill="#0000aa" d="M359.8 832.6l3.9-2.7 10.4-6 6.6-4.4 5.2-3 10.4-7.1 10.4-6.1 5.2-3.5 6.6-3.8 10.4-7.1 7.8-4.5-1.2-1.2-1.2-.6-4.8-4-1.2-.6-1.1-1.3-2.4-1.6-1.2-1.2-1.2-.6-2.4-2.1-1.2-.6-1.2-1.3-2.4-1.5-1.2-1.3-2.4-1.6-3.5-3.2-3.6-2.3-3.6-2.8-4.8-4.2-2.4-1.5-2.3-2.1-2.4-1.5-1.2-1.2-2.4-1.6-1.2-1.2-8.4-6.3-1.1-1.2-1.2-.6-3.6-2.8-1.2-1.2-1.2-.6-1.2-1.2-10.4 6.8-14.4 8.4-13 8.9-5.2 3.2-13 7.6-14.4 9.7-6.5 4 2.4 1.4 3.6 3.3 2.4 1.3 3.5 3.3 2.4 1.4 2.4 2.4 4.8 3.2 2.4 2.3 2.4 1.9 3.5 2.1 6 5.1 6 4.2 3.5 3.4 6 4.2 3.6 3.3 2.4 1.3 2.4 2.4 3.5 2.3 2.4 2.4 3.6 2.2 1.2 1.2z"/>
<path fill="#0000ff" fill-rule="evenodd" d="M359.8 832.6l4.2-2.8 8.7-5.1 4.1-3.8 .3-.7-16.8 7.1-3.5 3.2 1.8 .9zM375.4 823l4.7-3.2 4.8-2.8-5.7 2.4zM387.6 815.3l8.9-6 8.5-4.9 4.1-3.9 .3-.6-16.9 7.1-11.6 10.9 .9-.2zM407.7 802.7l4.9-3.3 4.6-2.7-5.5 2.3zM419.9 795l8.8-5.9 8-4.7-1.2-1.2-1.1-.6-9.5 4-11.8 11 1-.2zM377.9 819.4l1.1-.6 4.5-4.2 6.8-6.4-.2-.2-16.7 6.9-11.4 10.7 .4 .2zM410.2 799l1-.4 11.4-10.7-.3-.2-16.4 6.7-11.6 10.9 .4 .2zM432.8 782.7l1.1-.4-1.3-1.4-1.1-.5-4.9 4.6 .5 .1zM356.3 830l1.7-1.4-.2-.3-2.5 1zM358.6 827.4l1.4-.8 11.3-10.5-.3-.3-16.7 6.9-3.4 3.2 2.1 1.2 1.8 1.8zM390.9 807.1l1.3-.7 11.4-10.7-.4-.2-16.7 6.9-11.2 10.7 .2 .3zM423.1 786.7l1.3-.5 6.6-6.2-1.4-1.4-1.1-.5-9.5 3.9-11.4 10.8 .2 .2zM371.8 814.9l1.4-.7 11-10.4 .3-.6-17.1 7-11.5 11 1-.2zM404.1 794.6l1.3-.6 11.1-10.6 .3-.5-17.2 7-11.4 11 .8-.2zM426.9 778.1l1.1-.4-1.3-1.4-1.2-.6-5 4.8 .8-.1zM350.4 825.5l1.5-1.4 .3-.6-2.9 1.2zM353 822.6l1.3-.8 11.4-11-17.6 7-3.4 3.3 2.1 1.1 2 2.1zM385.3 802.3l1-.5 11.7-11.3-17.4 6.9-11.9 11.6zM417.6 781.9l.9-.3 6.5-6.3-1.3-1.3-1.3-.7-9.7 3.8-11.7 11.5zM365.1 810.4l2-.9 11.7-11.4-18 6.9-11.6 11.7zM397.4 790.1l1.9-.8 11.8-11.6-18.1 7.1-11.5 11.6zM420.7 773.3l1.2-.4-1.4-1.4-1.4-.8-5.3 5.3zM344.2 820.7l2.3-2.3-3.5 1.3zM347.3 817.4l11.5-11.3-.3-.3-17.6 6.4-3.1 3.5 2.3 1.2 2.4 2.4zM379.6 797.1l11.5-11.4-.3-.2-17.4 6.3-11 11.6 .3 .2zM412 776.8l6.6-6.5-1.3-1.3-1.7-1-10 3.5-10.9 11.6 .3 .2zM359.4 804.9l1.1-.5 11-11.7-.7 0-10 3.3-8.1 2.3-.4 .1-4.1 5.4-5.8 6.8-.1 .5zM391.7 784.5l1-.4 11.1-11.7-.7 0-10.2 3.3-8.1 2.3-5.1 6.5-5 5.8-.1 .4zM414.5 767.7l.5-.2-1.6-1.6-1.9-1.1-4.5 5.1-.1 .5zM337.1 815.1l2.1-2.1-.7 0-2.9 1zM339.1 811.9l1.2-.6 5.1-6 1.2-.9 4-5.2 0-.4-5.2 1.1-4.5 .4-3-.2-2-.8-1-1.4 0-2.1 1.1-2.8 2.1-3.8-.2-.2-8.4 2.3-1 .7-9.6 3.1-3 3.5 2.1 1.4 .3-.1 .9 .6 6.1 5.3 6.2 4.3 3.2 3.2zM371.4 791.5l1.1-.4 5.1-6 1.2-.9 4.1-5.3 0-.4-5.4 1.1-4.3 .4-3-.2-2-.8-1-1.5 0-2 1.2-3.1 2-3.5-.2-.2-8.4 2.3-1 .6-9.3 3.1-5.7 6.4-1 .6-4.2 5.6 .3 .2 5.2-1.1 4.5-.5 2.9 .3 2 .8 .9 1.5 0 2.1-1.1 2.9-2.1 3.7 .6 0 8-2.2 1.3-.8zM403.7 771.2l1-.4 5.2-6 .8-.7-2.3-2.1-3.5-2.3-2.4-.2-2-.8-1-1.5 0-1.7-3.4-3.2-2.4-1.4-10.1 3.5-5.5 6.3-1 .7-4.2 5.5 .3 .2 5.5-1.1 4.2-.4 2.9 .2 2 .9 .9 1.5 0 2-1.2 3.1-2 3.5 .6 .1 7.8-2.2 1.4-.8zM350.6 798l1.1-.5 1.8-3 .9-2.2 .2-2.5-.3-.8-.7-.8-1.9-.9-3-.2-4.8 .6-4.2 .9-1.9 3.3-1 2.7 0 2.1 .7 1.2 1.8 .9 2.9 .3 3.7-.3zM382.9 777.6l1.1-.3 1.8-3.1 .9-2.2 .2-1.5 0-1.2-1-1.4-1.9-.9-3-.2-4.8 .5-4 .9-.3 .2-1.8 3.2-1 2.7 0 2.1 1 1.4 1.5 .7 2.9 .3 3.7-.3zM338.8 788l10.6-12.9-18.4 6.7-11.4 12 11.1-3.5zM371.2 767.6l10.5-12.9-18.2 6.7-11.6 12.1zM392.3 750.6l.6-.2-.1-.2-1.8-1.7-1.6-.9-5.2 5.6zM314.7 797.7l.3 .2 2.1-2.5-3.7 1.3zM317.9 794.5l10.9-11.4 .3-.6-17.6 6.8-3.4 3.3 2.2 1.1 2.6 2.6zM350.2 774.2l10.9-11.5 .3-.5-17.4 6.7-11.7 11.6 .9-.2zM382.5 753.8l6.3-6.6-1.6-1.7-1.4-.7-9.7 3.8-11.5 11.5 .9-.1zM329.9 781.6l.8-.4 11.3-11.4-1.1 .3-16.5 6.6-11 10.7-.4 .7zM362.2 761.2l.7-.3 11.4-11.4-1.1 .2-16.4 6.5-11.1 10.8-.5 .7zM384.4 744.7l.9-.3-1.3-1.4-1.5-.7-4.5 4.4-.5 .7zM307.4 791.9l.2 .3 2.1-2.1-3.3 1.2zM309.5 789.4l1.7-.8 11.5-11.2-17.5 7-3.4 3.2 2 1.1 2.1 2.2zM341.8 769.1l1.6-.7 11.6-11.4-17.6 7.2-11.7 11.3zM374.1 748.8l1.5-.6 6.4-6.3-1.3-1.4-1.3-.7-9.6 3.9-11.8 11.5zM322.1 777l2-1 11.1-10.6-.1-.4-16.8 7-11.4 10.8 .4 .1zM354.4 756.6l1.9-.8 11.2-10.8-.1-.3-16.9 7-11.3 10.8 .4 .1zM377.5 740l1.4-.6-1.4-1.4-1.1-.5-4.9 4.6 .4 .2zM301.2 787.2l1.7-1.5-.1-.3-2.6 1zM303.6 784.4l1.3-.6 10.9-10.4 .4-.7-17 7.1-3.4 3.2 1.8 .9 2.1 2.1zM335.9 764.1l1.2-.6 11-10.4 .4-.7-16.8 6.9-11.9 11.2 1-.2zM368.2 743.8l1.1-.5 6.6-6.2-1.4-1.4-1.1-.6-9.5 4-11.8 11.1 1-.3zM317 771.8l1.3-.7 10.7-10.2 .4-.6-17 7.1-11.6 10.9 1-.2zM349.3 751.5l1.4-.9 10.6-9.9 .3-.7-16.7 6.9-11.8 11.1 .9-.2zM372.1 735.1l.8-.3-1.3-1.4-1.1-.5-5.1 4.8 1.1-.3zM295.3 782.6l1.4-1.3 .4-.7-2.8 1.2zM297.9 779.7l1.4-.8 10.8-10.1-.1-.4-15.6 6.5-1.5 .9-2.6 2.4-.3 .3 1.8 .9 2 2zM330.1 759.4l1.1-.5 11.3-10.6-.2-.2-16.2 6.8-.9 .6-10.9 10.2 .3 .2zM362.4 739.1l1-.4 6.6-6.2-1.3-1.3-1.1-.6-8.6 3.6-1.5 1-10.9 10.2 .5 .1zM310.7 767.5l1.5-.7 10.3-9.6-12.8 7.5-12.6 8.5zM343 747.2l1.4-.7 10.4-9.6-12.6 7.3-12.8 8.7zM365.6 730.9l1.5-.6-.8-.9-4.6 3.1z"/>
<path fill="#0055ff" fill-rule="evenodd" d="M359.8 832.6l4.2-2.8 7.2-4.2 4-3.8 .4-.7-15.1 6.3-3.4 3.2 1.5 .8zM377 821.9l6.4-4-3.9 1.6zM389.2 814.2l7.3-4.9 7-4 4-3.9 .4-.6-15.2 6.4-10.3 9.6 .9-.1zM409.3 801.6l6.4-4-3.7 1.5zM421.5 793.9l7.2-4.8 7.1-4.2 .7-.7-1-1-.8-.4-9.5 3.9-10.5 9.8 .9-.2zM377.5 819.1l1.2-.6 10-9.4-.1-.2-14.9 6.1-10.1 9.5 .4 .2zM409.8 798.8l1.1-.5 .7-.7 9.4-8.8-.2-.3-14.9 6.3-10 9.4 .4 .2zM432.4 782.5l1.2-.5-1-1.1-.8-.4-3.6 3.4 .4 .2zM356 829.7l.4-.2-.2-.3-.6 .2zM358.2 827.1l1.5-.8 10-9.3-.3-.3-14.8 6.1-3.4 3.2 1.5 .8 1.8 1.8zM390.5 806.8l1.4-.7 10.1-9.5-.3-.2-14.9 6.2-10 9.5 .3 .2zM422.8 786.5l1.3-.6 6.6-6.2-1.1-1.1-.8-.4-9.5 3.9-10.2 9.6 .3 .3zM371.4 814.6l1.5-.7 9.8-9.2 .2-.6-15.2 6.2-10.3 9.8 .9-.1zM403.7 794.3l1.4-.6 9.9-9.4 .2-.5-15.3 6.3-10.2 9.7 .9-.1zM426.6 777.8l1.1-.4-1-1.1-.9-.4-3.8 3.6 .8-.1zM350.1 825.2l.5-.8-1 .4zM352.7 822.3l1.1-.6 10.4-10-15.8 6.2-3.4 3.3 1.8 1 1.7 1.8zM385 802l1-.5 10.5-10.1-15.6 6.1-10.6 10.4zM417.3 781.6l.9-.4 6.4-6.3-.9-.9-1-.6-9.7 3.8-10.4 10.4zM364.8 810.1l2-.9 10.5-10.3-16.2 6.3-10.4 10.5zM397.1 789.8l1.9-.8 10.6-10.4-16.3 6.4-10.3 10.3zM420.5 773l1.1-.5-1.1-1-1.1-.6-4.1 4.1zM343.9 820.4l1.1-1.1-1.7 .6zM347.1 817.1l10.3-10.2-.3-.2-15.8 5.7-3.2 3.4 2 1.1 2.1 2.1zM411.7 776.4l6.6-6.4-1-1-1.4-.9-10 3.6-9.8 10.4 .3 .2zM377.7 797.4l2-.8 10-10-.3-.3-15.9 5.9-9.7 10.2 .3 .2zM359.2 804.5l1-.5 10-10.5-.7 0-16.4 5-.4 .2-3.9 5.1-5.1 5.9 0 .4zM391.5 784.2l.9-.4 10.1-10.7-.7 0-16.6 5.1-9.2 11.2 0 .4zM414.3 767.3l.4-.1-1.3-1.3-1.6-.9-3.5 4 0 .5zM336.8 814.8l1.1-1-1.9 .4zM338.8 811.1l.8-.4 4.4-5.2 1.8-.9 3.6-4.7 0-.5-5.4 1.1-4.2 .5-3-.3-2-.8-.9-1.4-.1-2.1 1.1-3 2.1-3.5-.3-.3-7.1 2-2.1 1.4-7.9 2.5-3.1 3.6 2.7 1.4 6.1 5.3 6.2 4.3 2.5 2.6zM371.1 790.8l.7-.3 4.4-5.2 1.1-.7 .4 .1 .4-.4 3.6-4.8 0-.4-5.6 1.1-4 .4-3-.2-2-.8-.9-1.5-.1-2 1.1-2.9 2.1-3.6-.3-.3-7.2 2-2 1.3-7.7 2.5-4.6 5.3-2.1 1.3-3.6 4.7 .3 .2 5.4-1 4.2-.4 2.9 .2 2 .8 .9 1.5 0 2.1-1 2.8-2.1 3.7 .6 .1 7.6-2.2 .2-.4 .9-.6zM403.4 770.5l.6-.3 4.4-5.1 1.5-.6 .6-.6-2.1-1.9-2.7-1.8-3.8 0-1.4-.4-1.1-.5-.7-.8-.3-1.1 0-1.2 .3-1.4-2.9-2.7-1.8-1-1.9 1.2-7.9 2.5-4.4 5.2-2.2 1.4-3.5 4.7 .3 .2 5.2-1 4.4-.5 2.9 .3 2 .8 .9 1.5 0 2.1-1 2.9-2.1 3.6 .6 .1 7.1-2.1 1.4-1.1zM350.8 797.4l.4-.3 .8-1.3 1.4-3.4 .1-2.1-1-1.5-1.5-.7-2.7-.4-3.8 .3-4.3 .9-1.5 2.8-.8 2.6 .1 2 .9 1.1 1.5 .7 2.9 .3 2.9-.3zM383.1 777l.4-.1 .8-1.5 1.4-3.3 .1-2.1-1-1.5-1.9-.9-3-.2-4.8 .6-2.5 .4-.2 .3-1.4 2.7-.8 2.6 .1 1.9 .9 1.1 1.5 .7 2.9 .3 2.9-.2zM337.7 787.8l1-.5 9.4-11.5-16.8 6.2-10.4 10.9zM370 767.4l.9-.3 9.5-11.6-16.6 6-10.6 11.1zM392.2 750.1l.4-.1-1.3-1.2-1.6-1-4.2 4.5zM314.4 797.4l.2 .2 1.2-1.5-2.1 .8zM382.4 753.4l6.1-6.6-1.3-1.3-1.1-.5-9.7 3.7-10.4 10.5 .9-.2zM316.3 794.6l1.7-.7 9.4-10 .3-.6-15.6 6-1.8 1.6-1.9 1.8 1.9 1 2.2 2.2zM348.6 774.3l1.6-.7 9.5-10.1 .3-.5-15.7 6-1.8 1.6-8.8 8.9 .9-.1zM329.7 781.2l.7-.4 10.1-10.1-1.1 .2-14.8 5.9-9.7 9.6-.5 .7zM362 760.9l.6-.3 10.2-10.3-1.1 .3-14.6 5.8-9.9 9.6-.5 .7zM384.2 744.4l.8-.3-1-1.1-1.2-.6-3.3 3.3-.5 .7zM307.1 791.6l.2 .3 .9-.9-1.5 .4zM309.2 789.1l1.7-.8 10.3-10.1-15.7 6.3-3.4 3.3 1.7 .9 1.8 1.8zM341.5 768.8l1.6-.7 10.4-10.2-15.8 6.4-10.5 10.1zM373.8 748.5l1.5-.6 6.4-6.4-1-1-1-.5-9.6 3.8-10.6 10.3zM321.8 776.6l2-.9 9.9-9.5-.2-.3-14.9 6.2-10.2 9.6 .5 .2zM354.1 756.3l1.9-.8 10-9.6-.2-.3-15 6.3-10.1 9.5 .5 .1zM377.2 739.7l1.4-.6-1.1-1.1-.8-.4-3.7 3.5 .5 .1zM300.9 786.9l.5-.3-.2-.4-.7 .4zM303.3 784.1l1.3-.6 9.7-9.2 .4-.7-15.2 6.3-3.4 3.2 1.5 .8 1.8 1.8zM335.6 763.8l1.2-.6 9.8-9.2 .4-.7-15.3 6.4-10.3 9.7 1-.2zM367.9 743.5l1.1-.5 6.6-6.2-1.1-1.1-.8-.4-9.5 3.9-10.5 9.9 1-.2zM316.7 771.6l1.1-.6 9.7-9.2 .3-.6-15.1 6.3-10.4 9.8 1-.2zM349 751.2l.9-.4 9.9-9.3 .3-.6-14.9 6.2-10.6 9.8 1-.1zM371.7 734.8l.9-.3-1-1.1-.8-.4-3.9 3.6 1-.2zM295 782.3l.5-.8-.9 .4zM297.5 779.5l.9-.4 .8-.7 9.5-8.9-.3-.2-14.3 6-1 .7-2.8 2.6 1.5 .8 1.7 1.7zM329.8 759.2l1.7-1.1 9.5-8.9-.3-.3-14.4 6.1-.9 .7-9.6 8.9 .4 .2zM362.1 738.8l1-.4 6.6-6.2-1-1-.8-.4-9.5 3.9-10.3 9.6 .4 .2zM310.4 767.2l1.5-.7 9-8.4-11.2 6.6-11.1 7.4zM342.7 746.9l1.4-.7 9.1-8.4-11 6.4-11.3 7.6zM365.2 730.7l1.6-.7-.5-.6-3.1 2.1z"/>
<path fill="#00aaff" fill-rule="evenodd" d="M359.8 832.6l4.2-2.8 5.5-3.3 4.1-3.8 .3-.6-13.1 5.5-3.4 3.2 1.2 .6zM378.6 820.8l3.1-2-1.9 .9zM390.9 813.1l5.6-3.8 5.3-3.1 4.1-3.8 .3-.6-13.2 5.5-8.9 8.4 .9-.2zM410.9 800.5l3.1-2-1.7 .7zM423.2 792.8l5.5-3.7 5.4-3.2 2.1-2-1.2-1-9.5 4-9.1 8.5 .9-.2zM377.2 818.8l1.3-.6 8.6-8.1-.2-.3-12.9 5.4-8.8 8.2 .4 .2zM409.5 798.5l1.1-.6 8.8-8.1-.2-.3-13 5.4-8.7 8.2 .4 .2zM432.1 782.1l1.2-.5-1.2-.9-2.3 2.1 .4 .1zM357.9 826.8l1.5-.8 8.6-8.1-.2-.2-12.9 5.3-3.4 3.2 1.2 .6 1.5 1.5zM390.2 806.5l1.4-.7 8.7-8.2-.2-.2-13 5.3-8.6 8.2 .3 .3zM422.5 786.1l1.3-.5 6.6-6.2-1.3-1-9.5 3.9-8.8 8.3 .3 .3zM371.2 814.3l1.4-.7 8.4-8 .3-.6-13.3 5.5-8.9 8.5 .8-.1zM403.5 794l1.3-.6 8.5-8.1 .3-.6-13.4 5.5-8.8 8.5 .8-.1zM426.4 777.5l1-.5-1.3-1-2.4 2.4 .8-.2zM352.5 821.9l1-.5 9-8.7-13.8 5.4-3.4 3.3 1.5 .8 1.4 1.4zM384.8 801.6l.9-.4 9.1-8.9-13.6 5.4-9.3 9.1zM417 781.3l.9-.4 6.5-6.2-1.4-1.1-9.6 3.8-9.2 9.1zM364.6 809.7l1.9-.8 9.2-9-14.3 5.5-9.1 9.2zM396.9 789.4l1.8-.8 9.3-9.1-14.4 5.7-9 9zM420.3 772.6l.9-.4-1.4-1.1-2.9 2.8zM345.2 817.4l2-.9 8.6-8.7-.2-.3-14 5.1-3.2 3.4 1.7 .9 1.7 1.8zM377.5 797l1.9-.8 8.7-8.7-.2-.3-14.1 5.2-8.5 9 .4 .2zM409.8 776.7l1.8-.7 6.3-6.4-1.7-1.3-9.9 3.6-8.7 9.2 .4 .2zM359.1 804.1l.7-.4 8.9-9.4-.6 0-14.6 4.5-.3 .2-8.1 9.7 0 .5zM391.4 783.7l.6-.2 9-9.6-.6 0-14.7 4.6-8.3 9.9 0 .4zM414.2 766.9l-.8-1-1.2-.7-2.5 2.8 0 .5zM403.3 769.6l4-4.8 .6 .2 .8-.2 1.3-1.3-1.6-1.5-2-1.3-5.1 .2-1.9-.4-1.1-.6-.7-.8-.4-1.4 .2-1.8 .6-1.8-2.2-2-1.5-.8-1.4 .6-1.4 1.3-6.6 2.1-3.7 4.3-2.5 1.2-3.4 4.5 .3 .2 5.7-1.1 3.9-.4 2.9 .3 1.9 .8 1 1.5 0 2-1 2.9-2.1 3.6 .6 .1 6-1.7 1-.4 .1-.5 .7-.3 .4-.6zM337.3 810.7l1.4-.4 3.7-4.4 .8-.2 .6-.5 .5 .1 .8-.7 3.1-4 0-.4-5.5 1-4.1 .4-2.9-.2-2-.8-1-1.5 0-2 .9-2.7 2.1-3.8-.2-.3-6.7 1.9-1.9 1.7-6.6 2.1-3 3.5 1.9 1 5.5 4.8 6.8 4.8 1.8 1.9zM369.6 790.4l1.5-.6 3.6-4.3 .7 0 .6-.6 .5 .2 .9-.8 3-4 .1-.5-5.7 1.1-3.9 .4-2.9-.2-2-.9-1-1.4 0-2.1 .9-2.7 2.1-3.8-.2-.2-6.9 1.9-1.5 1.6-6.6 2-3.8 4.4-2.6 1.1-3.4 4.6 .3 .2 5.7-1.1 3.9-.3 2.9 .2 1.9 .8 1 1.5 0 2.1-.9 2.7-2.2 3.8 .6 0 6.1-1.7 1-.4 .1-.6 .7-.2 .3-.6zM350.1 796.9l.6-.3 .4-.8 1.2-3.2-.1-2-.8-1.2-1.5-.7-2.7-.3-3.7 .3-2.8 .5-1.3 2.8-.4 1.9 .2 1.6 .9 1.1 1.5 .6 2.2 .3 2.8-.1zM382.4 776.6l.5-.2 .5-.9 1.2-3.2-.1-2-.8-1.2-1.8-.8-2.5-.2-3.8 .3-2.4 .4-.3 .2-1.2 2.7-.4 1.9 .2 1.5 .9 1.1 1.5 .7 2.2 .3 2.8-.1zM337.8 787.2l.5-.3 8.4-10.3-15.1 5.6-9.3 9.8zM370.1 766.9l.4-.2 8.5-10.4-14.9 5.4-9.5 9.9zM392.2 749.6l-1.2-1.1-1-.6-3.1 3.4zM316.2 794.2l1.5-.7 8.2-8.8 .3-.6-14.1 5.5-3.3 3.3 1.5 .8 1.9 1.9zM348.5 773.8l1.4-.5 8.3-8.9 .3-.6-13.9 5.4-5 4.8-4.4 4.5 .9-.2zM380.8 753.5l1.3-.5 6.1-6.5-1.7-1.4-9.8 3.8-9.2 9.2 .9-.1zM329.5 780.8l9.4-9.2-1 .2-12.9 5.2-8.5 8.3-.5 .7zM361.8 760.5l9.4-9.2-1 .2-12.7 5-8.7 8.5-.5 .7zM384 744l.7-.3-1.5-1.1-2.6 2.7zM309 788.7l1.6-.7 9-8.8-13.8 5.5-3.4 3.3 1.4 .7 1.5 1.5zM341.3 768.4l1.5-.7 9.1-8.9-13.9 5.7-9.2 8.8zM373.6 748.1l1.4-.6 6.4-6.3-1.4-1.1-9.6 3.9-9.3 9zM321.6 776.3l1.9-.9 8.5-8.2-.1-.3-13 5.3-8.8 8.4 .4 .1zM353.9 755.9l1.8-.7 8.6-8.3-.1-.4-13.1 5.5-8.7 8.3 .4 .1zM377 739.3l1.3-.5-1.3-1-2.4 2.2 .5 .1zM303 783.8l1.3-.7 8.3-7.8 .4-.7-13.2 5.5-3.4 3.2 1.2 .6 1.5 1.5zM335.3 763.5l1.2-.6 8.4-8 .4-.6-13.3 5.5-9 8.5 1-.2zM367.6 743.1l1.1-.4 6.6-6.3-1.3-1-9.5 4-9.2 8.6 1-.2zM316.4 771.2l1-.5 8.4-7.9 .4-.6-13.2 5.5-9 8.4 .9-.1zM348.7 750.9l.9-.4 8.5-8 .4-.7-13 5.4-9.2 8.6 .9-.2zM371.4 734.5l.9-.4-1.2-.9-2.5 2.3zM297.2 779.2l1.2-.7 8.6-8-.2-.3-12.4 5.2-1 .8-2.8 2.6 1.2 .6 1.4 1.4zM329.5 758.8l1.1-.5 8.7-8.1-.1-.2-13 5.3-8.7 8.2 .4 .2zM361.8 738.5l1-.4 6.6-6.2-1.2-1-9.5 4-8.9 8.3 .4 .1zM310.1 766.9l1.5-.7 7.7-7.2-9.6 5.7-9.4 6.3zM342.4 746.6l1.4-.7 7.8-7.2-9.4 5.5-9.6 6.5zM364.9 730.4l1.7-.8-.3-.2z"/>
<path fill="#00ffff" fill-rule="evenodd" d="M360.3 832.3l7.5-4.8 4.1-3.8 .3-.6-11.1 4.6-3.4 3.2 .9 .5 1.1 1.1zM392.6 811.9l7.5-4.7 4.1-3.8 .3-.6-11.2 4.7-7.5 7.1 .9-.2zM424.9 791.6l7.5-4.7 3.5-3.3-.6-.5-9.5 3.9-7.7 7.2 .9-.1zM377 818.4l.8-.3 .8-.7 6.8-6.3-.2-.3-10.9 4.5-7.3 7 .3 .1zM409.3 798.1l1-.5 .6-.5 6.8-6.3-.2-.3-11 4.6-7.2 6.8 .3 .2zM431.9 781.8l1.1-.5-.6-.5-.8 .8zM357.7 826.4l1.4-.7 7.2-6.8-.3-.2-10.8 4.4-3.4 3.3 .9 .4 1.2 1.2zM390 806.1l1.3-.6 7.3-6.9-.3-.2-10.9 4.5-7.2 6.9 .3 .2zM422.3 785.8l1.2-.6 6.6-6.2-.7-.5-9.5 3.9-7.4 7.1 .3 .2zM371 813.9l1.3-.6 7-6.7 .2-.6-11.2 4.6-7.5 7.2 .8-.1zM403.3 793.6l1.2-.5 7.1-6.8 .2-.6-11.3 4.7-7.4 7.1 .8-.1zM426.2 777.1l.9-.4-.7-.5-1 1zM352.3 821.5l.9-.4 7.7-7.4-11.9 4.6-3.3 3.3 1.1 .6 1.1 1.1zM384.6 801.2l.8-.4 7.8-7.5-11.6 4.6-8 7.7zM416.9 780.9l.7-.3 6.5-6.3-.4-.3-.4-.2-9.6 3.8-7.8 7.7zM364.5 809.3l1.7-.8 7.8-7.7-12.2 4.8-7.9 7.8zM396.8 788.9l1.6-.6 7.9-7.8-12.3 4.8-7.8 7.8zM420.2 772.2l.7-.3-.8-.7-1.6 1.6zM345.1 816.9l1.7-.8 7.4-7.4-.2-.2-12 4.3-3.2 3.4 1.3 .7 1.4 1.4zM377.4 796.6l1.6-.7 7.5-7.5-.2-.3-12.1 4.5-7.3 7.7 .4 .2zM409.7 776.3l1.5-.6 6.4-6.4-1-.8-9.9 3.6-7.5 7.9 .4 .2zM359 803.6l8.2-8.5-.6 0-12.6 4-.4 .1-7 8.5 0 .4zM391.3 783.3l8.2-8.5-.6 0-12.8 4-7.2 8.6 0 .4zM412.7 766.9l1.3-.4-1.4-1.1-1.4 1.6 0 .5zM337.3 809.8l.9-.4 2.2-2.8 1-.6 .5 0 .6-.6 .6 .2 1-.7 2.7-3.6 .1-.4-5.5 1-4 .4-2.9-.2-2-.9-1-1.4 0-2.1 .8-2.6 2.2-3.8-.3-.3-6 1.7-1.8 1.7-.2 .4-5.2 1.7-3 3.5 .3-.1 .9 .6 3.7 3.4 2.3 .3 1.4 .7 .9 1.1 .2 1.6 3.8 2.5 1.2 1.4 .6-.5zM369.6 789.5l.8-.3 2.5-3.1 .6-.3 .6 0 .6-.6 .6 .2 .6-.6 .4-.1 2.8-3.7 .1-.4-5.7 1-3.8 .4-2.9-.3-2-.8-1-1.4 0-2.1 .8-2.6 2.2-3.8-.3-.3-6 1.7-2 2.1-5 1.5-3 3.5-3.2 1.2-3 4 .3 .2 5.7-1.1 3.8-.3 2.9 .3 1.9 .8 1 1.4 0 2.1-.8 2.7-2.2 3.8 .7 0 5.5-1.6 .2-.3 .7-.2 .1-.7 .7-.1 .1-.5 .6-.4zM401.9 769.2l.7-.3 2.5-3 .9-.8 .1 .2 .5 0 .6-.6 .6 .2 .3-.4 .4 0 1.1-1.4-2.5-2-3.7 .5-2.7 0-2.1-.3-1.5-.7-.9-1.1-.2-1.5 .3-1.9 1.1-2.5-1.6-1.5-1.1-.6-2 .6-1.9 2.1-5.2 1.6-2.8 3.4-3.2 1.2-3 4 .3 .2 5.6-1.1 3.9-.3 2.9 .2 1.9 .9 1 1.4 0 2.1-.9 2.8-2.1 3.6 .7 .1 5.3-1.6 1-.5 .1-.6 .6-.2 .1-.4 1-.6zM349.5 796.3l.6-.4 1-3.1-.1-1.5-.8-1.2-1.5-.7-2.2-.3-2.8 .1-2.4 .4-.9 2.1-.2 1.8 .3 1.4 .8 .8 1.1 .6 2 .3zM381.8 776l.6-.4 1-3.1-.1-1.6-.8-1.1-1.5-.7-2.2-.4-3.5 .2-1.5 .2-.3 .3-.8 1.9-.2 1.9 .3 1.4 .7 .8 1.1 .5 2.1 .4zM336.7 787l1.2-.5 7.4-9.1-13.4 4.9-8.2 8.7zM369 766.7l1.1-.4 7.5-9.2-13.2 4.8-8.4 8.8zM390.9 749.6l.9-.4-1.4-1.1-2.1 2.2zM316.2 793.7l1.1-.6 7.1-7.5 .2-.6-12.2 4.8-3.3 3.3 1.2 .6 1.5 1.5zM348.5 773.4l1-.5 7.2-7.6 .2-.6-12 4.6-8.1 8.1 .8-.1zM380.8 753l.9-.3 6.1-6.6-1-.8-9.7 3.8-8 8 .8-.1zM327.8 781l1.9-.9 7.6-7.6-1.1 .3-10.9 4.4-7.2 7-.5 .7zM360.1 760.6l1.8-.7 7.7-7.7-1.1 .2-11 4.5-7.1 6.9-.5 .7zM384 743.5l.3-.1-.8-.7-1.3 1.5zM308.9 788.3l1.3-.7 7.7-7.4-11.8 4.7-3.4 3.2 1.1 .6 1.1 1.2zM341.2 768l1.2-.6 7.8-7.6-11.9 4.8-7.8 7.6zM373.5 747.6l1.1-.4 6.5-6.3-.8-.6-9.5 3.9-8 7.7zM321.4 775.9l1.8-.8 7.1-6.9-.1-.3-11 4.5-7.4 7.1 .4 .1zM353.7 755.5l1.7-.7 7.2-6.9-.1-.4-11.1 4.7-7.3 6.9 .4 .2zM376.8 738.9l1.2-.4-.7-.6-.9 .9zM302.9 783.4l1.1-.6 6.9-6.5 .4-.7-11.2 4.6-3.4 3.2 .9 .5 1.2 1.2zM335.2 763.1l1-.5 7-6.7 .4-.6-11.3 4.7-7.6 7.1 1-.2zM367.5 742.7l.9-.4 6.6-6.2-.7-.5-9.5 3.9-7.8 7.3 1-.2zM316.2 770.8l.9-.4 7-6.6 .4-.6-11.2 4.6-7.6 7.2 .9-.2zM348.5 750.5l.8-.4 7.1-6.6 .4-.7-11 4.6-7.8 7.2 .9-.1zM371.2 734.1l.8-.3-.6-.5-1.1 1zM297 778.8l1.1-.6 7.2-6.7-.2-.3-10.8 4.5-3.4 3.2 .9 .5 1.1 1.1zM329.3 758.5l1-.5 7.3-6.8-.2-.3-10.5 4.4-7.7 7 .4 .2zM361.6 738.1l.9-.4 6.6-6.1-.6-.5-9.5 3.9-7.5 7 .4 .2zM309.8 766.6l1.5-.8 6.3-5.8-7.9 4.7-7.7 5.1zM342.1 746.2l1.4-.6 6.4-5.9-7.7 4.5-7.9 5.3z"/>
<path fill="#55ffaa" fill-rule="evenodd" d="M362 831.1l4-2.5 4.1-3.8 .3-.7-8.9 3.8-3.5 3.2 1.4 1.1zM394.3 810.7l4-2.5 4.1-3.8 .3-.6-9 3.8-6.1 5.8 .9-.2zM426.6 790.4l4-2.5 4.1-3.8 .3-.6-8.9 3.7-6.3 5.8 1-.1zM376.8 818l1-.5 5.8-5.4-.1-.2-8.9 3.6-5.9 5.6 .4 .1zM409.1 797.7l.9-.4 5.9-5.5-.2-.3-8.6 3.5-6.1 5.7 .4 .2zM357.6 826l1.2-.6 5.8-5.5-.3-.2-8.7 3.6-3.4 3.2 1.4 1.1zM389.9 805.7l1.1-.6 5.9-5.5-.3-.2-8.8 3.7-5.9 5.5 .3 .2zM422.2 785.3l1-.4 6-5.6-.3-.2-8.7 3.5-6 5.7 .3 .2zM370.9 813.5l1.1-.5 5.5-5.4 .3-.5-9.2 3.7-6.1 5.9 .9-.1zM403.2 793.2l.9-.5 5.7-5.4 .3-.6-9.3 3.9-6 5.7 .9-.1zM352.2 821.1l6.9-6.4-9.7 3.8-3.4 3.3 1.6 1.2zM384.5 800.8l6.9-6.5-9.5 3.7-6.6 6.5zM416.8 780.4l6.9-6.4-9.7 3.8-6.4 6.3zM364.5 808.8l1.3-.6 6.5-6.4-10.2 4-6.4 6.5zM396.8 788.5l1.2-.6 6.6-6.4-10.3 4-6.3 6.5zM345.1 816.4l1.4-.6 6-6.2-.2-.2-9.9 3.6-3.2 3.4 2 1.6zM377.4 796.1l1.3-.6 6.2-6.2-.3-.2-10 3.7-6 6.4 .3 .2zM409.7 775.8l1.2-.5 6.3-6.3-.3-.3-9.9 3.6-6.2 6.6 .4 .2zM357.4 803.7l1.7-.7 6.6-7-.6 0-11 3.5-6 7.2 0 .4zM389.7 783.4l1.6-.7 6.7-7-.6-.1-11.1 3.7-5.9 7 0 .5zM412.7 766.4l.9-.3-.6-.4zM343 805.3l2.5-3.2 0-.4-5.6 1-4.4 .3-3.1-.5-1.7-1.1-.5-1.3 .1-2.1 1-2.8 1.9-3.2-.3-.2-5.3 1.6-1.9 2.1-.6 .4-3.4 1.1-1.7 2.2-.7 .4-1.2 .2 1.1 .7 2.7 2.5 3.5 .1 1.4 .4 1.1 .6 .7 .8 .4 1-.3 2.4 2.8 1.8 1.1 1.3 .3-.2 .1-.4 .7-.4 0-.5 3.4-1 2.1-2.4 1.5-.2 .6-.6 .5 .3 .6-.7zM363.7 792.3l.3-.5 .7-.2 .1-.7 .3 .1 .1-.8 .6-.1 .1-.4 3.7-1.2 1.7-2.3 .6 .1 .7-.7 .5 .3 .4-.5 .5 .3 .6-.6 .7-.1 2.5-3.2 0-.5-5.6 1.1-3.8 .3-2.9-.3-1.9-.8-1-1.5-.1-2 .9-2.6 2.1-3.8-.3-.2-4.8 1.3-.6 .3-1.5 1.6-.1 .4-1 .6-2.9 .8-1.9 2.2-1 .6-1.4 .3-2 1-2.4 3.2 .3 .2 4.8-.9 3.9-.4 3.1 .1 1.8 .5 1.4 1.2 .3 1 .1 1.3-.9 3-2.1 3.8 .6 0zM396 772l.2-.5 .7-.2 0-.7 .7-.1 .5-1.1 3.7-1.2 1.8-2.2 1.7-.4 .6-.6 .6 .2 .6-.6 .5 0 1.6-1.9-1.5-1.2-4 .7-3.7 .2-2.7-.4-1.4-.7-.9-1.1-.2-2 .6-2.5 1.4-2.7-1.6-1.2-3.3 1-.8 1.2-.7 .5 0 .3-.6 .5-3.4 1-1.8 2.2-.7 .4-.3-.1-.1 .3-2.8 .9-2.8 3.5 .3 .2 4.8-.9 3.9-.5 3.1 .2 1.8 .5 1.4 1.2 .3 1 .1 1.2-.9 3.1-2.1 3.8 .6 0zM381.6 775.2l.5-1.9 0-1.3-.4-1-.8-.8-1.1-.5-2.1-.3-3.3 .2-.2 .3-.4 1.5-.1 1.3 .4 1 .7 .8 1.1 .6 1.5 .3 2.5 0zM348.4 795.7l.7-.1 .3-.2 .5-1.9-.2-1.5-.8-1.2-1-.6-2-.4-2.6 0-1.4 .3-.5 2.5 .2 1.2 .6 .8 1 .7 1.3 .3zM336.8 786.4l.6-.3 6.4-7.8-11.5 4.2-7.1 7.5zM369.1 766.1l.5-.2 6.5-8-11.3 4.2-7.3 7.6zM390.9 749l.5-.1-.7-.6-.9 1zM316.2 793.2l.7-.4 5.9-6.3 .2-.5-10.3 4-3.3 3.3 .9 .4 1.2 1.2zM348.5 772.8l.6-.3 6-6.3 .2-.6-10 3.9-6.9 6.8 .8-.1zM380.8 752.5l.5-.2 6.1-6.4-.3-.4-9.7 3.8-6.7 6.7 .8-.1zM327.8 780.5l1.5-.7 6.3-6.3-10 3.8-5.8 5.7-.5 .7zM360.1 760.1l1.4-.6 6.4-6.3-1.1 .2-9 3.7-5.7 5.6-.5 .7zM308.9 787.8l1-.5 6.3-6.1-9.8 3.8-3.4 3.3 1.6 1.2zM341.2 767.5l.9-.4 6.4-6.3-9.9 4-6.3 6.2zM373.5 747.2l.8-.4 6.4-6.3-9.9 4.1-6.2 6.1zM321.3 775.4l1.5-.7 5.8-5.5-.2-.3-8.9 3.7-6 5.7 .5 .1zM353.6 755.1l1.4-.6 5.9-5.6-.2-.4-9 3.8-5.9 5.6 .5 .2zM302.8 783l.9-.5 5.4-5.2 .5-.7-9.2 3.8-3.4 3.2 1.4 1.1zM335 762.6l.9-.4 5.5-5.2 .5-.7-9.3 3.9-6.1 5.7 1-.2zM367.3 742.3l.8-.3 5.6-5.4 .4-.6-9.3 3.9-6 5.7 1-.2zM316.1 770.4l.7-.4 5.6-5.2 .3-.6-9.1 3.8-6.1 5.8 .9-.2zM348.4 750.1l.6-.3 5.7-5.3 .3-.6-8.9 3.6-6.3 5.9 .9-.1zM296.8 778.4l1-.5 5.7-5.4-.2-.3-8.7 3.7-3.4 3.2 1.4 1.1zM329.1 758.1l.9-.5 5.8-5.4-.2-.3-8.4 3.5-6.2 5.7 .3 .2zM361.4 737.8l.8-.4 5.9-5.5-.2-.3-8.6 3.6-6 5.6 .3 .2zM309.6 766.2l1.4-.7 4.8-4.4-6.1 3.6-5.9 3.9zM341.9 745.9l1.3-.6 4.9-4.6-5.9 3.5-6.1 4.1z"/>
<path fill="#aaff55" fill-rule="evenodd" d="M363.8 829.9l4.5-4.1 .3-.6-6.8 2.9-3.5 3.2 .8 .5zM396.1 809.5l4.5-4 .3-.7-6.6 2.8-4.9 4.5 .9-.1zM428.5 789.2l4.4-4 .3-.7-6.8 2.8-4.7 4.5 .9-.2zM376.7 817.6l.8-.4 4.3-4-.2-.3-6.6 2.8-4.5 4.1 .4 .2zM409 797.3l.7-.3 4.4-4.2-.2-.2-6.4 2.6-4.7 4.3 .4 .2zM357.5 825.6l1-.6 4.3-4-.3-.2-6.6 2.7-3.4 3.2 .8 .6zM389.8 805.2l.9-.4 4.4-4.1-.3-.3-6.7 2.8-4.4 4.2 .3 .2zM422.1 784.9l.8-.3 4.5-4.3-.3-.2-6.5 2.7-4.6 4.2 .3 .3zM370.8 813l1.1-.6 3.8-3.7 .3-.6-7 2.9-4.7 4.4 .9-.1zM403.1 792.7l1.1-.7 3.8-3.7 .3-.5-7.1 3-4.6 4.3 .9-.1zM352.2 820.6l5.1-4.9-7.6 3-3.3 3.3 .8 .6zM416.8 779.9l5.1-4.8-7.5 2.9-5 4.9zM382.6 801l2.1-.9 4.9-4.7-7.7 3-4.8 4.9zM364.4 808.3l1.1-.5 5.1-5-8.1 3.2-5.1 5.1zM396.7 788l1-.4 5.2-5.1-8.2 3.2-5 5.1zM345.1 815.9l.8-.2 2.8-2.8 2.2-2.3-.2-.2-7.9 2.9-3.2 3.4 1.2 .9zM377.4 795.6l.9-.4 2.7-2.7 2.2-2.2-.2-.3-8 3-4.8 5.1 .4 .1zM409.7 775.3l.8-.3 2.8-2.8 2.2-2.2-.2-.3-8.1 3.1-4.7 4.9 .4 .2zM357.4 803.2l1.4-.6 5.4-5.7-.6 0-9.1 2.9-4.8 5.8-.1 .4zM389.7 782.9l1.3-.5 5.5-5.8-.6-.1-9.1 3-4.8 5.8-.1 .4zM341.7 805.6l.6-.3 .6-.8 1.2-1.6 0-.4-5.5 1-4.4 .2-3.2-.5-1.5-1.1-.6-1.3 .2-2.1 .9-2.7 1.8-3.2-.3-.3-4 1.2-2.1 2.1-.4 .9 0-.4-.4 .6-2 .6-1.2 1.4-.9 .3-.3-.2-.1 .4-2 .4 3 2.5 5-.1 2 .4 1 .6 .7 .8 .5 1.4-.2 1.7-.5 1.8 2.9 2.2 .4 0 0-.7 .4 .1 .3-.2 .4-1.1 .9-.7 1.4-.3 .7-1.2 1.5-.2 .6-.7 .6 .4 .3-.6 .6 .4 .6-.7zM363.9 791.7l.7-.2 .1-.7 .3 .1 .1-.7 .7-.1 0-.8 .4 .1 .3-.2 0-.4 .5-.6 1.7-.5 .6-.9 1.4-.2 .6-.8 .2 .4 .4 0 .6-.7 .6 .3 .3-.5 .5 .3 2.5-3 0-.5-5.4 1-3.9 .3-2.9-.2-1.9-.9-1-1.4 0-2.1 .8-2.6 2-3.7-.3-.3-3.7 1.1-1 .5-.8 1.2 0-.2-.7 .7-.4 .9-2.1 .7-1.5 1.6-1.8 .5-.3-.1-.2 .3-.7 0-1.6 .7-2.1 2.8 .3 .2 4.8-.9 3.9-.4 3.1 .1 1.8 .5 1.3 1.2 .4 1.1 .1 1.2-.9 3-2 3.8 .6 0zM396.2 771.3l.6-.3 .1-.4 .6-.2 .1-.7 .3 .1 .1-.8 .3 .2 .4-.2 .4-1.1 1.9-.4 .6-.9 1-.5 1.5-.1 .6-.8 .6 .4 .6-.7 .5 0 .5-.3 1.8-2.4-.4-.3-5.1 .9-4.4 .3-2.7-.4-1.5-.7-.9-1.1-.2-2 .9-3 1.8-3.4-.6-.5-3.4 1-.6 .4-1.1 1.1-.4 .9-.1-.3-.6 .7-.1 .4-2.1 .6-1.1 1.4-.3-.2-.9 .7-1.4 .2-.4 .3-.3-.1-1.6 .8-2 2.6 .3 .3 4.8-.9 3.9-.4 3.1 .1 1.8 .5 1.3 1.2 .4 1 .1 1.2-.9 3.1-2 3.7 .6 .1zM348.2 794.9l.3-.3 .1-1.6-.4-.9-.5-.6-2-.8-1.7-.2-1.2 .1 0 1.9 .4 1 .5 .5 1.6 .7zM380.6 774.5l.3-1-.1-1.2-.6-.9-.5-.4-2.2-.8-2.2 0-.2 .2 0 1.8 .4 1 .5 .5 2.1 .7zM335.8 786.2l1.2-.6 5.3-6.5-9.7 3.6-5.2 5.5-.7 .7zM368.1 765.8l1.1-.4 5.4-6.6-9.5 3.5-5.2 5.4-.9 .9zM316.3 792.6l4.8-5.1 .3-.6-8.3 3.2-3.3 3.4 1.3 1zM380.9 751.9l4.8-5.1 .3-.5-8.2 3.1-5.5 5.5 .8-.1zM347 772.8l1.7-.6 4.7-5.1 .3-.5-8.4 3.3-5.3 5.3 .8-.1zM327.8 780l1.2-.6 4.9-4.9-7.9 3-4.5 4.4-.4 .7zM360.1 759.6l1.1-.4 5-5-1.1 .2-6.9 2.9-4.4 4.2-.5 .7zM308.9 787.3l.6-.4 4.9-4.7-7.6 3-3.4 3.3 .8 .7zM341.2 767l.5-.3 5-4.8-1.5 .5-6.2 2.6-5 4.8zM373.5 746.7l.4-.2 5.1-5-1.5 .6-6.1 2.4-5.1 5zM321.3 774.9l1.2-.5 4.3-4.2-.2-.3-6.8 2.9-4.5 4.3 .5 .1zM353.6 754.6l1.1-.5 4.4-4.2-.2-.3-6.9 2.9-4.4 4.2 .5 .2zM302.7 782.5l.7-.4 3.9-3.8 .5-.6-7 2.9-3.5 3.2 .8 .6zM335 762.2l.5-.3 4.1-3.9 .4-.7-6.7 2.8-5 4.6 1-.2zM367.3 741.9l.4-.2 4.2-4 .4-.7-6.9 2.9-4.8 4.5 1-.2zM316 770l4.5-4.1 .4-.7-7 3-4.6 4.4 .9-.2zM348.3 749.7l4.5-4.2 .4-.6-6.8 2.8-4.8 4.5 .9-.1zM296.7 778l.8-.5 4.2-3.9-.2-.3-6.5 2.7-3.5 3.3 .8 .5zM329 757.7l.7-.4 4.3-4-.2-.3-6.3 2.6-4.7 4.3 .3 .2zM361.3 737.3l.6-.2 4.4-4.2-.2-.2-6.5 2.6-4.5 4.3 .3 .2zM309.5 765.8l1.2-.6 3.3-3.1-4.3 2.6-4.1 2.7zM341.8 745.5l1.1-.5 3.4-3.2-4.1 2.4-4.3 2.9z"/>
<path fill="#ffff00" fill-rule="evenodd" d="M361.8 830.2l1.9-.8 2.8-2.5 .3-.6-4.7 1.9-3.2 3zM394.1 809.9l2.1-.9 2.6-2.4 .3-.7-4.8 2.1-3.1 2.9zM426.4 789.6l2-.9 2.7-2.5 .3-.6-4.6 1.9-3.3 3.1zM376.6 817.2l3.4-3-.3-.2-4.4 1.8-2.9 2.8 .3 .2zM408.9 796.8l3.3-2.9-.2-.3-4.2 1.8-3.1 2.9 .3 .1zM357.4 825.1l.8-.4 2.7-2.6-.3-.3-4.4 1.9-2.9 2.8 .3 .2zM389.7 804.8l.6-.3 2.9-2.8-.3-.2-4.5 1.9-2.8 2.7 .3 .3zM422 784.5l.5-.3 3-2.8-.3-.2-4.3 1.8-3 2.8 .3 .2zM370.7 812.6l3.2-2.9 .3-.5-4.9 2-3.1 3 .8-.1zM403 792.2l3.2-2.8 .3-.5-4.7 1.8-3.3 3.2 .8-.1zM350.3 820.9l1.6-.7 3.6-3.4-5.4 2.1-3.3 3.3zM382.6 800.6l1.7-.8 3.5-3.4-5.5 2.2-3.4 3.4zM414.9 780.2l1.6-.7 3.6-3.4-5.3 2.1-3.6 3.5zM364.4 807.8l.7-.3 3.7-3.6-5.9 2.3-3.7 3.7zM396.7 787.5l.6-.3 3.8-3.7-6 2.5-3.6 3.6zM345.1 815.4l.7-.3 3.4-3.5-.2-.2-5.8 2.1-3.2 3.4 .4 .3zM377.4 795.1l.6-.3 3.5-3.5-.2-.3-5.6 2-3.8 3.9 .4 .2zM409.7 774.8l.5-.2 3.6-3.6-.2-.3-5.8 2.1-3.6 3.8 .4 .2zM357.5 802.7l.9-.5 4.2-4.4-.6 0-7 2.2-3.8 4.5 0 .4zM389.8 782.3l.8-.3 4.3-4.5-.6-.1-7.1 2.4-3.7 4.4 0 .4zM332.4 811l.4-.2 .1-.5 .3-.2 .3 .1 .1-.7 .3 .1 .1-.8 .3 .2 .3-.3 .4-1 .7-.4 .6 0 .6-.8 .6 .4 .3-.6 .2 .4 .4 .1 .7-.8 .5 .4 .3-.5 .5 0 .1 .3 1.6-1.7 .6-.8 0-.4-6.3 1-4.8 .2-.3 2.2-1 2.6zM364.1 791l.8-.5 .1-.4 .4-.2 .3 .1 .1-.8 .3 .2 .3-.3 .1-.4 .3-.2 .1-.8 .3 .2 0-.9 .3 .2 .4-.2 .3-.6 .6 .4 1.8-.3 .6-.7 .6 .3 .6-.7 .6 .1 .6-.4 1.4-1.7 0-.5-5.5 1-5.3 .2-.3 .2-.2 1.6-.4 1.5-2.2 4.3zM396.4 770.7l.7-.4 .4 .1 0-.8 .4 .1 0-.7 .4 .1 .3-.2 .1-.8 .3 .1 0-.8 .4 .2 .3-.2 0-.4 .6-.4 1.6-.2 .6-.8 .2 .4 .4 .1 .3-.6 .6 .4 .6-.7 .6 0 .9-.6 1.2-1.6 0-.4-6.3 1.1-4.8 0-.2 1.9-.4 1.5-2.2 4.3zM346.6 793.8l.4 .1 .2-.4-.8-1.3-1.5-.7-.9 0 .7 1.4zM378.9 773.4l.7 0-.6-1.2-1-.7-1.5-.5-.1 .7 .6 .8zM327.4 801.3l.6-2.9 2.5-4.8-.3-.3-3.5 1-2.3 2.8-.1 .4-.6 .9-.7-.1-.3 .2-.3-.2-.1 .4-1.7 .5-.6-.1-.3 .4-.3-.1-.4 .3-.5 0-.3 .2 2.2 1.8 3.8-.5zM392.1 760.6l.5-2.9 2.5-4.8-.3-.2-3.4 .9-2 2.2 0 .4-.3 .2-.1 .4 0-.4-.7 1.3-.3-.2-.1 .4-1.7 .3-.5-.1-.4 .4-.4-.2-.2 .4-.6-.1-1.8 .7-1.7 2.3 .3 .2 7.1-1.2zM359.1 780.9l.8-.2 .4-2.6 2.5-4.9-.3-.2-3.3 .9-.8 .9 0-.2-1.2 1.8 0-.3-.7 1.2-.3 .2 0 .4-2.2 .6-.3-.2-.2 .4-1.6 .5-.7 0-.2 .3-1.1 .3-1.6 2.1 .3 .2 6.3-1.1zM336 785.5l.5-.3 4.3-5.2-7.8 2.9-4.8 5zM368.3 765.2l.4-.2 4.4-5.3-7.6 2.8-5 5.1zM314.8 792.6l1.3-.6 3.4-3.6 .2-.5-6.3 2.4-3.3 3.3 .6 .5zM347.1 772.3l1.2-.5 3.5-3.7 .2-.5-6.4 2.5-3.9 4 .8-.1zM379.4 752l1.2-.5 3.5-3.7 .2-.6-6.5 2.7-3.8 3.8 .8-.1zM327.9 779.4l.7-.4 3.5-3.5-5.8 2.2-3 3-.5 .7zM360.2 759.1l.6-.3 3.6-3.6-5.9 2.3-2.9 2.8-.5 .7zM308.9 786.8l3.7-3.6-1.5 .6-4 1.6-3.3 3.3 .1 .1zM373.5 746.1l3.7-3.5-1.5 .5-3.9 1.6-3.7 3.6zM339.4 767.2l2-.9 3.5-3.4-5.6 2.3-3.5 3.4zM321.3 774.5l.8-.5 2.9-2.7-.2-.3-4.6 1.9-3.1 2.9 .5 .2zM353.6 754.1l.7-.3 3-2.8-.2-.3-4.4 1.8-3.3 3 .5 .1zM302.6 782.1l2.9-2.7 .4-.7-4.8 2-3.3 3.1zM367.2 741.4l2.9-2.7 .4-.6-4.7 1.9-3.4 3.2zM333 762.5l2.2-1 2.6-2.4 .4-.7-4.9 2.1-3.2 3zM314 770.4l2.2-1 2.5-2.5 .3-.6-4.7 2-3.2 3zM346.3 750l2.1-.9 2.6-2.5 .3-.6-4.8 2.1-3.1 2.9zM296.6 777.6l3.3-2.9-.2-.3-4.4 1.8-3 2.8 .4 .2zM328.9 757.2l3.3-2.9-.2-.3-4.2 1.8-3.2 2.9 .4 .1zM361.2 736.9l3.3-2.9-.2-.3-4.3 1.8-3.1 2.8 .4 .2zM309.4 765.4l1-.5 1.8-1.7-4.8 3zM341.7 745l.9-.4 1.9-1.7-4.8 3z"/>
<path fill="#ffaa00" fill-rule="evenodd" d="M361.7 829.8l1.6-.7 1.3-1.1 .3-.7-2.5 1.1-1.6 1.6zM394 809.5l1.8-.9 1.1-1 .3-.6-2.6 1.2-1.5 1.4zM426.3 789.1l1.7-.7 1.2-1.1 .3-.6-2.4 1-1.7 1.6zM409 796.3l1.4-1.3-.2-.3-2.1 .9-1.6 1.4 .4 .2zM374.6 817.5l1.9-.8 1.6-1.4-.2-.2-2.3 .9-1.4 1.3zM357.4 824.6l1.7-1.4-.3-.3-2.2 .9-1.4 1.4 .3 .2zM389.7 804.3l1.7-1.5-.3-.2-2 .8-1.6 1.5 .2 .2zM422 784l1.7-1.5-.3-.2-2.1 .8-1.5 1.4 .2 .3zM368.9 812.8l2-.9 1.2-1.1 .2-.5-2.6 1.1-1.7 1.6zM401.2 792.5l1.9-.8 1.3-1.2 .2-.6-2.4 1-1.9 1.7zM350.3 820.4l1.2-.5 2.2-2.1-3.2 1.3-2 2zM382.6 800l1.4-.6 2-1.9-3.3 1.3-1.9 2zM414.9 779.7l1.3-.5 2.1-2-3.2 1.2-2 2.1zM396.9 786.9l2.4-2.3-3.5 1.3-2.5 2.5zM362.7 808l1.8-.7 2.5-2.4-3.7 1.5-2.3 2.3zM409.8 774.2l2.2-2.2-.2-.3-3.6 1.3-2.2 2.4 .3 .2zM343.4 815.6l1.7-.7 2.4-2.3-.3-.2-3.6 1.3-2.2 2.4 .3 .1zM375.7 795.3l1.9-.8 2.1-2.2-.2-.3-3.7 1.5-2.1 2.2 .3 .2zM357.5 802.1l3.5-3.4-.6 0-4.6 1.4-2.9 3.3-.1 .4zM389.8 781.8l3.5-3.4-.6 0-4.7 1.5-2.9 3.2 0 .4zM332.1 810.7l1-.6 .4 .1 0-.8 .4 .2 0-.9 .4 .2 .3-.2 0-.8 .3 .2 .1-.9 .3 .2 .3-.6 .3 .4 .3 .1 .7-.9 .6 .5 .3-.6 .6 .4 .6-.7 1.3-.3 .9-1.2 .1-.4-4.6 .8-3.9 .4-.7 2.1-1.2 2.4zM364.3 790.4l1.3-.8 .1-.5 .3-.2 .4 .2 0-.8 .4 .1 0-.8 .3 .2 0-.8 .4 .2 .3-.2 .3-.6 .6 .4 .3-.6 .3 .4 .4 0 .3-.6 .3 .4 .3 .1 .6-.8 .4 0 .1 .4 .4-.5 .6-.4 .8-1 .1-.5-4.6 .9-3.6 .3-.4 .2-.8 2.5-1.7 3.1zM396.6 770.1l.7-.2 .5-.5 .1-.5 .3-.2 .3 .1 .1-.8 .3 .2 .1-.8 .3 .2 .3-.2 0-.9 .4 .2 .3-.6 .2 .4 .4 0 .3-.6 .3 .5 .3 0 .7-.8 .3 0 .2 .4 .4-.5 .5 .3 .3-.5 .8-.3 .8-1.1 .1-.5-4.6 .9-3.9 .3-.9 2.7-1.7 3.1zM326.2 800.3l1.5-3.4 1.4-2.6-.3-.2-2.5 .7-2.2 2.8-.4 .8-.6 0-.3 .2-.5-.2-.4 .4-.3-.2-.3 .4-.7-.1-.6 .2-.2 .4-.9 0 0 .3-.3-.1-.2 .3 1.4 1.1zM390.9 759.6l1.3-3.2 1.5-2.7-.3-.2-2.4 .6-.8 1.1 0-.3-.4 .8-.3 .4-.1-.3-1 1.9-.5-.2-.4 .4-.3-.2-.3 .4-.7-.2-.9 .6-.7-.1-.2 .4-.3-.1-.8 .3-1.3 1.6 .3 .3 4.6-.9zM357.8 780l.9-.2 1-2.6 1.7-3.2-.3-.2-2.6 .8-.8 1.1-.4 .4 0-.1-1.1 1.8 0-.3-.5 .7-1.7 .3-.5-.1-.4 .4-.3-.2-.3 .4-.6-.1-.8 .3-1.4 1.8 .3 .2zM334.9 785.3l1.2-.5 3.1-3.9-5.9 2.2-3.5 3.7zM367.2 765l1.1-.4 3.2-4-5.9 2.3-3.5 3.6zM315 792l.7-.4 2.1-2.2 .2-.5-4.2 1.6-2.7 2.7 .8-.1zM347.3 771.7l.7-.3 2.1-2.3 .2-.6-4 1.6-2.9 2.8 .8-.1zM379.6 751.4l.6-.3 2.2-2.3 .2-.6-4.1 1.6-2.8 2.8 .8-.1zM326.3 779.5l1.6-.6 2.4-2.3-3.6 1.3-2.1 2.3zM358.6 759.2l1.8-.8 2.2-2.2-3.4 1.2-2.3 2.4zM307.2 787l1.3-.6 2.3-2.1-3.4 1.3-2 2.1zM339.4 766.7l1.6-.7 2.1-2-3.5 1.4-1.9 2zM371.7 746.3l1.5-.6 2.2-2-3.3 1.2-2.1 2.1zM321.3 774l1.8-1.6-.1-.3-2.5 1-1.5 1.5 .4 .1zM353.6 753.6l1.8-1.5-.1-.4-2.3 1-1.7 1.5 .4 .2zM300.7 782.3l1.7-.6 1.6-1.9-2.6 1.1-1.7 1.7zM333 762l1.9-.8 1.4-1.7-2.7 1.2-1.6 1.5zM365.3 741.7l1.8-.7 1.5-1.8-2.5 1-1.8 1.7zM313.9 769.9l1.9-.9 1-1 .4-.6-2.6 1.1-1.6 1.6zM346.2 749.6l1.8-.8 1.1-1.1 .4-.6-2.7 1.2-1.5 1.4zM296.5 777.1l1.5-1.3-.2-.3-2.2 .9-1.4 1.3 .4 .2zM361.2 736.4l1.4-1.3-.2-.3-2.1 .9-1.5 1.4 .4 .2zM326.9 757.6l2.1-1 1.3-1.2-.1-.1-2.4 .9-1.3 1.2z"/>
<path fill="#ff5500" fill-rule="evenodd" d="M350.3 819.9l.9-.4 .6-.6-.9 .4zM382.6 799.5l1.5-.9-.7 .3zM414.9 779.2l.9-.4 .6-.5-.9 .3zM362.8 807.4l1.3-.4 1-1-1.4 .6zM395.1 787.1l1.5-.6 .8-.8-1.3 .5zM343.5 815l1.3-.4 .9-.9-.2-.3-1.5 .5-.9 1zM375.8 794.7l1.4-.6 .7-.8-.1-.2-1.6 .6-.8 .8zM408.1 774.4l1.3-.5 .9-.9-.2-.3-1.4 .5-1 1zM356 802.2l1.6-.7 1.7-1.8-.5-.1-2.9 1-1.4 1.7 0 .4zM388.3 781.8l1.5-.6 1.8-1.8-.5-.1-2.7 .8-1.6 1.9 0 .4zM332.3 810.1l1.1-.3 .5-1.1 .3-.3 .3 .2 .1-.8 .3 .2 0-.8 .3 .2 .3-.6 .7 .4 .3-.6 1.2-.4 .5 .1 .1 .4 .3-.6 .8-.2 .5-1-6.2 1-2 4.2zM364.6 789.7l.9-.2 .5-.6 .3 .1 .1-.8 .3 .2 0-.8 .4 .2 0-.9 .9-.6 .4 0 .3 .5 .3-.6 .4 0 .2 .4 .3-.6 .6 .4 .3-.6 .8-.2 .5-1-6.2 1.1-1.9 4zM396.9 769.4l.7-.2 .5-.6 .4 .2 0-.8 .4-.3 0-.4 .3-.2 .4 .2 0-.8 .3 .2 .3-.6 .4 0 .2 .4 .4-.6 .6 .4 .6-.8 1.4-.1 .6-1.2-6 1-2.2 4.2zM325.3 799.5l2.4-4.4-.3-.2-1.8 .6-1.1 1.9-1 1-.6 .2-.7-.2-.3 .4-.3-.2-.4 .5-.5-.2-.9 .3-1 1.1 .4 .2zM390 758.8l2.3-4.3-.3-.2-1.7 .5-.8 1.3-.3 .4 0-.2-.4 .9-.6 .4-.4-.1-.3 .4-.3-.2-.3 .4-.6-.2-1.8 .6-1.1 1.2 .3 .2zM356.8 779.3l1.1-.3 2.1-4.2-.3-.2-1.6 .5-.7 1.1 0-.3-.4 .4 0 .5-.4 .2-.3 .8-.7 .4-.6-.2-.3 .4-.6-.2-.7 .2-.2 .4-.3-.1-.5 .4-.4-.1-.9 1 .3 .2zM335.1 784.7l.5-.3 2.1-2.6-4 1.5-2.3 2.5zM367.4 764.3l.5-.2 2.1-2.6-3.8 1.4-2.5 2.5zM313.6 792l1.5-.6 1-1 .2-.5-2.2 .8-1.3 1.4zM345.9 771.7l1.6-.7 .9-.9 .2-.6-2.3 1-1.2 1.2zM378.2 751.3l1.6-.6 .9-.9 .2-.6-2.1 .8-1.4 1.4zM326.4 778.9l1.1-.4 1-.9-1.5 .5zM358.7 758.6l1.3-.5 .8-.8-1.3 .3zM307.2 786.5l1-.4 .7-.7-1.1 .4zM339.5 766.1l1.1-.5 .6-.5-.9 .3zM371.8 745.8l1-.4 .7-.7-1 .4z"/>
<path fill="#ff0000" fill-rule="evenodd" d="M356.1 801.6l.9-.3 .7-.7-.6 0-.7 .3-.3 .3zM388.4 781.3l1.1-.4 .5-.6-1.1 .1-.5 .5zM338.2 806.2l.2-.5-3.9 .8-1.4 2.6 .6-.1 .1-.4 .3-.2 .4 .2 0-.8 .3-.2 0-.5 .7-.4 .5 0 .1 .5 .6-.8zM366.1 788.7l.5-.8 .1-.4 .3-.2 0-.4 1-.6 1.8-.4 .6 .5 .3-1-4 .9-1.3 2.4zM398.4 768.4l.4-1.1 .4-.2 .3 .2 0-.9 .7-.4 .9-.1 .6 .4 .3-.6 .9-.2 .1-.4-3.9 .7-1.4 2.6zM324.2 798.9l.5-.1 .2-.3 1.4-2.6-.4-.2-.6 .4-.1 .4-1 1 0 .4-.8 .6-.5-.2-.3 .2-.6 0-.8 .2-.1 .4-.3-.2-.6 .4 .3 .3zM356.5 778.6l.6-.3 1.5-2.7-.4-.2-.8 .4 0 .4-.3 .2-.1 .5-.6 .7 0-.3 0 .4-.4 .2-.4-.1-.2 .4-.3-.2-.5 .4-.4-.2-.9 .3-.8 .5 .3 .2zM388.8 758.2l.5-.1 1.6-2.8-.4-.2-.6 .3-.3 .6 0-.4 0 .4-.4 .1 0 .5-.3 .2 0 .4-.7 .4-1.4 .2-.1 .4-.4-.2-.9 .2-.6 .5 .3 .2zM334.1 784.4l1.1-.5 .9-1.2-2 .8-1.1 1.2zM366.3 764.1l1.1-.4 1-1.3-2.1 .9-1 1z"/></g>
<text x="287.2" y="779.1" font-size="9.85" text-anchor="end" fill="#111" font-weight="bold"  stroke="#111" stroke-width="0.28">0</text>
<text x="287.2" y="764.5" font-size="9.85" text-anchor="end" fill="#111" font-weight="bold"  stroke="#111" stroke-width="0.28">0.5</text>
<text transform="translate(269.6,771.3) rotate(-90)" y="3.5" font-size="9.85" text-anchor="middle" font-weight="bold" fill="#111" stroke="#111" stroke-width="0.28">z/µm</text>
<text transform="translate(291.7,790.1) rotate(35.9)" y="3.5" font-size="9.85" text-anchor="middle" font-weight="bold" fill="#111" stroke="#111" stroke-width="0.28">0.5</text>
<text transform="translate(321.0,811.7) rotate(35.9)" y="3.5" font-size="9.85" text-anchor="middle" font-weight="bold" fill="#111" stroke="#111" stroke-width="0.28">0</text>
<text transform="translate(321.5,826.6) rotate(37.9)" y="3.5" font-size="9.85" text-anchor="middle" font-weight="bold" fill="#111" stroke="#111" stroke-width="0.28">y/mm</text>
<text transform="translate(354.3,837.4) rotate(35.9)" y="3.5" font-size="9.85" text-anchor="middle" font-weight="bold" fill="#111" stroke="#111" stroke-width="0.28">−0.5</text>
<text transform="translate(369.7,836.9) rotate(-32.2)" y="3.5" font-size="9.85" text-anchor="middle" font-weight="bold" fill="#111" stroke="#111" stroke-width="0.28">3</text>
<text transform="translate(392.4,822.2) rotate(-32.2)" y="3.5" font-size="9.85" text-anchor="middle" font-weight="bold" fill="#111" stroke="#111" stroke-width="0.28">3.005</text>
<text transform="translate(414.4,807.9) rotate(-32.2)" y="3.5" font-size="9.85" text-anchor="middle" font-weight="bold" fill="#111" stroke="#111" stroke-width="0.28">3.01</text>
<text transform="translate(437.9,792.7) rotate(-32.2)" y="3.5" font-size="9.85" text-anchor="middle" font-weight="bold" fill="#111" stroke="#111" stroke-width="0.28">3.015</text>
<text transform="translate(424.6,819.3) rotate(-32.2)" y="3.5" font-size="9.85" text-anchor="middle" font-weight="bold" fill="#111" stroke="#111" stroke-width="0.28">x/mm</text>
<defs><linearGradient id="cbciii" x1="0" y1="0" x2="0" y2="1"><stop offset="0.0000" stop-color="#800000"/><stop offset="0.0625" stop-color="#bf0000"/><stop offset="0.1250" stop-color="#ff0000"/><stop offset="0.1875" stop-color="#ff4000"/><stop offset="0.2500" stop-color="#ff8000"/><stop offset="0.3125" stop-color="#ffbf00"/><stop offset="0.3750" stop-color="#ffff00"/><stop offset="0.4375" stop-color="#bfff40"/><stop offset="0.5000" stop-color="#80ff80"/><stop offset="0.5625" stop-color="#40ffbf"/><stop offset="0.6250" stop-color="#00ffff"/><stop offset="0.6875" stop-color="#00bfff"/><stop offset="0.7500" stop-color="#0080ff"/><stop offset="0.8125" stop-color="#0040ff"/><stop offset="0.8750" stop-color="#0000ff"/><stop offset="0.9375" stop-color="#0000bf"/><stop offset="1.0000" stop-color="#000080"/></linearGradient></defs>
<rect x="451" y="756.7" width="5.1" height="69.7" fill="url(#cbciii)"/>
<text x="458.1" y="829.5" font-size="9.85" text-anchor="start" fill="#111" font-weight="bold"  stroke="#111" stroke-width="0.28">0</text>
<text x="458.1" y="810.5" font-size="9.85" text-anchor="start" fill="#111" font-weight="bold"  stroke="#111" stroke-width="0.28">0.05</text>
<text x="458.1" y="792.2" font-size="9.85" text-anchor="start" fill="#111" font-weight="bold"  stroke="#111" stroke-width="0.28">0.10</text>
<text x="458.1" y="774.5" font-size="9.85" text-anchor="start" fill="#111" font-weight="bold"  stroke="#111" stroke-width="0.28">0.15</text>
<text x="465" y="751.8" font-size="9.85" text-anchor="middle" fill="#111" font-weight="bold"  stroke="#111" stroke-width="0.28">z/µm</text>
<circle cx="278.4" cy="728.4" r="6.1" fill="#fff" stroke="#555" stroke-width="0.8"/>
<text x="278.4" y="731.9" font-size="9.85" text-anchor="middle" fill="#111" font-weight="bold"  stroke="#111" stroke-width="0.28">iii</text>
<path d="M510.6 781.8L585.8 736.1" stroke="#cdcdcd" stroke-width="0.6" fill="none"/>
<path d="M585.8 736.1L652.6 788.3" stroke="#cdcdcd" stroke-width="0.6" fill="none"/>
<path d="M510.6 767.3L585.8 721.6" stroke="#cdcdcd" stroke-width="0.6" fill="none"/>
<path d="M585.8 721.6L652.6 773.8" stroke="#cdcdcd" stroke-width="0.6" fill="none"/>
<path d="M585.8 736.1L585.8 721.6" stroke="#cdcdcd" stroke-width="0.6" fill="none"/>
<path d="M652.6 788.3L652.6 773.8" stroke="#cdcdcd" stroke-width="0.6" fill="none"/>
<path d="M535.7 766.6L535.7 752.1" stroke="#dcdcdc" stroke-width="0.5" fill="none"/>
<path d="M608.1 753.5L608.1 739.0" stroke="#dcdcdc" stroke-width="0.5" fill="none"/>
<path d="M560.7 751.3L560.7 736.8" stroke="#dcdcdc" stroke-width="0.5" fill="none"/>
<path d="M630.3 770.9L630.3 756.4" stroke="#dcdcdc" stroke-width="0.5" fill="none"/>
<path d="M510.6 774.5L585.8 728.8" stroke="#e0e0e0" stroke-width="0.5" fill="none"/>
<path d="M585.8 728.8L652.6 781.0" stroke="#e0e0e0" stroke-width="0.5" fill="none"/>
<path d="M510.6 781.8L510.6 767.3" stroke="#4a4a4a" stroke-width="0.7" fill="none"/>
<path d="M510.6 781.8L577.4 834.0" stroke="#4a4a4a" stroke-width="0.7" fill="none"/>
<path d="M577.4 834.0L652.6 788.3" stroke="#4a4a4a" stroke-width="0.7" fill="none"/>
<g id="s_civ"><path fill="#0000aa" d="M577.4 824.5l75.2-45.7-2.3 2.4-1.1-1.7-1.1-2.6-1.2-1.1-2.2 2.3-2.3-5.5-1.1 .3-1.2 1.2-1.1-.7-1.1-2.6-1.2-1.7-1.1 1-1.1 1.4-2.3-4.1-1.1 0-1.1 .9-6.8-6-6.8-4.5-2.3-4.8-1.1-.1-1.2 .5-1.1-1.4-2.3-5-1.1 .4-1.1 .8-1.2-1.2-2.2-5.1-2.3 1.3-1.1-1.2-2.3-5.2-2.2 1.3-1.2-1.1-2.2-5.3-2.3 1.4-1.1-1-2.3-5.5-75.2 45.7 2.3 5.5 1.1 1 2.3-1.4 2.2 5.3 1.2 1.1 2.2-1.3 2.3 5.2 1.1 1.2 2.3-1.3 2.2 5.1 1.2 4 1.1 1.3 3.4-1.3 1.1 1 2.3 6 1.1 1.1 17 13.2 1.2-.8 1.1-1.6 1.1 .4 3.4 6.7 1.1 .8 1.2-4.9 1.1-.3 2.3 5.5 2.2-2.3 1.2 1.1 1.1 2.6 1.1 1.7 2.3-2.4z"/>
<path fill="#0000ff" fill-rule="evenodd" d="M577.4 824.5l75.2-45.7-1.7 1.6-.8 1.3-1.7-4-1.1-2.1-1.7 1.5-.8 1.4-.9-2.5-1.6-3.7-.9 .5-1.7 1.9-.2 0-1.2-2.9-1.4-2.8-1.6 1.4-.9 1.2-1.4-2.9-1.1-1.7-.3-.1-1.6 1.4-.3-.2-6.7-6-6.7-4.4-2.3-4.7-1.1-.1-.8 .3-.6 .5-.3-.2-2.8-6.5-1.6 .7-1.2 1.1-2.8-6.9-1.6 .7-1.1 1.2-2.8-6.8-.3-.2-1.1 .6-1.4 1.3-.3-.2-1.4-3.8-1.4-3-1.7 1-1.1 1.1-2.8-7.2-75.2 45.7 2.8 7.2 1.1-1.1 1.7-1 1.4 3 1.4 3.8 .3 .2 1.4-1.3 1.1-.6 .3 .2 2.8 6.8 1.1-1.2 1.6-.7 2.3 5.2 1.1 4.2 6.1-2.4 .7-.1 1.1-.6 .8-.1 .7-.5 1.2-.2 .7-.5 .8 0 .7-.5 .7-.3 .5 .1 .7-.5 1.2-.2 1.1-.8 .4 .2 1.4-.8 .4 0 1.4-.7 .5-.1 12.9-5.3 14.2-5 11.7-4.6 6.9-2.4 9.1-2.9 6.4-1.7 4.1-.5 1.7 .4 .4 1-.6 1.9-1.7 2.6-2.6 3.2-8.1 8.5-6.8 6.5-9.7 9.6-10.4 9.4-1 1.1-.7 .4-.5 .8-.5 .2-11.9 11.3 .7-4.2 .2-.6 .9-.7 .3 0 1.6 3.7 .9 2.5 .8-1.4 1.7-1.5 1.1 2.1 1.7 4 .8-1.3zM563.4 822l.3 .5 12.2-11.5 15.6-14.9 11-11.1 5-5.4 2.8-3.7 1.3-2.7-.1-.8-.4-.5-.7-.4-1-.1-3.2 .3-5.2 1.3-7.6 2.3-22.7 8.1-38.4 14.5 3.7-1.5 .3 .3 2.1 6 18.5-6.8 12.7-4.2 7.6-1.9 2.8-.2 1.2 .5 .4 .9-.4 1.4-1.1 1.9-2.3 2.9-7.5 8-12.7 12.5 1.1-1.2 1.1-1.7z"/>
<path fill="#0055ff" fill-rule="evenodd" d="M577.4 824.5l75.2-45.7-1.7 1.6-.8 1.3-1.7-4-1.1-2.1-1.7 1.5-.8 1.4-.9-2.5-1.6-3.7-.9 .5-1.7 1.9-.2 0-1.2-2.9-1.4-2.8-1.6 1.4-.9 1.2-1.4-2.9-1.1-1.7-.3-.1-1.6 1.4-.3-.2-6.7-6-6.7-4.4-2.3-4.7-1.1-.1-.8 .3-.6 .5-.3-.2-2.8-6.5-1.6 .7-1.2 1.1-2.8-6.9-1.6 .7-1.1 1.2-2.8-6.8-.3-.2-1.1 .6-1.4 1.3-.3-.2-1.4-3.8-1.4-3-1.7 1-1.1 1.1-2.8-7.2-75.2 45.7 2.8 7.2 1.1-1.1 1.7-1 1.4 3 1.4 3.8 .3 .2 1.4-1.3 1.1-.6 .3 .2 2.8 6.8 1.1-1.2 1.6-.7 2.3 5.2 .9 3.1 17-6.3 16.7-6.9 .6 0 1.5-.8 15.4-5.4 14.2-5.5 10.3-3.3 7-2 4.3-.7 1.7 .2 .7 .3 .4 .6-.1 1.2-1.9 3.3-3.9 4.8-6.9 7.3-7.5 6.8-6.9 6.8-1.8 2.2-3.5 2.9-9.6 8.6-7.7 7.5-2 2.2-3.7 3 .6-3.4 .2-.6 .9-.7 .3 0 1.6 3.7 .9 2.5 .8-1.4 1.7-1.5 1.1 2.1 1.7 4 .8-1.3zM562.9 820.9l21.9-20.8 14.2-14.3 3.8-4.3 2.8-3.6 1.1-2.2 .1-.8-.3-.7-1.3-.7-3.3 .2-4.8 1-6.5 2-21.2 7.4-36.3 13.6 2.9-1.3 .3 .3 1.6 4.8 20-7.4 14.3-4.8 7.6-1.9 2.9-.2 1.3 .4 .3 .9-.7 1.9-1.4 2.1-2.5 3.1-7.9 8.3-13.7 13.3 1.7-2.4z"/>
<path fill="#00aaff" fill-rule="evenodd" d="M577.4 824.5l75.2-45.7-1.7 1.6-.8 1.3-1.7-4-1.1-2.1-1.7 1.5-.8 1.4-.9-2.5-1.6-3.7-.9 .5-1.7 1.9-.2 0-1.2-2.9-1.4-2.8-1.6 1.4-.9 1.2-41.7 25.3-13.3 11.7-6.7 6.5-2.6 3.1-.8 .4-4.1 3.4 .5-2.7 .2-.6 .9-.7 .3 0 1.6 3.7 .9 2.5 .8-1.4 1.7-1.5 1.1 2.1 1.7 4 .8-1.3zM562 819.3l.2 .3 15.6-14.9 17.2-17.3 3.7-4.2 2.7-3.6 1.1-2.2 0-.8-.2-.6-1.4-.7-2.6 0-4.4 .9-6.5 1.8-19.9 6.9-33.7 12.6 2.2-1.1 .3 .3 1.2 3.6 22.6-8.4 14.4-4.9 7.7-1.9 2.9-.2 1.3 .4 .3 1-.8 2-1.9 2.7-2.7 3.2-6.8 7.1-10.4 10.2-5.6 5.3 1.3-2zM593.7 796l.4 .3 40.3-24.6-1.1-2.5-1.4-2.2-.3-.1-1.5 1.3-20.4 12.4-8.5 7.4-5.8 5.9zM615 774.8l13.3-8-5-4.4-5.2-3.6-12.9 7.9 1.3-.3 2-.8 .9 0 .3-.3 6.9-1.5 3-.3 1.8 .5 .3 .6 .1 .7-.9 2.1-1.9 2.7-3.3 4 0 .3zM594.1 770.5l21.9-13.3-2-4.2-1.6 .1-43.9 26.7 .2 .3 1.2-.3 10.5-3.7zM563.5 782.1l2.7-1.3 45-27.4-2.8-6.4-1.6 .7-1.2 1.1-2.8-6.9-1.6 .7-1.1 1.2-2.8-6.8-.3-.2-1.1 .6-1.4 1.3-.3-.2-1.4-3.8-1.4-3-1.7 1-1.1 1.1-2.8-7.2-75.2 45.7 2.8 7.2 1.1-1.1 1.7-1 1.4 3 1.4 3.8 .3 .2 1.4-1.3 1.1-.6 .3 .2 2.8 6.8 1.1-1.2 1.6-.7 2 4.4 .8 2.7 .4 .1 3.6-1.2 11.3-4.2z"/>
<path fill="#00ffff" fill-rule="evenodd" d="M577.4 824.5l75.2-45.7-1.7 1.6-.8 1.3-1.7-4-1.1-2.1-1.7 1.5-.8 1.4-.9-2.5-1.6-3.7-.9 .5-1.7 1.9-.2 0-1.2-2.9-1.4-2.8-2.1 2-43.4 26.3-11.6 10.3-6.4 6.3-1.1 1.2-.6 1.2-1.7 1-4.6 4 .5-2.6 .9-.7 .3 0 1.6 3.7 .9 2.5 .8-1.4 1.7-1.5 1.1 2.1 1.7 4 .8-1.3zM561.5 818.2l18.3-17.6 12.3-12.6 3.5-4.1 2-2.8 1-2.1 0-.8-.3-.6-1.3-.8-2.5 0-4 .8-6.1 1.7-18.8 6.3-31.1 11.6 1.5-.8 .3 .3 .8 2.5 23.5-8.8 14.7-5.1 9.1-2.4 2.9-.2 1.3 .4 .3 1-.8 2-1.9 2.7-3 3.5-6.3 6.5-8.7 8.5-9.3 8.9 .9-1.4zM596 792.9l.7 0 37.1-22.6-1.6-2.9-.6-.5-1 .9-22.9 13.9-5.8 5.1zM591 770.7l24.5-14.7-1.2-2.7-.3-.3-.5-.1-1.4 .3-41 24.9 .8-.4 .4 .1 8.9-3 8.2-3.3 1.1-.8zM562.3 781.6l48.5-29.3-2.4-5.3-1.6 .7-.9 .8-73 44.3 .7-.4 .4 .2 1.3-.4 11-4zM530.2 793.6l0 .1 1-.5 74.2-45.1-2.6-6.2-1.6 .7-1.1 1.2-2.8-6.8-.3-.2-1.1 .6-1.4 1.3-.3-.2-1.4-3.8-1.4-3-1.7 1-1.1 1.1-2.8-7.2-75.2 45.7 2.8 7.2 1.1-1.1 1.7-1 1.4 3 1.4 3.8 .3 .2 1.4-1.3 1.1-.6 .3 .2 2.8 6.8 1.1-1.2 1.6-.7z"/>
<path fill="#55ffaa" fill-rule="evenodd" d="M577.4 824.5l75.2-45.7-1.7 1.6-.8 1.3-1.7-4-1.1-2.1-1.4 1.2-1 1.3-51.2 31.2-24 14.5 1-1.3 1.4-1.2 1.1 2.1 1.7 4 .8-1.3zM569.3 823.2l.1 .3 75.2-45.7-2.3-5.5-.9 .5-1.4 1.5-71 43-3.5 3.2 .4-1.8 .9-.7 .3 0 .2 .6zM574 812.9l.6-.1 64.5-39.2-2.2-4.6-1.7 1.5-46.1 28-8.7 7.8zM560.6 816.4l.2 .5 10.1-9.7 10.6-10.6 7-7.3 3.5-4 1.9-2.8 1-2.1 0-.8-.3-.6-1.3-.8-2.5 0-3.7 .7-5.7 1.5-17.7 5.9-28.5 10.5 .8-.4 .7 1.7 24.3-9.2 16.4-5.6 9-2.4 3-.3 1.3 .4 .3 1-.5 1.5-1.2 1.8-2.2 2.8-4.9 5.3-7.6 7.6-15.3 14.7 .5-.9zM598.6 789.8l.3 0 34.3-20.9-.7-1.1-.9-.9-25.8 15.8-3 2.6zM587.7 771.1l27.2-16.4-.6-1.4-.3-.3-1.3 0-36.5 22.2-.2 .3 1.2-.8 .3 .3 .9-.5 .5 0 1.5-.5 5.6-2.1 1-.8zM558.8 782.1l1.1-.7 1-.3 49.4-30-1.9-4.1-1.6 .7-70.5 42.9 .7-.5 .4-.1 .2 .3 9.3-3.3 10.5-4.2 1-.7zM529.6 792l.2 .7 75.2-45.7-2.2-5.1-1.3 .6-1.1 .8-75.2 45.7 .8-.7 1.6-.7zM524.3 788l.1 .4 75.2-45.7-2.3-5.7-.3-.2-1.1 .6-1.4 1.3-.3-.2-1.4-3.8-1.4-3-1.7 1-1.1 1.1-2.8-7.2-75.2 45.7 2.8 7.2 1.1-1.1 1.7-1 1.4 3 1.4 3.8 .3 .2 1.4-1.3 1.1-.6 .3 .2z"/>
<path fill="#aaff55" fill-rule="evenodd" d="M577.4 824.5l75.2-45.7-1.4 1.3-1 1.3-44.6 27.2-30.6 18.5 1-1.3zM574.3 826.1l.2 .7 75.2-45.7-2.1-5.2-.3-.3-2 2-75.2 45.7 2-2zM569 822.4l75.2-45.6-1.9-4.5-.3 0-1.6 1.5-72.9 44.2-1.9 1.8 .3-1.1 .9-.7 .3 0zM576.4 809.8l.9-.1 61.3-37.3-1.7-3.4-1.2 1.1-48.1 29.1-6.6 5.9zM560.1 815.3l.1 .3 17.1-16.8-.4-.1-17.1 16.1zM602.9 784.7l.6 0 28.6-17.4-.5-.4-27.3 16.7zM577 798.6l.3 .2 1-1-.4-.1zM578 797.6l.5-.1 .7-.6-.3-.1zM562.9 787l1.2-.8-2.7 1-25.6 9.3 .2-.1 .4 .6 17.3-6.6 .7-.5 .8-.1 .7-.4 .4 0 1.5-.8 .2 .2 .6-.3 .7-.5 .3 .2 .5-.2 .7-.6 .4 .2 .5-.2 1-.7zM584.6 771.4l29.7-18.1-.5-.3-24.6 14.9-6.6 4 .2 .3 1.1-.8zM555.4 782.6l1.1-.8 1.1-.2 52.2-31.7-1.4-2.9-1.5 .6-67 40.8 1.2-.8 .2 .4 1-.6 .5 .1 4.7-1.7 4.7-1.8 .7-.5 1.1-.3 .7-.6zM529.3 791.4l75.3-45.6-1.8-3.9-1.3 .6-75.5 45.8 1.6-.7zM524 787.3l75.2-45.7-1.9-4.6-.3-.2-1.1 .6-75.5 45.8 1.4-.7 .3 .2zM518.4 782.5l.2 .6 75.2-45.7-2.1-5.3-.3-.4-1.1 .6-1.4 1.2-75.2 45.7 1.1-1 1.4-.8zM513.1 778.5l.1 .3 75.2-45.7-2.6-6.5-75.2 45.7z"/>
<path fill="#ffff00" fill-rule="evenodd" d="M577.4 824.5l75.2-45.7-2 2.1-44.7 27.1-30.5 18.6zM574 825.4l.1 .2 75.2-45.7-1.7-4-.3-.3-1.6 1.5-75.2 45.7 1.6-1.5zM568.5 821l0 .2 75.2-45.7-1.4-3.2-.3 0-1.2 1-74.8 45.5 .8-.8 .3 0zM578.9 806.7l.6-.1 58.5-35.5-1.1-2.1-51.5 31.4-3.8 3.4-1.8 1.9-.1-.2zM552 783l1.1-.7 1.1-.3 55-33.4-.5-1.1-.3-.5-.8 .3-62.6 38.1 0 .3 1-.9 .5 .4 1.1-.7 .5 .1 1.4-.9 .5 .2 .6-.3 .7-.7 .3-.1zM528.8 790.1l0 .1 75.2-45.7-1.2-2.6-1.4 .6-75.2 45.7 1.4-.6zM523.5 785.9l0 .2 75.2-45.7-1.4-3.4-.3-.2-1.1 .6-75.5 45.8 1.4-.7 .3 .2zM518.1 781.7l.1 .2 75.2-45.7-1.7-4.1-.3-.4-1.1 .6-75.5 45.9 1.4-.8zM512.8 777.7l75.2-45.7-2.2-5.4-75.2 45.7z"/>
<path fill="#ffaa00" fill-rule="evenodd" d="M577.4 824.5l75.2-45.7-1.6 1.6-44.7 27.1-30.5 18.6zM573.5 824l.2 .4 75.2-45.7-1.3-2.8-.3-.3-1.2 1-44.6 27.1-30.6 18.6 1.2-1zM567.9 819.8l.1 .2 75.2-45.7-.9-2-.3 0-75.2 45.7 .3 0zM581.4 803.5l.3 .1 55.7-33.9-.5-.7-53.8 32.7zM548.8 783.3l59.8-36.2-.2 0zM528.2 788.8l75.3-45.6-.7-1.3-.7 .3-75.2 45.7 .7-.3zM522.9 784.6l.1 .2 75.2-45.7-.9-2.1-.3-.2-1.1 .5-75.2 45.7 1.1-.5 .3 .2zM517.6 780.4l.1 .3 75.2-45.7-1.2-2.9-.3-.4-1.1 .6-75.5 45.9 1.4-.8zM512.3 776.2l.1 .3 75.2-45.7-1.8-4.2-75.2 45.7z"/>
<path fill="#ff5500" fill-rule="evenodd" d="M577.4 824.5l75.2-45.7-1.2 1.1-51.3 31.1-23.9 14.6zM572.9 822.7l.2 .5 75.2-45.7-.7-1.6-.3-.3-75.2 45.7zM567.3 818.6l75.3-45.6-.3-.7-.3 0-75.2 45.7 .3 0zM522.3 783.3l.2 .3 75.2-45.7-.4-.9-.3-.2-.4 .2-75.2 45.7 .4-.2 .3 .2zM517 779.1l.2 .4 75.2-45.7-.7-1.7-.3-.4-1 .5-75.2 45.7 1-.5zM511.7 774.9l.2 .4 75.2-45.7-1.3-3-75.2 45.7z"/>
<path fill="#ff0000" fill-rule="evenodd" d="M577.4 824.5l75.2-45.7-45.4 27.8-30.5 18.5zM572.4 821.6l.1 .2 23.9-14.5 51.3-31.2-.1-.2-.3-.3-75.2 45.7zM516.5 777.8l.1 .4 24-14.5 51.2-31.2-.1-.4-.3-.4-.3 .2-58.6 35.5-16.6 10.2 .3-.2zM511.2 773.6l.2 .5 75.2-45.7-.8-1.8-75.2 45.7z"/>
<path fill="#aa0000" fill-rule="evenodd" d="M510.6 772.3l.2 .5 23.9-14.5 51.3-31.2-.2-.5z"/></g>
<text x="508.40000000000003" y="782.2" font-size="9.85" text-anchor="end" fill="#111" font-weight="bold"  stroke="#111" stroke-width="0.28">0</text>
<text x="508.40000000000003" y="769.1" font-size="9.85" text-anchor="end" fill="#111" font-weight="bold"  stroke="#111" stroke-width="0.28">0.5</text>
<text transform="translate(487.9,774.7) rotate(-90)" y="3.5" font-size="9.85" text-anchor="middle" font-weight="bold" fill="#111" stroke="#111" stroke-width="0.28">z/µm</text>
<text transform="translate(511.1,792.4) rotate(36.0)" y="3.5" font-size="9.85" text-anchor="middle" font-weight="bold" fill="#111" stroke="#111" stroke-width="0.28">0.5</text>
<text transform="translate(540.4,814.1) rotate(36.0)" y="3.5" font-size="9.85" text-anchor="middle" font-weight="bold" fill="#111" stroke="#111" stroke-width="0.28">0</text>
<text transform="translate(540.9,829.0) rotate(38.0)" y="3.5" font-size="9.85" text-anchor="middle" font-weight="bold" fill="#111" stroke="#111" stroke-width="0.28">y/mm</text>
<text transform="translate(573.1,839.1) rotate(36.0)" y="3.5" font-size="9.85" text-anchor="middle" font-weight="bold" fill="#111" stroke="#111" stroke-width="0.28">−0.5</text>
<text transform="translate(588.6,836.9) rotate(-31.3)" y="3.5" font-size="9.85" text-anchor="middle" font-weight="bold" fill="#111" stroke="#111" stroke-width="0.28">3</text>
<text transform="translate(611.2,822.6) rotate(-31.3)" y="3.5" font-size="9.85" text-anchor="middle" font-weight="bold" fill="#111" stroke="#111" stroke-width="0.28">3.005</text>
<text transform="translate(633.1,808.8) rotate(-31.3)" y="3.5" font-size="9.85" text-anchor="middle" font-weight="bold" fill="#111" stroke="#111" stroke-width="0.28">3.01</text>
<text transform="translate(656.6,794.0) rotate(-31.3)" y="3.5" font-size="9.85" text-anchor="middle" font-weight="bold" fill="#111" stroke="#111" stroke-width="0.28">3.015</text>
<text transform="translate(643.3,820.6) rotate(-31.3)" y="3.5" font-size="9.85" text-anchor="middle" font-weight="bold" fill="#111" stroke="#111" stroke-width="0.28">x/mm</text>
<defs><linearGradient id="cbciv" x1="0" y1="0" x2="0" y2="1"><stop offset="0.0000" stop-color="#800000"/><stop offset="0.0625" stop-color="#bf0000"/><stop offset="0.1250" stop-color="#ff0000"/><stop offset="0.1875" stop-color="#ff4000"/><stop offset="0.2500" stop-color="#ff8000"/><stop offset="0.3125" stop-color="#ffbf00"/><stop offset="0.3750" stop-color="#ffff00"/><stop offset="0.4375" stop-color="#bfff40"/><stop offset="0.5000" stop-color="#80ff80"/><stop offset="0.5625" stop-color="#40ffbf"/><stop offset="0.6250" stop-color="#00ffff"/><stop offset="0.6875" stop-color="#00bfff"/><stop offset="0.7500" stop-color="#0080ff"/><stop offset="0.8125" stop-color="#0040ff"/><stop offset="0.8750" stop-color="#0000ff"/><stop offset="0.9375" stop-color="#0000bf"/><stop offset="1.0000" stop-color="#000080"/></linearGradient></defs>
<rect x="670.3" y="759.1" width="5.1" height="68.9" fill="url(#cbciv)"/>
<text x="677.4" y="831.1" font-size="9.85" text-anchor="start" fill="#111" font-weight="bold"  stroke="#111" stroke-width="0.28">0</text>
<text x="677.4" y="816.5" font-size="9.85" text-anchor="start" fill="#111" font-weight="bold"  stroke="#111" stroke-width="0.28">0.1</text>
<text x="677.4" y="802.1" font-size="9.85" text-anchor="start" fill="#111" font-weight="bold"  stroke="#111" stroke-width="0.28">0.2</text>
<text x="677.4" y="787.8" font-size="9.85" text-anchor="start" fill="#111" font-weight="bold"  stroke="#111" stroke-width="0.28">0.3</text>
<text x="677.4" y="772.9" font-size="9.85" text-anchor="start" fill="#111" font-weight="bold"  stroke="#111" stroke-width="0.28">0.4</text>
<text x="682.8" y="752.6999999999999" font-size="9.85" text-anchor="middle" fill="#111" font-weight="bold"  stroke="#111" stroke-width="0.28">z/µm</text>
<circle cx="525" cy="732" r="6.1" fill="#fff" stroke="#555" stroke-width="0.8"/>
<text x="525" y="735.5" font-size="9.85" text-anchor="middle" fill="#111" font-weight="bold"  stroke="#111" stroke-width="0.28">iv</text>
<path d="M278 416.6H677" stroke="#555" stroke-width="0.9" stroke-dasharray="1 1.06" fill="none"/>
<path d="M272 712.2H671" stroke="#555" stroke-width="0.9" stroke-dasharray="1 1.06" fill="none"/>
</svg></body></html>
